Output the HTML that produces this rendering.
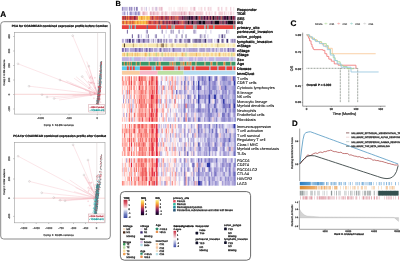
<!DOCTYPE html>
<html><head><meta charset="utf-8"><style>
html,body{margin:0;padding:0;background:#fff;width:400px;height:263px;overflow:hidden;}
svg{display:block;font-family:"Liberation Sans",sans-serif;filter:blur(0.5px);text-rendering:geometricPrecision;}
</style></head><body><svg width="400" height="263" viewBox="0 0 400 263" font-family="Liberation Sans, sans-serif"><text x="0.3" y="17.2" font-size="8.2" fill="#000" font-weight="bold" text-anchor="start" stroke="#000" stroke-width="0.16">A</text><text x="115.6" y="6.0" font-size="7.4" fill="#000" font-weight="bold" text-anchor="start" stroke="#000" stroke-width="0.16">B</text><text x="290.6" y="26.1" font-size="8.2" fill="#000" font-weight="bold" text-anchor="start" stroke="#000" stroke-width="0.16">C</text><text x="291.9" y="126.0" font-size="7.9" fill="#000" font-weight="bold" text-anchor="start" stroke="#000" stroke-width="0.16">D</text><rect x="0.7" y="21.7" width="109.6" height="217.3" rx="3" fill="none" stroke="#8a8a8a" stroke-width="1"/><text x="59.6" y="27.3" font-size="3.08" fill="#000" font-weight="bold" text-anchor="middle" stroke="#000" stroke-width="0.2">PCA for COADREAD combined expression profile before ComBat</text><rect x="14.3" y="32.6" width="91.10000000000001" height="81.5" fill="#fff" stroke="#9c9c9c" stroke-width="0.6"/><line x1="14.3" y1="94.3" x2="105.4" y2="94.3" stroke="#f0a4a4" stroke-width="0.45"/><line x1="97.6" y1="32.6" x2="97.6" y2="114.1" stroke="#d4c8c8" stroke-width="0.45"/><path d="M97.6 94.3L72.7 35.7M97.6 94.3L18 63.8M97.6 94.3L29 86.2M97.6 94.3L42 94.7M97.6 94.3L54.1 98.5M97.6 94.3L88.8 66.1M97.6 94.3L82.2 76.6M97.6 94.3L60 80M97.6 94.3L47 97M97.6 94.3l-21.4 -17.5M97.6 94.3l-25.0 1.4M97.6 94.3l-23.5 -16.0M97.6 94.3l-11.8 -23.5M97.6 94.3l-31.4 -13.5M97.6 94.3l-6.5 -19.4M97.6 94.3l-10.8 -32.9M97.6 94.3l-12.6 -4.0M97.6 94.3l-38.6 5.7M97.6 94.3l-27.3 -10.5" stroke="#f2b8be" stroke-width="0.35" fill="none"/><path d="M71.8 35.7a0.9 0.9 0 1 0 1.8 0a0.9 0.9 0 1 0 -1.8 0M17.1 63.8a0.9 0.9 0 1 0 1.8 0a0.9 0.9 0 1 0 -1.8 0M28.1 86.2a0.9 0.9 0 1 0 1.8 0a0.9 0.9 0 1 0 -1.8 0M41.1 94.7a0.9 0.9 0 1 0 1.8 0a0.9 0.9 0 1 0 -1.8 0M53.2 98.5a0.9 0.9 0 1 0 1.8 0a0.9 0.9 0 1 0 -1.8 0M87.9 66.1a0.9 0.9 0 1 0 1.8 0a0.9 0.9 0 1 0 -1.8 0M81.3 76.6a0.9 0.9 0 1 0 1.8 0a0.9 0.9 0 1 0 -1.8 0M59.1 80.0a0.9 0.9 0 1 0 1.8 0a0.9 0.9 0 1 0 -1.8 0M46.1 97.0a0.9 0.9 0 1 0 1.8 0a0.9 0.9 0 1 0 -1.8 0" fill="none" stroke="#a09a9a" stroke-width="0.3" stroke-opacity="0.9"/><path d="M90.0 76.7a0.5 0.5 0 1 0 1.0 0a0.5 0.5 0 1 0 -1.0 0M94.4 77.8a0.5 0.5 0 1 0 1.0 0a0.5 0.5 0 1 0 -1.0 0M90.4 82.6a0.5 0.5 0 1 0 1.0 0a0.5 0.5 0 1 0 -1.0 0M88.5 88.4a0.5 0.5 0 1 0 1.0 0a0.5 0.5 0 1 0 -1.0 0M93.4 98.2a0.5 0.5 0 1 0 1.0 0a0.5 0.5 0 1 0 -1.0 0M94.3 92.9a0.5 0.5 0 1 0 1.0 0a0.5 0.5 0 1 0 -1.0 0M94.1 93.5a0.5 0.5 0 1 0 1.0 0a0.5 0.5 0 1 0 -1.0 0M93.6 83.5a0.5 0.5 0 1 0 1.0 0a0.5 0.5 0 1 0 -1.0 0M100.1 102.2a0.5 0.5 0 1 0 1.0 0a0.5 0.5 0 1 0 -1.0 0M98.2 94.7a0.5 0.5 0 1 0 1.0 0a0.5 0.5 0 1 0 -1.0 0M91.9 82.3a0.5 0.5 0 1 0 1.0 0a0.5 0.5 0 1 0 -1.0 0M91.6 78.1a0.5 0.5 0 1 0 1.0 0a0.5 0.5 0 1 0 -1.0 0M97.3 86.7a0.5 0.5 0 1 0 1.0 0a0.5 0.5 0 1 0 -1.0 0M98.3 86.3a0.5 0.5 0 1 0 1.0 0a0.5 0.5 0 1 0 -1.0 0M99.6 98.3a0.5 0.5 0 1 0 1.0 0a0.5 0.5 0 1 0 -1.0 0M88.1 81.8a0.5 0.5 0 1 0 1.0 0a0.5 0.5 0 1 0 -1.0 0M99.0 88.5a0.5 0.5 0 1 0 1.0 0a0.5 0.5 0 1 0 -1.0 0M99.9 86.6a0.5 0.5 0 1 0 1.0 0a0.5 0.5 0 1 0 -1.0 0M89.0 92.7a0.5 0.5 0 1 0 1.0 0a0.5 0.5 0 1 0 -1.0 0M97.4 83.3a0.5 0.5 0 1 0 1.0 0a0.5 0.5 0 1 0 -1.0 0M89.1 84.9a0.5 0.5 0 1 0 1.0 0a0.5 0.5 0 1 0 -1.0 0M99.7 96.0a0.5 0.5 0 1 0 1.0 0a0.5 0.5 0 1 0 -1.0 0M89.5 82.7a0.5 0.5 0 1 0 1.0 0a0.5 0.5 0 1 0 -1.0 0M89.3 77.9a0.5 0.5 0 1 0 1.0 0a0.5 0.5 0 1 0 -1.0 0M97.7 80.9a0.5 0.5 0 1 0 1.0 0a0.5 0.5 0 1 0 -1.0 0M94.8 87.9a0.5 0.5 0 1 0 1.0 0a0.5 0.5 0 1 0 -1.0 0M90.4 95.3a0.5 0.5 0 1 0 1.0 0a0.5 0.5 0 1 0 -1.0 0M89.7 93.0a0.5 0.5 0 1 0 1.0 0a0.5 0.5 0 1 0 -1.0 0M89.5 87.2a0.5 0.5 0 1 0 1.0 0a0.5 0.5 0 1 0 -1.0 0M90.7 83.3a0.5 0.5 0 1 0 1.0 0a0.5 0.5 0 1 0 -1.0 0" fill="none" stroke="#e88090" stroke-width="0.3" stroke-opacity="0.8"/><path d="M100.75 61L101.55000000000001 61L101.05000000000001 82L99.35 82Z" fill="#667070" fill-opacity="0.65"/><path d="M100.5 81.4a0.45 0.45 0 1 0 0.9 0a0.45 0.45 0 1 0 -0.9 0M99.2 79.6a0.45 0.45 0 1 0 0.9 0a0.45 0.45 0 1 0 -0.9 0M100.2 78.9a0.45 0.45 0 1 0 0.9 0a0.45 0.45 0 1 0 -0.9 0M99.1 81.8a0.45 0.45 0 1 0 0.9 0a0.45 0.45 0 1 0 -0.9 0M99.6 77.2a0.45 0.45 0 1 0 0.9 0a0.45 0.45 0 1 0 -0.9 0M100.0 62.5a0.45 0.45 0 1 0 0.9 0a0.45 0.45 0 1 0 -0.9 0M100.6 66.1a0.45 0.45 0 1 0 0.9 0a0.45 0.45 0 1 0 -0.9 0M101.1 70.5a0.45 0.45 0 1 0 0.9 0a0.45 0.45 0 1 0 -0.9 0M100.9 73.1a0.45 0.45 0 1 0 0.9 0a0.45 0.45 0 1 0 -0.9 0M100.1 79.5a0.45 0.45 0 1 0 0.9 0a0.45 0.45 0 1 0 -0.9 0M100.8 66.0a0.45 0.45 0 1 0 0.9 0a0.45 0.45 0 1 0 -0.9 0M100.1 78.3a0.45 0.45 0 1 0 0.9 0a0.45 0.45 0 1 0 -0.9 0M100.9 64.7a0.45 0.45 0 1 0 0.9 0a0.45 0.45 0 1 0 -0.9 0M99.7 65.3a0.45 0.45 0 1 0 0.9 0a0.45 0.45 0 1 0 -0.9 0M99.4 70.4a0.45 0.45 0 1 0 0.9 0a0.45 0.45 0 1 0 -0.9 0M100.5 68.7a0.45 0.45 0 1 0 0.9 0a0.45 0.45 0 1 0 -0.9 0M100.5 74.8a0.45 0.45 0 1 0 0.9 0a0.45 0.45 0 1 0 -0.9 0M99.8 63.9a0.45 0.45 0 1 0 0.9 0a0.45 0.45 0 1 0 -0.9 0M100.9 61.4a0.45 0.45 0 1 0 0.9 0a0.45 0.45 0 1 0 -0.9 0M100.9 77.7a0.45 0.45 0 1 0 0.9 0a0.45 0.45 0 1 0 -0.9 0M100.4 73.0a0.45 0.45 0 1 0 0.9 0a0.45 0.45 0 1 0 -0.9 0M100.4 73.2a0.45 0.45 0 1 0 0.9 0a0.45 0.45 0 1 0 -0.9 0M101.0 62.8a0.45 0.45 0 1 0 0.9 0a0.45 0.45 0 1 0 -0.9 0M100.1 73.6a0.45 0.45 0 1 0 0.9 0a0.45 0.45 0 1 0 -0.9 0M100.0 75.7a0.45 0.45 0 1 0 0.9 0a0.45 0.45 0 1 0 -0.9 0M99.3 80.3a0.45 0.45 0 1 0 0.9 0a0.45 0.45 0 1 0 -0.9 0M100.7 67.3a0.45 0.45 0 1 0 0.9 0a0.45 0.45 0 1 0 -0.9 0M101.2 64.6a0.45 0.45 0 1 0 0.9 0a0.45 0.45 0 1 0 -0.9 0M101.0 70.3a0.45 0.45 0 1 0 0.9 0a0.45 0.45 0 1 0 -0.9 0M99.4 75.0a0.45 0.45 0 1 0 0.9 0a0.45 0.45 0 1 0 -0.9 0M100.5 69.1a0.45 0.45 0 1 0 0.9 0a0.45 0.45 0 1 0 -0.9 0M99.9 66.8a0.45 0.45 0 1 0 0.9 0a0.45 0.45 0 1 0 -0.9 0M99.9 66.8a0.45 0.45 0 1 0 0.9 0a0.45 0.45 0 1 0 -0.9 0M100.1 74.1a0.45 0.45 0 1 0 0.9 0a0.45 0.45 0 1 0 -0.9 0M101.0 78.6a0.45 0.45 0 1 0 0.9 0a0.45 0.45 0 1 0 -0.9 0M101.0 61.9a0.45 0.45 0 1 0 0.9 0a0.45 0.45 0 1 0 -0.9 0M100.9 67.5a0.45 0.45 0 1 0 0.9 0a0.45 0.45 0 1 0 -0.9 0M100.5 63.9a0.45 0.45 0 1 0 0.9 0a0.45 0.45 0 1 0 -0.9 0M99.3 78.4a0.45 0.45 0 1 0 0.9 0a0.45 0.45 0 1 0 -0.9 0M100.9 62.0a0.45 0.45 0 1 0 0.9 0a0.45 0.45 0 1 0 -0.9 0M100.2 81.1a0.45 0.45 0 1 0 0.9 0a0.45 0.45 0 1 0 -0.9 0M99.6 71.0a0.45 0.45 0 1 0 0.9 0a0.45 0.45 0 1 0 -0.9 0M100.7 70.9a0.45 0.45 0 1 0 0.9 0a0.45 0.45 0 1 0 -0.9 0M100.2 66.7a0.45 0.45 0 1 0 0.9 0a0.45 0.45 0 1 0 -0.9 0M100.5 63.7a0.45 0.45 0 1 0 0.9 0a0.45 0.45 0 1 0 -0.9 0M99.5 80.1a0.45 0.45 0 1 0 0.9 0a0.45 0.45 0 1 0 -0.9 0M100.5 70.7a0.45 0.45 0 1 0 0.9 0a0.45 0.45 0 1 0 -0.9 0M100.7 76.2a0.45 0.45 0 1 0 0.9 0a0.45 0.45 0 1 0 -0.9 0M100.9 81.6a0.45 0.45 0 1 0 0.9 0a0.45 0.45 0 1 0 -0.9 0M99.5 79.0a0.45 0.45 0 1 0 0.9 0a0.45 0.45 0 1 0 -0.9 0M101.1 62.3a0.45 0.45 0 1 0 0.9 0a0.45 0.45 0 1 0 -0.9 0M100.9 68.0a0.45 0.45 0 1 0 0.9 0a0.45 0.45 0 1 0 -0.9 0M101.1 71.3a0.45 0.45 0 1 0 0.9 0a0.45 0.45 0 1 0 -0.9 0M100.5 65.6a0.45 0.45 0 1 0 0.9 0a0.45 0.45 0 1 0 -0.9 0M100.3 76.3a0.45 0.45 0 1 0 0.9 0a0.45 0.45 0 1 0 -0.9 0M100.0 78.7a0.45 0.45 0 1 0 0.9 0a0.45 0.45 0 1 0 -0.9 0M100.3 72.0a0.45 0.45 0 1 0 0.9 0a0.45 0.45 0 1 0 -0.9 0M100.2 72.3a0.45 0.45 0 1 0 0.9 0a0.45 0.45 0 1 0 -0.9 0M101.4 61.6a0.45 0.45 0 1 0 0.9 0a0.45 0.45 0 1 0 -0.9 0M100.9 69.4a0.45 0.45 0 1 0 0.9 0a0.45 0.45 0 1 0 -0.9 0M100.6 71.3a0.45 0.45 0 1 0 0.9 0a0.45 0.45 0 1 0 -0.9 0M99.3 80.4a0.45 0.45 0 1 0 0.9 0a0.45 0.45 0 1 0 -0.9 0M99.8 79.9a0.45 0.45 0 1 0 0.9 0a0.45 0.45 0 1 0 -0.9 0M101.0 63.7a0.45 0.45 0 1 0 0.9 0a0.45 0.45 0 1 0 -0.9 0M100.1 65.1a0.45 0.45 0 1 0 0.9 0a0.45 0.45 0 1 0 -0.9 0M100.1 67.8a0.45 0.45 0 1 0 0.9 0a0.45 0.45 0 1 0 -0.9 0M101.0 63.2a0.45 0.45 0 1 0 0.9 0a0.45 0.45 0 1 0 -0.9 0M99.7 71.7a0.45 0.45 0 1 0 0.9 0a0.45 0.45 0 1 0 -0.9 0M100.1 72.1a0.45 0.45 0 1 0 0.9 0a0.45 0.45 0 1 0 -0.9 0M100.4 69.7a0.45 0.45 0 1 0 0.9 0a0.45 0.45 0 1 0 -0.9 0M100.7 65.3a0.45 0.45 0 1 0 0.9 0a0.45 0.45 0 1 0 -0.9 0M100.9 72.1a0.45 0.45 0 1 0 0.9 0a0.45 0.45 0 1 0 -0.9 0M100.8 78.0a0.45 0.45 0 1 0 0.9 0a0.45 0.45 0 1 0 -0.9 0M101.2 67.6a0.45 0.45 0 1 0 0.9 0a0.45 0.45 0 1 0 -0.9 0M100.7 82.0a0.45 0.45 0 1 0 0.9 0a0.45 0.45 0 1 0 -0.9 0M100.9 66.0a0.45 0.45 0 1 0 0.9 0a0.45 0.45 0 1 0 -0.9 0M101.1 63.0a0.45 0.45 0 1 0 0.9 0a0.45 0.45 0 1 0 -0.9 0M99.1 77.6a0.45 0.45 0 1 0 0.9 0a0.45 0.45 0 1 0 -0.9 0M99.0 75.4a0.45 0.45 0 1 0 0.9 0a0.45 0.45 0 1 0 -0.9 0M100.6 71.6a0.45 0.45 0 1 0 0.9 0a0.45 0.45 0 1 0 -0.9 0M100.0 62.5a0.45 0.45 0 1 0 0.9 0a0.45 0.45 0 1 0 -0.9 0M100.2 72.6a0.45 0.45 0 1 0 0.9 0a0.45 0.45 0 1 0 -0.9 0M100.0 64.1a0.45 0.45 0 1 0 0.9 0a0.45 0.45 0 1 0 -0.9 0M100.8 70.7a0.45 0.45 0 1 0 0.9 0a0.45 0.45 0 1 0 -0.9 0M100.3 70.8a0.45 0.45 0 1 0 0.9 0a0.45 0.45 0 1 0 -0.9 0M99.2 78.7a0.45 0.45 0 1 0 0.9 0a0.45 0.45 0 1 0 -0.9 0M99.8 76.5a0.45 0.45 0 1 0 0.9 0a0.45 0.45 0 1 0 -0.9 0M100.6 64.5a0.45 0.45 0 1 0 0.9 0a0.45 0.45 0 1 0 -0.9 0M100.2 79.1a0.45 0.45 0 1 0 0.9 0a0.45 0.45 0 1 0 -0.9 0M100.7 69.5a0.45 0.45 0 1 0 0.9 0a0.45 0.45 0 1 0 -0.9 0M100.3 68.2a0.45 0.45 0 1 0 0.9 0a0.45 0.45 0 1 0 -0.9 0M100.6 68.5a0.45 0.45 0 1 0 0.9 0a0.45 0.45 0 1 0 -0.9 0M101.2 65.9a0.45 0.45 0 1 0 0.9 0a0.45 0.45 0 1 0 -0.9 0M100.7 68.1a0.45 0.45 0 1 0 0.9 0a0.45 0.45 0 1 0 -0.9 0M98.6 81.6a0.45 0.45 0 1 0 0.9 0a0.45 0.45 0 1 0 -0.9 0M99.5 76.5a0.45 0.45 0 1 0 0.9 0a0.45 0.45 0 1 0 -0.9 0M100.2 62.1a0.45 0.45 0 1 0 0.9 0a0.45 0.45 0 1 0 -0.9 0M101.2 72.9a0.45 0.45 0 1 0 0.9 0a0.45 0.45 0 1 0 -0.9 0M99.0 78.0a0.45 0.45 0 1 0 0.9 0a0.45 0.45 0 1 0 -0.9 0M100.5 64.4a0.45 0.45 0 1 0 0.9 0a0.45 0.45 0 1 0 -0.9 0M100.4 71.4a0.45 0.45 0 1 0 0.9 0a0.45 0.45 0 1 0 -0.9 0M99.6 80.9a0.45 0.45 0 1 0 0.9 0a0.45 0.45 0 1 0 -0.9 0M99.9 73.6a0.45 0.45 0 1 0 0.9 0a0.45 0.45 0 1 0 -0.9 0M100.2 74.8a0.45 0.45 0 1 0 0.9 0a0.45 0.45 0 1 0 -0.9 0M99.6 76.0a0.45 0.45 0 1 0 0.9 0a0.45 0.45 0 1 0 -0.9 0M99.7 66.1a0.45 0.45 0 1 0 0.9 0a0.45 0.45 0 1 0 -0.9 0M100.2 78.2a0.45 0.45 0 1 0 0.9 0a0.45 0.45 0 1 0 -0.9 0M100.0 74.1a0.45 0.45 0 1 0 0.9 0a0.45 0.45 0 1 0 -0.9 0M100.7 62.1a0.45 0.45 0 1 0 0.9 0a0.45 0.45 0 1 0 -0.9 0M100.6 70.3a0.45 0.45 0 1 0 0.9 0a0.45 0.45 0 1 0 -0.9 0M100.6 66.5a0.45 0.45 0 1 0 0.9 0a0.45 0.45 0 1 0 -0.9 0M100.3 81.0a0.45 0.45 0 1 0 0.9 0a0.45 0.45 0 1 0 -0.9 0M99.8 74.1a0.45 0.45 0 1 0 0.9 0a0.45 0.45 0 1 0 -0.9 0M100.2 75.4a0.45 0.45 0 1 0 0.9 0a0.45 0.45 0 1 0 -0.9 0M100.6 74.3a0.45 0.45 0 1 0 0.9 0a0.45 0.45 0 1 0 -0.9 0M98.8 79.5a0.45 0.45 0 1 0 0.9 0a0.45 0.45 0 1 0 -0.9 0M100.3 66.7a0.45 0.45 0 1 0 0.9 0a0.45 0.45 0 1 0 -0.9 0M100.7 63.2a0.45 0.45 0 1 0 0.9 0a0.45 0.45 0 1 0 -0.9 0M100.9 62.8a0.45 0.45 0 1 0 0.9 0a0.45 0.45 0 1 0 -0.9 0M99.8 74.3a0.45 0.45 0 1 0 0.9 0a0.45 0.45 0 1 0 -0.9 0M98.9 78.6a0.45 0.45 0 1 0 0.9 0a0.45 0.45 0 1 0 -0.9 0M100.4 65.5a0.45 0.45 0 1 0 0.9 0a0.45 0.45 0 1 0 -0.9 0M99.6 78.0a0.45 0.45 0 1 0 0.9 0a0.45 0.45 0 1 0 -0.9 0M99.3 81.8a0.45 0.45 0 1 0 0.9 0a0.45 0.45 0 1 0 -0.9 0M100.9 76.7a0.45 0.45 0 1 0 0.9 0a0.45 0.45 0 1 0 -0.9 0M100.0 62.6a0.45 0.45 0 1 0 0.9 0a0.45 0.45 0 1 0 -0.9 0M100.6 71.2a0.45 0.45 0 1 0 0.9 0a0.45 0.45 0 1 0 -0.9 0M99.0 77.3a0.45 0.45 0 1 0 0.9 0a0.45 0.45 0 1 0 -0.9 0M99.2 74.9a0.45 0.45 0 1 0 0.9 0a0.45 0.45 0 1 0 -0.9 0M100.4 76.2a0.45 0.45 0 1 0 0.9 0a0.45 0.45 0 1 0 -0.9 0M100.1 67.4a0.45 0.45 0 1 0 0.9 0a0.45 0.45 0 1 0 -0.9 0" fill="#667070" fill-opacity="0.85"/><path d="M101.2 64.2a0.45 0.45 0 1 0 0.9 0a0.45 0.45 0 1 0 -0.9 0M99.9 66.2a0.45 0.45 0 1 0 0.9 0a0.45 0.45 0 1 0 -0.9 0M100.6 65.8a0.45 0.45 0 1 0 0.9 0a0.45 0.45 0 1 0 -0.9 0M100.7 62.6a0.45 0.45 0 1 0 0.9 0a0.45 0.45 0 1 0 -0.9 0M100.4 79.9a0.45 0.45 0 1 0 0.9 0a0.45 0.45 0 1 0 -0.9 0M100.9 75.4a0.45 0.45 0 1 0 0.9 0a0.45 0.45 0 1 0 -0.9 0M100.8 69.8a0.45 0.45 0 1 0 0.9 0a0.45 0.45 0 1 0 -0.9 0M101.1 74.4a0.45 0.45 0 1 0 0.9 0a0.45 0.45 0 1 0 -0.9 0M99.8 76.3a0.45 0.45 0 1 0 0.9 0a0.45 0.45 0 1 0 -0.9 0M100.0 73.2a0.45 0.45 0 1 0 0.9 0a0.45 0.45 0 1 0 -0.9 0M100.9 77.9a0.45 0.45 0 1 0 0.9 0a0.45 0.45 0 1 0 -0.9 0M100.6 63.9a0.45 0.45 0 1 0 0.9 0a0.45 0.45 0 1 0 -0.9 0M99.9 62.6a0.45 0.45 0 1 0 0.9 0a0.45 0.45 0 1 0 -0.9 0M100.4 74.2a0.45 0.45 0 1 0 0.9 0a0.45 0.45 0 1 0 -0.9 0M100.4 71.9a0.45 0.45 0 1 0 0.9 0a0.45 0.45 0 1 0 -0.9 0M101.3 62.8a0.45 0.45 0 1 0 0.9 0a0.45 0.45 0 1 0 -0.9 0M99.4 76.1a0.45 0.45 0 1 0 0.9 0a0.45 0.45 0 1 0 -0.9 0M100.4 70.3a0.45 0.45 0 1 0 0.9 0a0.45 0.45 0 1 0 -0.9 0M99.3 71.2a0.45 0.45 0 1 0 0.9 0a0.45 0.45 0 1 0 -0.9 0M100.6 64.1a0.45 0.45 0 1 0 0.9 0a0.45 0.45 0 1 0 -0.9 0M100.5 63.7a0.45 0.45 0 1 0 0.9 0a0.45 0.45 0 1 0 -0.9 0M99.3 79.0a0.45 0.45 0 1 0 0.9 0a0.45 0.45 0 1 0 -0.9 0M100.6 63.4a0.45 0.45 0 1 0 0.9 0a0.45 0.45 0 1 0 -0.9 0M99.1 73.6a0.45 0.45 0 1 0 0.9 0a0.45 0.45 0 1 0 -0.9 0M100.5 79.8a0.45 0.45 0 1 0 0.9 0a0.45 0.45 0 1 0 -0.9 0M100.6 76.6a0.45 0.45 0 1 0 0.9 0a0.45 0.45 0 1 0 -0.9 0M101.1 69.5a0.45 0.45 0 1 0 0.9 0a0.45 0.45 0 1 0 -0.9 0M100.6 75.6a0.45 0.45 0 1 0 0.9 0a0.45 0.45 0 1 0 -0.9 0M100.5 74.5a0.45 0.45 0 1 0 0.9 0a0.45 0.45 0 1 0 -0.9 0M99.7 76.8a0.45 0.45 0 1 0 0.9 0a0.45 0.45 0 1 0 -0.9 0M101.2 63.4a0.45 0.45 0 1 0 0.9 0a0.45 0.45 0 1 0 -0.9 0M100.2 65.4a0.45 0.45 0 1 0 0.9 0a0.45 0.45 0 1 0 -0.9 0M100.2 78.0a0.45 0.45 0 1 0 0.9 0a0.45 0.45 0 1 0 -0.9 0M99.6 68.8a0.45 0.45 0 1 0 0.9 0a0.45 0.45 0 1 0 -0.9 0M100.3 64.0a0.45 0.45 0 1 0 0.9 0a0.45 0.45 0 1 0 -0.9 0M99.7 68.7a0.45 0.45 0 1 0 0.9 0a0.45 0.45 0 1 0 -0.9 0M99.7 80.2a0.45 0.45 0 1 0 0.9 0a0.45 0.45 0 1 0 -0.9 0" fill="#d84a5a" fill-opacity="0.85"/><path d="M99.1 80.7a0.45 0.45 0 1 0 0.9 0a0.45 0.45 0 1 0 -0.9 0M99.9 63.2a0.45 0.45 0 1 0 0.9 0a0.45 0.45 0 1 0 -0.9 0M99.7 73.9a0.45 0.45 0 1 0 0.9 0a0.45 0.45 0 1 0 -0.9 0M101.1 68.6a0.45 0.45 0 1 0 0.9 0a0.45 0.45 0 1 0 -0.9 0M100.3 80.1a0.45 0.45 0 1 0 0.9 0a0.45 0.45 0 1 0 -0.9 0M99.6 76.3a0.45 0.45 0 1 0 0.9 0a0.45 0.45 0 1 0 -0.9 0M100.4 78.8a0.45 0.45 0 1 0 0.9 0a0.45 0.45 0 1 0 -0.9 0M100.9 69.3a0.45 0.45 0 1 0 0.9 0a0.45 0.45 0 1 0 -0.9 0M100.5 79.5a0.45 0.45 0 1 0 0.9 0a0.45 0.45 0 1 0 -0.9 0M99.6 77.6a0.45 0.45 0 1 0 0.9 0a0.45 0.45 0 1 0 -0.9 0M100.3 78.6a0.45 0.45 0 1 0 0.9 0a0.45 0.45 0 1 0 -0.9 0M101.0 69.0a0.45 0.45 0 1 0 0.9 0a0.45 0.45 0 1 0 -0.9 0M101.1 65.4a0.45 0.45 0 1 0 0.9 0a0.45 0.45 0 1 0 -0.9 0M100.0 72.3a0.45 0.45 0 1 0 0.9 0a0.45 0.45 0 1 0 -0.9 0M100.7 65.0a0.45 0.45 0 1 0 0.9 0a0.45 0.45 0 1 0 -0.9 0M100.9 75.3a0.45 0.45 0 1 0 0.9 0a0.45 0.45 0 1 0 -0.9 0M101.0 78.6a0.45 0.45 0 1 0 0.9 0a0.45 0.45 0 1 0 -0.9 0M99.9 63.0a0.45 0.45 0 1 0 0.9 0a0.45 0.45 0 1 0 -0.9 0M100.1 73.6a0.45 0.45 0 1 0 0.9 0a0.45 0.45 0 1 0 -0.9 0M99.4 77.9a0.45 0.45 0 1 0 0.9 0a0.45 0.45 0 1 0 -0.9 0M100.0 72.2a0.45 0.45 0 1 0 0.9 0a0.45 0.45 0 1 0 -0.9 0M100.2 63.1a0.45 0.45 0 1 0 0.9 0a0.45 0.45 0 1 0 -0.9 0M100.2 72.6a0.45 0.45 0 1 0 0.9 0a0.45 0.45 0 1 0 -0.9 0M99.0 76.9a0.45 0.45 0 1 0 0.9 0a0.45 0.45 0 1 0 -0.9 0M99.0 76.7a0.45 0.45 0 1 0 0.9 0a0.45 0.45 0 1 0 -0.9 0M98.8 80.8a0.45 0.45 0 1 0 0.9 0a0.45 0.45 0 1 0 -0.9 0M100.2 70.0a0.45 0.45 0 1 0 0.9 0a0.45 0.45 0 1 0 -0.9 0M100.5 66.1a0.45 0.45 0 1 0 0.9 0a0.45 0.45 0 1 0 -0.9 0M99.9 76.2a0.45 0.45 0 1 0 0.9 0a0.45 0.45 0 1 0 -0.9 0M100.0 77.3a0.45 0.45 0 1 0 0.9 0a0.45 0.45 0 1 0 -0.9 0M101.3 66.2a0.45 0.45 0 1 0 0.9 0a0.45 0.45 0 1 0 -0.9 0M101.0 73.0a0.45 0.45 0 1 0 0.9 0a0.45 0.45 0 1 0 -0.9 0" fill="#44b4bc" fill-opacity="0.85"/><path d="M99.35 82L101.05000000000001 82L98.45 106L96.35 106Z" fill="#667070" fill-opacity="0.65"/><path d="M98.2 104.4a0.45 0.45 0 1 0 0.9 0a0.45 0.45 0 1 0 -0.9 0M98.4 90.7a0.45 0.45 0 1 0 0.9 0a0.45 0.45 0 1 0 -0.9 0M98.4 91.5a0.45 0.45 0 1 0 0.9 0a0.45 0.45 0 1 0 -0.9 0M97.6 102.1a0.45 0.45 0 1 0 0.9 0a0.45 0.45 0 1 0 -0.9 0M98.7 100.2a0.45 0.45 0 1 0 0.9 0a0.45 0.45 0 1 0 -0.9 0M96.4 100.9a0.45 0.45 0 1 0 0.9 0a0.45 0.45 0 1 0 -0.9 0M98.8 99.7a0.45 0.45 0 1 0 0.9 0a0.45 0.45 0 1 0 -0.9 0M97.3 97.6a0.45 0.45 0 1 0 0.9 0a0.45 0.45 0 1 0 -0.9 0M98.4 92.1a0.45 0.45 0 1 0 0.9 0a0.45 0.45 0 1 0 -0.9 0M99.0 99.8a0.45 0.45 0 1 0 0.9 0a0.45 0.45 0 1 0 -0.9 0M98.6 86.0a0.45 0.45 0 1 0 0.9 0a0.45 0.45 0 1 0 -0.9 0M100.1 89.0a0.45 0.45 0 1 0 0.9 0a0.45 0.45 0 1 0 -0.9 0M96.7 100.6a0.45 0.45 0 1 0 0.9 0a0.45 0.45 0 1 0 -0.9 0M98.7 82.9a0.45 0.45 0 1 0 0.9 0a0.45 0.45 0 1 0 -0.9 0M97.4 96.3a0.45 0.45 0 1 0 0.9 0a0.45 0.45 0 1 0 -0.9 0M97.0 105.0a0.45 0.45 0 1 0 0.9 0a0.45 0.45 0 1 0 -0.9 0M97.9 87.7a0.45 0.45 0 1 0 0.9 0a0.45 0.45 0 1 0 -0.9 0M97.1 96.5a0.45 0.45 0 1 0 0.9 0a0.45 0.45 0 1 0 -0.9 0M99.1 88.4a0.45 0.45 0 1 0 0.9 0a0.45 0.45 0 1 0 -0.9 0M98.3 102.3a0.45 0.45 0 1 0 0.9 0a0.45 0.45 0 1 0 -0.9 0M99.5 88.5a0.45 0.45 0 1 0 0.9 0a0.45 0.45 0 1 0 -0.9 0M99.0 96.1a0.45 0.45 0 1 0 0.9 0a0.45 0.45 0 1 0 -0.9 0M100.3 84.2a0.45 0.45 0 1 0 0.9 0a0.45 0.45 0 1 0 -0.9 0M98.3 95.0a0.45 0.45 0 1 0 0.9 0a0.45 0.45 0 1 0 -0.9 0M96.9 102.0a0.45 0.45 0 1 0 0.9 0a0.45 0.45 0 1 0 -0.9 0M99.1 83.8a0.45 0.45 0 1 0 0.9 0a0.45 0.45 0 1 0 -0.9 0M99.2 84.5a0.45 0.45 0 1 0 0.9 0a0.45 0.45 0 1 0 -0.9 0M99.2 87.7a0.45 0.45 0 1 0 0.9 0a0.45 0.45 0 1 0 -0.9 0M99.5 87.0a0.45 0.45 0 1 0 0.9 0a0.45 0.45 0 1 0 -0.9 0M98.8 91.0a0.45 0.45 0 1 0 0.9 0a0.45 0.45 0 1 0 -0.9 0M98.6 84.2a0.45 0.45 0 1 0 0.9 0a0.45 0.45 0 1 0 -0.9 0M98.4 98.3a0.45 0.45 0 1 0 0.9 0a0.45 0.45 0 1 0 -0.9 0M98.8 84.2a0.45 0.45 0 1 0 0.9 0a0.45 0.45 0 1 0 -0.9 0M99.2 85.0a0.45 0.45 0 1 0 0.9 0a0.45 0.45 0 1 0 -0.9 0M98.2 91.3a0.45 0.45 0 1 0 0.9 0a0.45 0.45 0 1 0 -0.9 0M96.8 96.6a0.45 0.45 0 1 0 0.9 0a0.45 0.45 0 1 0 -0.9 0M99.2 90.2a0.45 0.45 0 1 0 0.9 0a0.45 0.45 0 1 0 -0.9 0M97.7 101.8a0.45 0.45 0 1 0 0.9 0a0.45 0.45 0 1 0 -0.9 0M98.8 90.5a0.45 0.45 0 1 0 0.9 0a0.45 0.45 0 1 0 -0.9 0M98.6 99.2a0.45 0.45 0 1 0 0.9 0a0.45 0.45 0 1 0 -0.9 0M97.5 104.7a0.45 0.45 0 1 0 0.9 0a0.45 0.45 0 1 0 -0.9 0M98.6 90.7a0.45 0.45 0 1 0 0.9 0a0.45 0.45 0 1 0 -0.9 0M97.7 101.6a0.45 0.45 0 1 0 0.9 0a0.45 0.45 0 1 0 -0.9 0M99.3 86.5a0.45 0.45 0 1 0 0.9 0a0.45 0.45 0 1 0 -0.9 0M97.6 104.5a0.45 0.45 0 1 0 0.9 0a0.45 0.45 0 1 0 -0.9 0M98.5 98.1a0.45 0.45 0 1 0 0.9 0a0.45 0.45 0 1 0 -0.9 0M98.9 96.2a0.45 0.45 0 1 0 0.9 0a0.45 0.45 0 1 0 -0.9 0M99.1 86.8a0.45 0.45 0 1 0 0.9 0a0.45 0.45 0 1 0 -0.9 0M98.8 91.3a0.45 0.45 0 1 0 0.9 0a0.45 0.45 0 1 0 -0.9 0M99.2 90.0a0.45 0.45 0 1 0 0.9 0a0.45 0.45 0 1 0 -0.9 0M98.0 96.4a0.45 0.45 0 1 0 0.9 0a0.45 0.45 0 1 0 -0.9 0M98.4 102.1a0.45 0.45 0 1 0 0.9 0a0.45 0.45 0 1 0 -0.9 0M98.3 94.6a0.45 0.45 0 1 0 0.9 0a0.45 0.45 0 1 0 -0.9 0M96.7 103.7a0.45 0.45 0 1 0 0.9 0a0.45 0.45 0 1 0 -0.9 0M98.7 96.3a0.45 0.45 0 1 0 0.9 0a0.45 0.45 0 1 0 -0.9 0M97.0 96.2a0.45 0.45 0 1 0 0.9 0a0.45 0.45 0 1 0 -0.9 0M98.5 92.7a0.45 0.45 0 1 0 0.9 0a0.45 0.45 0 1 0 -0.9 0M98.6 87.7a0.45 0.45 0 1 0 0.9 0a0.45 0.45 0 1 0 -0.9 0M99.4 92.1a0.45 0.45 0 1 0 0.9 0a0.45 0.45 0 1 0 -0.9 0M100.2 84.4a0.45 0.45 0 1 0 0.9 0a0.45 0.45 0 1 0 -0.9 0M99.4 94.9a0.45 0.45 0 1 0 0.9 0a0.45 0.45 0 1 0 -0.9 0M98.6 87.9a0.45 0.45 0 1 0 0.9 0a0.45 0.45 0 1 0 -0.9 0M96.9 105.5a0.45 0.45 0 1 0 0.9 0a0.45 0.45 0 1 0 -0.9 0M100.0 86.7a0.45 0.45 0 1 0 0.9 0a0.45 0.45 0 1 0 -0.9 0M100.2 86.6a0.45 0.45 0 1 0 0.9 0a0.45 0.45 0 1 0 -0.9 0M100.0 84.5a0.45 0.45 0 1 0 0.9 0a0.45 0.45 0 1 0 -0.9 0M97.4 92.7a0.45 0.45 0 1 0 0.9 0a0.45 0.45 0 1 0 -0.9 0M99.4 89.4a0.45 0.45 0 1 0 0.9 0a0.45 0.45 0 1 0 -0.9 0M97.5 103.2a0.45 0.45 0 1 0 0.9 0a0.45 0.45 0 1 0 -0.9 0M99.3 88.6a0.45 0.45 0 1 0 0.9 0a0.45 0.45 0 1 0 -0.9 0M99.8 91.2a0.45 0.45 0 1 0 0.9 0a0.45 0.45 0 1 0 -0.9 0M100.0 86.2a0.45 0.45 0 1 0 0.9 0a0.45 0.45 0 1 0 -0.9 0M97.3 96.6a0.45 0.45 0 1 0 0.9 0a0.45 0.45 0 1 0 -0.9 0M99.1 87.7a0.45 0.45 0 1 0 0.9 0a0.45 0.45 0 1 0 -0.9 0M98.1 95.9a0.45 0.45 0 1 0 0.9 0a0.45 0.45 0 1 0 -0.9 0M96.4 102.9a0.45 0.45 0 1 0 0.9 0a0.45 0.45 0 1 0 -0.9 0M99.7 82.4a0.45 0.45 0 1 0 0.9 0a0.45 0.45 0 1 0 -0.9 0M99.0 95.0a0.45 0.45 0 1 0 0.9 0a0.45 0.45 0 1 0 -0.9 0M98.9 85.5a0.45 0.45 0 1 0 0.9 0a0.45 0.45 0 1 0 -0.9 0M99.2 88.4a0.45 0.45 0 1 0 0.9 0a0.45 0.45 0 1 0 -0.9 0M96.6 101.7a0.45 0.45 0 1 0 0.9 0a0.45 0.45 0 1 0 -0.9 0M96.4 100.9a0.45 0.45 0 1 0 0.9 0a0.45 0.45 0 1 0 -0.9 0M96.0 105.7a0.45 0.45 0 1 0 0.9 0a0.45 0.45 0 1 0 -0.9 0M96.4 99.9a0.45 0.45 0 1 0 0.9 0a0.45 0.45 0 1 0 -0.9 0M96.3 103.4a0.45 0.45 0 1 0 0.9 0a0.45 0.45 0 1 0 -0.9 0M98.7 89.2a0.45 0.45 0 1 0 0.9 0a0.45 0.45 0 1 0 -0.9 0M97.0 99.6a0.45 0.45 0 1 0 0.9 0a0.45 0.45 0 1 0 -0.9 0M97.5 95.2a0.45 0.45 0 1 0 0.9 0a0.45 0.45 0 1 0 -0.9 0M96.8 104.4a0.45 0.45 0 1 0 0.9 0a0.45 0.45 0 1 0 -0.9 0M97.3 105.5a0.45 0.45 0 1 0 0.9 0a0.45 0.45 0 1 0 -0.9 0M99.0 91.7a0.45 0.45 0 1 0 0.9 0a0.45 0.45 0 1 0 -0.9 0M99.1 96.2a0.45 0.45 0 1 0 0.9 0a0.45 0.45 0 1 0 -0.9 0M99.5 91.4a0.45 0.45 0 1 0 0.9 0a0.45 0.45 0 1 0 -0.9 0M96.8 100.8a0.45 0.45 0 1 0 0.9 0a0.45 0.45 0 1 0 -0.9 0M99.4 86.4a0.45 0.45 0 1 0 0.9 0a0.45 0.45 0 1 0 -0.9 0M98.5 86.9a0.45 0.45 0 1 0 0.9 0a0.45 0.45 0 1 0 -0.9 0M98.8 98.3a0.45 0.45 0 1 0 0.9 0a0.45 0.45 0 1 0 -0.9 0M98.2 90.7a0.45 0.45 0 1 0 0.9 0a0.45 0.45 0 1 0 -0.9 0M98.7 86.4a0.45 0.45 0 1 0 0.9 0a0.45 0.45 0 1 0 -0.9 0M97.8 104.2a0.45 0.45 0 1 0 0.9 0a0.45 0.45 0 1 0 -0.9 0M95.9 103.8a0.45 0.45 0 1 0 0.9 0a0.45 0.45 0 1 0 -0.9 0M99.3 83.3a0.45 0.45 0 1 0 0.9 0a0.45 0.45 0 1 0 -0.9 0M99.2 82.8a0.45 0.45 0 1 0 0.9 0a0.45 0.45 0 1 0 -0.9 0M98.6 85.5a0.45 0.45 0 1 0 0.9 0a0.45 0.45 0 1 0 -0.9 0M97.5 99.1a0.45 0.45 0 1 0 0.9 0a0.45 0.45 0 1 0 -0.9 0M96.6 102.8a0.45 0.45 0 1 0 0.9 0a0.45 0.45 0 1 0 -0.9 0M98.1 90.3a0.45 0.45 0 1 0 0.9 0a0.45 0.45 0 1 0 -0.9 0M98.8 101.4a0.45 0.45 0 1 0 0.9 0a0.45 0.45 0 1 0 -0.9 0M99.0 98.1a0.45 0.45 0 1 0 0.9 0a0.45 0.45 0 1 0 -0.9 0M99.3 84.2a0.45 0.45 0 1 0 0.9 0a0.45 0.45 0 1 0 -0.9 0M99.3 83.4a0.45 0.45 0 1 0 0.9 0a0.45 0.45 0 1 0 -0.9 0M97.8 93.9a0.45 0.45 0 1 0 0.9 0a0.45 0.45 0 1 0 -0.9 0M98.6 91.7a0.45 0.45 0 1 0 0.9 0a0.45 0.45 0 1 0 -0.9 0M97.2 98.0a0.45 0.45 0 1 0 0.9 0a0.45 0.45 0 1 0 -0.9 0M98.6 90.2a0.45 0.45 0 1 0 0.9 0a0.45 0.45 0 1 0 -0.9 0M96.5 98.8a0.45 0.45 0 1 0 0.9 0a0.45 0.45 0 1 0 -0.9 0M97.6 90.7a0.45 0.45 0 1 0 0.9 0a0.45 0.45 0 1 0 -0.9 0M98.0 93.3a0.45 0.45 0 1 0 0.9 0a0.45 0.45 0 1 0 -0.9 0M97.8 96.9a0.45 0.45 0 1 0 0.9 0a0.45 0.45 0 1 0 -0.9 0M99.7 91.2a0.45 0.45 0 1 0 0.9 0a0.45 0.45 0 1 0 -0.9 0M99.4 85.3a0.45 0.45 0 1 0 0.9 0a0.45 0.45 0 1 0 -0.9 0M100.0 90.6a0.45 0.45 0 1 0 0.9 0a0.45 0.45 0 1 0 -0.9 0M98.0 91.5a0.45 0.45 0 1 0 0.9 0a0.45 0.45 0 1 0 -0.9 0M99.6 85.8a0.45 0.45 0 1 0 0.9 0a0.45 0.45 0 1 0 -0.9 0M97.8 95.5a0.45 0.45 0 1 0 0.9 0a0.45 0.45 0 1 0 -0.9 0M97.7 100.0a0.45 0.45 0 1 0 0.9 0a0.45 0.45 0 1 0 -0.9 0M98.6 88.0a0.45 0.45 0 1 0 0.9 0a0.45 0.45 0 1 0 -0.9 0M97.3 94.3a0.45 0.45 0 1 0 0.9 0a0.45 0.45 0 1 0 -0.9 0M96.1 102.9a0.45 0.45 0 1 0 0.9 0a0.45 0.45 0 1 0 -0.9 0M99.1 94.2a0.45 0.45 0 1 0 0.9 0a0.45 0.45 0 1 0 -0.9 0M98.2 101.9a0.45 0.45 0 1 0 0.9 0a0.45 0.45 0 1 0 -0.9 0M99.1 91.0a0.45 0.45 0 1 0 0.9 0a0.45 0.45 0 1 0 -0.9 0M98.4 104.6a0.45 0.45 0 1 0 0.9 0a0.45 0.45 0 1 0 -0.9 0M100.1 83.2a0.45 0.45 0 1 0 0.9 0a0.45 0.45 0 1 0 -0.9 0M95.9 105.8a0.45 0.45 0 1 0 0.9 0a0.45 0.45 0 1 0 -0.9 0M99.8 82.6a0.45 0.45 0 1 0 0.9 0a0.45 0.45 0 1 0 -0.9 0M96.8 102.1a0.45 0.45 0 1 0 0.9 0a0.45 0.45 0 1 0 -0.9 0M96.5 101.2a0.45 0.45 0 1 0 0.9 0a0.45 0.45 0 1 0 -0.9 0M100.5 84.6a0.45 0.45 0 1 0 0.9 0a0.45 0.45 0 1 0 -0.9 0M97.4 93.7a0.45 0.45 0 1 0 0.9 0a0.45 0.45 0 1 0 -0.9 0M99.9 82.5a0.45 0.45 0 1 0 0.9 0a0.45 0.45 0 1 0 -0.9 0M97.4 97.0a0.45 0.45 0 1 0 0.9 0a0.45 0.45 0 1 0 -0.9 0M98.1 93.6a0.45 0.45 0 1 0 0.9 0a0.45 0.45 0 1 0 -0.9 0M97.8 89.4a0.45 0.45 0 1 0 0.9 0a0.45 0.45 0 1 0 -0.9 0M99.7 93.6a0.45 0.45 0 1 0 0.9 0a0.45 0.45 0 1 0 -0.9 0M97.3 102.8a0.45 0.45 0 1 0 0.9 0a0.45 0.45 0 1 0 -0.9 0M97.2 101.4a0.45 0.45 0 1 0 0.9 0a0.45 0.45 0 1 0 -0.9 0M96.8 99.4a0.45 0.45 0 1 0 0.9 0a0.45 0.45 0 1 0 -0.9 0M98.3 86.1a0.45 0.45 0 1 0 0.9 0a0.45 0.45 0 1 0 -0.9 0M99.4 90.6a0.45 0.45 0 1 0 0.9 0a0.45 0.45 0 1 0 -0.9 0M97.0 94.3a0.45 0.45 0 1 0 0.9 0a0.45 0.45 0 1 0 -0.9 0M98.9 100.4a0.45 0.45 0 1 0 0.9 0a0.45 0.45 0 1 0 -0.9 0M100.1 88.0a0.45 0.45 0 1 0 0.9 0a0.45 0.45 0 1 0 -0.9 0M97.4 95.8a0.45 0.45 0 1 0 0.9 0a0.45 0.45 0 1 0 -0.9 0M99.1 90.8a0.45 0.45 0 1 0 0.9 0a0.45 0.45 0 1 0 -0.9 0M100.0 88.7a0.45 0.45 0 1 0 0.9 0a0.45 0.45 0 1 0 -0.9 0M97.0 98.3a0.45 0.45 0 1 0 0.9 0a0.45 0.45 0 1 0 -0.9 0M99.0 85.4a0.45 0.45 0 1 0 0.9 0a0.45 0.45 0 1 0 -0.9 0M99.7 82.2a0.45 0.45 0 1 0 0.9 0a0.45 0.45 0 1 0 -0.9 0M100.1 86.9a0.45 0.45 0 1 0 0.9 0a0.45 0.45 0 1 0 -0.9 0M99.7 92.3a0.45 0.45 0 1 0 0.9 0a0.45 0.45 0 1 0 -0.9 0M99.1 91.8a0.45 0.45 0 1 0 0.9 0a0.45 0.45 0 1 0 -0.9 0M98.0 89.7a0.45 0.45 0 1 0 0.9 0a0.45 0.45 0 1 0 -0.9 0M99.1 91.1a0.45 0.45 0 1 0 0.9 0a0.45 0.45 0 1 0 -0.9 0M98.9 92.9a0.45 0.45 0 1 0 0.9 0a0.45 0.45 0 1 0 -0.9 0" fill="#667070" fill-opacity="0.85"/><path d="M99.0 95.5a0.45 0.45 0 1 0 0.9 0a0.45 0.45 0 1 0 -0.9 0M99.7 82.5a0.45 0.45 0 1 0 0.9 0a0.45 0.45 0 1 0 -0.9 0M99.4 95.6a0.45 0.45 0 1 0 0.9 0a0.45 0.45 0 1 0 -0.9 0M96.3 101.3a0.45 0.45 0 1 0 0.9 0a0.45 0.45 0 1 0 -0.9 0M97.0 97.2a0.45 0.45 0 1 0 0.9 0a0.45 0.45 0 1 0 -0.9 0M97.9 98.1a0.45 0.45 0 1 0 0.9 0a0.45 0.45 0 1 0 -0.9 0M99.4 91.9a0.45 0.45 0 1 0 0.9 0a0.45 0.45 0 1 0 -0.9 0M98.5 103.3a0.45 0.45 0 1 0 0.9 0a0.45 0.45 0 1 0 -0.9 0M97.9 89.4a0.45 0.45 0 1 0 0.9 0a0.45 0.45 0 1 0 -0.9 0M98.5 87.2a0.45 0.45 0 1 0 0.9 0a0.45 0.45 0 1 0 -0.9 0M96.8 103.9a0.45 0.45 0 1 0 0.9 0a0.45 0.45 0 1 0 -0.9 0M98.7 91.2a0.45 0.45 0 1 0 0.9 0a0.45 0.45 0 1 0 -0.9 0M100.2 88.6a0.45 0.45 0 1 0 0.9 0a0.45 0.45 0 1 0 -0.9 0M99.5 90.9a0.45 0.45 0 1 0 0.9 0a0.45 0.45 0 1 0 -0.9 0M97.4 99.2a0.45 0.45 0 1 0 0.9 0a0.45 0.45 0 1 0 -0.9 0M98.0 105.2a0.45 0.45 0 1 0 0.9 0a0.45 0.45 0 1 0 -0.9 0M99.4 82.3a0.45 0.45 0 1 0 0.9 0a0.45 0.45 0 1 0 -0.9 0M98.5 90.1a0.45 0.45 0 1 0 0.9 0a0.45 0.45 0 1 0 -0.9 0M98.3 88.2a0.45 0.45 0 1 0 0.9 0a0.45 0.45 0 1 0 -0.9 0M100.0 89.9a0.45 0.45 0 1 0 0.9 0a0.45 0.45 0 1 0 -0.9 0M99.5 91.7a0.45 0.45 0 1 0 0.9 0a0.45 0.45 0 1 0 -0.9 0M97.0 104.1a0.45 0.45 0 1 0 0.9 0a0.45 0.45 0 1 0 -0.9 0M99.5 82.4a0.45 0.45 0 1 0 0.9 0a0.45 0.45 0 1 0 -0.9 0M97.8 105.6a0.45 0.45 0 1 0 0.9 0a0.45 0.45 0 1 0 -0.9 0M98.7 100.4a0.45 0.45 0 1 0 0.9 0a0.45 0.45 0 1 0 -0.9 0M99.1 99.1a0.45 0.45 0 1 0 0.9 0a0.45 0.45 0 1 0 -0.9 0M98.9 84.0a0.45 0.45 0 1 0 0.9 0a0.45 0.45 0 1 0 -0.9 0M98.4 95.0a0.45 0.45 0 1 0 0.9 0a0.45 0.45 0 1 0 -0.9 0M97.7 94.5a0.45 0.45 0 1 0 0.9 0a0.45 0.45 0 1 0 -0.9 0M98.8 99.4a0.45 0.45 0 1 0 0.9 0a0.45 0.45 0 1 0 -0.9 0M100.1 83.2a0.45 0.45 0 1 0 0.9 0a0.45 0.45 0 1 0 -0.9 0M98.3 91.5a0.45 0.45 0 1 0 0.9 0a0.45 0.45 0 1 0 -0.9 0M96.1 105.9a0.45 0.45 0 1 0 0.9 0a0.45 0.45 0 1 0 -0.9 0M98.2 103.6a0.45 0.45 0 1 0 0.9 0a0.45 0.45 0 1 0 -0.9 0M98.6 86.3a0.45 0.45 0 1 0 0.9 0a0.45 0.45 0 1 0 -0.9 0M97.2 101.0a0.45 0.45 0 1 0 0.9 0a0.45 0.45 0 1 0 -0.9 0M100.0 89.2a0.45 0.45 0 1 0 0.9 0a0.45 0.45 0 1 0 -0.9 0M96.8 105.6a0.45 0.45 0 1 0 0.9 0a0.45 0.45 0 1 0 -0.9 0M97.1 94.7a0.45 0.45 0 1 0 0.9 0a0.45 0.45 0 1 0 -0.9 0M98.5 87.9a0.45 0.45 0 1 0 0.9 0a0.45 0.45 0 1 0 -0.9 0M99.4 86.3a0.45 0.45 0 1 0 0.9 0a0.45 0.45 0 1 0 -0.9 0M98.6 96.3a0.45 0.45 0 1 0 0.9 0a0.45 0.45 0 1 0 -0.9 0M100.5 83.7a0.45 0.45 0 1 0 0.9 0a0.45 0.45 0 1 0 -0.9 0M99.2 89.5a0.45 0.45 0 1 0 0.9 0a0.45 0.45 0 1 0 -0.9 0M97.6 91.2a0.45 0.45 0 1 0 0.9 0a0.45 0.45 0 1 0 -0.9 0M99.4 90.6a0.45 0.45 0 1 0 0.9 0a0.45 0.45 0 1 0 -0.9 0M99.5 89.8a0.45 0.45 0 1 0 0.9 0a0.45 0.45 0 1 0 -0.9 0M98.8 83.0a0.45 0.45 0 1 0 0.9 0a0.45 0.45 0 1 0 -0.9 0M97.3 95.1a0.45 0.45 0 1 0 0.9 0a0.45 0.45 0 1 0 -0.9 0M99.6 88.2a0.45 0.45 0 1 0 0.9 0a0.45 0.45 0 1 0 -0.9 0M100.0 82.6a0.45 0.45 0 1 0 0.9 0a0.45 0.45 0 1 0 -0.9 0M96.6 102.8a0.45 0.45 0 1 0 0.9 0a0.45 0.45 0 1 0 -0.9 0M98.6 96.0a0.45 0.45 0 1 0 0.9 0a0.45 0.45 0 1 0 -0.9 0M99.6 83.3a0.45 0.45 0 1 0 0.9 0a0.45 0.45 0 1 0 -0.9 0M97.5 95.6a0.45 0.45 0 1 0 0.9 0a0.45 0.45 0 1 0 -0.9 0M99.2 86.5a0.45 0.45 0 1 0 0.9 0a0.45 0.45 0 1 0 -0.9 0M96.7 104.9a0.45 0.45 0 1 0 0.9 0a0.45 0.45 0 1 0 -0.9 0M97.9 104.6a0.45 0.45 0 1 0 0.9 0a0.45 0.45 0 1 0 -0.9 0M98.5 86.6a0.45 0.45 0 1 0 0.9 0a0.45 0.45 0 1 0 -0.9 0M97.8 87.6a0.45 0.45 0 1 0 0.9 0a0.45 0.45 0 1 0 -0.9 0M98.1 97.6a0.45 0.45 0 1 0 0.9 0a0.45 0.45 0 1 0 -0.9 0M99.4 89.5a0.45 0.45 0 1 0 0.9 0a0.45 0.45 0 1 0 -0.9 0M98.6 83.6a0.45 0.45 0 1 0 0.9 0a0.45 0.45 0 1 0 -0.9 0M97.1 99.2a0.45 0.45 0 1 0 0.9 0a0.45 0.45 0 1 0 -0.9 0M98.3 102.2a0.45 0.45 0 1 0 0.9 0a0.45 0.45 0 1 0 -0.9 0M99.1 92.1a0.45 0.45 0 1 0 0.9 0a0.45 0.45 0 1 0 -0.9 0M98.0 86.4a0.45 0.45 0 1 0 0.9 0a0.45 0.45 0 1 0 -0.9 0M97.6 98.5a0.45 0.45 0 1 0 0.9 0a0.45 0.45 0 1 0 -0.9 0M99.1 83.0a0.45 0.45 0 1 0 0.9 0a0.45 0.45 0 1 0 -0.9 0M99.2 91.3a0.45 0.45 0 1 0 0.9 0a0.45 0.45 0 1 0 -0.9 0M98.6 95.2a0.45 0.45 0 1 0 0.9 0a0.45 0.45 0 1 0 -0.9 0M95.7 105.0a0.45 0.45 0 1 0 0.9 0a0.45 0.45 0 1 0 -0.9 0M98.3 101.4a0.45 0.45 0 1 0 0.9 0a0.45 0.45 0 1 0 -0.9 0M96.8 104.8a0.45 0.45 0 1 0 0.9 0a0.45 0.45 0 1 0 -0.9 0M99.1 84.3a0.45 0.45 0 1 0 0.9 0a0.45 0.45 0 1 0 -0.9 0M99.8 87.1a0.45 0.45 0 1 0 0.9 0a0.45 0.45 0 1 0 -0.9 0M96.0 105.7a0.45 0.45 0 1 0 0.9 0a0.45 0.45 0 1 0 -0.9 0M98.0 97.1a0.45 0.45 0 1 0 0.9 0a0.45 0.45 0 1 0 -0.9 0M100.3 84.7a0.45 0.45 0 1 0 0.9 0a0.45 0.45 0 1 0 -0.9 0" fill="#d84a5a" fill-opacity="0.85"/><path d="M97.7 100.4a0.45 0.45 0 1 0 0.9 0a0.45 0.45 0 1 0 -0.9 0M98.2 102.5a0.45 0.45 0 1 0 0.9 0a0.45 0.45 0 1 0 -0.9 0M98.8 94.6a0.45 0.45 0 1 0 0.9 0a0.45 0.45 0 1 0 -0.9 0M98.1 88.7a0.45 0.45 0 1 0 0.9 0a0.45 0.45 0 1 0 -0.9 0M99.0 89.5a0.45 0.45 0 1 0 0.9 0a0.45 0.45 0 1 0 -0.9 0M97.8 93.5a0.45 0.45 0 1 0 0.9 0a0.45 0.45 0 1 0 -0.9 0M100.7 83.2a0.45 0.45 0 1 0 0.9 0a0.45 0.45 0 1 0 -0.9 0M98.2 89.7a0.45 0.45 0 1 0 0.9 0a0.45 0.45 0 1 0 -0.9 0M96.2 100.5a0.45 0.45 0 1 0 0.9 0a0.45 0.45 0 1 0 -0.9 0M100.9 82.3a0.45 0.45 0 1 0 0.9 0a0.45 0.45 0 1 0 -0.9 0M97.3 99.4a0.45 0.45 0 1 0 0.9 0a0.45 0.45 0 1 0 -0.9 0M98.6 97.5a0.45 0.45 0 1 0 0.9 0a0.45 0.45 0 1 0 -0.9 0M98.7 91.1a0.45 0.45 0 1 0 0.9 0a0.45 0.45 0 1 0 -0.9 0M96.9 101.8a0.45 0.45 0 1 0 0.9 0a0.45 0.45 0 1 0 -0.9 0M99.3 87.8a0.45 0.45 0 1 0 0.9 0a0.45 0.45 0 1 0 -0.9 0M98.5 97.0a0.45 0.45 0 1 0 0.9 0a0.45 0.45 0 1 0 -0.9 0M97.5 105.2a0.45 0.45 0 1 0 0.9 0a0.45 0.45 0 1 0 -0.9 0M100.5 83.5a0.45 0.45 0 1 0 0.9 0a0.45 0.45 0 1 0 -0.9 0M98.5 83.1a0.45 0.45 0 1 0 0.9 0a0.45 0.45 0 1 0 -0.9 0M100.0 89.1a0.45 0.45 0 1 0 0.9 0a0.45 0.45 0 1 0 -0.9 0M97.6 93.3a0.45 0.45 0 1 0 0.9 0a0.45 0.45 0 1 0 -0.9 0M98.3 88.8a0.45 0.45 0 1 0 0.9 0a0.45 0.45 0 1 0 -0.9 0M99.0 84.1a0.45 0.45 0 1 0 0.9 0a0.45 0.45 0 1 0 -0.9 0M99.6 82.8a0.45 0.45 0 1 0 0.9 0a0.45 0.45 0 1 0 -0.9 0M99.1 90.6a0.45 0.45 0 1 0 0.9 0a0.45 0.45 0 1 0 -0.9 0M98.3 94.4a0.45 0.45 0 1 0 0.9 0a0.45 0.45 0 1 0 -0.9 0M98.4 100.6a0.45 0.45 0 1 0 0.9 0a0.45 0.45 0 1 0 -0.9 0M97.9 92.6a0.45 0.45 0 1 0 0.9 0a0.45 0.45 0 1 0 -0.9 0M99.8 85.8a0.45 0.45 0 1 0 0.9 0a0.45 0.45 0 1 0 -0.9 0M99.6 83.0a0.45 0.45 0 1 0 0.9 0a0.45 0.45 0 1 0 -0.9 0M100.9 82.8a0.45 0.45 0 1 0 0.9 0a0.45 0.45 0 1 0 -0.9 0M99.3 90.2a0.45 0.45 0 1 0 0.9 0a0.45 0.45 0 1 0 -0.9 0M97.6 91.2a0.45 0.45 0 1 0 0.9 0a0.45 0.45 0 1 0 -0.9 0M99.3 82.6a0.45 0.45 0 1 0 0.9 0a0.45 0.45 0 1 0 -0.9 0M99.8 88.6a0.45 0.45 0 1 0 0.9 0a0.45 0.45 0 1 0 -0.9 0M98.4 90.0a0.45 0.45 0 1 0 0.9 0a0.45 0.45 0 1 0 -0.9 0M99.1 98.5a0.45 0.45 0 1 0 0.9 0a0.45 0.45 0 1 0 -0.9 0M99.3 84.7a0.45 0.45 0 1 0 0.9 0a0.45 0.45 0 1 0 -0.9 0M97.5 93.5a0.45 0.45 0 1 0 0.9 0a0.45 0.45 0 1 0 -0.9 0M98.4 89.8a0.45 0.45 0 1 0 0.9 0a0.45 0.45 0 1 0 -0.9 0M98.2 91.0a0.45 0.45 0 1 0 0.9 0a0.45 0.45 0 1 0 -0.9 0M98.6 83.2a0.45 0.45 0 1 0 0.9 0a0.45 0.45 0 1 0 -0.9 0M100.1 88.7a0.45 0.45 0 1 0 0.9 0a0.45 0.45 0 1 0 -0.9 0M96.8 105.9a0.45 0.45 0 1 0 0.9 0a0.45 0.45 0 1 0 -0.9 0M99.4 91.6a0.45 0.45 0 1 0 0.9 0a0.45 0.45 0 1 0 -0.9 0M99.1 90.9a0.45 0.45 0 1 0 0.9 0a0.45 0.45 0 1 0 -0.9 0M99.1 96.8a0.45 0.45 0 1 0 0.9 0a0.45 0.45 0 1 0 -0.9 0" fill="#44b4bc" fill-opacity="0.85"/><path d="M98.2 91.5a0.45 0.45 0 1 0 0.9 0a0.45 0.45 0 1 0 -0.9 0M98.3 99.3a0.45 0.45 0 1 0 0.9 0a0.45 0.45 0 1 0 -0.9 0M98.7 93.0a0.45 0.45 0 1 0 0.9 0a0.45 0.45 0 1 0 -0.9 0M98.7 94.4a0.45 0.45 0 1 0 0.9 0a0.45 0.45 0 1 0 -0.9 0M98.3 93.5a0.45 0.45 0 1 0 0.9 0a0.45 0.45 0 1 0 -0.9 0M97.3 100.9a0.45 0.45 0 1 0 0.9 0a0.45 0.45 0 1 0 -0.9 0M97.3 98.7a0.45 0.45 0 1 0 0.9 0a0.45 0.45 0 1 0 -0.9 0M96.0 105.4a0.45 0.45 0 1 0 0.9 0a0.45 0.45 0 1 0 -0.9 0M100.0 88.3a0.45 0.45 0 1 0 0.9 0a0.45 0.45 0 1 0 -0.9 0M98.9 82.8a0.45 0.45 0 1 0 0.9 0a0.45 0.45 0 1 0 -0.9 0M96.9 98.1a0.45 0.45 0 1 0 0.9 0a0.45 0.45 0 1 0 -0.9 0M97.6 100.0a0.45 0.45 0 1 0 0.9 0a0.45 0.45 0 1 0 -0.9 0M98.7 92.4a0.45 0.45 0 1 0 0.9 0a0.45 0.45 0 1 0 -0.9 0M98.0 87.7a0.45 0.45 0 1 0 0.9 0a0.45 0.45 0 1 0 -0.9 0M97.8 99.9a0.45 0.45 0 1 0 0.9 0a0.45 0.45 0 1 0 -0.9 0M98.9 89.4a0.45 0.45 0 1 0 0.9 0a0.45 0.45 0 1 0 -0.9 0M99.9 85.2a0.45 0.45 0 1 0 0.9 0a0.45 0.45 0 1 0 -0.9 0M100.2 86.5a0.45 0.45 0 1 0 0.9 0a0.45 0.45 0 1 0 -0.9 0M97.9 98.4a0.45 0.45 0 1 0 0.9 0a0.45 0.45 0 1 0 -0.9 0M98.0 90.7a0.45 0.45 0 1 0 0.9 0a0.45 0.45 0 1 0 -0.9 0M98.8 89.4a0.45 0.45 0 1 0 0.9 0a0.45 0.45 0 1 0 -0.9 0M97.9 90.7a0.45 0.45 0 1 0 0.9 0a0.45 0.45 0 1 0 -0.9 0M98.3 98.5a0.45 0.45 0 1 0 0.9 0a0.45 0.45 0 1 0 -0.9 0M99.0 95.5a0.45 0.45 0 1 0 0.9 0a0.45 0.45 0 1 0 -0.9 0M99.7 91.5a0.45 0.45 0 1 0 0.9 0a0.45 0.45 0 1 0 -0.9 0M98.7 96.8a0.45 0.45 0 1 0 0.9 0a0.45 0.45 0 1 0 -0.9 0M98.9 89.7a0.45 0.45 0 1 0 0.9 0a0.45 0.45 0 1 0 -0.9 0M96.6 100.1a0.45 0.45 0 1 0 0.9 0a0.45 0.45 0 1 0 -0.9 0M99.4 88.6a0.45 0.45 0 1 0 0.9 0a0.45 0.45 0 1 0 -0.9 0" fill="#367478" fill-opacity="0.85"/><path d="M98.2 91.4a0.45 0.45 0 1 0 0.9 0a0.45 0.45 0 1 0 -0.9 0M98.8 94.0a0.45 0.45 0 1 0 0.9 0a0.45 0.45 0 1 0 -0.9 0M98.6 94.8a0.45 0.45 0 1 0 0.9 0a0.45 0.45 0 1 0 -0.9 0M99.9 94.3a0.45 0.45 0 1 0 0.9 0a0.45 0.45 0 1 0 -0.9 0M100.3 92.6a0.45 0.45 0 1 0 0.9 0a0.45 0.45 0 1 0 -0.9 0M99.8 90.4a0.45 0.45 0 1 0 0.9 0a0.45 0.45 0 1 0 -0.9 0M100.0 91.6a0.45 0.45 0 1 0 0.9 0a0.45 0.45 0 1 0 -0.9 0M98.2 99.9a0.45 0.45 0 1 0 0.9 0a0.45 0.45 0 1 0 -0.9 0M98.8 97.8a0.45 0.45 0 1 0 0.9 0a0.45 0.45 0 1 0 -0.9 0M99.2 97.6a0.45 0.45 0 1 0 0.9 0a0.45 0.45 0 1 0 -0.9 0M97.1 99.9a0.45 0.45 0 1 0 0.9 0a0.45 0.45 0 1 0 -0.9 0M97.9 96.0a0.45 0.45 0 1 0 0.9 0a0.45 0.45 0 1 0 -0.9 0M99.0 92.4a0.45 0.45 0 1 0 0.9 0a0.45 0.45 0 1 0 -0.9 0M98.6 88.7a0.45 0.45 0 1 0 0.9 0a0.45 0.45 0 1 0 -0.9 0M99.5 87.0a0.45 0.45 0 1 0 0.9 0a0.45 0.45 0 1 0 -0.9 0M98.1 92.9a0.45 0.45 0 1 0 0.9 0a0.45 0.45 0 1 0 -0.9 0M99.1 98.0a0.45 0.45 0 1 0 0.9 0a0.45 0.45 0 1 0 -0.9 0M99.1 98.7a0.45 0.45 0 1 0 0.9 0a0.45 0.45 0 1 0 -0.9 0M97.9 91.1a0.45 0.45 0 1 0 0.9 0a0.45 0.45 0 1 0 -0.9 0M100.1 90.8a0.45 0.45 0 1 0 0.9 0a0.45 0.45 0 1 0 -0.9 0M98.4 87.6a0.45 0.45 0 1 0 0.9 0a0.45 0.45 0 1 0 -0.9 0M98.7 97.9a0.45 0.45 0 1 0 0.9 0a0.45 0.45 0 1 0 -0.9 0M100.8 87.0a0.45 0.45 0 1 0 0.9 0a0.45 0.45 0 1 0 -0.9 0M99.7 94.8a0.45 0.45 0 1 0 0.9 0a0.45 0.45 0 1 0 -0.9 0M99.7 88.8a0.45 0.45 0 1 0 0.9 0a0.45 0.45 0 1 0 -0.9 0M99.0 86.2a0.45 0.45 0 1 0 0.9 0a0.45 0.45 0 1 0 -0.9 0M98.1 94.8a0.45 0.45 0 1 0 0.9 0a0.45 0.45 0 1 0 -0.9 0M97.7 95.7a0.45 0.45 0 1 0 0.9 0a0.45 0.45 0 1 0 -0.9 0M98.5 95.7a0.45 0.45 0 1 0 0.9 0a0.45 0.45 0 1 0 -0.9 0M100.6 87.6a0.45 0.45 0 1 0 0.9 0a0.45 0.45 0 1 0 -0.9 0M98.2 91.0a0.45 0.45 0 1 0 0.9 0a0.45 0.45 0 1 0 -0.9 0M99.3 95.7a0.45 0.45 0 1 0 0.9 0a0.45 0.45 0 1 0 -0.9 0M98.8 90.3a0.45 0.45 0 1 0 0.9 0a0.45 0.45 0 1 0 -0.9 0M98.5 94.8a0.45 0.45 0 1 0 0.9 0a0.45 0.45 0 1 0 -0.9 0M98.8 91.7a0.45 0.45 0 1 0 0.9 0a0.45 0.45 0 1 0 -0.9 0M97.9 99.2a0.45 0.45 0 1 0 0.9 0a0.45 0.45 0 1 0 -0.9 0M99.4 89.3a0.45 0.45 0 1 0 0.9 0a0.45 0.45 0 1 0 -0.9 0M97.8 98.2a0.45 0.45 0 1 0 0.9 0a0.45 0.45 0 1 0 -0.9 0M98.5 95.5a0.45 0.45 0 1 0 0.9 0a0.45 0.45 0 1 0 -0.9 0M99.7 91.4a0.45 0.45 0 1 0 0.9 0a0.45 0.45 0 1 0 -0.9 0M97.7 92.3a0.45 0.45 0 1 0 0.9 0a0.45 0.45 0 1 0 -0.9 0M98.9 89.9a0.45 0.45 0 1 0 0.9 0a0.45 0.45 0 1 0 -0.9 0M99.7 90.1a0.45 0.45 0 1 0 0.9 0a0.45 0.45 0 1 0 -0.9 0M98.9 89.4a0.45 0.45 0 1 0 0.9 0a0.45 0.45 0 1 0 -0.9 0M97.7 98.5a0.45 0.45 0 1 0 0.9 0a0.45 0.45 0 1 0 -0.9 0M100.0 90.8a0.45 0.45 0 1 0 0.9 0a0.45 0.45 0 1 0 -0.9 0M98.9 94.3a0.45 0.45 0 1 0 0.9 0a0.45 0.45 0 1 0 -0.9 0M97.3 98.6a0.45 0.45 0 1 0 0.9 0a0.45 0.45 0 1 0 -0.9 0M99.6 91.2a0.45 0.45 0 1 0 0.9 0a0.45 0.45 0 1 0 -0.9 0M100.2 90.8a0.45 0.45 0 1 0 0.9 0a0.45 0.45 0 1 0 -0.9 0M99.8 86.3a0.45 0.45 0 1 0 0.9 0a0.45 0.45 0 1 0 -0.9 0M98.9 91.1a0.45 0.45 0 1 0 0.9 0a0.45 0.45 0 1 0 -0.9 0M98.9 95.4a0.45 0.45 0 1 0 0.9 0a0.45 0.45 0 1 0 -0.9 0M99.6 99.7a0.45 0.45 0 1 0 0.9 0a0.45 0.45 0 1 0 -0.9 0M98.9 97.6a0.45 0.45 0 1 0 0.9 0a0.45 0.45 0 1 0 -0.9 0M97.1 100.0a0.45 0.45 0 1 0 0.9 0a0.45 0.45 0 1 0 -0.9 0M99.4 91.6a0.45 0.45 0 1 0 0.9 0a0.45 0.45 0 1 0 -0.9 0M97.5 99.9a0.45 0.45 0 1 0 0.9 0a0.45 0.45 0 1 0 -0.9 0M99.0 88.0a0.45 0.45 0 1 0 0.9 0a0.45 0.45 0 1 0 -0.9 0M98.4 87.2a0.45 0.45 0 1 0 0.9 0a0.45 0.45 0 1 0 -0.9 0" fill="#d84a5a" fill-opacity="0.85"/><rect x="88.8" y="104.6" width="15.9" height="7.4" fill="#fff" stroke="#c88890" stroke-width="0.4"/><text x="89.8" y="107.69999999999999" font-size="2.2" fill="#c04050" font-weight="normal" text-anchor="start" stroke="#c04050" stroke-width="0.24">&#8226; GSE</text><text x="89.8" y="110.89999999999999" font-size="2.2" fill="#20a0a0" font-weight="normal" text-anchor="start" stroke="#20a0a0" stroke-width="0.24">&#8226; TCGA</text><text x="96.3" y="107.69999999999999" font-size="2.2" fill="#c04050" font-weight="normal" text-anchor="start" stroke="#c04050" stroke-width="0.24">Combat</text><text x="96.3" y="110.89999999999999" font-size="2.2" fill="#20a0a0" font-weight="normal" text-anchor="start" stroke="#20a0a0" stroke-width="0.24">GPL570</text><text x="40.5" y="119.4" font-size="2.7" fill="#555" font-weight="normal" text-anchor="middle" stroke="#555" stroke-width="0.2">-1000</text><text x="69" y="119.4" font-size="2.7" fill="#555" font-weight="normal" text-anchor="middle" stroke="#555" stroke-width="0.2">-500</text><text x="97.3" y="119.4" font-size="2.7" fill="#555" font-weight="normal" text-anchor="middle" stroke="#555" stroke-width="0.2">0</text><text x="10.0" y="36.5" font-size="2.7" fill="#555" font-weight="normal" text-anchor="middle" transform="rotate(-90 10.0 36.5)" stroke="#555" stroke-width="0.2">400</text><text x="10.0" y="51.0" font-size="2.7" fill="#555" font-weight="normal" text-anchor="middle" transform="rotate(-90 10.0 51.0)" stroke="#555" stroke-width="0.2">300</text><text x="10.0" y="65.5" font-size="2.7" fill="#555" font-weight="normal" text-anchor="middle" transform="rotate(-90 10.0 65.5)" stroke="#555" stroke-width="0.2">200</text><text x="10.0" y="80.0" font-size="2.7" fill="#555" font-weight="normal" text-anchor="middle" transform="rotate(-90 10.0 80.0)" stroke="#555" stroke-width="0.2">100</text><text x="10.0" y="94.5" font-size="2.7" fill="#555" font-weight="normal" text-anchor="middle" transform="rotate(-90 10.0 94.5)" stroke="#555" stroke-width="0.2">0</text><text x="10.0" y="109" font-size="2.7" fill="#555" font-weight="normal" text-anchor="middle" transform="rotate(-90 10.0 109)" stroke="#555" stroke-width="0.2">-100</text><path d="M40.5 114.1v1.2M69 114.1v1.2M97.3 114.1v1.2M13.100000000000001 36.5h1.2M13.100000000000001 51.0h1.2M13.100000000000001 65.5h1.2M13.100000000000001 80.0h1.2M13.100000000000001 94.5h1.2M13.100000000000001 109h1.2" stroke="#777" stroke-width="0.4"/><text x="58.85" y="126.0" font-size="2.75" fill="#444" font-weight="normal" text-anchor="middle" stroke="#444" stroke-width="0.2">Comp 1: 18.8% variance</text><text x="4.9" y="72.55" font-size="2.5" fill="#444" font-weight="normal" text-anchor="middle" transform="rotate(-90 4.9 72.55)" stroke="#444" stroke-width="0.2">Comp 2: 6.5% variance</text><text x="59.6" y="136.5" font-size="3.08" fill="#000" font-weight="bold" text-anchor="middle" stroke="#000" stroke-width="0.2">PCA for COADREAD combined expression profile after ComBat</text><rect x="14.3" y="142.3" width="90.7" height="80.5" fill="#fff" stroke="#9c9c9c" stroke-width="0.6"/><line x1="14.3" y1="198.2" x2="105.0" y2="198.2" stroke="#f0a4a4" stroke-width="0.45"/><line x1="96.8" y1="142.3" x2="96.8" y2="222.8" stroke="#d4c8c8" stroke-width="0.45"/><path d="M96.8 198.2L18.1 156.2M96.8 198.2L29.4 181.4M96.8 198.2L41.7 192.8M96.8 198.2L53.7 197.6M96.8 198.2L60.2 200.2M96.8 198.2L65 200.8M96.8 198.2L73.1 144.9M96.8 198.2L88 160M96.8 198.2L84 175M96.8 198.2l-38.5 2.2M96.8 198.2l-14.3 0.1M96.8 198.2l-21.3 -10.7M96.8 198.2l-13.2 -8.4M96.8 198.2l-11.2 -21.7M96.8 198.2l-12.3 -21.4M96.8 198.2l-3.1 -14.1M96.8 198.2l-22.9 -6.6M96.8 198.2l-27.0 -18.1M96.8 198.2l-9.2 -10.1" stroke="#f2b8be" stroke-width="0.35" fill="none"/><path d="M17.2 156.2a0.9 0.9 0 1 0 1.8 0a0.9 0.9 0 1 0 -1.8 0M28.5 181.4a0.9 0.9 0 1 0 1.8 0a0.9 0.9 0 1 0 -1.8 0M40.8 192.8a0.9 0.9 0 1 0 1.8 0a0.9 0.9 0 1 0 -1.8 0M52.8 197.6a0.9 0.9 0 1 0 1.8 0a0.9 0.9 0 1 0 -1.8 0M59.3 200.2a0.9 0.9 0 1 0 1.8 0a0.9 0.9 0 1 0 -1.8 0M64.1 200.8a0.9 0.9 0 1 0 1.8 0a0.9 0.9 0 1 0 -1.8 0M72.2 144.9a0.9 0.9 0 1 0 1.8 0a0.9 0.9 0 1 0 -1.8 0M87.1 160.0a0.9 0.9 0 1 0 1.8 0a0.9 0.9 0 1 0 -1.8 0M83.1 175.0a0.9 0.9 0 1 0 1.8 0a0.9 0.9 0 1 0 -1.8 0" fill="none" stroke="#a09a9a" stroke-width="0.3" stroke-opacity="0.9"/><path d="M96.7 195.5a0.5 0.5 0 1 0 1.0 0a0.5 0.5 0 1 0 -1.0 0M95.2 196.3a0.5 0.5 0 1 0 1.0 0a0.5 0.5 0 1 0 -1.0 0M98.9 189.6a0.5 0.5 0 1 0 1.0 0a0.5 0.5 0 1 0 -1.0 0M96.4 189.8a0.5 0.5 0 1 0 1.0 0a0.5 0.5 0 1 0 -1.0 0M94.2 197.4a0.5 0.5 0 1 0 1.0 0a0.5 0.5 0 1 0 -1.0 0M91.1 182.4a0.5 0.5 0 1 0 1.0 0a0.5 0.5 0 1 0 -1.0 0M93.0 198.9a0.5 0.5 0 1 0 1.0 0a0.5 0.5 0 1 0 -1.0 0M94.4 191.8a0.5 0.5 0 1 0 1.0 0a0.5 0.5 0 1 0 -1.0 0M95.0 184.9a0.5 0.5 0 1 0 1.0 0a0.5 0.5 0 1 0 -1.0 0M89.4 188.6a0.5 0.5 0 1 0 1.0 0a0.5 0.5 0 1 0 -1.0 0M97.1 185.3a0.5 0.5 0 1 0 1.0 0a0.5 0.5 0 1 0 -1.0 0M88.7 182.8a0.5 0.5 0 1 0 1.0 0a0.5 0.5 0 1 0 -1.0 0M87.8 187.4a0.5 0.5 0 1 0 1.0 0a0.5 0.5 0 1 0 -1.0 0M94.2 201.5a0.5 0.5 0 1 0 1.0 0a0.5 0.5 0 1 0 -1.0 0M91.3 189.8a0.5 0.5 0 1 0 1.0 0a0.5 0.5 0 1 0 -1.0 0M90.8 188.1a0.5 0.5 0 1 0 1.0 0a0.5 0.5 0 1 0 -1.0 0M96.6 194.5a0.5 0.5 0 1 0 1.0 0a0.5 0.5 0 1 0 -1.0 0M90.4 183.0a0.5 0.5 0 1 0 1.0 0a0.5 0.5 0 1 0 -1.0 0M96.7 198.6a0.5 0.5 0 1 0 1.0 0a0.5 0.5 0 1 0 -1.0 0M97.2 186.4a0.5 0.5 0 1 0 1.0 0a0.5 0.5 0 1 0 -1.0 0M93.8 204.1a0.5 0.5 0 1 0 1.0 0a0.5 0.5 0 1 0 -1.0 0M94.4 204.8a0.5 0.5 0 1 0 1.0 0a0.5 0.5 0 1 0 -1.0 0M89.3 205.6a0.5 0.5 0 1 0 1.0 0a0.5 0.5 0 1 0 -1.0 0M88.0 191.0a0.5 0.5 0 1 0 1.0 0a0.5 0.5 0 1 0 -1.0 0M87.6 201.2a0.5 0.5 0 1 0 1.0 0a0.5 0.5 0 1 0 -1.0 0M95.5 205.5a0.5 0.5 0 1 0 1.0 0a0.5 0.5 0 1 0 -1.0 0M97.0 204.9a0.5 0.5 0 1 0 1.0 0a0.5 0.5 0 1 0 -1.0 0M93.8 205.9a0.5 0.5 0 1 0 1.0 0a0.5 0.5 0 1 0 -1.0 0M96.3 189.2a0.5 0.5 0 1 0 1.0 0a0.5 0.5 0 1 0 -1.0 0M99.0 190.0a0.5 0.5 0 1 0 1.0 0a0.5 0.5 0 1 0 -1.0 0" fill="none" stroke="#e88090" stroke-width="0.3" stroke-opacity="0.8"/><path d="M99.9 158.1a0.45 0.45 0 1 0 0.9 0a0.45 0.45 0 1 0 -0.9 0M99.9 158.5a0.45 0.45 0 1 0 0.9 0a0.45 0.45 0 1 0 -0.9 0M100.7 157.6a0.45 0.45 0 1 0 0.9 0a0.45 0.45 0 1 0 -0.9 0M101.1 171.1a0.45 0.45 0 1 0 0.9 0a0.45 0.45 0 1 0 -0.9 0M100.8 162.7a0.45 0.45 0 1 0 0.9 0a0.45 0.45 0 1 0 -0.9 0M99.7 167.4a0.45 0.45 0 1 0 0.9 0a0.45 0.45 0 1 0 -0.9 0M101.0 162.6a0.45 0.45 0 1 0 0.9 0a0.45 0.45 0 1 0 -0.9 0M101.1 165.5a0.45 0.45 0 1 0 0.9 0a0.45 0.45 0 1 0 -0.9 0M99.9 167.3a0.45 0.45 0 1 0 0.9 0a0.45 0.45 0 1 0 -0.9 0M100.8 155.7a0.45 0.45 0 1 0 0.9 0a0.45 0.45 0 1 0 -0.9 0M100.7 158.9a0.45 0.45 0 1 0 0.9 0a0.45 0.45 0 1 0 -0.9 0M100.9 163.4a0.45 0.45 0 1 0 0.9 0a0.45 0.45 0 1 0 -0.9 0M101.1 161.9a0.45 0.45 0 1 0 0.9 0a0.45 0.45 0 1 0 -0.9 0M99.4 172.2a0.45 0.45 0 1 0 0.9 0a0.45 0.45 0 1 0 -0.9 0M100.5 157.6a0.45 0.45 0 1 0 0.9 0a0.45 0.45 0 1 0 -0.9 0M101.0 155.7a0.45 0.45 0 1 0 0.9 0a0.45 0.45 0 1 0 -0.9 0M100.4 168.5a0.45 0.45 0 1 0 0.9 0a0.45 0.45 0 1 0 -0.9 0M101.0 164.5a0.45 0.45 0 1 0 0.9 0a0.45 0.45 0 1 0 -0.9 0M99.9 166.7a0.45 0.45 0 1 0 0.9 0a0.45 0.45 0 1 0 -0.9 0M100.3 161.2a0.45 0.45 0 1 0 0.9 0a0.45 0.45 0 1 0 -0.9 0M100.1 171.1a0.45 0.45 0 1 0 0.9 0a0.45 0.45 0 1 0 -0.9 0M100.2 159.4a0.45 0.45 0 1 0 0.9 0a0.45 0.45 0 1 0 -0.9 0M99.6 164.6a0.45 0.45 0 1 0 0.9 0a0.45 0.45 0 1 0 -0.9 0M100.8 156.5a0.45 0.45 0 1 0 0.9 0a0.45 0.45 0 1 0 -0.9 0M101.5 159.2a0.45 0.45 0 1 0 0.9 0a0.45 0.45 0 1 0 -0.9 0M101.2 154.9a0.45 0.45 0 1 0 0.9 0a0.45 0.45 0 1 0 -0.9 0M99.8 161.6a0.45 0.45 0 1 0 0.9 0a0.45 0.45 0 1 0 -0.9 0M101.1 155.9a0.45 0.45 0 1 0 0.9 0a0.45 0.45 0 1 0 -0.9 0M99.8 168.3a0.45 0.45 0 1 0 0.9 0a0.45 0.45 0 1 0 -0.9 0M100.5 173.2a0.45 0.45 0 1 0 0.9 0a0.45 0.45 0 1 0 -0.9 0M101.1 174.5a0.45 0.45 0 1 0 0.9 0a0.45 0.45 0 1 0 -0.9 0M100.9 154.4a0.45 0.45 0 1 0 0.9 0a0.45 0.45 0 1 0 -0.9 0M100.2 169.4a0.45 0.45 0 1 0 0.9 0a0.45 0.45 0 1 0 -0.9 0M100.9 166.0a0.45 0.45 0 1 0 0.9 0a0.45 0.45 0 1 0 -0.9 0M100.5 166.7a0.45 0.45 0 1 0 0.9 0a0.45 0.45 0 1 0 -0.9 0M100.5 158.3a0.45 0.45 0 1 0 0.9 0a0.45 0.45 0 1 0 -0.9 0M100.2 163.2a0.45 0.45 0 1 0 0.9 0a0.45 0.45 0 1 0 -0.9 0M101.2 169.6a0.45 0.45 0 1 0 0.9 0a0.45 0.45 0 1 0 -0.9 0M100.5 156.7a0.45 0.45 0 1 0 0.9 0a0.45 0.45 0 1 0 -0.9 0M99.0 171.5a0.45 0.45 0 1 0 0.9 0a0.45 0.45 0 1 0 -0.9 0M100.8 169.2a0.45 0.45 0 1 0 0.9 0a0.45 0.45 0 1 0 -0.9 0M100.4 158.4a0.45 0.45 0 1 0 0.9 0a0.45 0.45 0 1 0 -0.9 0M100.4 160.6a0.45 0.45 0 1 0 0.9 0a0.45 0.45 0 1 0 -0.9 0M100.1 166.4a0.45 0.45 0 1 0 0.9 0a0.45 0.45 0 1 0 -0.9 0M100.9 160.6a0.45 0.45 0 1 0 0.9 0a0.45 0.45 0 1 0 -0.9 0M101.2 157.6a0.45 0.45 0 1 0 0.9 0a0.45 0.45 0 1 0 -0.9 0M100.2 174.3a0.45 0.45 0 1 0 0.9 0a0.45 0.45 0 1 0 -0.9 0" fill="#667070" fill-opacity="0.85"/><path d="M101.4 158.1a0.45 0.45 0 1 0 0.9 0a0.45 0.45 0 1 0 -0.9 0M100.4 159.3a0.45 0.45 0 1 0 0.9 0a0.45 0.45 0 1 0 -0.9 0M100.1 163.3a0.45 0.45 0 1 0 0.9 0a0.45 0.45 0 1 0 -0.9 0M99.6 171.5a0.45 0.45 0 1 0 0.9 0a0.45 0.45 0 1 0 -0.9 0M100.0 165.0a0.45 0.45 0 1 0 0.9 0a0.45 0.45 0 1 0 -0.9 0M101.3 155.8a0.45 0.45 0 1 0 0.9 0a0.45 0.45 0 1 0 -0.9 0M100.1 161.3a0.45 0.45 0 1 0 0.9 0a0.45 0.45 0 1 0 -0.9 0M100.2 158.6a0.45 0.45 0 1 0 0.9 0a0.45 0.45 0 1 0 -0.9 0M99.6 172.0a0.45 0.45 0 1 0 0.9 0a0.45 0.45 0 1 0 -0.9 0M99.9 156.8a0.45 0.45 0 1 0 0.9 0a0.45 0.45 0 1 0 -0.9 0M100.4 167.0a0.45 0.45 0 1 0 0.9 0a0.45 0.45 0 1 0 -0.9 0M101.3 172.6a0.45 0.45 0 1 0 0.9 0a0.45 0.45 0 1 0 -0.9 0M100.7 163.0a0.45 0.45 0 1 0 0.9 0a0.45 0.45 0 1 0 -0.9 0" fill="#d84a5a" fill-opacity="0.85"/><path d="M98.7 187.7a0.45 0.45 0 1 0 0.9 0a0.45 0.45 0 1 0 -0.9 0M100.2 174.9a0.45 0.45 0 1 0 0.9 0a0.45 0.45 0 1 0 -0.9 0M96.5 179.4a0.45 0.45 0 1 0 0.9 0a0.45 0.45 0 1 0 -0.9 0M99.0 183.9a0.45 0.45 0 1 0 0.9 0a0.45 0.45 0 1 0 -0.9 0M99.0 176.4a0.45 0.45 0 1 0 0.9 0a0.45 0.45 0 1 0 -0.9 0M98.4 182.2a0.45 0.45 0 1 0 0.9 0a0.45 0.45 0 1 0 -0.9 0M96.6 175.7a0.45 0.45 0 1 0 0.9 0a0.45 0.45 0 1 0 -0.9 0M99.2 176.0a0.45 0.45 0 1 0 0.9 0a0.45 0.45 0 1 0 -0.9 0M97.0 181.4a0.45 0.45 0 1 0 0.9 0a0.45 0.45 0 1 0 -0.9 0M97.1 187.7a0.45 0.45 0 1 0 0.9 0a0.45 0.45 0 1 0 -0.9 0M100.5 178.1a0.45 0.45 0 1 0 0.9 0a0.45 0.45 0 1 0 -0.9 0M97.3 181.2a0.45 0.45 0 1 0 0.9 0a0.45 0.45 0 1 0 -0.9 0M100.1 175.0a0.45 0.45 0 1 0 0.9 0a0.45 0.45 0 1 0 -0.9 0M100.7 176.0a0.45 0.45 0 1 0 0.9 0a0.45 0.45 0 1 0 -0.9 0M99.3 185.3a0.45 0.45 0 1 0 0.9 0a0.45 0.45 0 1 0 -0.9 0M99.9 176.0a0.45 0.45 0 1 0 0.9 0a0.45 0.45 0 1 0 -0.9 0M100.0 179.8a0.45 0.45 0 1 0 0.9 0a0.45 0.45 0 1 0 -0.9 0M96.6 185.1a0.45 0.45 0 1 0 0.9 0a0.45 0.45 0 1 0 -0.9 0M98.5 181.3a0.45 0.45 0 1 0 0.9 0a0.45 0.45 0 1 0 -0.9 0M98.6 175.8a0.45 0.45 0 1 0 0.9 0a0.45 0.45 0 1 0 -0.9 0M96.5 184.8a0.45 0.45 0 1 0 0.9 0a0.45 0.45 0 1 0 -0.9 0M100.1 179.2a0.45 0.45 0 1 0 0.9 0a0.45 0.45 0 1 0 -0.9 0M98.8 176.2a0.45 0.45 0 1 0 0.9 0a0.45 0.45 0 1 0 -0.9 0M99.2 184.9a0.45 0.45 0 1 0 0.9 0a0.45 0.45 0 1 0 -0.9 0M99.6 177.7a0.45 0.45 0 1 0 0.9 0a0.45 0.45 0 1 0 -0.9 0M97.5 184.9a0.45 0.45 0 1 0 0.9 0a0.45 0.45 0 1 0 -0.9 0M99.1 179.7a0.45 0.45 0 1 0 0.9 0a0.45 0.45 0 1 0 -0.9 0M99.0 184.9a0.45 0.45 0 1 0 0.9 0a0.45 0.45 0 1 0 -0.9 0M96.6 187.0a0.45 0.45 0 1 0 0.9 0a0.45 0.45 0 1 0 -0.9 0M97.9 182.4a0.45 0.45 0 1 0 0.9 0a0.45 0.45 0 1 0 -0.9 0M96.3 176.2a0.45 0.45 0 1 0 0.9 0a0.45 0.45 0 1 0 -0.9 0M96.6 178.2a0.45 0.45 0 1 0 0.9 0a0.45 0.45 0 1 0 -0.9 0M99.8 183.3a0.45 0.45 0 1 0 0.9 0a0.45 0.45 0 1 0 -0.9 0M99.1 175.6a0.45 0.45 0 1 0 0.9 0a0.45 0.45 0 1 0 -0.9 0M99.2 184.4a0.45 0.45 0 1 0 0.9 0a0.45 0.45 0 1 0 -0.9 0M98.0 174.7a0.45 0.45 0 1 0 0.9 0a0.45 0.45 0 1 0 -0.9 0M96.5 185.1a0.45 0.45 0 1 0 0.9 0a0.45 0.45 0 1 0 -0.9 0M96.8 175.6a0.45 0.45 0 1 0 0.9 0a0.45 0.45 0 1 0 -0.9 0M97.5 186.1a0.45 0.45 0 1 0 0.9 0a0.45 0.45 0 1 0 -0.9 0M97.5 183.4a0.45 0.45 0 1 0 0.9 0a0.45 0.45 0 1 0 -0.9 0M99.2 186.6a0.45 0.45 0 1 0 0.9 0a0.45 0.45 0 1 0 -0.9 0M98.9 181.6a0.45 0.45 0 1 0 0.9 0a0.45 0.45 0 1 0 -0.9 0M97.9 185.9a0.45 0.45 0 1 0 0.9 0a0.45 0.45 0 1 0 -0.9 0M98.8 186.4a0.45 0.45 0 1 0 0.9 0a0.45 0.45 0 1 0 -0.9 0M100.4 174.5a0.45 0.45 0 1 0 0.9 0a0.45 0.45 0 1 0 -0.9 0M100.8 175.5a0.45 0.45 0 1 0 0.9 0a0.45 0.45 0 1 0 -0.9 0M99.5 184.6a0.45 0.45 0 1 0 0.9 0a0.45 0.45 0 1 0 -0.9 0M99.7 180.1a0.45 0.45 0 1 0 0.9 0a0.45 0.45 0 1 0 -0.9 0M98.0 176.9a0.45 0.45 0 1 0 0.9 0a0.45 0.45 0 1 0 -0.9 0M100.0 176.5a0.45 0.45 0 1 0 0.9 0a0.45 0.45 0 1 0 -0.9 0M99.1 177.4a0.45 0.45 0 1 0 0.9 0a0.45 0.45 0 1 0 -0.9 0M96.7 176.8a0.45 0.45 0 1 0 0.9 0a0.45 0.45 0 1 0 -0.9 0M100.4 176.7a0.45 0.45 0 1 0 0.9 0a0.45 0.45 0 1 0 -0.9 0" fill="#d84a5a" fill-opacity="0.85"/><path d="M100.5 179.5a0.45 0.45 0 1 0 0.9 0a0.45 0.45 0 1 0 -0.9 0M99.4 182.7a0.45 0.45 0 1 0 0.9 0a0.45 0.45 0 1 0 -0.9 0M98.6 180.9a0.45 0.45 0 1 0 0.9 0a0.45 0.45 0 1 0 -0.9 0M96.7 175.1a0.45 0.45 0 1 0 0.9 0a0.45 0.45 0 1 0 -0.9 0M100.2 184.1a0.45 0.45 0 1 0 0.9 0a0.45 0.45 0 1 0 -0.9 0M99.6 176.8a0.45 0.45 0 1 0 0.9 0a0.45 0.45 0 1 0 -0.9 0M96.5 177.0a0.45 0.45 0 1 0 0.9 0a0.45 0.45 0 1 0 -0.9 0M99.6 182.0a0.45 0.45 0 1 0 0.9 0a0.45 0.45 0 1 0 -0.9 0M99.2 178.6a0.45 0.45 0 1 0 0.9 0a0.45 0.45 0 1 0 -0.9 0M100.4 182.2a0.45 0.45 0 1 0 0.9 0a0.45 0.45 0 1 0 -0.9 0M98.9 181.9a0.45 0.45 0 1 0 0.9 0a0.45 0.45 0 1 0 -0.9 0M98.3 180.0a0.45 0.45 0 1 0 0.9 0a0.45 0.45 0 1 0 -0.9 0M99.4 184.3a0.45 0.45 0 1 0 0.9 0a0.45 0.45 0 1 0 -0.9 0M100.0 187.5a0.45 0.45 0 1 0 0.9 0a0.45 0.45 0 1 0 -0.9 0M98.8 182.9a0.45 0.45 0 1 0 0.9 0a0.45 0.45 0 1 0 -0.9 0M97.7 187.2a0.45 0.45 0 1 0 0.9 0a0.45 0.45 0 1 0 -0.9 0M100.3 178.9a0.45 0.45 0 1 0 0.9 0a0.45 0.45 0 1 0 -0.9 0M96.7 177.4a0.45 0.45 0 1 0 0.9 0a0.45 0.45 0 1 0 -0.9 0M96.6 187.8a0.45 0.45 0 1 0 0.9 0a0.45 0.45 0 1 0 -0.9 0M98.0 184.5a0.45 0.45 0 1 0 0.9 0a0.45 0.45 0 1 0 -0.9 0M99.8 182.7a0.45 0.45 0 1 0 0.9 0a0.45 0.45 0 1 0 -0.9 0M99.5 181.1a0.45 0.45 0 1 0 0.9 0a0.45 0.45 0 1 0 -0.9 0M96.9 181.3a0.45 0.45 0 1 0 0.9 0a0.45 0.45 0 1 0 -0.9 0" fill="#667070" fill-opacity="0.85"/><path d="M98.5 185.1a0.45 0.45 0 1 0 0.9 0a0.45 0.45 0 1 0 -0.9 0M99.4 176.1a0.45 0.45 0 1 0 0.9 0a0.45 0.45 0 1 0 -0.9 0M96.6 183.3a0.45 0.45 0 1 0 0.9 0a0.45 0.45 0 1 0 -0.9 0M96.4 187.6a0.45 0.45 0 1 0 0.9 0a0.45 0.45 0 1 0 -0.9 0M98.7 187.9a0.45 0.45 0 1 0 0.9 0a0.45 0.45 0 1 0 -0.9 0M98.4 182.2a0.45 0.45 0 1 0 0.9 0a0.45 0.45 0 1 0 -0.9 0M96.9 185.7a0.45 0.45 0 1 0 0.9 0a0.45 0.45 0 1 0 -0.9 0M98.4 180.0a0.45 0.45 0 1 0 0.9 0a0.45 0.45 0 1 0 -0.9 0M99.4 187.0a0.45 0.45 0 1 0 0.9 0a0.45 0.45 0 1 0 -0.9 0M98.9 177.7a0.45 0.45 0 1 0 0.9 0a0.45 0.45 0 1 0 -0.9 0M100.2 184.1a0.45 0.45 0 1 0 0.9 0a0.45 0.45 0 1 0 -0.9 0M98.5 176.9a0.45 0.45 0 1 0 0.9 0a0.45 0.45 0 1 0 -0.9 0M99.1 174.5a0.45 0.45 0 1 0 0.9 0a0.45 0.45 0 1 0 -0.9 0M96.4 180.3a0.45 0.45 0 1 0 0.9 0a0.45 0.45 0 1 0 -0.9 0M96.8 184.3a0.45 0.45 0 1 0 0.9 0a0.45 0.45 0 1 0 -0.9 0M96.1 187.2a0.45 0.45 0 1 0 0.9 0a0.45 0.45 0 1 0 -0.9 0M98.4 181.4a0.45 0.45 0 1 0 0.9 0a0.45 0.45 0 1 0 -0.9 0M97.7 187.8a0.45 0.45 0 1 0 0.9 0a0.45 0.45 0 1 0 -0.9 0M97.2 183.7a0.45 0.45 0 1 0 0.9 0a0.45 0.45 0 1 0 -0.9 0M98.9 187.6a0.45 0.45 0 1 0 0.9 0a0.45 0.45 0 1 0 -0.9 0M98.7 181.6a0.45 0.45 0 1 0 0.9 0a0.45 0.45 0 1 0 -0.9 0M99.7 184.2a0.45 0.45 0 1 0 0.9 0a0.45 0.45 0 1 0 -0.9 0M99.4 180.7a0.45 0.45 0 1 0 0.9 0a0.45 0.45 0 1 0 -0.9 0M100.5 179.7a0.45 0.45 0 1 0 0.9 0a0.45 0.45 0 1 0 -0.9 0" fill="#44b4bc" fill-opacity="0.85"/><path d="M96.75 184L99.65 184L96.55000000000001 214L94.25 214Z" fill="#367478" fill-opacity="0.65"/><path d="M95.3 200.2a0.45 0.45 0 1 0 0.9 0a0.45 0.45 0 1 0 -0.9 0M97.3 184.1a0.45 0.45 0 1 0 0.9 0a0.45 0.45 0 1 0 -0.9 0M94.6 210.0a0.45 0.45 0 1 0 0.9 0a0.45 0.45 0 1 0 -0.9 0M98.8 186.6a0.45 0.45 0 1 0 0.9 0a0.45 0.45 0 1 0 -0.9 0M96.0 185.4a0.45 0.45 0 1 0 0.9 0a0.45 0.45 0 1 0 -0.9 0M97.8 184.2a0.45 0.45 0 1 0 0.9 0a0.45 0.45 0 1 0 -0.9 0M97.1 206.6a0.45 0.45 0 1 0 0.9 0a0.45 0.45 0 1 0 -0.9 0M96.6 207.8a0.45 0.45 0 1 0 0.9 0a0.45 0.45 0 1 0 -0.9 0M98.5 193.4a0.45 0.45 0 1 0 0.9 0a0.45 0.45 0 1 0 -0.9 0M95.0 210.1a0.45 0.45 0 1 0 0.9 0a0.45 0.45 0 1 0 -0.9 0M96.6 190.5a0.45 0.45 0 1 0 0.9 0a0.45 0.45 0 1 0 -0.9 0M95.4 211.5a0.45 0.45 0 1 0 0.9 0a0.45 0.45 0 1 0 -0.9 0M96.6 206.9a0.45 0.45 0 1 0 0.9 0a0.45 0.45 0 1 0 -0.9 0M94.8 200.3a0.45 0.45 0 1 0 0.9 0a0.45 0.45 0 1 0 -0.9 0M93.8 210.2a0.45 0.45 0 1 0 0.9 0a0.45 0.45 0 1 0 -0.9 0M97.7 197.7a0.45 0.45 0 1 0 0.9 0a0.45 0.45 0 1 0 -0.9 0M95.5 205.6a0.45 0.45 0 1 0 0.9 0a0.45 0.45 0 1 0 -0.9 0M95.7 202.5a0.45 0.45 0 1 0 0.9 0a0.45 0.45 0 1 0 -0.9 0M94.5 204.7a0.45 0.45 0 1 0 0.9 0a0.45 0.45 0 1 0 -0.9 0M96.8 186.6a0.45 0.45 0 1 0 0.9 0a0.45 0.45 0 1 0 -0.9 0M97.4 195.4a0.45 0.45 0 1 0 0.9 0a0.45 0.45 0 1 0 -0.9 0M98.4 184.6a0.45 0.45 0 1 0 0.9 0a0.45 0.45 0 1 0 -0.9 0M96.6 206.5a0.45 0.45 0 1 0 0.9 0a0.45 0.45 0 1 0 -0.9 0M98.2 184.6a0.45 0.45 0 1 0 0.9 0a0.45 0.45 0 1 0 -0.9 0M95.3 209.5a0.45 0.45 0 1 0 0.9 0a0.45 0.45 0 1 0 -0.9 0M96.2 208.8a0.45 0.45 0 1 0 0.9 0a0.45 0.45 0 1 0 -0.9 0M97.6 192.0a0.45 0.45 0 1 0 0.9 0a0.45 0.45 0 1 0 -0.9 0M94.8 205.6a0.45 0.45 0 1 0 0.9 0a0.45 0.45 0 1 0 -0.9 0M94.5 213.9a0.45 0.45 0 1 0 0.9 0a0.45 0.45 0 1 0 -0.9 0M95.0 209.1a0.45 0.45 0 1 0 0.9 0a0.45 0.45 0 1 0 -0.9 0M96.0 203.5a0.45 0.45 0 1 0 0.9 0a0.45 0.45 0 1 0 -0.9 0M97.7 197.4a0.45 0.45 0 1 0 0.9 0a0.45 0.45 0 1 0 -0.9 0M96.6 185.2a0.45 0.45 0 1 0 0.9 0a0.45 0.45 0 1 0 -0.9 0M95.5 208.9a0.45 0.45 0 1 0 0.9 0a0.45 0.45 0 1 0 -0.9 0M95.4 192.9a0.45 0.45 0 1 0 0.9 0a0.45 0.45 0 1 0 -0.9 0M95.1 194.4a0.45 0.45 0 1 0 0.9 0a0.45 0.45 0 1 0 -0.9 0M96.0 192.6a0.45 0.45 0 1 0 0.9 0a0.45 0.45 0 1 0 -0.9 0M94.2 213.1a0.45 0.45 0 1 0 0.9 0a0.45 0.45 0 1 0 -0.9 0M95.3 201.6a0.45 0.45 0 1 0 0.9 0a0.45 0.45 0 1 0 -0.9 0M96.2 192.0a0.45 0.45 0 1 0 0.9 0a0.45 0.45 0 1 0 -0.9 0M97.9 196.9a0.45 0.45 0 1 0 0.9 0a0.45 0.45 0 1 0 -0.9 0M95.5 199.1a0.45 0.45 0 1 0 0.9 0a0.45 0.45 0 1 0 -0.9 0M97.7 185.1a0.45 0.45 0 1 0 0.9 0a0.45 0.45 0 1 0 -0.9 0M95.9 202.8a0.45 0.45 0 1 0 0.9 0a0.45 0.45 0 1 0 -0.9 0M96.2 200.3a0.45 0.45 0 1 0 0.9 0a0.45 0.45 0 1 0 -0.9 0M96.2 201.9a0.45 0.45 0 1 0 0.9 0a0.45 0.45 0 1 0 -0.9 0M94.6 206.6a0.45 0.45 0 1 0 0.9 0a0.45 0.45 0 1 0 -0.9 0M96.6 197.2a0.45 0.45 0 1 0 0.9 0a0.45 0.45 0 1 0 -0.9 0M96.8 187.5a0.45 0.45 0 1 0 0.9 0a0.45 0.45 0 1 0 -0.9 0M96.7 192.6a0.45 0.45 0 1 0 0.9 0a0.45 0.45 0 1 0 -0.9 0M96.1 201.5a0.45 0.45 0 1 0 0.9 0a0.45 0.45 0 1 0 -0.9 0M96.3 203.5a0.45 0.45 0 1 0 0.9 0a0.45 0.45 0 1 0 -0.9 0M97.1 190.9a0.45 0.45 0 1 0 0.9 0a0.45 0.45 0 1 0 -0.9 0M96.0 190.4a0.45 0.45 0 1 0 0.9 0a0.45 0.45 0 1 0 -0.9 0M95.6 208.4a0.45 0.45 0 1 0 0.9 0a0.45 0.45 0 1 0 -0.9 0M95.1 196.6a0.45 0.45 0 1 0 0.9 0a0.45 0.45 0 1 0 -0.9 0M96.3 195.6a0.45 0.45 0 1 0 0.9 0a0.45 0.45 0 1 0 -0.9 0M95.9 207.6a0.45 0.45 0 1 0 0.9 0a0.45 0.45 0 1 0 -0.9 0M95.0 197.8a0.45 0.45 0 1 0 0.9 0a0.45 0.45 0 1 0 -0.9 0M97.4 192.5a0.45 0.45 0 1 0 0.9 0a0.45 0.45 0 1 0 -0.9 0M96.1 200.4a0.45 0.45 0 1 0 0.9 0a0.45 0.45 0 1 0 -0.9 0M98.1 187.5a0.45 0.45 0 1 0 0.9 0a0.45 0.45 0 1 0 -0.9 0M95.7 206.4a0.45 0.45 0 1 0 0.9 0a0.45 0.45 0 1 0 -0.9 0M96.4 201.1a0.45 0.45 0 1 0 0.9 0a0.45 0.45 0 1 0 -0.9 0M95.2 210.5a0.45 0.45 0 1 0 0.9 0a0.45 0.45 0 1 0 -0.9 0M96.2 191.2a0.45 0.45 0 1 0 0.9 0a0.45 0.45 0 1 0 -0.9 0M93.7 211.9a0.45 0.45 0 1 0 0.9 0a0.45 0.45 0 1 0 -0.9 0M96.6 197.9a0.45 0.45 0 1 0 0.9 0a0.45 0.45 0 1 0 -0.9 0M97.2 200.3a0.45 0.45 0 1 0 0.9 0a0.45 0.45 0 1 0 -0.9 0M98.1 197.4a0.45 0.45 0 1 0 0.9 0a0.45 0.45 0 1 0 -0.9 0M94.8 201.1a0.45 0.45 0 1 0 0.9 0a0.45 0.45 0 1 0 -0.9 0M95.8 187.3a0.45 0.45 0 1 0 0.9 0a0.45 0.45 0 1 0 -0.9 0M97.7 198.4a0.45 0.45 0 1 0 0.9 0a0.45 0.45 0 1 0 -0.9 0M97.4 198.6a0.45 0.45 0 1 0 0.9 0a0.45 0.45 0 1 0 -0.9 0M94.3 203.8a0.45 0.45 0 1 0 0.9 0a0.45 0.45 0 1 0 -0.9 0M97.0 199.1a0.45 0.45 0 1 0 0.9 0a0.45 0.45 0 1 0 -0.9 0M95.6 213.2a0.45 0.45 0 1 0 0.9 0a0.45 0.45 0 1 0 -0.9 0M96.5 194.1a0.45 0.45 0 1 0 0.9 0a0.45 0.45 0 1 0 -0.9 0M94.5 213.2a0.45 0.45 0 1 0 0.9 0a0.45 0.45 0 1 0 -0.9 0M97.9 196.4a0.45 0.45 0 1 0 0.9 0a0.45 0.45 0 1 0 -0.9 0M95.9 207.0a0.45 0.45 0 1 0 0.9 0a0.45 0.45 0 1 0 -0.9 0M96.7 202.6a0.45 0.45 0 1 0 0.9 0a0.45 0.45 0 1 0 -0.9 0M96.7 194.8a0.45 0.45 0 1 0 0.9 0a0.45 0.45 0 1 0 -0.9 0M94.7 201.2a0.45 0.45 0 1 0 0.9 0a0.45 0.45 0 1 0 -0.9 0M96.5 185.8a0.45 0.45 0 1 0 0.9 0a0.45 0.45 0 1 0 -0.9 0M97.2 206.8a0.45 0.45 0 1 0 0.9 0a0.45 0.45 0 1 0 -0.9 0M95.3 208.5a0.45 0.45 0 1 0 0.9 0a0.45 0.45 0 1 0 -0.9 0M98.4 184.4a0.45 0.45 0 1 0 0.9 0a0.45 0.45 0 1 0 -0.9 0M95.4 211.0a0.45 0.45 0 1 0 0.9 0a0.45 0.45 0 1 0 -0.9 0M95.2 202.8a0.45 0.45 0 1 0 0.9 0a0.45 0.45 0 1 0 -0.9 0M95.6 189.3a0.45 0.45 0 1 0 0.9 0a0.45 0.45 0 1 0 -0.9 0M94.6 211.3a0.45 0.45 0 1 0 0.9 0a0.45 0.45 0 1 0 -0.9 0M94.0 212.0a0.45 0.45 0 1 0 0.9 0a0.45 0.45 0 1 0 -0.9 0M94.9 210.4a0.45 0.45 0 1 0 0.9 0a0.45 0.45 0 1 0 -0.9 0M97.6 194.8a0.45 0.45 0 1 0 0.9 0a0.45 0.45 0 1 0 -0.9 0M96.5 213.5a0.45 0.45 0 1 0 0.9 0a0.45 0.45 0 1 0 -0.9 0M95.9 209.1a0.45 0.45 0 1 0 0.9 0a0.45 0.45 0 1 0 -0.9 0M95.5 208.8a0.45 0.45 0 1 0 0.9 0a0.45 0.45 0 1 0 -0.9 0M97.2 199.1a0.45 0.45 0 1 0 0.9 0a0.45 0.45 0 1 0 -0.9 0M97.6 194.3a0.45 0.45 0 1 0 0.9 0a0.45 0.45 0 1 0 -0.9 0M96.4 199.3a0.45 0.45 0 1 0 0.9 0a0.45 0.45 0 1 0 -0.9 0M95.5 197.6a0.45 0.45 0 1 0 0.9 0a0.45 0.45 0 1 0 -0.9 0M94.4 205.8a0.45 0.45 0 1 0 0.9 0a0.45 0.45 0 1 0 -0.9 0M95.6 202.1a0.45 0.45 0 1 0 0.9 0a0.45 0.45 0 1 0 -0.9 0M94.6 203.2a0.45 0.45 0 1 0 0.9 0a0.45 0.45 0 1 0 -0.9 0M94.0 208.4a0.45 0.45 0 1 0 0.9 0a0.45 0.45 0 1 0 -0.9 0M97.6 187.4a0.45 0.45 0 1 0 0.9 0a0.45 0.45 0 1 0 -0.9 0M95.4 197.5a0.45 0.45 0 1 0 0.9 0a0.45 0.45 0 1 0 -0.9 0M96.6 196.3a0.45 0.45 0 1 0 0.9 0a0.45 0.45 0 1 0 -0.9 0M96.0 203.8a0.45 0.45 0 1 0 0.9 0a0.45 0.45 0 1 0 -0.9 0M95.3 202.3a0.45 0.45 0 1 0 0.9 0a0.45 0.45 0 1 0 -0.9 0M96.7 200.0a0.45 0.45 0 1 0 0.9 0a0.45 0.45 0 1 0 -0.9 0M93.9 213.4a0.45 0.45 0 1 0 0.9 0a0.45 0.45 0 1 0 -0.9 0M97.2 191.4a0.45 0.45 0 1 0 0.9 0a0.45 0.45 0 1 0 -0.9 0M97.9 195.2a0.45 0.45 0 1 0 0.9 0a0.45 0.45 0 1 0 -0.9 0M96.9 197.5a0.45 0.45 0 1 0 0.9 0a0.45 0.45 0 1 0 -0.9 0M98.2 192.9a0.45 0.45 0 1 0 0.9 0a0.45 0.45 0 1 0 -0.9 0M94.5 202.5a0.45 0.45 0 1 0 0.9 0a0.45 0.45 0 1 0 -0.9 0M97.2 201.6a0.45 0.45 0 1 0 0.9 0a0.45 0.45 0 1 0 -0.9 0M95.3 213.1a0.45 0.45 0 1 0 0.9 0a0.45 0.45 0 1 0 -0.9 0M94.9 208.6a0.45 0.45 0 1 0 0.9 0a0.45 0.45 0 1 0 -0.9 0M94.5 208.1a0.45 0.45 0 1 0 0.9 0a0.45 0.45 0 1 0 -0.9 0M97.3 185.7a0.45 0.45 0 1 0 0.9 0a0.45 0.45 0 1 0 -0.9 0M94.6 202.3a0.45 0.45 0 1 0 0.9 0a0.45 0.45 0 1 0 -0.9 0M93.6 211.8a0.45 0.45 0 1 0 0.9 0a0.45 0.45 0 1 0 -0.9 0M95.2 200.0a0.45 0.45 0 1 0 0.9 0a0.45 0.45 0 1 0 -0.9 0M97.3 190.8a0.45 0.45 0 1 0 0.9 0a0.45 0.45 0 1 0 -0.9 0M96.7 209.2a0.45 0.45 0 1 0 0.9 0a0.45 0.45 0 1 0 -0.9 0M95.9 185.8a0.45 0.45 0 1 0 0.9 0a0.45 0.45 0 1 0 -0.9 0M96.7 200.3a0.45 0.45 0 1 0 0.9 0a0.45 0.45 0 1 0 -0.9 0M95.5 195.9a0.45 0.45 0 1 0 0.9 0a0.45 0.45 0 1 0 -0.9 0M96.6 204.9a0.45 0.45 0 1 0 0.9 0a0.45 0.45 0 1 0 -0.9 0M97.8 194.3a0.45 0.45 0 1 0 0.9 0a0.45 0.45 0 1 0 -0.9 0M95.0 210.0a0.45 0.45 0 1 0 0.9 0a0.45 0.45 0 1 0 -0.9 0M95.1 195.2a0.45 0.45 0 1 0 0.9 0a0.45 0.45 0 1 0 -0.9 0M97.1 192.7a0.45 0.45 0 1 0 0.9 0a0.45 0.45 0 1 0 -0.9 0M97.3 199.2a0.45 0.45 0 1 0 0.9 0a0.45 0.45 0 1 0 -0.9 0M96.6 203.4a0.45 0.45 0 1 0 0.9 0a0.45 0.45 0 1 0 -0.9 0M96.3 204.4a0.45 0.45 0 1 0 0.9 0a0.45 0.45 0 1 0 -0.9 0M96.4 191.3a0.45 0.45 0 1 0 0.9 0a0.45 0.45 0 1 0 -0.9 0" fill="#44b4bc" fill-opacity="0.85"/><path d="M97.4 184.8a0.45 0.45 0 1 0 0.9 0a0.45 0.45 0 1 0 -0.9 0M96.8 198.5a0.45 0.45 0 1 0 0.9 0a0.45 0.45 0 1 0 -0.9 0M95.9 188.0a0.45 0.45 0 1 0 0.9 0a0.45 0.45 0 1 0 -0.9 0M96.6 186.5a0.45 0.45 0 1 0 0.9 0a0.45 0.45 0 1 0 -0.9 0M93.8 209.5a0.45 0.45 0 1 0 0.9 0a0.45 0.45 0 1 0 -0.9 0M97.1 193.4a0.45 0.45 0 1 0 0.9 0a0.45 0.45 0 1 0 -0.9 0M95.4 208.6a0.45 0.45 0 1 0 0.9 0a0.45 0.45 0 1 0 -0.9 0M97.9 193.4a0.45 0.45 0 1 0 0.9 0a0.45 0.45 0 1 0 -0.9 0M98.5 191.2a0.45 0.45 0 1 0 0.9 0a0.45 0.45 0 1 0 -0.9 0M97.1 204.7a0.45 0.45 0 1 0 0.9 0a0.45 0.45 0 1 0 -0.9 0M97.5 186.8a0.45 0.45 0 1 0 0.9 0a0.45 0.45 0 1 0 -0.9 0M95.3 196.7a0.45 0.45 0 1 0 0.9 0a0.45 0.45 0 1 0 -0.9 0M94.7 201.0a0.45 0.45 0 1 0 0.9 0a0.45 0.45 0 1 0 -0.9 0M98.1 189.3a0.45 0.45 0 1 0 0.9 0a0.45 0.45 0 1 0 -0.9 0M97.0 206.4a0.45 0.45 0 1 0 0.9 0a0.45 0.45 0 1 0 -0.9 0M98.1 188.8a0.45 0.45 0 1 0 0.9 0a0.45 0.45 0 1 0 -0.9 0M97.3 189.8a0.45 0.45 0 1 0 0.9 0a0.45 0.45 0 1 0 -0.9 0M95.6 212.8a0.45 0.45 0 1 0 0.9 0a0.45 0.45 0 1 0 -0.9 0M96.0 190.0a0.45 0.45 0 1 0 0.9 0a0.45 0.45 0 1 0 -0.9 0M96.5 206.6a0.45 0.45 0 1 0 0.9 0a0.45 0.45 0 1 0 -0.9 0M97.3 190.7a0.45 0.45 0 1 0 0.9 0a0.45 0.45 0 1 0 -0.9 0M95.8 199.8a0.45 0.45 0 1 0 0.9 0a0.45 0.45 0 1 0 -0.9 0M95.0 204.7a0.45 0.45 0 1 0 0.9 0a0.45 0.45 0 1 0 -0.9 0M97.6 200.9a0.45 0.45 0 1 0 0.9 0a0.45 0.45 0 1 0 -0.9 0M96.1 193.2a0.45 0.45 0 1 0 0.9 0a0.45 0.45 0 1 0 -0.9 0M97.4 198.6a0.45 0.45 0 1 0 0.9 0a0.45 0.45 0 1 0 -0.9 0M96.7 199.1a0.45 0.45 0 1 0 0.9 0a0.45 0.45 0 1 0 -0.9 0M95.6 189.4a0.45 0.45 0 1 0 0.9 0a0.45 0.45 0 1 0 -0.9 0M97.2 201.1a0.45 0.45 0 1 0 0.9 0a0.45 0.45 0 1 0 -0.9 0M94.7 204.8a0.45 0.45 0 1 0 0.9 0a0.45 0.45 0 1 0 -0.9 0M95.9 193.5a0.45 0.45 0 1 0 0.9 0a0.45 0.45 0 1 0 -0.9 0M94.5 206.4a0.45 0.45 0 1 0 0.9 0a0.45 0.45 0 1 0 -0.9 0M96.9 184.7a0.45 0.45 0 1 0 0.9 0a0.45 0.45 0 1 0 -0.9 0M97.6 194.9a0.45 0.45 0 1 0 0.9 0a0.45 0.45 0 1 0 -0.9 0M95.6 192.4a0.45 0.45 0 1 0 0.9 0a0.45 0.45 0 1 0 -0.9 0M95.8 210.0a0.45 0.45 0 1 0 0.9 0a0.45 0.45 0 1 0 -0.9 0M93.8 213.0a0.45 0.45 0 1 0 0.9 0a0.45 0.45 0 1 0 -0.9 0M95.8 210.6a0.45 0.45 0 1 0 0.9 0a0.45 0.45 0 1 0 -0.9 0M97.6 189.9a0.45 0.45 0 1 0 0.9 0a0.45 0.45 0 1 0 -0.9 0M96.7 191.0a0.45 0.45 0 1 0 0.9 0a0.45 0.45 0 1 0 -0.9 0M95.8 205.3a0.45 0.45 0 1 0 0.9 0a0.45 0.45 0 1 0 -0.9 0M95.9 203.8a0.45 0.45 0 1 0 0.9 0a0.45 0.45 0 1 0 -0.9 0M97.2 196.8a0.45 0.45 0 1 0 0.9 0a0.45 0.45 0 1 0 -0.9 0M96.6 186.1a0.45 0.45 0 1 0 0.9 0a0.45 0.45 0 1 0 -0.9 0M97.1 185.5a0.45 0.45 0 1 0 0.9 0a0.45 0.45 0 1 0 -0.9 0M95.5 197.7a0.45 0.45 0 1 0 0.9 0a0.45 0.45 0 1 0 -0.9 0M95.8 197.4a0.45 0.45 0 1 0 0.9 0a0.45 0.45 0 1 0 -0.9 0M97.2 198.7a0.45 0.45 0 1 0 0.9 0a0.45 0.45 0 1 0 -0.9 0M98.0 195.7a0.45 0.45 0 1 0 0.9 0a0.45 0.45 0 1 0 -0.9 0M95.5 212.1a0.45 0.45 0 1 0 0.9 0a0.45 0.45 0 1 0 -0.9 0M98.2 189.5a0.45 0.45 0 1 0 0.9 0a0.45 0.45 0 1 0 -0.9 0M95.5 193.0a0.45 0.45 0 1 0 0.9 0a0.45 0.45 0 1 0 -0.9 0M98.0 193.9a0.45 0.45 0 1 0 0.9 0a0.45 0.45 0 1 0 -0.9 0M97.0 188.1a0.45 0.45 0 1 0 0.9 0a0.45 0.45 0 1 0 -0.9 0M96.7 207.5a0.45 0.45 0 1 0 0.9 0a0.45 0.45 0 1 0 -0.9 0M95.5 196.3a0.45 0.45 0 1 0 0.9 0a0.45 0.45 0 1 0 -0.9 0M95.9 187.9a0.45 0.45 0 1 0 0.9 0a0.45 0.45 0 1 0 -0.9 0M95.1 206.8a0.45 0.45 0 1 0 0.9 0a0.45 0.45 0 1 0 -0.9 0M95.7 196.4a0.45 0.45 0 1 0 0.9 0a0.45 0.45 0 1 0 -0.9 0M98.5 192.3a0.45 0.45 0 1 0 0.9 0a0.45 0.45 0 1 0 -0.9 0M96.4 210.5a0.45 0.45 0 1 0 0.9 0a0.45 0.45 0 1 0 -0.9 0M97.9 195.4a0.45 0.45 0 1 0 0.9 0a0.45 0.45 0 1 0 -0.9 0M94.8 200.8a0.45 0.45 0 1 0 0.9 0a0.45 0.45 0 1 0 -0.9 0M94.8 210.6a0.45 0.45 0 1 0 0.9 0a0.45 0.45 0 1 0 -0.9 0M95.7 213.6a0.45 0.45 0 1 0 0.9 0a0.45 0.45 0 1 0 -0.9 0M95.2 198.5a0.45 0.45 0 1 0 0.9 0a0.45 0.45 0 1 0 -0.9 0M96.8 199.0a0.45 0.45 0 1 0 0.9 0a0.45 0.45 0 1 0 -0.9 0M95.8 206.0a0.45 0.45 0 1 0 0.9 0a0.45 0.45 0 1 0 -0.9 0M95.0 213.3a0.45 0.45 0 1 0 0.9 0a0.45 0.45 0 1 0 -0.9 0M94.2 208.4a0.45 0.45 0 1 0 0.9 0a0.45 0.45 0 1 0 -0.9 0M95.5 197.6a0.45 0.45 0 1 0 0.9 0a0.45 0.45 0 1 0 -0.9 0M94.4 204.6a0.45 0.45 0 1 0 0.9 0a0.45 0.45 0 1 0 -0.9 0M95.2 213.6a0.45 0.45 0 1 0 0.9 0a0.45 0.45 0 1 0 -0.9 0M96.2 213.1a0.45 0.45 0 1 0 0.9 0a0.45 0.45 0 1 0 -0.9 0M97.9 187.9a0.45 0.45 0 1 0 0.9 0a0.45 0.45 0 1 0 -0.9 0M98.2 194.5a0.45 0.45 0 1 0 0.9 0a0.45 0.45 0 1 0 -0.9 0M95.6 194.8a0.45 0.45 0 1 0 0.9 0a0.45 0.45 0 1 0 -0.9 0M97.9 188.0a0.45 0.45 0 1 0 0.9 0a0.45 0.45 0 1 0 -0.9 0M96.3 193.6a0.45 0.45 0 1 0 0.9 0a0.45 0.45 0 1 0 -0.9 0M95.8 189.7a0.45 0.45 0 1 0 0.9 0a0.45 0.45 0 1 0 -0.9 0M94.5 207.0a0.45 0.45 0 1 0 0.9 0a0.45 0.45 0 1 0 -0.9 0M96.5 204.5a0.45 0.45 0 1 0 0.9 0a0.45 0.45 0 1 0 -0.9 0M94.4 208.6a0.45 0.45 0 1 0 0.9 0a0.45 0.45 0 1 0 -0.9 0M94.2 211.7a0.45 0.45 0 1 0 0.9 0a0.45 0.45 0 1 0 -0.9 0M96.0 198.9a0.45 0.45 0 1 0 0.9 0a0.45 0.45 0 1 0 -0.9 0M95.7 187.5a0.45 0.45 0 1 0 0.9 0a0.45 0.45 0 1 0 -0.9 0M97.6 189.0a0.45 0.45 0 1 0 0.9 0a0.45 0.45 0 1 0 -0.9 0M96.0 193.6a0.45 0.45 0 1 0 0.9 0a0.45 0.45 0 1 0 -0.9 0M95.1 203.8a0.45 0.45 0 1 0 0.9 0a0.45 0.45 0 1 0 -0.9 0M95.9 205.3a0.45 0.45 0 1 0 0.9 0a0.45 0.45 0 1 0 -0.9 0M94.2 209.4a0.45 0.45 0 1 0 0.9 0a0.45 0.45 0 1 0 -0.9 0M97.9 188.4a0.45 0.45 0 1 0 0.9 0a0.45 0.45 0 1 0 -0.9 0M95.8 187.2a0.45 0.45 0 1 0 0.9 0a0.45 0.45 0 1 0 -0.9 0M97.7 195.5a0.45 0.45 0 1 0 0.9 0a0.45 0.45 0 1 0 -0.9 0M95.4 191.6a0.45 0.45 0 1 0 0.9 0a0.45 0.45 0 1 0 -0.9 0M95.5 202.7a0.45 0.45 0 1 0 0.9 0a0.45 0.45 0 1 0 -0.9 0M95.6 199.5a0.45 0.45 0 1 0 0.9 0a0.45 0.45 0 1 0 -0.9 0M94.6 204.3a0.45 0.45 0 1 0 0.9 0a0.45 0.45 0 1 0 -0.9 0M96.1 186.3a0.45 0.45 0 1 0 0.9 0a0.45 0.45 0 1 0 -0.9 0M96.0 213.0a0.45 0.45 0 1 0 0.9 0a0.45 0.45 0 1 0 -0.9 0M97.0 193.5a0.45 0.45 0 1 0 0.9 0a0.45 0.45 0 1 0 -0.9 0M95.2 199.2a0.45 0.45 0 1 0 0.9 0a0.45 0.45 0 1 0 -0.9 0M94.8 210.6a0.45 0.45 0 1 0 0.9 0a0.45 0.45 0 1 0 -0.9 0M96.8 198.2a0.45 0.45 0 1 0 0.9 0a0.45 0.45 0 1 0 -0.9 0M94.4 212.0a0.45 0.45 0 1 0 0.9 0a0.45 0.45 0 1 0 -0.9 0M94.1 211.4a0.45 0.45 0 1 0 0.9 0a0.45 0.45 0 1 0 -0.9 0M95.9 190.6a0.45 0.45 0 1 0 0.9 0a0.45 0.45 0 1 0 -0.9 0M96.9 185.7a0.45 0.45 0 1 0 0.9 0a0.45 0.45 0 1 0 -0.9 0M95.8 212.8a0.45 0.45 0 1 0 0.9 0a0.45 0.45 0 1 0 -0.9 0M95.3 206.6a0.45 0.45 0 1 0 0.9 0a0.45 0.45 0 1 0 -0.9 0M96.1 195.4a0.45 0.45 0 1 0 0.9 0a0.45 0.45 0 1 0 -0.9 0M96.3 186.0a0.45 0.45 0 1 0 0.9 0a0.45 0.45 0 1 0 -0.9 0M98.3 195.2a0.45 0.45 0 1 0 0.9 0a0.45 0.45 0 1 0 -0.9 0M95.1 213.6a0.45 0.45 0 1 0 0.9 0a0.45 0.45 0 1 0 -0.9 0M96.7 201.7a0.45 0.45 0 1 0 0.9 0a0.45 0.45 0 1 0 -0.9 0M94.0 208.1a0.45 0.45 0 1 0 0.9 0a0.45 0.45 0 1 0 -0.9 0M95.2 209.9a0.45 0.45 0 1 0 0.9 0a0.45 0.45 0 1 0 -0.9 0M96.5 198.4a0.45 0.45 0 1 0 0.9 0a0.45 0.45 0 1 0 -0.9 0M96.6 195.1a0.45 0.45 0 1 0 0.9 0a0.45 0.45 0 1 0 -0.9 0M96.6 210.7a0.45 0.45 0 1 0 0.9 0a0.45 0.45 0 1 0 -0.9 0M95.7 196.4a0.45 0.45 0 1 0 0.9 0a0.45 0.45 0 1 0 -0.9 0M97.7 193.7a0.45 0.45 0 1 0 0.9 0a0.45 0.45 0 1 0 -0.9 0M95.7 198.9a0.45 0.45 0 1 0 0.9 0a0.45 0.45 0 1 0 -0.9 0M97.5 204.0a0.45 0.45 0 1 0 0.9 0a0.45 0.45 0 1 0 -0.9 0M99.2 184.8a0.45 0.45 0 1 0 0.9 0a0.45 0.45 0 1 0 -0.9 0M97.5 194.2a0.45 0.45 0 1 0 0.9 0a0.45 0.45 0 1 0 -0.9 0M96.6 190.4a0.45 0.45 0 1 0 0.9 0a0.45 0.45 0 1 0 -0.9 0M97.4 190.7a0.45 0.45 0 1 0 0.9 0a0.45 0.45 0 1 0 -0.9 0M95.6 194.0a0.45 0.45 0 1 0 0.9 0a0.45 0.45 0 1 0 -0.9 0M95.8 187.3a0.45 0.45 0 1 0 0.9 0a0.45 0.45 0 1 0 -0.9 0M95.7 199.4a0.45 0.45 0 1 0 0.9 0a0.45 0.45 0 1 0 -0.9 0M96.2 206.4a0.45 0.45 0 1 0 0.9 0a0.45 0.45 0 1 0 -0.9 0M95.3 198.9a0.45 0.45 0 1 0 0.9 0a0.45 0.45 0 1 0 -0.9 0M95.2 196.2a0.45 0.45 0 1 0 0.9 0a0.45 0.45 0 1 0 -0.9 0M94.0 212.1a0.45 0.45 0 1 0 0.9 0a0.45 0.45 0 1 0 -0.9 0M97.5 186.2a0.45 0.45 0 1 0 0.9 0a0.45 0.45 0 1 0 -0.9 0M94.1 207.1a0.45 0.45 0 1 0 0.9 0a0.45 0.45 0 1 0 -0.9 0M97.2 202.1a0.45 0.45 0 1 0 0.9 0a0.45 0.45 0 1 0 -0.9 0M94.6 209.7a0.45 0.45 0 1 0 0.9 0a0.45 0.45 0 1 0 -0.9 0M96.3 194.5a0.45 0.45 0 1 0 0.9 0a0.45 0.45 0 1 0 -0.9 0M97.5 187.6a0.45 0.45 0 1 0 0.9 0a0.45 0.45 0 1 0 -0.9 0M95.5 199.8a0.45 0.45 0 1 0 0.9 0a0.45 0.45 0 1 0 -0.9 0M96.3 188.1a0.45 0.45 0 1 0 0.9 0a0.45 0.45 0 1 0 -0.9 0M95.3 195.0a0.45 0.45 0 1 0 0.9 0a0.45 0.45 0 1 0 -0.9 0M97.3 204.5a0.45 0.45 0 1 0 0.9 0a0.45 0.45 0 1 0 -0.9 0M97.6 202.0a0.45 0.45 0 1 0 0.9 0a0.45 0.45 0 1 0 -0.9 0M97.3 188.6a0.45 0.45 0 1 0 0.9 0a0.45 0.45 0 1 0 -0.9 0M98.0 188.6a0.45 0.45 0 1 0 0.9 0a0.45 0.45 0 1 0 -0.9 0M99.0 184.0a0.45 0.45 0 1 0 0.9 0a0.45 0.45 0 1 0 -0.9 0M96.2 193.1a0.45 0.45 0 1 0 0.9 0a0.45 0.45 0 1 0 -0.9 0M95.0 201.8a0.45 0.45 0 1 0 0.9 0a0.45 0.45 0 1 0 -0.9 0M96.9 192.0a0.45 0.45 0 1 0 0.9 0a0.45 0.45 0 1 0 -0.9 0M96.2 194.9a0.45 0.45 0 1 0 0.9 0a0.45 0.45 0 1 0 -0.9 0M96.6 210.5a0.45 0.45 0 1 0 0.9 0a0.45 0.45 0 1 0 -0.9 0M96.2 197.4a0.45 0.45 0 1 0 0.9 0a0.45 0.45 0 1 0 -0.9 0M96.9 203.9a0.45 0.45 0 1 0 0.9 0a0.45 0.45 0 1 0 -0.9 0M95.3 213.4a0.45 0.45 0 1 0 0.9 0a0.45 0.45 0 1 0 -0.9 0M94.7 204.5a0.45 0.45 0 1 0 0.9 0a0.45 0.45 0 1 0 -0.9 0M95.1 201.4a0.45 0.45 0 1 0 0.9 0a0.45 0.45 0 1 0 -0.9 0M97.9 195.4a0.45 0.45 0 1 0 0.9 0a0.45 0.45 0 1 0 -0.9 0M96.8 198.2a0.45 0.45 0 1 0 0.9 0a0.45 0.45 0 1 0 -0.9 0M96.6 200.8a0.45 0.45 0 1 0 0.9 0a0.45 0.45 0 1 0 -0.9 0M96.6 191.1a0.45 0.45 0 1 0 0.9 0a0.45 0.45 0 1 0 -0.9 0M96.4 191.3a0.45 0.45 0 1 0 0.9 0a0.45 0.45 0 1 0 -0.9 0M95.2 211.4a0.45 0.45 0 1 0 0.9 0a0.45 0.45 0 1 0 -0.9 0M96.7 194.6a0.45 0.45 0 1 0 0.9 0a0.45 0.45 0 1 0 -0.9 0M96.4 203.9a0.45 0.45 0 1 0 0.9 0a0.45 0.45 0 1 0 -0.9 0M96.0 199.7a0.45 0.45 0 1 0 0.9 0a0.45 0.45 0 1 0 -0.9 0M98.3 189.6a0.45 0.45 0 1 0 0.9 0a0.45 0.45 0 1 0 -0.9 0M95.3 198.4a0.45 0.45 0 1 0 0.9 0a0.45 0.45 0 1 0 -0.9 0M98.0 193.2a0.45 0.45 0 1 0 0.9 0a0.45 0.45 0 1 0 -0.9 0M97.8 191.3a0.45 0.45 0 1 0 0.9 0a0.45 0.45 0 1 0 -0.9 0M96.8 205.1a0.45 0.45 0 1 0 0.9 0a0.45 0.45 0 1 0 -0.9 0M95.7 213.6a0.45 0.45 0 1 0 0.9 0a0.45 0.45 0 1 0 -0.9 0M95.0 198.4a0.45 0.45 0 1 0 0.9 0a0.45 0.45 0 1 0 -0.9 0M97.1 206.8a0.45 0.45 0 1 0 0.9 0a0.45 0.45 0 1 0 -0.9 0M96.7 206.8a0.45 0.45 0 1 0 0.9 0a0.45 0.45 0 1 0 -0.9 0M97.3 197.0a0.45 0.45 0 1 0 0.9 0a0.45 0.45 0 1 0 -0.9 0M97.0 208.3a0.45 0.45 0 1 0 0.9 0a0.45 0.45 0 1 0 -0.9 0M95.9 212.6a0.45 0.45 0 1 0 0.9 0a0.45 0.45 0 1 0 -0.9 0M97.3 185.8a0.45 0.45 0 1 0 0.9 0a0.45 0.45 0 1 0 -0.9 0M94.3 212.3a0.45 0.45 0 1 0 0.9 0a0.45 0.45 0 1 0 -0.9 0M96.4 201.5a0.45 0.45 0 1 0 0.9 0a0.45 0.45 0 1 0 -0.9 0M94.5 201.8a0.45 0.45 0 1 0 0.9 0a0.45 0.45 0 1 0 -0.9 0M95.7 203.8a0.45 0.45 0 1 0 0.9 0a0.45 0.45 0 1 0 -0.9 0M96.9 191.6a0.45 0.45 0 1 0 0.9 0a0.45 0.45 0 1 0 -0.9 0M96.2 204.1a0.45 0.45 0 1 0 0.9 0a0.45 0.45 0 1 0 -0.9 0M96.4 204.7a0.45 0.45 0 1 0 0.9 0a0.45 0.45 0 1 0 -0.9 0M97.1 193.1a0.45 0.45 0 1 0 0.9 0a0.45 0.45 0 1 0 -0.9 0M98.5 193.7a0.45 0.45 0 1 0 0.9 0a0.45 0.45 0 1 0 -0.9 0M95.8 200.8a0.45 0.45 0 1 0 0.9 0a0.45 0.45 0 1 0 -0.9 0M97.7 185.5a0.45 0.45 0 1 0 0.9 0a0.45 0.45 0 1 0 -0.9 0M97.8 191.0a0.45 0.45 0 1 0 0.9 0a0.45 0.45 0 1 0 -0.9 0M96.1 212.5a0.45 0.45 0 1 0 0.9 0a0.45 0.45 0 1 0 -0.9 0M95.7 204.7a0.45 0.45 0 1 0 0.9 0a0.45 0.45 0 1 0 -0.9 0M96.7 198.2a0.45 0.45 0 1 0 0.9 0a0.45 0.45 0 1 0 -0.9 0M98.2 188.7a0.45 0.45 0 1 0 0.9 0a0.45 0.45 0 1 0 -0.9 0M95.2 200.5a0.45 0.45 0 1 0 0.9 0a0.45 0.45 0 1 0 -0.9 0M96.7 208.8a0.45 0.45 0 1 0 0.9 0a0.45 0.45 0 1 0 -0.9 0M97.5 202.6a0.45 0.45 0 1 0 0.9 0a0.45 0.45 0 1 0 -0.9 0M97.1 201.2a0.45 0.45 0 1 0 0.9 0a0.45 0.45 0 1 0 -0.9 0M96.5 190.7a0.45 0.45 0 1 0 0.9 0a0.45 0.45 0 1 0 -0.9 0M95.4 207.1a0.45 0.45 0 1 0 0.9 0a0.45 0.45 0 1 0 -0.9 0M96.6 197.0a0.45 0.45 0 1 0 0.9 0a0.45 0.45 0 1 0 -0.9 0M95.6 204.6a0.45 0.45 0 1 0 0.9 0a0.45 0.45 0 1 0 -0.9 0M95.2 212.3a0.45 0.45 0 1 0 0.9 0a0.45 0.45 0 1 0 -0.9 0" fill="#367478" fill-opacity="0.85"/><path d="M96.4 198.9a0.45 0.45 0 1 0 0.9 0a0.45 0.45 0 1 0 -0.9 0M97.0 204.0a0.45 0.45 0 1 0 0.9 0a0.45 0.45 0 1 0 -0.9 0M95.3 195.6a0.45 0.45 0 1 0 0.9 0a0.45 0.45 0 1 0 -0.9 0M93.8 211.0a0.45 0.45 0 1 0 0.9 0a0.45 0.45 0 1 0 -0.9 0M96.7 189.0a0.45 0.45 0 1 0 0.9 0a0.45 0.45 0 1 0 -0.9 0M94.7 205.6a0.45 0.45 0 1 0 0.9 0a0.45 0.45 0 1 0 -0.9 0M97.4 203.3a0.45 0.45 0 1 0 0.9 0a0.45 0.45 0 1 0 -0.9 0M97.7 194.2a0.45 0.45 0 1 0 0.9 0a0.45 0.45 0 1 0 -0.9 0M97.5 184.4a0.45 0.45 0 1 0 0.9 0a0.45 0.45 0 1 0 -0.9 0M96.9 204.4a0.45 0.45 0 1 0 0.9 0a0.45 0.45 0 1 0 -0.9 0M95.1 210.8a0.45 0.45 0 1 0 0.9 0a0.45 0.45 0 1 0 -0.9 0M95.3 197.9a0.45 0.45 0 1 0 0.9 0a0.45 0.45 0 1 0 -0.9 0M99.2 184.6a0.45 0.45 0 1 0 0.9 0a0.45 0.45 0 1 0 -0.9 0M93.9 209.6a0.45 0.45 0 1 0 0.9 0a0.45 0.45 0 1 0 -0.9 0M98.2 188.7a0.45 0.45 0 1 0 0.9 0a0.45 0.45 0 1 0 -0.9 0M98.1 191.3a0.45 0.45 0 1 0 0.9 0a0.45 0.45 0 1 0 -0.9 0M97.6 194.2a0.45 0.45 0 1 0 0.9 0a0.45 0.45 0 1 0 -0.9 0M98.6 184.5a0.45 0.45 0 1 0 0.9 0a0.45 0.45 0 1 0 -0.9 0M95.8 207.2a0.45 0.45 0 1 0 0.9 0a0.45 0.45 0 1 0 -0.9 0M96.4 207.8a0.45 0.45 0 1 0 0.9 0a0.45 0.45 0 1 0 -0.9 0M94.4 208.0a0.45 0.45 0 1 0 0.9 0a0.45 0.45 0 1 0 -0.9 0M96.2 208.7a0.45 0.45 0 1 0 0.9 0a0.45 0.45 0 1 0 -0.9 0M98.0 198.1a0.45 0.45 0 1 0 0.9 0a0.45 0.45 0 1 0 -0.9 0M96.8 200.2a0.45 0.45 0 1 0 0.9 0a0.45 0.45 0 1 0 -0.9 0M97.4 203.5a0.45 0.45 0 1 0 0.9 0a0.45 0.45 0 1 0 -0.9 0M96.6 209.3a0.45 0.45 0 1 0 0.9 0a0.45 0.45 0 1 0 -0.9 0M97.8 200.4a0.45 0.45 0 1 0 0.9 0a0.45 0.45 0 1 0 -0.9 0M96.0 210.3a0.45 0.45 0 1 0 0.9 0a0.45 0.45 0 1 0 -0.9 0M96.5 189.3a0.45 0.45 0 1 0 0.9 0a0.45 0.45 0 1 0 -0.9 0M97.2 201.4a0.45 0.45 0 1 0 0.9 0a0.45 0.45 0 1 0 -0.9 0M98.2 196.3a0.45 0.45 0 1 0 0.9 0a0.45 0.45 0 1 0 -0.9 0M96.1 202.3a0.45 0.45 0 1 0 0.9 0a0.45 0.45 0 1 0 -0.9 0M96.0 204.9a0.45 0.45 0 1 0 0.9 0a0.45 0.45 0 1 0 -0.9 0M95.7 203.5a0.45 0.45 0 1 0 0.9 0a0.45 0.45 0 1 0 -0.9 0M98.7 187.7a0.45 0.45 0 1 0 0.9 0a0.45 0.45 0 1 0 -0.9 0M98.8 189.6a0.45 0.45 0 1 0 0.9 0a0.45 0.45 0 1 0 -0.9 0M96.5 194.5a0.45 0.45 0 1 0 0.9 0a0.45 0.45 0 1 0 -0.9 0M94.6 201.3a0.45 0.45 0 1 0 0.9 0a0.45 0.45 0 1 0 -0.9 0M97.3 194.6a0.45 0.45 0 1 0 0.9 0a0.45 0.45 0 1 0 -0.9 0M95.2 197.3a0.45 0.45 0 1 0 0.9 0a0.45 0.45 0 1 0 -0.9 0" fill="#d84a5a" fill-opacity="0.85"/><path d="M94.5 207.4a0.45 0.45 0 1 0 0.9 0a0.45 0.45 0 1 0 -0.9 0M97.1 206.2a0.45 0.45 0 1 0 0.9 0a0.45 0.45 0 1 0 -0.9 0M95.8 201.9a0.45 0.45 0 1 0 0.9 0a0.45 0.45 0 1 0 -0.9 0M97.5 184.6a0.45 0.45 0 1 0 0.9 0a0.45 0.45 0 1 0 -0.9 0M95.4 205.8a0.45 0.45 0 1 0 0.9 0a0.45 0.45 0 1 0 -0.9 0M99.1 186.3a0.45 0.45 0 1 0 0.9 0a0.45 0.45 0 1 0 -0.9 0M95.4 209.2a0.45 0.45 0 1 0 0.9 0a0.45 0.45 0 1 0 -0.9 0M95.5 203.0a0.45 0.45 0 1 0 0.9 0a0.45 0.45 0 1 0 -0.9 0M95.3 194.0a0.45 0.45 0 1 0 0.9 0a0.45 0.45 0 1 0 -0.9 0M96.7 185.4a0.45 0.45 0 1 0 0.9 0a0.45 0.45 0 1 0 -0.9 0M95.1 207.1a0.45 0.45 0 1 0 0.9 0a0.45 0.45 0 1 0 -0.9 0M96.2 192.2a0.45 0.45 0 1 0 0.9 0a0.45 0.45 0 1 0 -0.9 0M96.0 213.7a0.45 0.45 0 1 0 0.9 0a0.45 0.45 0 1 0 -0.9 0M96.8 191.9a0.45 0.45 0 1 0 0.9 0a0.45 0.45 0 1 0 -0.9 0M96.3 199.1a0.45 0.45 0 1 0 0.9 0a0.45 0.45 0 1 0 -0.9 0M94.6 201.2a0.45 0.45 0 1 0 0.9 0a0.45 0.45 0 1 0 -0.9 0M94.9 198.2a0.45 0.45 0 1 0 0.9 0a0.45 0.45 0 1 0 -0.9 0M95.3 206.9a0.45 0.45 0 1 0 0.9 0a0.45 0.45 0 1 0 -0.9 0M95.4 191.8a0.45 0.45 0 1 0 0.9 0a0.45 0.45 0 1 0 -0.9 0M95.8 211.4a0.45 0.45 0 1 0 0.9 0a0.45 0.45 0 1 0 -0.9 0M95.8 186.4a0.45 0.45 0 1 0 0.9 0a0.45 0.45 0 1 0 -0.9 0M97.3 194.2a0.45 0.45 0 1 0 0.9 0a0.45 0.45 0 1 0 -0.9 0M93.5 213.7a0.45 0.45 0 1 0 0.9 0a0.45 0.45 0 1 0 -0.9 0M96.3 190.8a0.45 0.45 0 1 0 0.9 0a0.45 0.45 0 1 0 -0.9 0M94.9 211.0a0.45 0.45 0 1 0 0.9 0a0.45 0.45 0 1 0 -0.9 0M94.9 207.2a0.45 0.45 0 1 0 0.9 0a0.45 0.45 0 1 0 -0.9 0M98.2 191.8a0.45 0.45 0 1 0 0.9 0a0.45 0.45 0 1 0 -0.9 0M96.0 195.2a0.45 0.45 0 1 0 0.9 0a0.45 0.45 0 1 0 -0.9 0M96.4 193.2a0.45 0.45 0 1 0 0.9 0a0.45 0.45 0 1 0 -0.9 0M98.8 184.5a0.45 0.45 0 1 0 0.9 0a0.45 0.45 0 1 0 -0.9 0M96.4 191.8a0.45 0.45 0 1 0 0.9 0a0.45 0.45 0 1 0 -0.9 0M97.0 201.5a0.45 0.45 0 1 0 0.9 0a0.45 0.45 0 1 0 -0.9 0M96.8 206.4a0.45 0.45 0 1 0 0.9 0a0.45 0.45 0 1 0 -0.9 0M95.8 190.6a0.45 0.45 0 1 0 0.9 0a0.45 0.45 0 1 0 -0.9 0" fill="#667070" fill-opacity="0.85"/><path d="M94.5 198.0a0.45 0.45 0 1 0 0.9 0a0.45 0.45 0 1 0 -0.9 0M93.4 208.0a0.45 0.45 0 1 0 0.9 0a0.45 0.45 0 1 0 -0.9 0M93.6 200.2a0.45 0.45 0 1 0 0.9 0a0.45 0.45 0 1 0 -0.9 0M95.0 200.6a0.45 0.45 0 1 0 0.9 0a0.45 0.45 0 1 0 -0.9 0M94.0 211.6a0.45 0.45 0 1 0 0.9 0a0.45 0.45 0 1 0 -0.9 0M93.7 212.5a0.45 0.45 0 1 0 0.9 0a0.45 0.45 0 1 0 -0.9 0M94.0 210.2a0.45 0.45 0 1 0 0.9 0a0.45 0.45 0 1 0 -0.9 0M92.8 208.2a0.45 0.45 0 1 0 0.9 0a0.45 0.45 0 1 0 -0.9 0M95.4 198.9a0.45 0.45 0 1 0 0.9 0a0.45 0.45 0 1 0 -0.9 0M93.8 212.1a0.45 0.45 0 1 0 0.9 0a0.45 0.45 0 1 0 -0.9 0M93.9 205.5a0.45 0.45 0 1 0 0.9 0a0.45 0.45 0 1 0 -0.9 0M92.8 210.5a0.45 0.45 0 1 0 0.9 0a0.45 0.45 0 1 0 -0.9 0M94.6 202.9a0.45 0.45 0 1 0 0.9 0a0.45 0.45 0 1 0 -0.9 0M94.4 202.6a0.45 0.45 0 1 0 0.9 0a0.45 0.45 0 1 0 -0.9 0M95.0 200.7a0.45 0.45 0 1 0 0.9 0a0.45 0.45 0 1 0 -0.9 0M92.7 208.3a0.45 0.45 0 1 0 0.9 0a0.45 0.45 0 1 0 -0.9 0M94.5 200.7a0.45 0.45 0 1 0 0.9 0a0.45 0.45 0 1 0 -0.9 0M94.8 202.9a0.45 0.45 0 1 0 0.9 0a0.45 0.45 0 1 0 -0.9 0M92.5 212.7a0.45 0.45 0 1 0 0.9 0a0.45 0.45 0 1 0 -0.9 0M93.1 211.6a0.45 0.45 0 1 0 0.9 0a0.45 0.45 0 1 0 -0.9 0M94.7 202.1a0.45 0.45 0 1 0 0.9 0a0.45 0.45 0 1 0 -0.9 0M94.2 205.9a0.45 0.45 0 1 0 0.9 0a0.45 0.45 0 1 0 -0.9 0M93.4 202.9a0.45 0.45 0 1 0 0.9 0a0.45 0.45 0 1 0 -0.9 0M93.3 209.1a0.45 0.45 0 1 0 0.9 0a0.45 0.45 0 1 0 -0.9 0M93.6 207.8a0.45 0.45 0 1 0 0.9 0a0.45 0.45 0 1 0 -0.9 0M94.1 204.1a0.45 0.45 0 1 0 0.9 0a0.45 0.45 0 1 0 -0.9 0M94.4 198.8a0.45 0.45 0 1 0 0.9 0a0.45 0.45 0 1 0 -0.9 0M93.7 207.9a0.45 0.45 0 1 0 0.9 0a0.45 0.45 0 1 0 -0.9 0M94.4 211.6a0.45 0.45 0 1 0 0.9 0a0.45 0.45 0 1 0 -0.9 0M93.1 204.6a0.45 0.45 0 1 0 0.9 0a0.45 0.45 0 1 0 -0.9 0M93.9 203.2a0.45 0.45 0 1 0 0.9 0a0.45 0.45 0 1 0 -0.9 0M94.4 200.1a0.45 0.45 0 1 0 0.9 0a0.45 0.45 0 1 0 -0.9 0M94.0 199.8a0.45 0.45 0 1 0 0.9 0a0.45 0.45 0 1 0 -0.9 0M94.8 206.7a0.45 0.45 0 1 0 0.9 0a0.45 0.45 0 1 0 -0.9 0M94.3 204.8a0.45 0.45 0 1 0 0.9 0a0.45 0.45 0 1 0 -0.9 0M94.4 211.8a0.45 0.45 0 1 0 0.9 0a0.45 0.45 0 1 0 -0.9 0M93.3 203.0a0.45 0.45 0 1 0 0.9 0a0.45 0.45 0 1 0 -0.9 0M94.0 204.0a0.45 0.45 0 1 0 0.9 0a0.45 0.45 0 1 0 -0.9 0M92.5 212.1a0.45 0.45 0 1 0 0.9 0a0.45 0.45 0 1 0 -0.9 0M92.9 208.6a0.45 0.45 0 1 0 0.9 0a0.45 0.45 0 1 0 -0.9 0M93.7 199.8a0.45 0.45 0 1 0 0.9 0a0.45 0.45 0 1 0 -0.9 0M94.8 200.1a0.45 0.45 0 1 0 0.9 0a0.45 0.45 0 1 0 -0.9 0M93.4 208.0a0.45 0.45 0 1 0 0.9 0a0.45 0.45 0 1 0 -0.9 0M95.2 199.4a0.45 0.45 0 1 0 0.9 0a0.45 0.45 0 1 0 -0.9 0M94.5 203.4a0.45 0.45 0 1 0 0.9 0a0.45 0.45 0 1 0 -0.9 0M93.3 207.4a0.45 0.45 0 1 0 0.9 0a0.45 0.45 0 1 0 -0.9 0M93.6 199.8a0.45 0.45 0 1 0 0.9 0a0.45 0.45 0 1 0 -0.9 0M94.0 208.3a0.45 0.45 0 1 0 0.9 0a0.45 0.45 0 1 0 -0.9 0M94.6 204.6a0.45 0.45 0 1 0 0.9 0a0.45 0.45 0 1 0 -0.9 0M93.8 209.9a0.45 0.45 0 1 0 0.9 0a0.45 0.45 0 1 0 -0.9 0" fill="#58c8c8" fill-opacity="0.85"/><rect x="88.2" y="214.0" width="16.6" height="8.4" fill="#fff" stroke="#c88890" stroke-width="0.4"/><text x="89.2" y="217.1" font-size="2.2" fill="#c04050" font-weight="normal" text-anchor="start" stroke="#c04050" stroke-width="0.24">&#8226; GSE</text><text x="89.2" y="220.3" font-size="2.2" fill="#20a0a0" font-weight="normal" text-anchor="start" stroke="#20a0a0" stroke-width="0.24">&#8226; TCGA</text><text x="95.7" y="217.1" font-size="2.2" fill="#c04050" font-weight="normal" text-anchor="start" stroke="#c04050" stroke-width="0.24">Combat</text><text x="95.7" y="220.3" font-size="2.2" fill="#20a0a0" font-weight="normal" text-anchor="start" stroke="#20a0a0" stroke-width="0.24">GPL570</text><text x="23.8" y="229.3" font-size="2.7" fill="#555" font-weight="normal" text-anchor="middle" stroke="#555" stroke-width="0.2">-1500</text><text x="36.2" y="229.3" font-size="2.7" fill="#555" font-weight="normal" text-anchor="middle" stroke="#555" stroke-width="0.2">-1250</text><text x="48.7" y="229.3" font-size="2.7" fill="#555" font-weight="normal" text-anchor="middle" stroke="#555" stroke-width="0.2">-1000</text><text x="61" y="229.3" font-size="2.7" fill="#555" font-weight="normal" text-anchor="middle" stroke="#555" stroke-width="0.2">-750</text><text x="73.5" y="229.3" font-size="2.7" fill="#555" font-weight="normal" text-anchor="middle" stroke="#555" stroke-width="0.2">-500</text><text x="85.5" y="229.3" font-size="2.7" fill="#555" font-weight="normal" text-anchor="middle" stroke="#555" stroke-width="0.2">-250</text><text x="96.6" y="229.3" font-size="2.7" fill="#555" font-weight="normal" text-anchor="middle" stroke="#555" stroke-width="0.2">0</text><text x="10.0" y="158.7" font-size="2.7" fill="#555" font-weight="normal" text-anchor="middle" transform="rotate(-90 10.0 158.7)" stroke="#555" stroke-width="0.2">200</text><text x="10.0" y="179" font-size="2.7" fill="#555" font-weight="normal" text-anchor="middle" transform="rotate(-90 10.0 179)" stroke="#555" stroke-width="0.2">100</text><text x="10.0" y="198.2" font-size="2.7" fill="#555" font-weight="normal" text-anchor="middle" transform="rotate(-90 10.0 198.2)" stroke="#555" stroke-width="0.2">0</text><text x="10.0" y="216.4" font-size="2.7" fill="#555" font-weight="normal" text-anchor="middle" transform="rotate(-90 10.0 216.4)" stroke="#555" stroke-width="0.2">-100</text><path d="M23.8 222.8v1.2M36.2 222.8v1.2M48.7 222.8v1.2M61 222.8v1.2M73.5 222.8v1.2M85.5 222.8v1.2M96.6 222.8v1.2M13.100000000000001 158.7h1.2M13.100000000000001 179h1.2M13.100000000000001 198.2h1.2M13.100000000000001 216.4h1.2" stroke="#777" stroke-width="0.4"/><text x="58.65" y="235.5" font-size="2.75" fill="#444" font-weight="normal" text-anchor="middle" stroke="#444" stroke-width="0.2">Comp 1: 18.8% variance</text><text x="4.9" y="181.75" font-size="2.5" fill="#444" font-weight="normal" text-anchor="middle" transform="rotate(-90 4.9 181.75)" stroke="#444" stroke-width="0.2">Comp 2: 6.5% variance</text><rect x="121.90" y="6.90" width="1.05" height="3.85" fill="#8a7cb8"/><rect x="122.90" y="6.90" width="5.03" height="3.85" fill="#c4bce0"/><rect x="127.87" y="6.90" width="1.05" height="3.85" fill="#ffffff"/><rect x="128.87" y="6.90" width="1.05" height="3.85" fill="#8a7cb8"/><rect x="129.86" y="6.90" width="1.05" height="3.85" fill="#c4bce0"/><rect x="130.86" y="6.90" width="1.05" height="3.85" fill="#8a7cb8"/><rect x="131.86" y="6.90" width="1.05" height="3.85" fill="#c4bce0"/><rect x="132.85" y="6.90" width="1.05" height="3.85" fill="#ffffff"/><rect x="133.85" y="6.90" width="1.05" height="3.85" fill="#8a7cb8"/><rect x="134.84" y="6.90" width="1.05" height="3.85" fill="#ffffff"/><rect x="135.84" y="6.90" width="2.04" height="3.85" fill="#8a7cb8"/><rect x="137.83" y="6.90" width="3.04" height="3.85" fill="#ffffff"/><rect x="140.82" y="6.90" width="2.04" height="3.85" fill="#e8d0e0"/><rect x="142.81" y="6.90" width="1.05" height="3.85" fill="#ffffff"/><rect x="143.80" y="6.90" width="1.05" height="3.85" fill="#e8d0e0"/><rect x="144.80" y="6.90" width="1.05" height="3.85" fill="#ffffff"/><rect x="145.79" y="6.90" width="1.05" height="3.85" fill="#b8acd8"/><rect x="146.79" y="6.90" width="2.04" height="3.85" fill="#ffffff"/><rect x="148.78" y="6.90" width="1.05" height="3.85" fill="#e8d0e0"/><rect x="149.78" y="6.90" width="2.04" height="3.85" fill="#ffffff"/><rect x="151.77" y="6.90" width="2.04" height="3.85" fill="#e8d0e0"/><rect x="153.76" y="6.90" width="1.05" height="3.85" fill="#ffffff"/><rect x="154.76" y="6.90" width="1.05" height="3.85" fill="#e8d0e0"/><rect x="155.75" y="6.90" width="1.05" height="3.85" fill="#b8acd8"/><rect x="156.75" y="6.90" width="1.05" height="3.85" fill="#e8d0e0"/><rect x="157.74" y="6.90" width="1.05" height="3.85" fill="#ffffff"/><rect x="158.74" y="6.90" width="1.05" height="3.85" fill="#e8b8c8"/><rect x="159.73" y="6.90" width="1.05" height="3.85" fill="#f6dce0"/><rect x="160.73" y="6.90" width="2.04" height="3.85" fill="#e8b8c8"/><rect x="162.72" y="6.90" width="6.02" height="3.85" fill="#ffffff"/><rect x="168.69" y="6.90" width="1.05" height="3.85" fill="#f6dce0"/><rect x="169.69" y="6.90" width="1.05" height="3.85" fill="#ffffff"/><rect x="170.69" y="6.90" width="1.05" height="3.85" fill="#f6dce0"/><rect x="171.68" y="6.90" width="2.04" height="3.85" fill="#ffffff"/><rect x="173.67" y="6.90" width="1.05" height="3.85" fill="#f6dce0"/><rect x="174.67" y="6.90" width="3.04" height="3.85" fill="#ffffff"/><rect x="177.65" y="6.90" width="1.05" height="3.85" fill="#f6dce0"/><rect x="178.65" y="6.90" width="1.05" height="3.85" fill="#ffffff"/><rect x="179.65" y="6.90" width="1.05" height="3.85" fill="#e8b8c8"/><rect x="180.64" y="6.90" width="1.05" height="3.85" fill="#ffffff"/><rect x="181.64" y="6.90" width="2.04" height="3.85" fill="#f6dce0"/><rect x="183.63" y="6.90" width="1.05" height="3.85" fill="#ffffff"/><rect x="184.62" y="6.90" width="1.05" height="3.85" fill="#f6dce0"/><rect x="185.62" y="6.90" width="1.05" height="3.85" fill="#ffffff"/><rect x="186.61" y="6.90" width="1.05" height="3.85" fill="#f6dce0"/><rect x="187.61" y="6.90" width="3.04" height="3.85" fill="#ffffff"/><rect x="190.60" y="6.90" width="1.05" height="3.85" fill="#e8b8c8"/><rect x="191.59" y="6.90" width="1.05" height="3.85" fill="#ffffff"/><rect x="192.59" y="6.90" width="1.05" height="3.85" fill="#f6dce0"/><rect x="193.58" y="6.90" width="2.04" height="3.85" fill="#e8b8c8"/><rect x="195.58" y="6.90" width="3.04" height="3.85" fill="#ffffff"/><rect x="198.56" y="6.90" width="1.05" height="3.85" fill="#f6dce0"/><rect x="199.56" y="6.90" width="1.05" height="3.85" fill="#ffffff"/><rect x="200.55" y="6.90" width="2.04" height="3.85" fill="#f6dce0"/><rect x="202.54" y="6.90" width="2.04" height="3.85" fill="#ffffff"/><rect x="204.54" y="6.90" width="1.05" height="3.85" fill="#e8b8c8"/><rect x="205.53" y="6.90" width="2.04" height="3.85" fill="#ffffff"/><rect x="207.52" y="6.90" width="1.05" height="3.85" fill="#f6dce0"/><rect x="208.52" y="6.90" width="1.05" height="3.85" fill="#e8b8c8"/><rect x="209.51" y="6.90" width="1.05" height="3.85" fill="#ffffff"/><rect x="210.51" y="6.90" width="1.05" height="3.85" fill="#e8b8c8"/><rect x="211.51" y="6.90" width="6.02" height="3.85" fill="#ffffff"/><rect x="217.48" y="6.90" width="1.05" height="3.85" fill="#f6dce0"/><rect x="218.47" y="6.90" width="1.05" height="3.85" fill="#e8b8c8"/><rect x="219.47" y="6.90" width="2.04" height="3.85" fill="#ffffff"/><rect x="221.46" y="6.90" width="1.05" height="3.85" fill="#e8b8c8"/><rect x="222.46" y="6.90" width="3.04" height="3.85" fill="#ffffff"/><rect x="225.44" y="6.90" width="2.04" height="3.85" fill="#f6dce0"/><rect x="227.44" y="6.90" width="3.04" height="3.85" fill="#ffffff"/><rect x="230.42" y="6.90" width="1.05" height="3.85" fill="#e8b8c8"/><rect x="231.42" y="6.90" width="2.04" height="3.85" fill="#ffffff"/><rect x="233.41" y="6.90" width="1.05" height="3.85" fill="#f6dce0"/><rect x="234.40" y="6.90" width="1.05" height="3.85" fill="#ffffff"/><rect x="121.90" y="11.47" width="2.04" height="3.85" fill="#d0c8e8"/><rect x="123.89" y="11.47" width="1.05" height="3.85" fill="#9890c8"/><rect x="124.89" y="11.47" width="1.05" height="3.85" fill="#d0c8e8"/><rect x="125.88" y="11.47" width="1.05" height="3.85" fill="#ffffff"/><rect x="126.88" y="11.47" width="1.05" height="3.85" fill="#9890c8"/><rect x="127.87" y="11.47" width="1.05" height="3.85" fill="#ffffff"/><rect x="128.87" y="11.47" width="1.05" height="3.85" fill="#d0c8e8"/><rect x="129.86" y="11.47" width="2.04" height="3.85" fill="#9890c8"/><rect x="131.86" y="11.47" width="3.04" height="3.85" fill="#d0c8e8"/><rect x="134.84" y="11.47" width="2.04" height="3.85" fill="#9890c8"/><rect x="136.83" y="11.47" width="1.05" height="3.85" fill="#d0c8e8"/><rect x="137.83" y="11.47" width="2.04" height="3.85" fill="#9890c8"/><rect x="139.82" y="11.47" width="1.05" height="3.85" fill="#f4d0d8"/><rect x="140.82" y="11.47" width="1.05" height="3.85" fill="#ffffff"/><rect x="141.81" y="11.47" width="1.05" height="3.85" fill="#f4d0d8"/><rect x="142.81" y="11.47" width="2.04" height="3.85" fill="#e4aabb"/><rect x="144.80" y="11.47" width="3.04" height="3.85" fill="#f4d0d8"/><rect x="147.79" y="11.47" width="2.04" height="3.85" fill="#ffffff"/><rect x="149.78" y="11.47" width="2.04" height="3.85" fill="#e4aabb"/><rect x="151.77" y="11.47" width="1.05" height="3.85" fill="#f4d0d8"/><rect x="152.76" y="11.47" width="2.04" height="3.85" fill="#e4aabb"/><rect x="154.76" y="11.47" width="2.04" height="3.85" fill="#f4d0d8"/><rect x="156.75" y="11.47" width="1.05" height="3.85" fill="#e4aabb"/><rect x="157.74" y="11.47" width="2.04" height="3.85" fill="#f4d0d8"/><rect x="159.73" y="11.47" width="1.05" height="3.85" fill="#ffffff"/><rect x="160.73" y="11.47" width="1.05" height="3.85" fill="#f4d0d8"/><rect x="161.72" y="11.47" width="1.05" height="3.85" fill="#e4aabb"/><rect x="162.72" y="11.47" width="1.05" height="3.85" fill="#f4d0d8"/><rect x="163.72" y="11.47" width="1.05" height="3.85" fill="#ffffff"/><rect x="164.71" y="11.47" width="1.05" height="3.85" fill="#e4aabb"/><rect x="165.71" y="11.47" width="2.04" height="3.85" fill="#f4d0d8"/><rect x="167.70" y="11.47" width="1.05" height="3.85" fill="#ffffff"/><rect x="168.69" y="11.47" width="1.05" height="3.85" fill="#f4d0d8"/><rect x="169.69" y="11.47" width="1.05" height="3.85" fill="#ffffff"/><rect x="170.69" y="11.47" width="2.04" height="3.85" fill="#f4d0d8"/><rect x="172.68" y="11.47" width="1.05" height="3.85" fill="#e4aabb"/><rect x="173.67" y="11.47" width="1.05" height="3.85" fill="#f4d0d8"/><rect x="174.67" y="11.47" width="1.05" height="3.85" fill="#e4aabb"/><rect x="175.66" y="11.47" width="3.04" height="3.85" fill="#f4d0d8"/><rect x="178.65" y="11.47" width="1.05" height="3.85" fill="#e4aabb"/><rect x="179.65" y="11.47" width="1.05" height="3.85" fill="#f4d0d8"/><rect x="180.64" y="11.47" width="2.04" height="3.85" fill="#e4aabb"/><rect x="182.63" y="11.47" width="1.05" height="3.85" fill="#f4d0d8"/><rect x="183.63" y="11.47" width="2.04" height="3.85" fill="#e4aabb"/><rect x="185.62" y="11.47" width="2.04" height="3.85" fill="#f4d0d8"/><rect x="187.61" y="11.47" width="1.05" height="3.85" fill="#ffffff"/><rect x="188.61" y="11.47" width="2.04" height="3.85" fill="#e4aabb"/><rect x="190.60" y="11.47" width="4.03" height="3.85" fill="#f4d0d8"/><rect x="194.58" y="11.47" width="1.05" height="3.85" fill="#ffffff"/><rect x="195.58" y="11.47" width="1.05" height="3.85" fill="#e4aabb"/><rect x="196.57" y="11.47" width="4.03" height="3.85" fill="#f4d0d8"/><rect x="200.55" y="11.47" width="1.05" height="3.85" fill="#e4aabb"/><rect x="201.55" y="11.47" width="2.04" height="3.85" fill="#f4d0d8"/><rect x="203.54" y="11.47" width="2.04" height="3.85" fill="#ffffff"/><rect x="205.53" y="11.47" width="2.04" height="3.85" fill="#f4d0d8"/><rect x="207.52" y="11.47" width="1.05" height="3.85" fill="#ffffff"/><rect x="208.52" y="11.47" width="2.04" height="3.85" fill="#f4d0d8"/><rect x="210.51" y="11.47" width="1.05" height="3.85" fill="#ffffff"/><rect x="211.51" y="11.47" width="1.05" height="3.85" fill="#f4d0d8"/><rect x="212.50" y="11.47" width="2.04" height="3.85" fill="#ffffff"/><rect x="214.49" y="11.47" width="2.04" height="3.85" fill="#f4d0d8"/><rect x="216.48" y="11.47" width="2.04" height="3.85" fill="#ffffff"/><rect x="218.47" y="11.47" width="5.03" height="3.85" fill="#f4d0d8"/><rect x="223.45" y="11.47" width="1.05" height="3.85" fill="#ffffff"/><rect x="224.45" y="11.47" width="1.05" height="3.85" fill="#e4aabb"/><rect x="225.44" y="11.47" width="1.05" height="3.85" fill="#ffffff"/><rect x="226.44" y="11.47" width="1.05" height="3.85" fill="#f4d0d8"/><rect x="227.44" y="11.47" width="1.05" height="3.85" fill="#ffffff"/><rect x="228.43" y="11.47" width="1.05" height="3.85" fill="#f4d0d8"/><rect x="229.43" y="11.47" width="1.05" height="3.85" fill="#ffffff"/><rect x="230.42" y="11.47" width="1.05" height="3.85" fill="#e4aabb"/><rect x="231.42" y="11.47" width="1.05" height="3.85" fill="#f4d0d8"/><rect x="232.41" y="11.47" width="1.05" height="3.85" fill="#ffffff"/><rect x="233.41" y="11.47" width="1.05" height="3.85" fill="#f4d0d8"/><rect x="234.40" y="11.47" width="1.05" height="3.85" fill="#ffffff"/><rect x="121.90" y="16.04" width="1.05" height="3.85" fill="#d04838"/><rect x="122.90" y="16.04" width="1.05" height="3.85" fill="#b02a3c"/><rect x="123.89" y="16.04" width="1.05" height="3.85" fill="#d04838"/><rect x="124.89" y="16.04" width="1.05" height="3.85" fill="#8a2040"/><rect x="125.88" y="16.04" width="1.05" height="3.85" fill="#e87832"/><rect x="126.88" y="16.04" width="1.05" height="3.85" fill="#b02a3c"/><rect x="127.87" y="16.04" width="1.05" height="3.85" fill="#e87832"/><rect x="128.87" y="16.04" width="1.05" height="3.85" fill="#d04838"/><rect x="129.86" y="16.04" width="2.04" height="3.85" fill="#b02a3c"/><rect x="131.86" y="16.04" width="2.04" height="3.85" fill="#d04838"/><rect x="133.85" y="16.04" width="2.04" height="3.85" fill="#8a2040"/><rect x="135.84" y="16.04" width="1.05" height="3.85" fill="#d04838"/><rect x="136.83" y="16.04" width="1.05" height="3.85" fill="#b02a3c"/><rect x="137.83" y="16.04" width="1.05" height="3.85" fill="#fbe070"/><rect x="138.83" y="16.04" width="2.04" height="3.85" fill="#f8c848"/><rect x="140.82" y="16.04" width="2.04" height="3.85" fill="#f09a30"/><rect x="142.81" y="16.04" width="1.05" height="3.85" fill="#f8c848"/><rect x="143.80" y="16.04" width="1.05" height="3.85" fill="#f09a30"/><rect x="144.80" y="16.04" width="1.05" height="3.85" fill="#fbe070"/><rect x="145.79" y="16.04" width="1.05" height="3.85" fill="#f8c848"/><rect x="146.79" y="16.04" width="1.05" height="3.85" fill="#f09a30"/><rect x="147.79" y="16.04" width="2.04" height="3.85" fill="#f8c848"/><rect x="149.78" y="16.04" width="1.05" height="3.85" fill="#d85030"/><rect x="150.77" y="16.04" width="1.05" height="3.85" fill="#d84a34"/><rect x="151.77" y="16.04" width="2.04" height="3.85" fill="#b03040"/><rect x="153.76" y="16.04" width="1.05" height="3.85" fill="#e87030"/><rect x="154.76" y="16.04" width="1.05" height="3.85" fill="#d84a34"/><rect x="155.75" y="16.04" width="1.05" height="3.85" fill="#b03040"/><rect x="156.75" y="16.04" width="2.04" height="3.85" fill="#d84a34"/><rect x="158.74" y="16.04" width="1.05" height="3.85" fill="#a02c44"/><rect x="159.73" y="16.04" width="1.05" height="3.85" fill="#c83838"/><rect x="160.73" y="16.04" width="3.04" height="3.85" fill="#a02c44"/><rect x="163.72" y="16.04" width="1.05" height="3.85" fill="#e06030"/><rect x="164.71" y="16.04" width="1.05" height="3.85" fill="#6a1848"/><rect x="165.71" y="16.04" width="2.04" height="3.85" fill="#a02c44"/><rect x="167.70" y="16.04" width="1.05" height="3.85" fill="#6a1848"/><rect x="168.69" y="16.04" width="1.05" height="3.85" fill="#c83838"/><rect x="169.69" y="16.04" width="1.05" height="3.85" fill="#e06030"/><rect x="170.69" y="16.04" width="2.04" height="3.85" fill="#a02c44"/><rect x="172.68" y="16.04" width="1.05" height="3.85" fill="#c83838"/><rect x="173.67" y="16.04" width="1.05" height="3.85" fill="#6a1848"/><rect x="174.67" y="16.04" width="1.05" height="3.85" fill="#e06030"/><rect x="175.66" y="16.04" width="1.05" height="3.85" fill="#a02c44"/><rect x="176.66" y="16.04" width="1.05" height="3.85" fill="#e06030"/><rect x="177.65" y="16.04" width="1.05" height="3.85" fill="#c83838"/><rect x="178.65" y="16.04" width="1.05" height="3.85" fill="#a02c44"/><rect x="179.65" y="16.04" width="1.05" height="3.85" fill="#6a1848"/><rect x="180.64" y="16.04" width="1.05" height="3.85" fill="#a02c44"/><rect x="181.64" y="16.04" width="2.04" height="3.85" fill="#6a1848"/><rect x="183.63" y="16.04" width="1.05" height="3.85" fill="#4a1040"/><rect x="184.62" y="16.04" width="1.05" height="3.85" fill="#1a0a20"/><rect x="185.62" y="16.04" width="1.05" height="3.85" fill="#8a2040"/><rect x="186.61" y="16.04" width="1.05" height="3.85" fill="#1a0a20"/><rect x="187.61" y="16.04" width="1.05" height="3.85" fill="#4a1040"/><rect x="188.61" y="16.04" width="2.04" height="3.85" fill="#1a0a20"/><rect x="190.60" y="16.04" width="3.04" height="3.85" fill="#4a1040"/><rect x="193.58" y="16.04" width="1.05" height="3.85" fill="#8a2040"/><rect x="194.58" y="16.04" width="1.05" height="3.85" fill="#4a1040"/><rect x="195.58" y="16.04" width="2.04" height="3.85" fill="#1a0a20"/><rect x="197.57" y="16.04" width="1.05" height="3.85" fill="#4a1040"/><rect x="198.56" y="16.04" width="2.04" height="3.85" fill="#c03838"/><rect x="200.55" y="16.04" width="1.05" height="3.85" fill="#4a1040"/><rect x="201.55" y="16.04" width="1.05" height="3.85" fill="#1a0a20"/><rect x="202.54" y="16.04" width="1.05" height="3.85" fill="#8a2040"/><rect x="203.54" y="16.04" width="2.04" height="3.85" fill="#4a1040"/><rect x="205.53" y="16.04" width="1.05" height="3.85" fill="#8a2040"/><rect x="206.53" y="16.04" width="2.04" height="3.85" fill="#4a1040"/><rect x="208.52" y="16.04" width="1.05" height="3.85" fill="#c03838"/><rect x="209.51" y="16.04" width="2.04" height="3.85" fill="#4a1040"/><rect x="211.51" y="16.04" width="1.05" height="3.85" fill="#c03838"/><rect x="212.50" y="16.04" width="2.04" height="3.85" fill="#1a0a20"/><rect x="214.49" y="16.04" width="1.05" height="3.85" fill="#8a2040"/><rect x="215.49" y="16.04" width="1.05" height="3.85" fill="#1a0a20"/><rect x="216.48" y="16.04" width="2.04" height="3.85" fill="#8a2040"/><rect x="218.47" y="16.04" width="1.05" height="3.85" fill="#4a1040"/><rect x="219.47" y="16.04" width="1.05" height="3.85" fill="#1a0a20"/><rect x="220.47" y="16.04" width="1.05" height="3.85" fill="#8a2040"/><rect x="221.46" y="16.04" width="1.05" height="3.85" fill="#c03838"/><rect x="222.46" y="16.04" width="1.05" height="3.85" fill="#1a0a20"/><rect x="223.45" y="16.04" width="3.04" height="3.85" fill="#4a1040"/><rect x="226.44" y="16.04" width="2.04" height="3.85" fill="#1a0a20"/><rect x="228.43" y="16.04" width="1.05" height="3.85" fill="#4a1040"/><rect x="229.43" y="16.04" width="1.05" height="3.85" fill="#8a2040"/><rect x="230.42" y="16.04" width="2.04" height="3.85" fill="#1a0a20"/><rect x="232.41" y="16.04" width="2.04" height="3.85" fill="#8a2040"/><rect x="234.40" y="16.04" width="1.05" height="3.85" fill="#4a1040"/><rect x="121.90" y="20.61" width="1.05" height="3.85" fill="#e87830"/><rect x="122.90" y="20.61" width="1.05" height="3.85" fill="#d04838"/><rect x="123.89" y="20.61" width="2.04" height="3.85" fill="#f0a040"/><rect x="125.88" y="20.61" width="1.05" height="3.85" fill="#d04838"/><rect x="126.88" y="20.61" width="1.05" height="3.85" fill="#e87830"/><rect x="127.87" y="20.61" width="1.05" height="3.85" fill="#f0a040"/><rect x="128.87" y="20.61" width="1.05" height="3.85" fill="#e87830"/><rect x="129.86" y="20.61" width="1.05" height="3.85" fill="#d04838"/><rect x="130.86" y="20.61" width="1.05" height="3.85" fill="#f0a040"/><rect x="131.86" y="20.61" width="1.05" height="3.85" fill="#d04838"/><rect x="132.85" y="20.61" width="2.04" height="3.85" fill="#e87830"/><rect x="134.84" y="20.61" width="1.05" height="3.85" fill="#f0a040"/><rect x="135.84" y="20.61" width="1.05" height="3.85" fill="#f8c040"/><rect x="136.83" y="20.61" width="2.04" height="3.85" fill="#f09030"/><rect x="138.83" y="20.61" width="1.05" height="3.85" fill="#f8c040"/><rect x="139.82" y="20.61" width="1.05" height="3.85" fill="#f09030"/><rect x="140.82" y="20.61" width="2.04" height="3.85" fill="#f8c040"/><rect x="142.81" y="20.61" width="1.05" height="3.85" fill="#f09030"/><rect x="143.80" y="20.61" width="2.04" height="3.85" fill="#f8c040"/><rect x="145.79" y="20.61" width="2.04" height="3.85" fill="#f09030"/><rect x="147.79" y="20.61" width="1.05" height="3.85" fill="#e06030"/><rect x="148.78" y="20.61" width="3.04" height="3.85" fill="#c83838"/><rect x="151.77" y="20.61" width="1.05" height="3.85" fill="#e05a30"/><rect x="152.76" y="20.61" width="1.05" height="3.85" fill="#c83838"/><rect x="153.76" y="20.61" width="1.05" height="3.85" fill="#a02840"/><rect x="154.76" y="20.61" width="2.04" height="3.85" fill="#c83838"/><rect x="156.75" y="20.61" width="1.05" height="3.85" fill="#e05a30"/><rect x="157.74" y="20.61" width="1.05" height="3.85" fill="#c83838"/><rect x="158.74" y="20.61" width="1.05" height="3.85" fill="#3a0c30"/><rect x="159.73" y="20.61" width="1.05" height="3.85" fill="#c03838"/><rect x="160.73" y="20.61" width="1.05" height="3.85" fill="#e06830"/><rect x="161.72" y="20.61" width="1.05" height="3.85" fill="#c03838"/><rect x="162.72" y="20.61" width="1.05" height="3.85" fill="#3a0c30"/><rect x="163.72" y="20.61" width="1.05" height="3.85" fill="#901c40"/><rect x="164.71" y="20.61" width="1.05" height="3.85" fill="#c03838"/><rect x="165.71" y="20.61" width="1.05" height="3.85" fill="#901c40"/><rect x="166.70" y="20.61" width="1.05" height="3.85" fill="#3a0c30"/><rect x="167.70" y="20.61" width="1.05" height="3.85" fill="#c03838"/><rect x="168.69" y="20.61" width="2.04" height="3.85" fill="#901c40"/><rect x="170.69" y="20.61" width="1.05" height="3.85" fill="#c03838"/><rect x="171.68" y="20.61" width="1.05" height="3.85" fill="#3a0c30"/><rect x="172.68" y="20.61" width="1.05" height="3.85" fill="#901c40"/><rect x="173.67" y="20.61" width="2.04" height="3.85" fill="#3a0c30"/><rect x="175.66" y="20.61" width="1.05" height="3.85" fill="#901c40"/><rect x="176.66" y="20.61" width="1.05" height="3.85" fill="#3a0c30"/><rect x="177.65" y="20.61" width="2.04" height="3.85" fill="#901c40"/><rect x="179.65" y="20.61" width="1.05" height="3.85" fill="#c03838"/><rect x="180.64" y="20.61" width="1.05" height="3.85" fill="#901c40"/><rect x="181.64" y="20.61" width="1.05" height="3.85" fill="#e06830"/><rect x="182.63" y="20.61" width="1.05" height="3.85" fill="#c03838"/><rect x="183.63" y="20.61" width="1.05" height="3.85" fill="#901c40"/><rect x="184.62" y="20.61" width="1.05" height="3.85" fill="#9a2440"/><rect x="185.62" y="20.61" width="1.05" height="3.85" fill="#100818"/><rect x="186.61" y="20.61" width="1.05" height="3.85" fill="#9a2440"/><rect x="187.61" y="20.61" width="2.04" height="3.85" fill="#100818"/><rect x="189.60" y="20.61" width="1.05" height="3.85" fill="#9a2440"/><rect x="190.60" y="20.61" width="1.05" height="3.85" fill="#4a1040"/><rect x="191.59" y="20.61" width="2.04" height="3.85" fill="#100818"/><rect x="193.58" y="20.61" width="1.05" height="3.85" fill="#9a2440"/><rect x="194.58" y="20.61" width="1.05" height="3.85" fill="#4a1040"/><rect x="195.58" y="20.61" width="1.05" height="3.85" fill="#9a2440"/><rect x="196.57" y="20.61" width="1.05" height="3.85" fill="#100818"/><rect x="197.57" y="20.61" width="1.05" height="3.85" fill="#4a1040"/><rect x="198.56" y="20.61" width="3.04" height="3.85" fill="#100818"/><rect x="201.55" y="20.61" width="1.05" height="3.85" fill="#4a1040"/><rect x="202.54" y="20.61" width="3.04" height="3.85" fill="#100818"/><rect x="205.53" y="20.61" width="1.05" height="3.85" fill="#9a2440"/><rect x="206.53" y="20.61" width="1.05" height="3.85" fill="#4a1040"/><rect x="207.52" y="20.61" width="1.05" height="3.85" fill="#9a2440"/><rect x="208.52" y="20.61" width="1.05" height="3.85" fill="#4a1040"/><rect x="209.51" y="20.61" width="1.05" height="3.85" fill="#9a2440"/><rect x="210.51" y="20.61" width="2.04" height="3.85" fill="#4a1040"/><rect x="212.50" y="20.61" width="1.05" height="3.85" fill="#100818"/><rect x="213.50" y="20.61" width="1.05" height="3.85" fill="#9a2440"/><rect x="214.49" y="20.61" width="5.03" height="3.85" fill="#100818"/><rect x="219.47" y="20.61" width="1.05" height="3.85" fill="#9a2440"/><rect x="220.47" y="20.61" width="1.05" height="3.85" fill="#4a1040"/><rect x="221.46" y="20.61" width="1.05" height="3.85" fill="#9a2440"/><rect x="222.46" y="20.61" width="1.05" height="3.85" fill="#100818"/><rect x="223.45" y="20.61" width="1.05" height="3.85" fill="#4a1040"/><rect x="224.45" y="20.61" width="1.05" height="3.85" fill="#9a2440"/><rect x="225.44" y="20.61" width="2.04" height="3.85" fill="#4a1040"/><rect x="227.44" y="20.61" width="6.02" height="3.85" fill="#100818"/><rect x="233.41" y="20.61" width="1.05" height="3.85" fill="#9a2440"/><rect x="234.40" y="20.61" width="1.05" height="3.85" fill="#100818"/><rect x="121.90" y="25.18" width="7.02" height="3.85" fill="#e8403c"/><rect x="128.87" y="25.18" width="1.05" height="3.85" fill="#60d0d8"/><rect x="129.86" y="25.18" width="1.05" height="3.85" fill="#e8403c"/><rect x="130.86" y="25.18" width="1.05" height="3.85" fill="#60d0d8"/><rect x="131.86" y="25.18" width="3.04" height="3.85" fill="#e8403c"/><rect x="134.84" y="25.18" width="1.05" height="3.85" fill="#60d0d8"/><rect x="135.84" y="25.18" width="11.00" height="3.85" fill="#e8403c"/><rect x="146.79" y="25.18" width="1.05" height="3.85" fill="#2a5a80"/><rect x="147.79" y="25.18" width="9.01" height="3.85" fill="#e8403c"/><rect x="156.75" y="25.18" width="1.05" height="3.85" fill="#60d0d8"/><rect x="157.74" y="25.18" width="2.04" height="3.85" fill="#e8403c"/><rect x="159.73" y="25.18" width="1.05" height="3.85" fill="#2a5a80"/><rect x="160.73" y="25.18" width="6.02" height="3.85" fill="#e8403c"/><rect x="166.70" y="25.18" width="1.05" height="3.85" fill="#2a5a80"/><rect x="167.70" y="25.18" width="4.03" height="3.85" fill="#e8403c"/><rect x="171.68" y="25.18" width="1.05" height="3.85" fill="#30b0a0"/><rect x="172.68" y="25.18" width="1.05" height="3.85" fill="#e8403c"/><rect x="173.67" y="25.18" width="1.05" height="3.85" fill="#60d0d8"/><rect x="174.67" y="25.18" width="10.01" height="3.85" fill="#e8403c"/><rect x="184.62" y="25.18" width="1.05" height="3.85" fill="#2a5a80"/><rect x="185.62" y="25.18" width="8.01" height="3.85" fill="#e8403c"/><rect x="193.58" y="25.18" width="1.05" height="3.85" fill="#60d0d8"/><rect x="194.58" y="25.18" width="1.05" height="3.85" fill="#e8403c"/><rect x="195.58" y="25.18" width="1.05" height="3.85" fill="#30b0a0"/><rect x="196.57" y="25.18" width="8.01" height="3.85" fill="#e8403c"/><rect x="204.54" y="25.18" width="1.05" height="3.85" fill="#60d0d8"/><rect x="205.53" y="25.18" width="2.04" height="3.85" fill="#e8403c"/><rect x="207.52" y="25.18" width="1.05" height="3.85" fill="#30b0a0"/><rect x="208.52" y="25.18" width="5.03" height="3.85" fill="#e8403c"/><rect x="213.50" y="25.18" width="1.05" height="3.85" fill="#30b0a0"/><rect x="214.49" y="25.18" width="18.97" height="3.85" fill="#e8403c"/><rect x="233.41" y="25.18" width="1.05" height="3.85" fill="#30b0a0"/><rect x="234.40" y="25.18" width="1.05" height="3.85" fill="#e8403c"/><rect x="121.90" y="29.75" width="5.03" height="3.85" fill="#ffffff"/><rect x="126.88" y="29.75" width="1.05" height="3.85" fill="#6a5a98"/><rect x="127.87" y="29.75" width="17.97" height="3.85" fill="#ffffff"/><rect x="145.79" y="29.75" width="1.05" height="3.85" fill="#c8c0e0"/><rect x="146.79" y="29.75" width="1.05" height="3.85" fill="#6a5a98"/><rect x="147.79" y="29.75" width="13.99" height="3.85" fill="#ffffff"/><rect x="161.72" y="29.75" width="1.05" height="3.85" fill="#6a5a98"/><rect x="162.72" y="29.75" width="3.04" height="3.85" fill="#ffffff"/><rect x="165.71" y="29.75" width="1.05" height="3.85" fill="#c8c0e0"/><rect x="166.70" y="29.75" width="4.03" height="3.85" fill="#ffffff"/><rect x="170.69" y="29.75" width="1.05" height="3.85" fill="#6a5a98"/><rect x="171.68" y="29.75" width="1.05" height="3.85" fill="#ffffff"/><rect x="172.68" y="29.75" width="1.05" height="3.85" fill="#6a5a98"/><rect x="173.67" y="29.75" width="5.03" height="3.85" fill="#ffffff"/><rect x="178.65" y="29.75" width="1.05" height="3.85" fill="#6a5a98"/><rect x="179.65" y="29.75" width="3.04" height="3.85" fill="#ffffff"/><rect x="182.63" y="29.75" width="1.05" height="3.85" fill="#c8c0e0"/><rect x="183.63" y="29.75" width="10.01" height="3.85" fill="#ffffff"/><rect x="193.58" y="29.75" width="1.05" height="3.85" fill="#6a5a98"/><rect x="194.58" y="29.75" width="2.04" height="3.85" fill="#c8c0e0"/><rect x="196.57" y="29.75" width="9.01" height="3.85" fill="#ffffff"/><rect x="205.53" y="29.75" width="1.05" height="3.85" fill="#c8c0e0"/><rect x="206.53" y="29.75" width="4.03" height="3.85" fill="#ffffff"/><rect x="210.51" y="29.75" width="1.05" height="3.85" fill="#c8c0e0"/><rect x="211.51" y="29.75" width="14.98" height="3.85" fill="#ffffff"/><rect x="226.44" y="29.75" width="1.05" height="3.85" fill="#6a5a98"/><rect x="227.44" y="29.75" width="1.05" height="3.85" fill="#ffffff"/><rect x="228.43" y="29.75" width="1.05" height="3.85" fill="#c8c0e0"/><rect x="229.43" y="29.75" width="6.02" height="3.85" fill="#ffffff"/><rect x="121.90" y="34.32" width="10.01" height="3.85" fill="#ffffff"/><rect x="131.86" y="34.32" width="1.05" height="3.85" fill="#5a4a8a"/><rect x="132.85" y="34.32" width="5.03" height="3.85" fill="#ffffff"/><rect x="137.83" y="34.32" width="1.05" height="3.85" fill="#5a4a8a"/><rect x="138.83" y="34.32" width="1.05" height="3.85" fill="#c0b8dc"/><rect x="139.82" y="34.32" width="1.05" height="3.85" fill="#ffffff"/><rect x="140.82" y="34.32" width="1.05" height="3.85" fill="#c0b8dc"/><rect x="141.81" y="34.32" width="4.03" height="3.85" fill="#ffffff"/><rect x="145.79" y="34.32" width="1.05" height="3.85" fill="#c0b8dc"/><rect x="146.79" y="34.32" width="1.05" height="3.85" fill="#ffffff"/><rect x="147.79" y="34.32" width="1.05" height="3.85" fill="#5a4a8a"/><rect x="148.78" y="34.32" width="6.02" height="3.85" fill="#ffffff"/><rect x="154.76" y="34.32" width="1.05" height="3.85" fill="#c0b8dc"/><rect x="155.75" y="34.32" width="1.05" height="3.85" fill="#5a4a8a"/><rect x="156.75" y="34.32" width="7.02" height="3.85" fill="#ffffff"/><rect x="163.72" y="34.32" width="1.05" height="3.85" fill="#c0b8dc"/><rect x="164.71" y="34.32" width="4.03" height="3.85" fill="#ffffff"/><rect x="168.69" y="34.32" width="1.05" height="3.85" fill="#c0b8dc"/><rect x="169.69" y="34.32" width="6.02" height="3.85" fill="#ffffff"/><rect x="175.66" y="34.32" width="2.04" height="3.85" fill="#c0b8dc"/><rect x="177.65" y="34.32" width="4.03" height="3.85" fill="#ffffff"/><rect x="181.64" y="34.32" width="1.05" height="3.85" fill="#5a4a8a"/><rect x="182.63" y="34.32" width="3.04" height="3.85" fill="#ffffff"/><rect x="185.62" y="34.32" width="1.05" height="3.85" fill="#5a4a8a"/><rect x="186.61" y="34.32" width="12.99" height="3.85" fill="#ffffff"/><rect x="199.56" y="34.32" width="1.05" height="3.85" fill="#c0b8dc"/><rect x="200.55" y="34.32" width="1.05" height="3.85" fill="#5a4a8a"/><rect x="201.55" y="34.32" width="1.05" height="3.85" fill="#ffffff"/><rect x="202.54" y="34.32" width="1.05" height="3.85" fill="#c0b8dc"/><rect x="203.54" y="34.32" width="1.05" height="3.85" fill="#ffffff"/><rect x="204.54" y="34.32" width="1.05" height="3.85" fill="#5a4a8a"/><rect x="205.53" y="34.32" width="2.04" height="3.85" fill="#ffffff"/><rect x="207.52" y="34.32" width="1.05" height="3.85" fill="#c0b8dc"/><rect x="208.52" y="34.32" width="10.01" height="3.85" fill="#ffffff"/><rect x="218.47" y="34.32" width="2.04" height="3.85" fill="#c0b8dc"/><rect x="220.47" y="34.32" width="1.05" height="3.85" fill="#ffffff"/><rect x="221.46" y="34.32" width="2.04" height="3.85" fill="#5a4a8a"/><rect x="223.45" y="34.32" width="1.05" height="3.85" fill="#ffffff"/><rect x="224.45" y="34.32" width="1.05" height="3.85" fill="#5a4a8a"/><rect x="225.44" y="34.32" width="10.01" height="3.85" fill="#ffffff"/><rect x="121.90" y="38.89" width="2.04" height="3.85" fill="#b8acd8"/><rect x="123.89" y="38.89" width="1.05" height="3.85" fill="#ffffff"/><rect x="124.89" y="38.89" width="2.04" height="3.85" fill="#b8acd8"/><rect x="126.88" y="38.89" width="1.05" height="3.85" fill="#6a5a98"/><rect x="127.87" y="38.89" width="1.05" height="3.85" fill="#b8acd8"/><rect x="128.87" y="38.89" width="2.04" height="3.85" fill="#3c2c6c"/><rect x="130.86" y="38.89" width="1.05" height="3.85" fill="#ffffff"/><rect x="131.86" y="38.89" width="2.04" height="3.85" fill="#6a5a98"/><rect x="133.85" y="38.89" width="1.05" height="3.85" fill="#b8acd8"/><rect x="134.84" y="38.89" width="1.05" height="3.85" fill="#ffffff"/><rect x="135.84" y="38.89" width="2.04" height="3.85" fill="#b8acd8"/><rect x="137.83" y="38.89" width="1.05" height="3.85" fill="#6a5a98"/><rect x="138.83" y="38.89" width="1.05" height="3.85" fill="#3c2c6c"/><rect x="139.82" y="38.89" width="3.04" height="3.85" fill="#b8acd8"/><rect x="142.81" y="38.89" width="2.04" height="3.85" fill="#6a5a98"/><rect x="144.80" y="38.89" width="3.04" height="3.85" fill="#b8acd8"/><rect x="147.79" y="38.89" width="1.05" height="3.85" fill="#6a5a98"/><rect x="148.78" y="38.89" width="1.05" height="3.85" fill="#b8acd8"/><rect x="149.78" y="38.89" width="1.05" height="3.85" fill="#ffffff"/><rect x="150.77" y="38.89" width="1.05" height="3.85" fill="#b8acd8"/><rect x="151.77" y="38.89" width="1.05" height="3.85" fill="#ffffff"/><rect x="152.76" y="38.89" width="1.05" height="3.85" fill="#6a5a98"/><rect x="153.76" y="38.89" width="1.05" height="3.85" fill="#ffffff"/><rect x="154.76" y="38.89" width="1.05" height="3.85" fill="#b8acd8"/><rect x="155.75" y="38.89" width="1.05" height="3.85" fill="#ffffff"/><rect x="156.75" y="38.89" width="1.05" height="3.85" fill="#b8acd8"/><rect x="157.74" y="38.89" width="1.05" height="3.85" fill="#3c2c6c"/><rect x="158.74" y="38.89" width="2.04" height="3.85" fill="#b8acd8"/><rect x="160.73" y="38.89" width="1.05" height="3.85" fill="#3c2c6c"/><rect x="161.72" y="38.89" width="1.05" height="3.85" fill="#ffffff"/><rect x="162.72" y="38.89" width="1.05" height="3.85" fill="#b8acd8"/><rect x="163.72" y="38.89" width="1.05" height="3.85" fill="#6a5a98"/><rect x="164.71" y="38.89" width="1.05" height="3.85" fill="#ffffff"/><rect x="165.71" y="38.89" width="1.05" height="3.85" fill="#6a5a98"/><rect x="166.70" y="38.89" width="1.05" height="3.85" fill="#b8acd8"/><rect x="167.70" y="38.89" width="1.05" height="3.85" fill="#ffffff"/><rect x="168.69" y="38.89" width="4.03" height="3.85" fill="#b8acd8"/><rect x="172.68" y="38.89" width="2.04" height="3.85" fill="#ffffff"/><rect x="174.67" y="38.89" width="1.05" height="3.85" fill="#3c2c6c"/><rect x="175.66" y="38.89" width="2.04" height="3.85" fill="#b8acd8"/><rect x="177.65" y="38.89" width="1.05" height="3.85" fill="#ffffff"/><rect x="178.65" y="38.89" width="1.05" height="3.85" fill="#b8acd8"/><rect x="179.65" y="38.89" width="1.05" height="3.85" fill="#3c2c6c"/><rect x="180.64" y="38.89" width="1.05" height="3.85" fill="#6a5a98"/><rect x="181.64" y="38.89" width="1.05" height="3.85" fill="#b8acd8"/><rect x="182.63" y="38.89" width="1.05" height="3.85" fill="#ffffff"/><rect x="183.63" y="38.89" width="1.05" height="3.85" fill="#b8acd8"/><rect x="184.62" y="38.89" width="1.05" height="3.85" fill="#6a5a98"/><rect x="185.62" y="38.89" width="2.04" height="3.85" fill="#b8acd8"/><rect x="187.61" y="38.89" width="1.05" height="3.85" fill="#3c2c6c"/><rect x="188.61" y="38.89" width="2.04" height="3.85" fill="#6a5a98"/><rect x="190.60" y="38.89" width="2.04" height="3.85" fill="#ffffff"/><rect x="192.59" y="38.89" width="1.05" height="3.85" fill="#6a5a98"/><rect x="193.58" y="38.89" width="1.05" height="3.85" fill="#b8acd8"/><rect x="194.58" y="38.89" width="1.05" height="3.85" fill="#3c2c6c"/><rect x="195.58" y="38.89" width="1.05" height="3.85" fill="#6a5a98"/><rect x="196.57" y="38.89" width="1.05" height="3.85" fill="#3c2c6c"/><rect x="197.57" y="38.89" width="1.05" height="3.85" fill="#b8acd8"/><rect x="198.56" y="38.89" width="1.05" height="3.85" fill="#3c2c6c"/><rect x="199.56" y="38.89" width="1.05" height="3.85" fill="#6a5a98"/><rect x="200.55" y="38.89" width="1.05" height="3.85" fill="#3c2c6c"/><rect x="201.55" y="38.89" width="1.05" height="3.85" fill="#ffffff"/><rect x="202.54" y="38.89" width="1.05" height="3.85" fill="#6a5a98"/><rect x="203.54" y="38.89" width="1.05" height="3.85" fill="#b8acd8"/><rect x="204.54" y="38.89" width="2.04" height="3.85" fill="#3c2c6c"/><rect x="206.53" y="38.89" width="1.05" height="3.85" fill="#ffffff"/><rect x="207.52" y="38.89" width="4.03" height="3.85" fill="#b8acd8"/><rect x="211.51" y="38.89" width="1.05" height="3.85" fill="#6a5a98"/><rect x="212.50" y="38.89" width="2.04" height="3.85" fill="#ffffff"/><rect x="214.49" y="38.89" width="1.05" height="3.85" fill="#b8acd8"/><rect x="215.49" y="38.89" width="1.05" height="3.85" fill="#ffffff"/><rect x="216.48" y="38.89" width="1.05" height="3.85" fill="#b8acd8"/><rect x="217.48" y="38.89" width="2.04" height="3.85" fill="#3c2c6c"/><rect x="219.47" y="38.89" width="2.04" height="3.85" fill="#ffffff"/><rect x="221.46" y="38.89" width="1.05" height="3.85" fill="#6a5a98"/><rect x="222.46" y="38.89" width="1.05" height="3.85" fill="#3c2c6c"/><rect x="223.45" y="38.89" width="1.05" height="3.85" fill="#b8acd8"/><rect x="224.45" y="38.89" width="2.04" height="3.85" fill="#ffffff"/><rect x="226.44" y="38.89" width="2.04" height="3.85" fill="#3c2c6c"/><rect x="228.43" y="38.89" width="2.04" height="3.85" fill="#ffffff"/><rect x="230.42" y="38.89" width="2.04" height="3.85" fill="#b8acd8"/><rect x="232.41" y="38.89" width="1.05" height="3.85" fill="#6a5a98"/><rect x="233.41" y="38.89" width="1.05" height="3.85" fill="#b8acd8"/><rect x="234.40" y="38.89" width="1.05" height="3.85" fill="#6a5a98"/><rect x="121.90" y="43.46" width="2.04" height="3.85" fill="#f8e8b0"/><rect x="123.89" y="43.46" width="1.05" height="3.85" fill="#3a2010"/><rect x="124.89" y="43.46" width="8.01" height="3.85" fill="#f8e8b0"/><rect x="132.85" y="43.46" width="1.05" height="3.85" fill="#b09060"/><rect x="133.85" y="43.46" width="4.03" height="3.85" fill="#f8e8b0"/><rect x="137.83" y="43.46" width="1.05" height="3.85" fill="#fcf2d0"/><rect x="138.83" y="43.46" width="4.03" height="3.85" fill="#f8e8b0"/><rect x="142.81" y="43.46" width="1.05" height="3.85" fill="#fcf2d0"/><rect x="143.80" y="43.46" width="3.04" height="3.85" fill="#f8e8b0"/><rect x="146.79" y="43.46" width="1.05" height="3.85" fill="#fcf2d0"/><rect x="147.79" y="43.46" width="9.01" height="3.85" fill="#f8e8b0"/><rect x="156.75" y="43.46" width="1.05" height="3.85" fill="#b09060"/><rect x="157.74" y="43.46" width="3.04" height="3.85" fill="#f8e8b0"/><rect x="160.73" y="43.46" width="2.04" height="3.85" fill="#b09060"/><rect x="162.72" y="43.46" width="1.05" height="3.85" fill="#3a2010"/><rect x="163.72" y="43.46" width="2.04" height="3.85" fill="#f8e8b0"/><rect x="165.71" y="43.46" width="1.05" height="3.85" fill="#b09060"/><rect x="166.70" y="43.46" width="2.04" height="3.85" fill="#f8e8b0"/><rect x="168.69" y="43.46" width="1.05" height="3.85" fill="#fcf2d0"/><rect x="169.69" y="43.46" width="2.04" height="3.85" fill="#f8e8b0"/><rect x="171.68" y="43.46" width="1.05" height="3.85" fill="#b09060"/><rect x="172.68" y="43.46" width="2.04" height="3.85" fill="#f8e8b0"/><rect x="174.67" y="43.46" width="1.05" height="3.85" fill="#fcf2d0"/><rect x="175.66" y="43.46" width="10.01" height="3.85" fill="#f8e8b0"/><rect x="185.62" y="43.46" width="1.05" height="3.85" fill="#b09060"/><rect x="186.61" y="43.46" width="2.04" height="3.85" fill="#f8e8b0"/><rect x="188.61" y="43.46" width="2.04" height="3.85" fill="#fcf2d0"/><rect x="190.60" y="43.46" width="1.05" height="3.85" fill="#f8e8b0"/><rect x="191.59" y="43.46" width="1.05" height="3.85" fill="#fcf2d0"/><rect x="192.59" y="43.46" width="5.03" height="3.85" fill="#f8e8b0"/><rect x="197.57" y="43.46" width="1.05" height="3.85" fill="#fcf2d0"/><rect x="198.56" y="43.46" width="1.05" height="3.85" fill="#f8e8b0"/><rect x="199.56" y="43.46" width="1.05" height="3.85" fill="#fcf2d0"/><rect x="200.55" y="43.46" width="3.04" height="3.85" fill="#f8e8b0"/><rect x="203.54" y="43.46" width="1.05" height="3.85" fill="#fcf2d0"/><rect x="204.54" y="43.46" width="3.04" height="3.85" fill="#f8e8b0"/><rect x="207.52" y="43.46" width="1.05" height="3.85" fill="#fcf2d0"/><rect x="208.52" y="43.46" width="1.05" height="3.85" fill="#f8e8b0"/><rect x="209.51" y="43.46" width="1.05" height="3.85" fill="#fcf2d0"/><rect x="210.51" y="43.46" width="3.04" height="3.85" fill="#f8e8b0"/><rect x="213.50" y="43.46" width="1.05" height="3.85" fill="#fcf2d0"/><rect x="214.49" y="43.46" width="3.04" height="3.85" fill="#f8e8b0"/><rect x="217.48" y="43.46" width="1.05" height="3.85" fill="#b09060"/><rect x="218.47" y="43.46" width="7.02" height="3.85" fill="#f8e8b0"/><rect x="225.44" y="43.46" width="2.04" height="3.85" fill="#fcf2d0"/><rect x="227.44" y="43.46" width="2.04" height="3.85" fill="#f8e8b0"/><rect x="229.43" y="43.46" width="1.05" height="3.85" fill="#fcf2d0"/><rect x="230.42" y="43.46" width="1.05" height="3.85" fill="#f8e8b0"/><rect x="231.42" y="43.46" width="1.05" height="3.85" fill="#fcf2d0"/><rect x="232.41" y="43.46" width="3.04" height="3.85" fill="#f8e8b0"/><rect x="121.90" y="48.03" width="2.04" height="3.85" fill="#7a68b0"/><rect x="123.89" y="48.03" width="1.05" height="3.85" fill="#e8e4f4"/><rect x="124.89" y="48.03" width="1.05" height="3.85" fill="#7a68b0"/><rect x="125.88" y="48.03" width="3.04" height="3.85" fill="#b0a4d8"/><rect x="128.87" y="48.03" width="1.05" height="3.85" fill="#e8e4f4"/><rect x="129.86" y="48.03" width="5.03" height="3.85" fill="#b0a4d8"/><rect x="134.84" y="48.03" width="2.04" height="3.85" fill="#7a68b0"/><rect x="136.83" y="48.03" width="2.04" height="3.85" fill="#b0a4d8"/><rect x="138.83" y="48.03" width="2.04" height="3.85" fill="#7a68b0"/><rect x="140.82" y="48.03" width="1.05" height="3.85" fill="#b0a4d8"/><rect x="141.81" y="48.03" width="1.05" height="3.85" fill="#7a68b0"/><rect x="142.81" y="48.03" width="1.05" height="3.85" fill="#e8e4f4"/><rect x="143.80" y="48.03" width="2.04" height="3.85" fill="#b0a4d8"/><rect x="145.79" y="48.03" width="2.04" height="3.85" fill="#7a68b0"/><rect x="147.79" y="48.03" width="1.05" height="3.85" fill="#e8e4f4"/><rect x="148.78" y="48.03" width="2.04" height="3.85" fill="#7a68b0"/><rect x="150.77" y="48.03" width="1.05" height="3.85" fill="#b0a4d8"/><rect x="151.77" y="48.03" width="1.05" height="3.85" fill="#7a68b0"/><rect x="152.76" y="48.03" width="1.05" height="3.85" fill="#e8e4f4"/><rect x="153.76" y="48.03" width="4.03" height="3.85" fill="#b0a4d8"/><rect x="157.74" y="48.03" width="1.05" height="3.85" fill="#e8e4f4"/><rect x="158.74" y="48.03" width="1.05" height="3.85" fill="#b0a4d8"/><rect x="159.73" y="48.03" width="2.04" height="3.85" fill="#7a68b0"/><rect x="161.72" y="48.03" width="1.05" height="3.85" fill="#e8e4f4"/><rect x="162.72" y="48.03" width="1.05" height="3.85" fill="#b0a4d8"/><rect x="163.72" y="48.03" width="1.05" height="3.85" fill="#7a68b0"/><rect x="164.71" y="48.03" width="2.04" height="3.85" fill="#b0a4d8"/><rect x="166.70" y="48.03" width="1.05" height="3.85" fill="#7a68b0"/><rect x="167.70" y="48.03" width="1.05" height="3.85" fill="#e8e4f4"/><rect x="168.69" y="48.03" width="1.05" height="3.85" fill="#7a68b0"/><rect x="169.69" y="48.03" width="1.05" height="3.85" fill="#b0a4d8"/><rect x="170.69" y="48.03" width="1.05" height="3.85" fill="#e8e4f4"/><rect x="171.68" y="48.03" width="1.05" height="3.85" fill="#b0a4d8"/><rect x="172.68" y="48.03" width="2.04" height="3.85" fill="#7a68b0"/><rect x="174.67" y="48.03" width="5.03" height="3.85" fill="#b0a4d8"/><rect x="179.65" y="48.03" width="1.05" height="3.85" fill="#7a68b0"/><rect x="180.64" y="48.03" width="1.05" height="3.85" fill="#b0a4d8"/><rect x="181.64" y="48.03" width="1.05" height="3.85" fill="#e8e4f4"/><rect x="182.63" y="48.03" width="3.04" height="3.85" fill="#b0a4d8"/><rect x="185.62" y="48.03" width="1.05" height="3.85" fill="#e8e4f4"/><rect x="186.61" y="48.03" width="1.05" height="3.85" fill="#7a68b0"/><rect x="187.61" y="48.03" width="1.05" height="3.85" fill="#e8e4f4"/><rect x="188.61" y="48.03" width="1.05" height="3.85" fill="#7a68b0"/><rect x="189.60" y="48.03" width="4.03" height="3.85" fill="#b0a4d8"/><rect x="193.58" y="48.03" width="1.05" height="3.85" fill="#7a68b0"/><rect x="194.58" y="48.03" width="2.04" height="3.85" fill="#b0a4d8"/><rect x="196.57" y="48.03" width="1.05" height="3.85" fill="#7a68b0"/><rect x="197.57" y="48.03" width="2.04" height="3.85" fill="#e8e4f4"/><rect x="199.56" y="48.03" width="1.05" height="3.85" fill="#7a68b0"/><rect x="200.55" y="48.03" width="1.05" height="3.85" fill="#b0a4d8"/><rect x="201.55" y="48.03" width="1.05" height="3.85" fill="#7a68b0"/><rect x="202.54" y="48.03" width="1.05" height="3.85" fill="#b0a4d8"/><rect x="203.54" y="48.03" width="1.05" height="3.85" fill="#7a68b0"/><rect x="204.54" y="48.03" width="1.05" height="3.85" fill="#b0a4d8"/><rect x="205.53" y="48.03" width="1.05" height="3.85" fill="#e8e4f4"/><rect x="206.53" y="48.03" width="1.05" height="3.85" fill="#7a68b0"/><rect x="207.52" y="48.03" width="2.04" height="3.85" fill="#b0a4d8"/><rect x="209.51" y="48.03" width="1.05" height="3.85" fill="#7a68b0"/><rect x="210.51" y="48.03" width="1.05" height="3.85" fill="#e8e4f4"/><rect x="211.51" y="48.03" width="2.04" height="3.85" fill="#b0a4d8"/><rect x="213.50" y="48.03" width="1.05" height="3.85" fill="#7a68b0"/><rect x="214.49" y="48.03" width="1.05" height="3.85" fill="#e8e4f4"/><rect x="215.49" y="48.03" width="1.05" height="3.85" fill="#b0a4d8"/><rect x="216.48" y="48.03" width="1.05" height="3.85" fill="#7a68b0"/><rect x="217.48" y="48.03" width="1.05" height="3.85" fill="#e8e4f4"/><rect x="218.47" y="48.03" width="1.05" height="3.85" fill="#b0a4d8"/><rect x="219.47" y="48.03" width="1.05" height="3.85" fill="#e8e4f4"/><rect x="220.47" y="48.03" width="1.05" height="3.85" fill="#7a68b0"/><rect x="221.46" y="48.03" width="2.04" height="3.85" fill="#b0a4d8"/><rect x="223.45" y="48.03" width="1.05" height="3.85" fill="#e8e4f4"/><rect x="224.45" y="48.03" width="1.05" height="3.85" fill="#7a68b0"/><rect x="225.44" y="48.03" width="1.05" height="3.85" fill="#b0a4d8"/><rect x="226.44" y="48.03" width="1.05" height="3.85" fill="#e8e4f4"/><rect x="227.44" y="48.03" width="2.04" height="3.85" fill="#7a68b0"/><rect x="229.43" y="48.03" width="1.05" height="3.85" fill="#b0a4d8"/><rect x="230.42" y="48.03" width="1.05" height="3.85" fill="#7a68b0"/><rect x="231.42" y="48.03" width="1.05" height="3.85" fill="#b0a4d8"/><rect x="232.41" y="48.03" width="2.04" height="3.85" fill="#7a68b0"/><rect x="234.40" y="48.03" width="1.05" height="3.85" fill="#b0a4d8"/><rect x="121.90" y="52.60" width="2.04" height="3.85" fill="#f8d890"/><rect x="123.89" y="52.60" width="1.05" height="3.85" fill="#f0b860"/><rect x="124.89" y="52.60" width="1.05" height="3.85" fill="#fbe8b0"/><rect x="125.88" y="52.60" width="1.05" height="3.85" fill="#f8d890"/><rect x="126.88" y="52.60" width="1.05" height="3.85" fill="#a8c870"/><rect x="127.87" y="52.60" width="4.03" height="3.85" fill="#f8d890"/><rect x="131.86" y="52.60" width="1.05" height="3.85" fill="#f0b860"/><rect x="132.85" y="52.60" width="1.05" height="3.85" fill="#fbe8b0"/><rect x="133.85" y="52.60" width="1.05" height="3.85" fill="#f8d890"/><rect x="134.84" y="52.60" width="1.05" height="3.85" fill="#f0b860"/><rect x="135.84" y="52.60" width="1.05" height="3.85" fill="#f8d890"/><rect x="136.83" y="52.60" width="1.05" height="3.85" fill="#f0b860"/><rect x="137.83" y="52.60" width="3.04" height="3.85" fill="#f8d890"/><rect x="140.82" y="52.60" width="1.05" height="3.85" fill="#fbe8b0"/><rect x="141.81" y="52.60" width="1.05" height="3.85" fill="#f8d890"/><rect x="142.81" y="52.60" width="1.05" height="3.85" fill="#fbe8b0"/><rect x="143.80" y="52.60" width="1.05" height="3.85" fill="#f8d890"/><rect x="144.80" y="52.60" width="2.04" height="3.85" fill="#f0b860"/><rect x="146.79" y="52.60" width="1.05" height="3.85" fill="#f8d890"/><rect x="147.79" y="52.60" width="1.05" height="3.85" fill="#fbe8b0"/><rect x="148.78" y="52.60" width="1.05" height="3.85" fill="#a8c870"/><rect x="149.78" y="52.60" width="2.04" height="3.85" fill="#f8d890"/><rect x="151.77" y="52.60" width="1.05" height="3.85" fill="#fbe8b0"/><rect x="152.76" y="52.60" width="3.04" height="3.85" fill="#f8d890"/><rect x="155.75" y="52.60" width="1.05" height="3.85" fill="#a8c870"/><rect x="156.75" y="52.60" width="1.05" height="3.85" fill="#f8d890"/><rect x="157.74" y="52.60" width="1.05" height="3.85" fill="#f0b860"/><rect x="158.74" y="52.60" width="2.04" height="3.85" fill="#fbe8b0"/><rect x="160.73" y="52.60" width="1.05" height="3.85" fill="#f8d890"/><rect x="161.72" y="52.60" width="1.05" height="3.85" fill="#a8c870"/><rect x="162.72" y="52.60" width="1.05" height="3.85" fill="#f8d890"/><rect x="163.72" y="52.60" width="1.05" height="3.85" fill="#fbe8b0"/><rect x="164.71" y="52.60" width="1.05" height="3.85" fill="#f0b860"/><rect x="165.71" y="52.60" width="1.05" height="3.85" fill="#f8d890"/><rect x="166.70" y="52.60" width="1.05" height="3.85" fill="#fbe8b0"/><rect x="167.70" y="52.60" width="1.05" height="3.85" fill="#f0b860"/><rect x="168.69" y="52.60" width="1.05" height="3.85" fill="#f8d890"/><rect x="169.69" y="52.60" width="1.05" height="3.85" fill="#fbe8b0"/><rect x="170.69" y="52.60" width="1.05" height="3.85" fill="#f0b860"/><rect x="171.68" y="52.60" width="1.05" height="3.85" fill="#fbe8b0"/><rect x="172.68" y="52.60" width="1.05" height="3.85" fill="#f0b860"/><rect x="173.67" y="52.60" width="1.05" height="3.85" fill="#fbe8b0"/><rect x="174.67" y="52.60" width="1.05" height="3.85" fill="#f8d890"/><rect x="175.66" y="52.60" width="1.05" height="3.85" fill="#f0b860"/><rect x="176.66" y="52.60" width="1.05" height="3.85" fill="#f8d890"/><rect x="177.65" y="52.60" width="3.04" height="3.85" fill="#fbe8b0"/><rect x="180.64" y="52.60" width="1.05" height="3.85" fill="#f8d890"/><rect x="181.64" y="52.60" width="2.04" height="3.85" fill="#f0b860"/><rect x="183.63" y="52.60" width="2.04" height="3.85" fill="#f8d890"/><rect x="185.62" y="52.60" width="1.05" height="3.85" fill="#a8c870"/><rect x="186.61" y="52.60" width="1.05" height="3.85" fill="#fbe8b0"/><rect x="187.61" y="52.60" width="1.05" height="3.85" fill="#f8d890"/><rect x="188.61" y="52.60" width="1.05" height="3.85" fill="#fbe8b0"/><rect x="189.60" y="52.60" width="1.05" height="3.85" fill="#f0b860"/><rect x="190.60" y="52.60" width="1.05" height="3.85" fill="#f8d890"/><rect x="191.59" y="52.60" width="1.05" height="3.85" fill="#f0b860"/><rect x="192.59" y="52.60" width="3.04" height="3.85" fill="#f8d890"/><rect x="195.58" y="52.60" width="2.04" height="3.85" fill="#f0b860"/><rect x="197.57" y="52.60" width="1.05" height="3.85" fill="#fbe8b0"/><rect x="198.56" y="52.60" width="1.05" height="3.85" fill="#f0b860"/><rect x="199.56" y="52.60" width="2.04" height="3.85" fill="#f8d890"/><rect x="201.55" y="52.60" width="1.05" height="3.85" fill="#fbe8b0"/><rect x="202.54" y="52.60" width="1.05" height="3.85" fill="#f8d890"/><rect x="203.54" y="52.60" width="1.05" height="3.85" fill="#f0b860"/><rect x="204.54" y="52.60" width="1.05" height="3.85" fill="#fbe8b0"/><rect x="205.53" y="52.60" width="1.05" height="3.85" fill="#f8d890"/><rect x="206.53" y="52.60" width="1.05" height="3.85" fill="#f0b860"/><rect x="207.52" y="52.60" width="2.04" height="3.85" fill="#f8d890"/><rect x="209.51" y="52.60" width="1.05" height="3.85" fill="#fbe8b0"/><rect x="210.51" y="52.60" width="3.04" height="3.85" fill="#f8d890"/><rect x="213.50" y="52.60" width="1.05" height="3.85" fill="#fbe8b0"/><rect x="214.49" y="52.60" width="1.05" height="3.85" fill="#f8d890"/><rect x="215.49" y="52.60" width="1.05" height="3.85" fill="#f0b860"/><rect x="216.48" y="52.60" width="1.05" height="3.85" fill="#f8d890"/><rect x="217.48" y="52.60" width="1.05" height="3.85" fill="#fbe8b0"/><rect x="218.47" y="52.60" width="2.04" height="3.85" fill="#f0b860"/><rect x="220.47" y="52.60" width="1.05" height="3.85" fill="#f8d890"/><rect x="221.46" y="52.60" width="2.04" height="3.85" fill="#fbe8b0"/><rect x="223.45" y="52.60" width="1.05" height="3.85" fill="#f0b860"/><rect x="224.45" y="52.60" width="1.05" height="3.85" fill="#fbe8b0"/><rect x="225.44" y="52.60" width="1.05" height="3.85" fill="#f0b860"/><rect x="226.44" y="52.60" width="2.04" height="3.85" fill="#fbe8b0"/><rect x="228.43" y="52.60" width="1.05" height="3.85" fill="#f0b860"/><rect x="229.43" y="52.60" width="1.05" height="3.85" fill="#f8d890"/><rect x="230.42" y="52.60" width="1.05" height="3.85" fill="#fbe8b0"/><rect x="231.42" y="52.60" width="1.05" height="3.85" fill="#a8c870"/><rect x="232.41" y="52.60" width="3.04" height="3.85" fill="#f8d890"/><rect x="121.90" y="57.17" width="7.02" height="3.85" fill="#c0b2e4"/><rect x="128.87" y="57.17" width="1.05" height="3.85" fill="#e0c4e4"/><rect x="129.86" y="57.17" width="2.04" height="3.85" fill="#c0b2e4"/><rect x="131.86" y="57.17" width="2.04" height="3.85" fill="#b0dcea"/><rect x="133.85" y="57.17" width="7.02" height="3.85" fill="#c0b2e4"/><rect x="140.82" y="57.17" width="1.05" height="3.85" fill="#e0c4e4"/><rect x="141.81" y="57.17" width="1.05" height="3.85" fill="#c0b2e4"/><rect x="142.81" y="57.17" width="1.05" height="3.85" fill="#e0c4e4"/><rect x="143.80" y="57.17" width="1.05" height="3.85" fill="#c0b2e4"/><rect x="144.80" y="57.17" width="2.04" height="3.85" fill="#e0c4e4"/><rect x="146.79" y="57.17" width="1.05" height="3.85" fill="#b0dcea"/><rect x="147.79" y="57.17" width="1.05" height="3.85" fill="#e0c4e4"/><rect x="148.78" y="57.17" width="3.04" height="3.85" fill="#c0b2e4"/><rect x="151.77" y="57.17" width="1.05" height="3.85" fill="#b0dcea"/><rect x="152.76" y="57.17" width="6.02" height="3.85" fill="#c0b2e4"/><rect x="158.74" y="57.17" width="1.05" height="3.85" fill="#e0c4e4"/><rect x="159.73" y="57.17" width="2.04" height="3.85" fill="#c0b2e4"/><rect x="161.72" y="57.17" width="1.05" height="3.85" fill="#e0c4e4"/><rect x="162.72" y="57.17" width="12.00" height="3.85" fill="#c0b2e4"/><rect x="174.67" y="57.17" width="1.05" height="3.85" fill="#b0dcea"/><rect x="175.66" y="57.17" width="1.05" height="3.85" fill="#e0c4e4"/><rect x="176.66" y="57.17" width="1.05" height="3.85" fill="#c0b2e4"/><rect x="177.65" y="57.17" width="1.05" height="3.85" fill="#b0dcea"/><rect x="178.65" y="57.17" width="5.03" height="3.85" fill="#c0b2e4"/><rect x="183.63" y="57.17" width="1.05" height="3.85" fill="#e0c4e4"/><rect x="184.62" y="57.17" width="1.05" height="3.85" fill="#c0b2e4"/><rect x="185.62" y="57.17" width="1.05" height="3.85" fill="#e0c4e4"/><rect x="186.61" y="57.17" width="1.05" height="3.85" fill="#c0b2e4"/><rect x="187.61" y="57.17" width="1.05" height="3.85" fill="#b0dcea"/><rect x="188.61" y="57.17" width="5.03" height="3.85" fill="#c0b2e4"/><rect x="193.58" y="57.17" width="1.05" height="3.85" fill="#e0c4e4"/><rect x="194.58" y="57.17" width="2.04" height="3.85" fill="#c0b2e4"/><rect x="196.57" y="57.17" width="1.05" height="3.85" fill="#e0c4e4"/><rect x="197.57" y="57.17" width="6.02" height="3.85" fill="#c0b2e4"/><rect x="203.54" y="57.17" width="1.05" height="3.85" fill="#e0c4e4"/><rect x="204.54" y="57.17" width="2.04" height="3.85" fill="#c0b2e4"/><rect x="206.53" y="57.17" width="2.04" height="3.85" fill="#e0c4e4"/><rect x="208.52" y="57.17" width="6.02" height="3.85" fill="#c0b2e4"/><rect x="214.49" y="57.17" width="1.05" height="3.85" fill="#b0dcea"/><rect x="215.49" y="57.17" width="13.99" height="3.85" fill="#c0b2e4"/><rect x="229.43" y="57.17" width="1.05" height="3.85" fill="#b0dcea"/><rect x="230.42" y="57.17" width="3.04" height="3.85" fill="#c0b2e4"/><rect x="233.41" y="57.17" width="1.05" height="3.85" fill="#b0dcea"/><rect x="234.40" y="57.17" width="1.05" height="3.85" fill="#c0b2e4"/><rect x="121.90" y="61.74" width="2.04" height="3.85" fill="#3a9668"/><rect x="123.89" y="61.74" width="1.05" height="3.85" fill="#e08a44"/><rect x="124.89" y="61.74" width="2.04" height="3.85" fill="#3a9668"/><rect x="126.88" y="61.74" width="1.05" height="3.85" fill="#e08a44"/><rect x="127.87" y="61.74" width="1.05" height="3.85" fill="#3a9668"/><rect x="128.87" y="61.74" width="1.05" height="3.85" fill="#e08a44"/><rect x="129.86" y="61.74" width="1.05" height="3.85" fill="#3a9668"/><rect x="130.86" y="61.74" width="1.05" height="3.85" fill="#e08a44"/><rect x="131.86" y="61.74" width="4.03" height="3.85" fill="#3a9668"/><rect x="135.84" y="61.74" width="1.05" height="3.85" fill="#e08a44"/><rect x="136.83" y="61.74" width="3.04" height="3.85" fill="#3a9668"/><rect x="139.82" y="61.74" width="1.05" height="3.85" fill="#e08a44"/><rect x="140.82" y="61.74" width="8.01" height="3.85" fill="#3a9668"/><rect x="148.78" y="61.74" width="1.05" height="3.85" fill="#e08a44"/><rect x="149.78" y="61.74" width="6.02" height="3.85" fill="#3a9668"/><rect x="155.75" y="61.74" width="1.05" height="3.85" fill="#e08a44"/><rect x="156.75" y="61.74" width="2.04" height="3.85" fill="#3a9668"/><rect x="158.74" y="61.74" width="2.04" height="3.85" fill="#e08a44"/><rect x="160.73" y="61.74" width="9.01" height="3.85" fill="#3a9668"/><rect x="169.69" y="61.74" width="1.05" height="3.85" fill="#e08a44"/><rect x="170.69" y="61.74" width="1.05" height="3.85" fill="#3a9668"/><rect x="171.68" y="61.74" width="2.04" height="3.85" fill="#e08a44"/><rect x="173.67" y="61.74" width="1.05" height="3.85" fill="#3a9668"/><rect x="174.67" y="61.74" width="1.05" height="3.85" fill="#e08a44"/><rect x="175.66" y="61.74" width="5.03" height="3.85" fill="#3a9668"/><rect x="180.64" y="61.74" width="1.05" height="3.85" fill="#e08a44"/><rect x="181.64" y="61.74" width="1.05" height="3.85" fill="#3a9668"/><rect x="182.63" y="61.74" width="2.04" height="3.85" fill="#e08a44"/><rect x="184.62" y="61.74" width="2.04" height="3.85" fill="#3a9668"/><rect x="186.61" y="61.74" width="2.04" height="3.85" fill="#e08a44"/><rect x="188.61" y="61.74" width="1.05" height="3.85" fill="#3a9668"/><rect x="189.60" y="61.74" width="2.04" height="3.85" fill="#e08a44"/><rect x="191.59" y="61.74" width="4.03" height="3.85" fill="#3a9668"/><rect x="195.58" y="61.74" width="1.05" height="3.85" fill="#e08a44"/><rect x="196.57" y="61.74" width="8.01" height="3.85" fill="#3a9668"/><rect x="204.54" y="61.74" width="1.05" height="3.85" fill="#e08a44"/><rect x="205.53" y="61.74" width="5.03" height="3.85" fill="#3a9668"/><rect x="210.51" y="61.74" width="2.04" height="3.85" fill="#e08a44"/><rect x="212.50" y="61.74" width="4.03" height="3.85" fill="#3a9668"/><rect x="216.48" y="61.74" width="1.05" height="3.85" fill="#e08a44"/><rect x="217.48" y="61.74" width="6.02" height="3.85" fill="#3a9668"/><rect x="223.45" y="61.74" width="2.04" height="3.85" fill="#e08a44"/><rect x="225.44" y="61.74" width="5.03" height="3.85" fill="#3a9668"/><rect x="230.42" y="61.74" width="1.05" height="3.85" fill="#e08a44"/><rect x="231.42" y="61.74" width="4.03" height="3.85" fill="#3a9668"/><rect x="121.90" y="66.31" width="5.03" height="3.85" fill="#58c8e8"/><rect x="126.88" y="66.31" width="2.04" height="3.85" fill="#e8403c"/><rect x="128.87" y="66.31" width="1.05" height="3.85" fill="#58c8e8"/><rect x="129.86" y="66.31" width="2.04" height="3.85" fill="#e8403c"/><rect x="131.86" y="66.31" width="1.05" height="3.85" fill="#58c8e8"/><rect x="132.85" y="66.31" width="2.04" height="3.85" fill="#e8403c"/><rect x="134.84" y="66.31" width="5.03" height="3.85" fill="#58c8e8"/><rect x="139.82" y="66.31" width="12.00" height="3.85" fill="#e8403c"/><rect x="151.77" y="66.31" width="1.05" height="3.85" fill="#58c8e8"/><rect x="152.76" y="66.31" width="1.05" height="3.85" fill="#e8403c"/><rect x="153.76" y="66.31" width="2.04" height="3.85" fill="#58c8e8"/><rect x="155.75" y="66.31" width="5.03" height="3.85" fill="#e8403c"/><rect x="160.73" y="66.31" width="2.04" height="3.85" fill="#58c8e8"/><rect x="162.72" y="66.31" width="12.00" height="3.85" fill="#e8403c"/><rect x="174.67" y="66.31" width="1.05" height="3.85" fill="#58c8e8"/><rect x="175.66" y="66.31" width="1.05" height="3.85" fill="#e8403c"/><rect x="176.66" y="66.31" width="1.05" height="3.85" fill="#58c8e8"/><rect x="177.65" y="66.31" width="3.04" height="3.85" fill="#e8403c"/><rect x="180.64" y="66.31" width="1.05" height="3.85" fill="#58c8e8"/><rect x="181.64" y="66.31" width="1.05" height="3.85" fill="#e8403c"/><rect x="182.63" y="66.31" width="1.05" height="3.85" fill="#58c8e8"/><rect x="183.63" y="66.31" width="7.02" height="3.85" fill="#e8403c"/><rect x="190.60" y="66.31" width="1.05" height="3.85" fill="#58c8e8"/><rect x="191.59" y="66.31" width="3.04" height="3.85" fill="#e8403c"/><rect x="194.58" y="66.31" width="1.05" height="3.85" fill="#58c8e8"/><rect x="195.58" y="66.31" width="13.99" height="3.85" fill="#e8403c"/><rect x="209.51" y="66.31" width="1.05" height="3.85" fill="#58c8e8"/><rect x="210.51" y="66.31" width="7.02" height="3.85" fill="#e8403c"/><rect x="217.48" y="66.31" width="1.05" height="3.85" fill="#58c8e8"/><rect x="218.47" y="66.31" width="7.02" height="3.85" fill="#e8403c"/><rect x="225.44" y="66.31" width="1.05" height="3.85" fill="#58c8e8"/><rect x="226.44" y="66.31" width="6.02" height="3.85" fill="#e8403c"/><rect x="232.41" y="66.31" width="1.05" height="3.85" fill="#58c8e8"/><rect x="233.41" y="66.31" width="2.04" height="3.85" fill="#e8403c"/><rect x="121.90" y="70.88" width="17.97" height="3.85" fill="#f8cca0"/><rect x="139.82" y="70.88" width="17.97" height="3.85" fill="#f6b8c6"/><rect x="157.74" y="70.88" width="25.94" height="3.85" fill="#bce0a4"/><rect x="183.63" y="70.88" width="51.82" height="3.85" fill="#b4dcf0"/><text x="237.0" y="10.525" font-size="3.8" fill="#000" font-weight="bold" text-anchor="start" stroke="#000" stroke-width="0.2">Responder</text><text x="237.0" y="15.095" font-size="3.8" fill="#000" font-weight="bold" text-anchor="start" stroke="#000" stroke-width="0.2">TIDE</text><text x="237.0" y="19.665" font-size="3.8" fill="#000" font-weight="bold" text-anchor="start" stroke="#000" stroke-width="0.2">SES</text><text x="237.0" y="24.235" font-size="3.8" fill="#000" font-weight="bold" text-anchor="start" stroke="#000" stroke-width="0.2">IES</text><text x="237.0" y="28.805" font-size="3.8" fill="#000" font-weight="bold" text-anchor="start" stroke="#000" stroke-width="0.2">primary_site</text><text x="237.0" y="33.375" font-size="3.8" fill="#000" font-weight="bold" text-anchor="start" stroke="#000" stroke-width="0.2">perineural_invasion</text><text x="237.0" y="37.945" font-size="3.8" fill="#000" font-weight="bold" text-anchor="start" stroke="#000" stroke-width="0.2">colon_polyps</text><text x="237.0" y="42.515" font-size="3.8" fill="#000" font-weight="bold" text-anchor="start" stroke="#000" stroke-width="0.2">lymphatic_invasion</text><text x="237.0" y="47.085" font-size="3.8" fill="#000" font-weight="bold" text-anchor="start" stroke="#000" stroke-width="0.2">mStage</text><text x="237.0" y="51.655" font-size="3.8" fill="#000" font-weight="bold" text-anchor="start" stroke="#000" stroke-width="0.2">nStage</text><text x="237.0" y="56.225" font-size="3.8" fill="#000" font-weight="bold" text-anchor="start" stroke="#000" stroke-width="0.2">tStage</text><text x="237.0" y="60.795" font-size="3.8" fill="#000" font-weight="bold" text-anchor="start" stroke="#000" stroke-width="0.2">Sex</text><text x="237.0" y="65.365" font-size="3.8" fill="#000" font-weight="bold" text-anchor="start" stroke="#000" stroke-width="0.2">Age</text><text x="237.0" y="69.935" font-size="3.8" fill="#000" font-weight="bold" text-anchor="start" stroke="#000" stroke-width="0.2">Disease</text><text x="237.0" y="74.50500000000001" font-size="3.8" fill="#000" font-weight="bold" text-anchor="start" stroke="#000" stroke-width="0.2">ImmClust</text><text x="237.0" y="79.875" font-size="3.8" fill="#000" font-weight="normal" text-anchor="start" stroke="#000" stroke-width="0.08">T cells</text><text x="237.0" y="84.425" font-size="3.8" fill="#000" font-weight="normal" text-anchor="start" stroke="#000" stroke-width="0.08">CD8 T cells</text><text x="237.0" y="88.975" font-size="3.8" fill="#000" font-weight="normal" text-anchor="start" stroke="#000" stroke-width="0.08">Cytotoxic lymphocytes</text><text x="237.0" y="93.52499999999999" font-size="3.8" fill="#000" font-weight="normal" text-anchor="start" stroke="#000" stroke-width="0.08">B lineage</text><text x="237.0" y="98.075" font-size="3.8" fill="#000" font-weight="normal" text-anchor="start" stroke="#000" stroke-width="0.08">NK cells</text><text x="237.0" y="102.625" font-size="3.8" fill="#000" font-weight="normal" text-anchor="start" stroke="#000" stroke-width="0.08">Monocytic lineage</text><text x="237.0" y="107.175" font-size="3.8" fill="#000" font-weight="normal" text-anchor="start" stroke="#000" stroke-width="0.08">Myeloid dendritic cells</text><text x="237.0" y="111.725" font-size="3.8" fill="#000" font-weight="normal" text-anchor="start" stroke="#000" stroke-width="0.08">Neutrophils</text><text x="237.0" y="116.27499999999999" font-size="3.8" fill="#000" font-weight="normal" text-anchor="start" stroke="#000" stroke-width="0.08">Endothelial cells</text><text x="237.0" y="120.825" font-size="3.8" fill="#000" font-weight="normal" text-anchor="start" stroke="#000" stroke-width="0.08">Fibroblasts</text><text x="237.0" y="127.575" font-size="3.8" fill="#000" font-weight="normal" text-anchor="start" stroke="#000" stroke-width="0.08">Immunosuppression</text><text x="237.0" y="132.12500000000003" font-size="3.8" fill="#000" font-weight="normal" text-anchor="start" stroke="#000" stroke-width="0.08">T cell activation</text><text x="237.0" y="136.675" font-size="3.8" fill="#000" font-weight="normal" text-anchor="start" stroke="#000" stroke-width="0.08">T cell survival</text><text x="237.0" y="141.22500000000002" font-size="3.8" fill="#000" font-weight="normal" text-anchor="start" stroke="#000" stroke-width="0.08">Regulatory T cell</text><text x="237.0" y="145.775" font-size="3.8" fill="#000" font-weight="normal" text-anchor="start" stroke="#000" stroke-width="0.08">Class I MHC</text><text x="237.0" y="150.32500000000002" font-size="3.8" fill="#000" font-weight="normal" text-anchor="start" stroke="#000" stroke-width="0.08">Myeloid cells chemotaxis</text><text x="237.0" y="154.87500000000003" font-size="3.8" fill="#000" font-weight="normal" text-anchor="start" stroke="#000" stroke-width="0.08">TLSs</text><text x="237.0" y="161.775" font-size="3.8" fill="#000" font-weight="normal" text-anchor="start" stroke="#000" stroke-width="0.08">PDCD1</text><text x="237.0" y="166.32500000000002" font-size="3.8" fill="#000" font-weight="normal" text-anchor="start" stroke="#000" stroke-width="0.08">CD274</text><text x="237.0" y="170.875" font-size="3.8" fill="#000" font-weight="normal" text-anchor="start" stroke="#000" stroke-width="0.08">PDCD1LG2</text><text x="237.0" y="175.425" font-size="3.8" fill="#000" font-weight="normal" text-anchor="start" stroke="#000" stroke-width="0.08">CTLA4</text><text x="237.0" y="179.975" font-size="3.8" fill="#000" font-weight="normal" text-anchor="start" stroke="#000" stroke-width="0.08">HAVCR2</text><text x="237.0" y="184.525" font-size="3.8" fill="#000" font-weight="normal" text-anchor="start" stroke="#000" stroke-width="0.08">LAG3</text><path d="M184.6 76.30h1.1v4.6h-1.1zM208.5 76.30h1.1v4.6h-1.1zM209.5 76.30h1.1v4.6h-1.1zM216.5 76.30h1.1v4.6h-1.1zM222.5 76.30h1.1v4.6h-1.1zM224.4 76.30h1.1v4.6h-1.1zM192.6 80.85h1.1v4.6h-1.1zM197.6 80.85h1.1v4.6h-1.1zM198.6 80.85h1.1v4.6h-1.1zM201.5 80.85h1.1v4.6h-1.1zM208.5 80.85h1.1v4.6h-1.1zM222.5 80.85h1.1v4.6h-1.1zM224.4 80.85h1.1v4.6h-1.1zM228.4 80.85h1.1v4.6h-1.1zM233.4 80.85h1.1v4.6h-1.1zM234.4 80.85h1.1v4.6h-1.1zM197.6 85.40h1.1v4.6h-1.1zM198.6 85.40h1.1v4.6h-1.1zM208.5 85.40h1.1v4.6h-1.1zM213.5 85.40h1.1v4.6h-1.1zM215.5 85.40h1.1v4.6h-1.1zM224.4 85.40h1.1v4.6h-1.1zM234.4 85.40h1.1v4.6h-1.1zM197.6 89.95h1.1v4.6h-1.1zM208.5 89.95h1.1v4.6h-1.1zM213.5 89.95h1.1v4.6h-1.1zM215.5 89.95h1.1v4.6h-1.1zM222.5 89.95h1.1v4.6h-1.1zM228.4 89.95h1.1v4.6h-1.1zM234.4 89.95h1.1v4.6h-1.1zM187.6 94.50h1.1v4.6h-1.1zM197.6 94.50h1.1v4.6h-1.1zM198.6 94.50h1.1v4.6h-1.1zM208.5 94.50h1.1v4.6h-1.1zM209.5 94.50h1.1v4.6h-1.1zM213.5 94.50h1.1v4.6h-1.1zM214.5 94.50h1.1v4.6h-1.1zM215.5 94.50h1.1v4.6h-1.1zM224.4 94.50h1.1v4.6h-1.1zM228.4 94.50h1.1v4.6h-1.1zM234.4 94.50h1.1v4.6h-1.1zM197.6 99.05h1.1v4.6h-1.1zM198.6 99.05h1.1v4.6h-1.1zM204.5 99.05h1.1v4.6h-1.1zM208.5 99.05h1.1v4.6h-1.1zM209.5 99.05h1.1v4.6h-1.1zM214.5 99.05h1.1v4.6h-1.1zM222.5 99.05h1.1v4.6h-1.1zM223.5 99.05h1.1v4.6h-1.1zM228.4 99.05h1.1v4.6h-1.1zM230.4 99.05h1.1v4.6h-1.1zM232.4 99.05h1.1v4.6h-1.1zM234.4 99.05h1.1v4.6h-1.1zM197.6 103.60h1.1v4.6h-1.1zM208.5 103.60h1.1v4.6h-1.1zM214.5 103.60h1.1v4.6h-1.1zM222.5 103.60h1.1v4.6h-1.1zM224.4 103.60h1.1v4.6h-1.1zM233.4 103.60h1.1v4.6h-1.1zM234.4 103.60h1.1v4.6h-1.1zM184.6 108.15h1.1v4.6h-1.1zM197.6 108.15h1.1v4.6h-1.1zM208.5 108.15h1.1v4.6h-1.1zM211.5 108.15h1.1v4.6h-1.1zM215.5 108.15h1.1v4.6h-1.1zM222.5 108.15h1.1v4.6h-1.1zM224.4 108.15h1.1v4.6h-1.1zM228.4 108.15h1.1v4.6h-1.1zM208.5 112.70h1.1v4.6h-1.1zM210.5 112.70h1.1v4.6h-1.1zM222.5 112.70h1.1v4.6h-1.1zM183.6 117.25h1.1v4.6h-1.1zM197.6 117.25h1.1v4.6h-1.1zM208.5 117.25h1.1v4.6h-1.1zM224.4 117.25h1.1v4.6h-1.1zM228.4 117.25h1.1v4.6h-1.1zM234.4 117.25h1.1v4.6h-1.1zM197.6 124.00h1.1v4.6h-1.1zM208.5 124.00h1.1v4.6h-1.1zM213.5 124.00h1.1v4.6h-1.1zM222.5 124.00h1.1v4.6h-1.1zM233.4 124.00h1.1v4.6h-1.1zM234.4 124.00h1.1v4.6h-1.1zM197.6 128.55h1.1v4.6h-1.1zM208.5 128.55h1.1v4.6h-1.1zM211.5 128.55h1.1v4.6h-1.1zM222.5 128.55h1.1v4.6h-1.1zM208.5 133.10h1.1v4.6h-1.1zM215.5 133.10h1.1v4.6h-1.1zM230.4 133.10h1.1v4.6h-1.1zM234.4 133.10h1.1v4.6h-1.1zM187.6 137.65h1.1v4.6h-1.1zM204.5 137.65h1.1v4.6h-1.1zM208.5 137.65h1.1v4.6h-1.1zM215.5 137.65h1.1v4.6h-1.1zM224.4 137.65h1.1v4.6h-1.1zM229.4 137.65h1.1v4.6h-1.1zM234.4 137.65h1.1v4.6h-1.1zM197.6 142.20h1.1v4.6h-1.1zM208.5 142.20h1.1v4.6h-1.1zM224.4 142.20h1.1v4.6h-1.1zM234.4 142.20h1.1v4.6h-1.1zM184.6 146.75h1.1v4.6h-1.1zM199.6 146.75h1.1v4.6h-1.1zM209.5 146.75h1.1v4.6h-1.1zM215.5 146.75h1.1v4.6h-1.1zM228.4 146.75h1.1v4.6h-1.1zM234.4 146.75h1.1v4.6h-1.1zM208.5 151.30h1.1v4.6h-1.1zM234.4 151.30h1.1v4.6h-1.1zM208.5 158.20h1.1v4.6h-1.1zM211.5 158.20h1.1v4.6h-1.1zM222.5 158.20h1.1v4.6h-1.1zM234.4 158.20h1.1v4.6h-1.1zM193.6 162.75h1.1v4.6h-1.1zM206.5 162.75h1.1v4.6h-1.1zM207.5 162.75h1.1v4.6h-1.1zM208.5 162.75h1.1v4.6h-1.1zM209.5 162.75h1.1v4.6h-1.1zM234.4 162.75h1.1v4.6h-1.1zM197.6 167.30h1.1v4.6h-1.1zM201.5 167.30h1.1v4.6h-1.1zM208.5 167.30h1.1v4.6h-1.1zM208.5 171.85h1.1v4.6h-1.1zM224.4 171.85h1.1v4.6h-1.1zM234.4 171.85h1.1v4.6h-1.1zM184.6 176.40h1.1v4.6h-1.1zM197.6 176.40h1.1v4.6h-1.1zM208.5 176.40h1.1v4.6h-1.1zM225.4 176.40h1.1v4.6h-1.1zM197.6 180.95h1.1v4.6h-1.1zM198.6 180.95h1.1v4.6h-1.1zM199.6 180.95h1.1v4.6h-1.1zM208.5 180.95h1.1v4.6h-1.1z" fill="#303aa8"/><path d="M201.5 76.30h1.1v4.6h-1.1zM226.4 76.30h1.1v4.6h-1.1zM234.4 76.30h1.1v4.6h-1.1zM184.6 80.85h1.1v4.6h-1.1zM187.6 80.85h1.1v4.6h-1.1zM225.4 85.40h1.1v4.6h-1.1zM175.7 89.95h1.1v4.6h-1.1zM211.5 89.95h1.1v4.6h-1.1zM222.5 94.50h1.1v4.6h-1.1zM202.5 108.15h1.1v4.6h-1.1zM216.5 108.15h1.1v4.6h-1.1zM234.4 108.15h1.1v4.6h-1.1zM215.5 124.00h1.1v4.6h-1.1zM204.5 128.55h1.1v4.6h-1.1zM225.4 128.55h1.1v4.6h-1.1zM228.4 137.65h1.1v4.6h-1.1zM198.6 142.20h1.1v4.6h-1.1zM228.4 151.30h1.1v4.6h-1.1zM216.5 158.20h1.1v4.6h-1.1zM183.6 162.75h1.1v4.6h-1.1zM222.5 167.30h1.1v4.6h-1.1zM202.5 171.85h1.1v4.6h-1.1zM215.5 180.95h1.1v4.6h-1.1z" fill="#3f43ad"/><path d="M198.6 76.30h1.1v4.6h-1.1zM193.6 80.85h1.1v4.6h-1.1zM214.5 80.85h1.1v4.6h-1.1zM193.6 85.40h1.1v4.6h-1.1zM199.6 94.50h1.1v4.6h-1.1zM204.5 94.50h1.1v4.6h-1.1zM221.5 94.50h1.1v4.6h-1.1zM183.6 99.05h1.1v4.6h-1.1zM213.5 103.60h1.1v4.6h-1.1zM199.6 108.15h1.1v4.6h-1.1zM232.4 108.15h1.1v4.6h-1.1zM228.4 112.70h1.1v4.6h-1.1zM199.6 117.25h1.1v4.6h-1.1zM222.5 117.25h1.1v4.6h-1.1zM204.5 124.00h1.1v4.6h-1.1zM215.5 128.55h1.1v4.6h-1.1zM226.4 128.55h1.1v4.6h-1.1zM197.6 133.10h1.1v4.6h-1.1zM214.5 142.20h1.1v4.6h-1.1zM208.5 146.75h1.1v4.6h-1.1zM178.7 151.30h1.1v4.6h-1.1zM186.6 151.30h1.1v4.6h-1.1zM209.5 167.30h1.1v4.6h-1.1zM215.5 167.30h1.1v4.6h-1.1zM183.6 171.85h1.1v4.6h-1.1zM198.6 171.85h1.1v4.6h-1.1zM215.5 171.85h1.1v4.6h-1.1zM228.4 171.85h1.1v4.6h-1.1zM234.4 176.40h1.1v4.6h-1.1zM184.6 180.95h1.1v4.6h-1.1zM187.6 180.95h1.1v4.6h-1.1zM211.5 180.95h1.1v4.6h-1.1zM234.4 180.95h1.1v4.6h-1.1z" fill="#4d4bb1"/><path d="M202.5 76.30h1.1v4.6h-1.1zM215.5 76.30h1.1v4.6h-1.1zM232.4 76.30h1.1v4.6h-1.1zM233.4 76.30h1.1v4.6h-1.1zM203.5 80.85h1.1v4.6h-1.1zM209.5 80.85h1.1v4.6h-1.1zM184.6 85.40h1.1v4.6h-1.1zM209.5 85.40h1.1v4.6h-1.1zM222.5 85.40h1.1v4.6h-1.1zM184.6 94.50h1.1v4.6h-1.1zM187.6 99.05h1.1v4.6h-1.1zM215.5 99.05h1.1v4.6h-1.1zM184.6 103.60h1.1v4.6h-1.1zM193.6 103.60h1.1v4.6h-1.1zM207.5 103.60h1.1v4.6h-1.1zM225.4 108.15h1.1v4.6h-1.1zM187.6 117.25h1.1v4.6h-1.1zM198.6 117.25h1.1v4.6h-1.1zM215.5 117.25h1.1v4.6h-1.1zM216.5 124.00h1.1v4.6h-1.1zM217.5 133.10h1.1v4.6h-1.1zM224.4 133.10h1.1v4.6h-1.1zM226.4 133.10h1.1v4.6h-1.1zM192.6 142.20h1.1v4.6h-1.1zM228.4 142.20h1.1v4.6h-1.1zM206.5 151.30h1.1v4.6h-1.1zM224.4 151.30h1.1v4.6h-1.1zM190.6 158.20h1.1v4.6h-1.1zM200.6 158.20h1.1v4.6h-1.1zM215.5 158.20h1.1v4.6h-1.1zM192.6 162.75h1.1v4.6h-1.1zM226.4 162.75h1.1v4.6h-1.1zM187.6 167.30h1.1v4.6h-1.1zM192.6 167.30h1.1v4.6h-1.1zM198.6 167.30h1.1v4.6h-1.1zM228.4 167.30h1.1v4.6h-1.1zM197.6 171.85h1.1v4.6h-1.1zM233.4 171.85h1.1v4.6h-1.1zM192.6 176.40h1.1v4.6h-1.1zM211.5 176.40h1.1v4.6h-1.1zM200.6 180.95h1.1v4.6h-1.1zM217.5 180.95h1.1v4.6h-1.1z" fill="#5954b5"/><path d="M211.5 76.30h1.1v4.6h-1.1zM160.7 80.85h1.1v4.6h-1.1zM183.6 80.85h1.1v4.6h-1.1zM192.6 85.40h1.1v4.6h-1.1zM183.6 89.95h1.1v4.6h-1.1zM209.5 89.95h1.1v4.6h-1.1zM225.4 89.95h1.1v4.6h-1.1zM193.6 94.50h1.1v4.6h-1.1zM202.5 94.50h1.1v4.6h-1.1zM207.5 94.50h1.1v4.6h-1.1zM226.4 94.50h1.1v4.6h-1.1zM224.4 99.05h1.1v4.6h-1.1zM199.6 103.60h1.1v4.6h-1.1zM223.5 103.60h1.1v4.6h-1.1zM226.4 103.60h1.1v4.6h-1.1zM228.4 103.60h1.1v4.6h-1.1zM229.4 103.60h1.1v4.6h-1.1zM198.6 108.15h1.1v4.6h-1.1zM207.5 108.15h1.1v4.6h-1.1zM221.5 112.70h1.1v4.6h-1.1zM224.4 112.70h1.1v4.6h-1.1zM227.4 112.70h1.1v4.6h-1.1zM209.5 117.25h1.1v4.6h-1.1zM213.5 117.25h1.1v4.6h-1.1zM169.7 124.00h1.1v4.6h-1.1zM180.6 124.00h1.1v4.6h-1.1zM190.6 124.00h1.1v4.6h-1.1zM200.6 124.00h1.1v4.6h-1.1zM198.6 128.55h1.1v4.6h-1.1zM212.5 128.55h1.1v4.6h-1.1zM216.5 128.55h1.1v4.6h-1.1zM228.4 128.55h1.1v4.6h-1.1zM234.4 128.55h1.1v4.6h-1.1zM204.5 133.10h1.1v4.6h-1.1zM213.5 137.65h1.1v4.6h-1.1zM215.5 142.20h1.1v4.6h-1.1zM222.5 146.75h1.1v4.6h-1.1zM184.6 151.30h1.1v4.6h-1.1zM187.6 151.30h1.1v4.6h-1.1zM203.5 151.30h1.1v4.6h-1.1zM233.4 151.30h1.1v4.6h-1.1zM197.6 162.75h1.1v4.6h-1.1zM215.5 162.75h1.1v4.6h-1.1zM222.5 162.75h1.1v4.6h-1.1zM230.4 162.75h1.1v4.6h-1.1zM180.6 167.30h1.1v4.6h-1.1zM213.5 167.30h1.1v4.6h-1.1zM229.4 167.30h1.1v4.6h-1.1zM214.5 171.85h1.1v4.6h-1.1zM222.5 171.85h1.1v4.6h-1.1zM213.5 176.40h1.1v4.6h-1.1zM193.6 180.95h1.1v4.6h-1.1zM201.5 180.95h1.1v4.6h-1.1zM209.5 180.95h1.1v4.6h-1.1zM228.4 180.95h1.1v4.6h-1.1z" fill="#645dba"/><path d="M192.6 76.30h1.1v4.6h-1.1zM214.5 76.30h1.1v4.6h-1.1zM204.5 80.85h1.1v4.6h-1.1zM213.5 80.85h1.1v4.6h-1.1zM230.4 80.85h1.1v4.6h-1.1zM183.6 85.40h1.1v4.6h-1.1zM232.4 85.40h1.1v4.6h-1.1zM204.5 89.95h1.1v4.6h-1.1zM206.5 89.95h1.1v4.6h-1.1zM233.4 89.95h1.1v4.6h-1.1zM205.5 94.50h1.1v4.6h-1.1zM232.4 94.50h1.1v4.6h-1.1zM183.6 103.60h1.1v4.6h-1.1zM215.5 103.60h1.1v4.6h-1.1zM232.4 103.60h1.1v4.6h-1.1zM183.6 108.15h1.1v4.6h-1.1zM187.6 108.15h1.1v4.6h-1.1zM209.5 108.15h1.1v4.6h-1.1zM183.6 112.70h1.1v4.6h-1.1zM223.5 112.70h1.1v4.6h-1.1zM192.6 117.25h1.1v4.6h-1.1zM201.5 117.25h1.1v4.6h-1.1zM184.6 124.00h1.1v4.6h-1.1zM198.6 124.00h1.1v4.6h-1.1zM209.5 124.00h1.1v4.6h-1.1zM169.7 133.10h1.1v4.6h-1.1zM216.5 133.10h1.1v4.6h-1.1zM222.5 137.65h1.1v4.6h-1.1zM207.5 142.20h1.1v4.6h-1.1zM213.5 146.75h1.1v4.6h-1.1zM216.5 146.75h1.1v4.6h-1.1zM223.5 146.75h1.1v4.6h-1.1zM183.6 158.20h1.1v4.6h-1.1zM197.6 158.20h1.1v4.6h-1.1zM198.6 158.20h1.1v4.6h-1.1zM209.5 158.20h1.1v4.6h-1.1zM217.5 167.30h1.1v4.6h-1.1zM225.4 167.30h1.1v4.6h-1.1zM193.6 171.85h1.1v4.6h-1.1zM198.6 176.40h1.1v4.6h-1.1zM220.5 176.40h1.1v4.6h-1.1zM227.4 176.40h1.1v4.6h-1.1zM230.4 176.40h1.1v4.6h-1.1z" fill="#6f67be"/><path d="M204.5 76.30h1.1v4.6h-1.1zM223.5 76.30h1.1v4.6h-1.1zM195.6 80.85h1.1v4.6h-1.1zM226.4 80.85h1.1v4.6h-1.1zM199.6 85.40h1.1v4.6h-1.1zM200.6 85.40h1.1v4.6h-1.1zM204.5 85.40h1.1v4.6h-1.1zM211.5 85.40h1.1v4.6h-1.1zM210.5 89.95h1.1v4.6h-1.1zM232.4 89.95h1.1v4.6h-1.1zM211.5 94.50h1.1v4.6h-1.1zM192.6 99.05h1.1v4.6h-1.1zM233.4 99.05h1.1v4.6h-1.1zM225.4 103.60h1.1v4.6h-1.1zM213.5 108.15h1.1v4.6h-1.1zM233.4 108.15h1.1v4.6h-1.1zM207.5 112.70h1.1v4.6h-1.1zM234.4 112.70h1.1v4.6h-1.1zM230.4 117.25h1.1v4.6h-1.1zM232.4 117.25h1.1v4.6h-1.1zM232.4 124.00h1.1v4.6h-1.1zM193.6 128.55h1.1v4.6h-1.1zM184.6 133.10h1.1v4.6h-1.1zM211.5 137.65h1.1v4.6h-1.1zM184.6 142.20h1.1v4.6h-1.1zM187.6 142.20h1.1v4.6h-1.1zM183.6 146.75h1.1v4.6h-1.1zM198.6 146.75h1.1v4.6h-1.1zM205.5 146.75h1.1v4.6h-1.1zM229.4 146.75h1.1v4.6h-1.1zM197.6 151.30h1.1v4.6h-1.1zM199.6 151.30h1.1v4.6h-1.1zM209.5 151.30h1.1v4.6h-1.1zM184.6 158.20h1.1v4.6h-1.1zM225.4 158.20h1.1v4.6h-1.1zM228.4 158.20h1.1v4.6h-1.1zM230.4 158.20h1.1v4.6h-1.1zM191.6 162.75h1.1v4.6h-1.1zM221.5 162.75h1.1v4.6h-1.1zM183.6 167.30h1.1v4.6h-1.1zM184.6 171.85h1.1v4.6h-1.1zM206.5 171.85h1.1v4.6h-1.1zM210.5 171.85h1.1v4.6h-1.1zM213.5 171.85h1.1v4.6h-1.1zM226.4 171.85h1.1v4.6h-1.1zM229.4 171.85h1.1v4.6h-1.1zM232.4 171.85h1.1v4.6h-1.1zM187.6 176.40h1.1v4.6h-1.1zM201.5 176.40h1.1v4.6h-1.1zM228.4 176.40h1.1v4.6h-1.1zM205.5 180.95h1.1v4.6h-1.1z" fill="#7970c3"/><path d="M190.6 76.30h1.1v4.6h-1.1zM197.6 76.30h1.1v4.6h-1.1zM205.5 76.30h1.1v4.6h-1.1zM221.5 76.30h1.1v4.6h-1.1zM228.4 76.30h1.1v4.6h-1.1zM212.5 80.85h1.1v4.6h-1.1zM220.5 80.85h1.1v4.6h-1.1zM187.6 85.40h1.1v4.6h-1.1zM206.5 85.40h1.1v4.6h-1.1zM212.5 85.40h1.1v4.6h-1.1zM179.6 89.95h1.1v4.6h-1.1zM188.6 94.50h1.1v4.6h-1.1zM201.5 94.50h1.1v4.6h-1.1zM220.5 94.50h1.1v4.6h-1.1zM160.7 99.05h1.1v4.6h-1.1zM186.6 103.60h1.1v4.6h-1.1zM192.6 103.60h1.1v4.6h-1.1zM227.4 103.60h1.1v4.6h-1.1zM169.7 108.15h1.1v4.6h-1.1zM180.6 108.15h1.1v4.6h-1.1zM190.6 108.15h1.1v4.6h-1.1zM192.6 108.15h1.1v4.6h-1.1zM204.5 108.15h1.1v4.6h-1.1zM219.5 108.15h1.1v4.6h-1.1zM180.6 112.70h1.1v4.6h-1.1zM199.6 112.70h1.1v4.6h-1.1zM201.5 112.70h1.1v4.6h-1.1zM209.5 112.70h1.1v4.6h-1.1zM233.4 112.70h1.1v4.6h-1.1zM189.6 117.25h1.1v4.6h-1.1zM203.5 117.25h1.1v4.6h-1.1zM216.5 117.25h1.1v4.6h-1.1zM184.6 128.55h1.1v4.6h-1.1zM200.6 128.55h1.1v4.6h-1.1zM191.6 133.10h1.1v4.6h-1.1zM222.5 133.10h1.1v4.6h-1.1zM192.6 137.65h1.1v4.6h-1.1zM211.5 142.20h1.1v4.6h-1.1zM222.5 142.20h1.1v4.6h-1.1zM223.5 142.20h1.1v4.6h-1.1zM214.5 146.75h1.1v4.6h-1.1zM211.5 151.30h1.1v4.6h-1.1zM222.5 151.30h1.1v4.6h-1.1zM201.5 158.20h1.1v4.6h-1.1zM187.6 162.75h1.1v4.6h-1.1zM228.4 162.75h1.1v4.6h-1.1zM229.4 162.75h1.1v4.6h-1.1zM233.4 162.75h1.1v4.6h-1.1zM219.5 167.30h1.1v4.6h-1.1zM232.4 167.30h1.1v4.6h-1.1zM200.6 171.85h1.1v4.6h-1.1zM204.5 176.40h1.1v4.6h-1.1zM209.5 176.40h1.1v4.6h-1.1zM233.4 176.40h1.1v4.6h-1.1zM195.6 180.95h1.1v4.6h-1.1zM222.5 180.95h1.1v4.6h-1.1zM224.4 180.95h1.1v4.6h-1.1zM232.4 180.95h1.1v4.6h-1.1z" fill="#837ac7"/><path d="M225.4 76.30h1.1v4.6h-1.1zM230.4 76.30h1.1v4.6h-1.1zM169.7 80.85h1.1v4.6h-1.1zM205.5 80.85h1.1v4.6h-1.1zM211.5 80.85h1.1v4.6h-1.1zM215.5 80.85h1.1v4.6h-1.1zM229.4 80.85h1.1v4.6h-1.1zM163.7 85.40h1.1v4.6h-1.1zM214.5 85.40h1.1v4.6h-1.1zM226.4 85.40h1.1v4.6h-1.1zM233.4 85.40h1.1v4.6h-1.1zM198.6 89.95h1.1v4.6h-1.1zM201.5 89.95h1.1v4.6h-1.1zM203.5 89.95h1.1v4.6h-1.1zM224.4 89.95h1.1v4.6h-1.1zM226.4 89.95h1.1v4.6h-1.1zM180.6 94.50h1.1v4.6h-1.1zM194.6 94.50h1.1v4.6h-1.1zM219.5 94.50h1.1v4.6h-1.1zM201.5 99.05h1.1v4.6h-1.1zM205.5 99.05h1.1v4.6h-1.1zM207.5 99.05h1.1v4.6h-1.1zM220.5 99.05h1.1v4.6h-1.1zM180.6 103.60h1.1v4.6h-1.1zM187.6 103.60h1.1v4.6h-1.1zM190.6 103.60h1.1v4.6h-1.1zM198.6 103.60h1.1v4.6h-1.1zM205.5 103.60h1.1v4.6h-1.1zM230.4 103.60h1.1v4.6h-1.1zM205.5 108.15h1.1v4.6h-1.1zM160.7 112.70h1.1v4.6h-1.1zM204.5 112.70h1.1v4.6h-1.1zM229.4 112.70h1.1v4.6h-1.1zM188.6 117.25h1.1v4.6h-1.1zM204.5 117.25h1.1v4.6h-1.1zM221.5 117.25h1.1v4.6h-1.1zM223.5 117.25h1.1v4.6h-1.1zM229.4 117.25h1.1v4.6h-1.1zM180.6 128.55h1.1v4.6h-1.1zM183.6 128.55h1.1v4.6h-1.1zM187.6 128.55h1.1v4.6h-1.1zM201.5 128.55h1.1v4.6h-1.1zM209.5 128.55h1.1v4.6h-1.1zM183.6 133.10h1.1v4.6h-1.1zM192.6 133.10h1.1v4.6h-1.1zM199.6 133.10h1.1v4.6h-1.1zM205.5 133.10h1.1v4.6h-1.1zM211.5 133.10h1.1v4.6h-1.1zM228.4 133.10h1.1v4.6h-1.1zM232.4 133.10h1.1v4.6h-1.1zM180.6 137.65h1.1v4.6h-1.1zM184.6 137.65h1.1v4.6h-1.1zM190.6 137.65h1.1v4.6h-1.1zM206.5 137.65h1.1v4.6h-1.1zM223.5 137.65h1.1v4.6h-1.1zM225.4 137.65h1.1v4.6h-1.1zM160.7 142.20h1.1v4.6h-1.1zM199.6 142.20h1.1v4.6h-1.1zM189.6 146.75h1.1v4.6h-1.1zM212.5 146.75h1.1v4.6h-1.1zM226.4 146.75h1.1v4.6h-1.1zM193.6 151.30h1.1v4.6h-1.1zM179.6 158.20h1.1v4.6h-1.1zM187.6 158.20h1.1v4.6h-1.1zM204.5 158.20h1.1v4.6h-1.1zM205.5 158.20h1.1v4.6h-1.1zM213.5 158.20h1.1v4.6h-1.1zM224.4 158.20h1.1v4.6h-1.1zM231.4 158.20h1.1v4.6h-1.1zM181.6 162.75h1.1v4.6h-1.1zM213.5 162.75h1.1v4.6h-1.1zM223.5 162.75h1.1v4.6h-1.1zM184.6 167.30h1.1v4.6h-1.1zM214.5 167.30h1.1v4.6h-1.1zM220.5 167.30h1.1v4.6h-1.1zM233.4 167.30h1.1v4.6h-1.1zM211.5 171.85h1.1v4.6h-1.1zM230.4 171.85h1.1v4.6h-1.1zM183.6 176.40h1.1v4.6h-1.1zM188.6 176.40h1.1v4.6h-1.1zM193.6 176.40h1.1v4.6h-1.1zM203.5 176.40h1.1v4.6h-1.1zM219.5 176.40h1.1v4.6h-1.1zM164.7 180.95h1.1v4.6h-1.1zM183.6 180.95h1.1v4.6h-1.1z" fill="#8d83cc"/><path d="M199.6 76.30h1.1v4.6h-1.1zM203.5 76.30h1.1v4.6h-1.1zM180.6 85.40h1.1v4.6h-1.1zM220.5 85.40h1.1v4.6h-1.1zM221.5 85.40h1.1v4.6h-1.1zM160.7 89.95h1.1v4.6h-1.1zM176.7 89.95h1.1v4.6h-1.1zM221.5 89.95h1.1v4.6h-1.1zM186.6 94.50h1.1v4.6h-1.1zM200.6 94.50h1.1v4.6h-1.1zM203.5 94.50h1.1v4.6h-1.1zM122.9 99.05h1.1v4.6h-1.1zM173.7 99.05h1.1v4.6h-1.1zM180.6 99.05h1.1v4.6h-1.1zM226.4 99.05h1.1v4.6h-1.1zM211.5 103.60h1.1v4.6h-1.1zM196.6 108.15h1.1v4.6h-1.1zM200.6 108.15h1.1v4.6h-1.1zM212.5 108.15h1.1v4.6h-1.1zM226.4 108.15h1.1v4.6h-1.1zM229.4 108.15h1.1v4.6h-1.1zM230.4 108.15h1.1v4.6h-1.1zM192.6 112.70h1.1v4.6h-1.1zM206.5 112.70h1.1v4.6h-1.1zM211.5 112.70h1.1v4.6h-1.1zM213.5 112.70h1.1v4.6h-1.1zM184.6 117.25h1.1v4.6h-1.1zM207.5 117.25h1.1v4.6h-1.1zM220.5 117.25h1.1v4.6h-1.1zM158.7 124.00h1.1v4.6h-1.1zM199.6 124.00h1.1v4.6h-1.1zM187.6 133.10h1.1v4.6h-1.1zM198.6 133.10h1.1v4.6h-1.1zM214.5 133.10h1.1v4.6h-1.1zM229.4 133.10h1.1v4.6h-1.1zM178.7 137.65h1.1v4.6h-1.1zM201.5 137.65h1.1v4.6h-1.1zM207.5 137.65h1.1v4.6h-1.1zM216.5 137.65h1.1v4.6h-1.1zM220.5 137.65h1.1v4.6h-1.1zM227.4 137.65h1.1v4.6h-1.1zM157.7 142.20h1.1v4.6h-1.1zM209.5 142.20h1.1v4.6h-1.1zM216.5 142.20h1.1v4.6h-1.1zM221.5 142.20h1.1v4.6h-1.1zM190.6 146.75h1.1v4.6h-1.1zM192.6 146.75h1.1v4.6h-1.1zM197.6 146.75h1.1v4.6h-1.1zM201.5 146.75h1.1v4.6h-1.1zM211.5 146.75h1.1v4.6h-1.1zM230.4 146.75h1.1v4.6h-1.1zM190.6 151.30h1.1v4.6h-1.1zM192.6 151.30h1.1v4.6h-1.1zM205.5 151.30h1.1v4.6h-1.1zM215.5 151.30h1.1v4.6h-1.1zM207.5 158.20h1.1v4.6h-1.1zM210.5 158.20h1.1v4.6h-1.1zM160.7 162.75h1.1v4.6h-1.1zM198.6 162.75h1.1v4.6h-1.1zM199.6 162.75h1.1v4.6h-1.1zM175.7 167.30h1.1v4.6h-1.1zM202.5 167.30h1.1v4.6h-1.1zM210.5 167.30h1.1v4.6h-1.1zM226.4 167.30h1.1v4.6h-1.1zM234.4 167.30h1.1v4.6h-1.1zM205.5 171.85h1.1v4.6h-1.1zM214.5 180.95h1.1v4.6h-1.1zM221.5 180.95h1.1v4.6h-1.1zM225.4 180.95h1.1v4.6h-1.1z" fill="#978dd0"/><path d="M200.6 76.30h1.1v4.6h-1.1zM207.5 76.30h1.1v4.6h-1.1zM210.5 76.30h1.1v4.6h-1.1zM180.6 80.85h1.1v4.6h-1.1zM181.6 80.85h1.1v4.6h-1.1zM190.6 80.85h1.1v4.6h-1.1zM206.5 80.85h1.1v4.6h-1.1zM219.5 80.85h1.1v4.6h-1.1zM203.5 85.40h1.1v4.6h-1.1zM217.5 85.40h1.1v4.6h-1.1zM223.5 85.40h1.1v4.6h-1.1zM228.4 85.40h1.1v4.6h-1.1zM230.4 85.40h1.1v4.6h-1.1zM178.7 89.95h1.1v4.6h-1.1zM181.6 89.95h1.1v4.6h-1.1zM190.6 89.95h1.1v4.6h-1.1zM192.6 89.95h1.1v4.6h-1.1zM193.6 89.95h1.1v4.6h-1.1zM195.6 89.95h1.1v4.6h-1.1zM199.6 89.95h1.1v4.6h-1.1zM216.5 89.95h1.1v4.6h-1.1zM223.5 89.95h1.1v4.6h-1.1zM229.4 89.95h1.1v4.6h-1.1zM193.6 99.05h1.1v4.6h-1.1zM203.5 99.05h1.1v4.6h-1.1zM216.5 99.05h1.1v4.6h-1.1zM217.5 99.05h1.1v4.6h-1.1zM191.6 103.60h1.1v4.6h-1.1zM200.6 103.60h1.1v4.6h-1.1zM209.5 103.60h1.1v4.6h-1.1zM193.6 108.15h1.1v4.6h-1.1zM195.6 108.15h1.1v4.6h-1.1zM201.5 108.15h1.1v4.6h-1.1zM217.5 108.15h1.1v4.6h-1.1zM175.7 112.70h1.1v4.6h-1.1zM186.6 112.70h1.1v4.6h-1.1zM205.5 112.70h1.1v4.6h-1.1zM212.5 112.70h1.1v4.6h-1.1zM216.5 112.70h1.1v4.6h-1.1zM217.5 112.70h1.1v4.6h-1.1zM219.5 112.70h1.1v4.6h-1.1zM193.6 117.25h1.1v4.6h-1.1zM206.5 117.25h1.1v4.6h-1.1zM227.4 117.25h1.1v4.6h-1.1zM193.6 124.00h1.1v4.6h-1.1zM218.5 124.00h1.1v4.6h-1.1zM219.5 124.00h1.1v4.6h-1.1zM221.5 124.00h1.1v4.6h-1.1zM224.4 124.00h1.1v4.6h-1.1zM188.6 128.55h1.1v4.6h-1.1zM190.6 128.55h1.1v4.6h-1.1zM219.5 128.55h1.1v4.6h-1.1zM175.7 133.10h1.1v4.6h-1.1zM178.7 133.10h1.1v4.6h-1.1zM186.6 133.10h1.1v4.6h-1.1zM210.5 133.10h1.1v4.6h-1.1zM197.6 137.65h1.1v4.6h-1.1zM199.6 137.65h1.1v4.6h-1.1zM226.4 137.65h1.1v4.6h-1.1zM230.4 137.65h1.1v4.6h-1.1zM183.6 142.20h1.1v4.6h-1.1zM193.6 142.20h1.1v4.6h-1.1zM180.6 146.75h1.1v4.6h-1.1zM187.6 146.75h1.1v4.6h-1.1zM204.5 146.75h1.1v4.6h-1.1zM206.5 146.75h1.1v4.6h-1.1zM219.5 146.75h1.1v4.6h-1.1zM224.4 146.75h1.1v4.6h-1.1zM232.4 146.75h1.1v4.6h-1.1zM160.7 151.30h1.1v4.6h-1.1zM183.6 151.30h1.1v4.6h-1.1zM201.5 151.30h1.1v4.6h-1.1zM214.5 151.30h1.1v4.6h-1.1zM223.5 151.30h1.1v4.6h-1.1zM226.4 151.30h1.1v4.6h-1.1zM160.7 158.20h1.1v4.6h-1.1zM175.7 158.20h1.1v4.6h-1.1zM180.6 158.20h1.1v4.6h-1.1zM203.5 158.20h1.1v4.6h-1.1zM219.5 158.20h1.1v4.6h-1.1zM226.4 158.20h1.1v4.6h-1.1zM200.6 162.75h1.1v4.6h-1.1zM202.5 162.75h1.1v4.6h-1.1zM216.5 162.75h1.1v4.6h-1.1zM225.4 162.75h1.1v4.6h-1.1zM227.4 162.75h1.1v4.6h-1.1zM186.6 167.30h1.1v4.6h-1.1zM199.6 167.30h1.1v4.6h-1.1zM203.5 167.30h1.1v4.6h-1.1zM204.5 167.30h1.1v4.6h-1.1zM221.5 167.30h1.1v4.6h-1.1zM230.4 167.30h1.1v4.6h-1.1zM160.7 171.85h1.1v4.6h-1.1zM169.7 171.85h1.1v4.6h-1.1zM175.7 171.85h1.1v4.6h-1.1zM178.7 171.85h1.1v4.6h-1.1zM190.6 171.85h1.1v4.6h-1.1zM192.6 171.85h1.1v4.6h-1.1zM195.6 171.85h1.1v4.6h-1.1zM199.6 171.85h1.1v4.6h-1.1zM204.5 171.85h1.1v4.6h-1.1zM212.5 176.40h1.1v4.6h-1.1zM216.5 176.40h1.1v4.6h-1.1zM224.4 176.40h1.1v4.6h-1.1zM232.4 176.40h1.1v4.6h-1.1zM233.4 180.95h1.1v4.6h-1.1z" fill="#a197d4"/><path d="M193.6 76.30h1.1v4.6h-1.1zM213.5 76.30h1.1v4.6h-1.1zM202.5 80.85h1.1v4.6h-1.1zM227.4 80.85h1.1v4.6h-1.1zM160.7 85.40h1.1v4.6h-1.1zM227.4 85.40h1.1v4.6h-1.1zM231.4 85.40h1.1v4.6h-1.1zM172.7 89.95h1.1v4.6h-1.1zM180.6 89.95h1.1v4.6h-1.1zM184.6 89.95h1.1v4.6h-1.1zM185.6 89.95h1.1v4.6h-1.1zM189.6 94.50h1.1v4.6h-1.1zM190.6 94.50h1.1v4.6h-1.1zM206.5 94.50h1.1v4.6h-1.1zM225.4 94.50h1.1v4.6h-1.1zM233.4 94.50h1.1v4.6h-1.1zM127.9 99.05h1.1v4.6h-1.1zM169.7 99.05h1.1v4.6h-1.1zM184.6 99.05h1.1v4.6h-1.1zM199.6 99.05h1.1v4.6h-1.1zM221.5 99.05h1.1v4.6h-1.1zM225.4 99.05h1.1v4.6h-1.1zM158.7 103.60h1.1v4.6h-1.1zM178.7 103.60h1.1v4.6h-1.1zM204.5 103.60h1.1v4.6h-1.1zM216.5 103.60h1.1v4.6h-1.1zM221.5 103.60h1.1v4.6h-1.1zM191.6 108.15h1.1v4.6h-1.1zM203.5 108.15h1.1v4.6h-1.1zM206.5 108.15h1.1v4.6h-1.1zM125.9 112.70h1.1v4.6h-1.1zM184.6 112.70h1.1v4.6h-1.1zM200.6 112.70h1.1v4.6h-1.1zM215.5 112.70h1.1v4.6h-1.1zM177.7 117.25h1.1v4.6h-1.1zM178.7 117.25h1.1v4.6h-1.1zM182.6 117.25h1.1v4.6h-1.1zM210.5 117.25h1.1v4.6h-1.1zM225.4 117.25h1.1v4.6h-1.1zM226.4 117.25h1.1v4.6h-1.1zM160.7 124.00h1.1v4.6h-1.1zM164.7 124.00h1.1v4.6h-1.1zM177.7 124.00h1.1v4.6h-1.1zM205.5 124.00h1.1v4.6h-1.1zM226.4 124.00h1.1v4.6h-1.1zM228.4 124.00h1.1v4.6h-1.1zM214.5 128.55h1.1v4.6h-1.1zM230.4 128.55h1.1v4.6h-1.1zM200.6 133.10h1.1v4.6h-1.1zM220.5 133.10h1.1v4.6h-1.1zM223.5 133.10h1.1v4.6h-1.1zM209.5 137.65h1.1v4.6h-1.1zM219.5 137.65h1.1v4.6h-1.1zM233.4 137.65h1.1v4.6h-1.1zM202.5 142.20h1.1v4.6h-1.1zM204.5 142.20h1.1v4.6h-1.1zM205.5 142.20h1.1v4.6h-1.1zM206.5 142.20h1.1v4.6h-1.1zM219.5 142.20h1.1v4.6h-1.1zM226.4 142.20h1.1v4.6h-1.1zM173.7 146.75h1.1v4.6h-1.1zM203.5 146.75h1.1v4.6h-1.1zM233.4 146.75h1.1v4.6h-1.1zM204.5 151.30h1.1v4.6h-1.1zM225.4 151.30h1.1v4.6h-1.1zM232.4 151.30h1.1v4.6h-1.1zM193.6 158.20h1.1v4.6h-1.1zM206.5 158.20h1.1v4.6h-1.1zM223.5 158.20h1.1v4.6h-1.1zM164.7 162.75h1.1v4.6h-1.1zM204.5 162.75h1.1v4.6h-1.1zM224.4 162.75h1.1v4.6h-1.1zM232.4 162.75h1.1v4.6h-1.1zM193.6 167.30h1.1v4.6h-1.1zM195.6 167.30h1.1v4.6h-1.1zM211.5 167.30h1.1v4.6h-1.1zM216.5 167.30h1.1v4.6h-1.1zM224.4 167.30h1.1v4.6h-1.1zM180.6 171.85h1.1v4.6h-1.1zM196.6 171.85h1.1v4.6h-1.1zM207.5 171.85h1.1v4.6h-1.1zM216.5 171.85h1.1v4.6h-1.1zM223.5 171.85h1.1v4.6h-1.1zM169.7 176.40h1.1v4.6h-1.1zM190.6 176.40h1.1v4.6h-1.1zM207.5 176.40h1.1v4.6h-1.1zM214.5 176.40h1.1v4.6h-1.1zM169.7 180.95h1.1v4.6h-1.1zM229.4 180.95h1.1v4.6h-1.1zM231.4 180.95h1.1v4.6h-1.1z" fill="#aba1d9"/><path d="M220.5 76.30h1.1v4.6h-1.1zM229.4 76.30h1.1v4.6h-1.1zM210.5 80.85h1.1v4.6h-1.1zM223.5 80.85h1.1v4.6h-1.1zM225.4 80.85h1.1v4.6h-1.1zM167.7 85.40h1.1v4.6h-1.1zM191.6 85.40h1.1v4.6h-1.1zM195.6 85.40h1.1v4.6h-1.1zM196.6 85.40h1.1v4.6h-1.1zM210.5 85.40h1.1v4.6h-1.1zM229.4 85.40h1.1v4.6h-1.1zM217.5 89.95h1.1v4.6h-1.1zM230.4 89.95h1.1v4.6h-1.1zM195.6 94.50h1.1v4.6h-1.1zM212.5 94.50h1.1v4.6h-1.1zM164.7 99.05h1.1v4.6h-1.1zM168.7 99.05h1.1v4.6h-1.1zM189.6 99.05h1.1v4.6h-1.1zM190.6 99.05h1.1v4.6h-1.1zM195.6 99.05h1.1v4.6h-1.1zM196.6 99.05h1.1v4.6h-1.1zM188.6 103.60h1.1v4.6h-1.1zM206.5 103.60h1.1v4.6h-1.1zM210.5 103.60h1.1v4.6h-1.1zM182.6 108.15h1.1v4.6h-1.1zM214.5 108.15h1.1v4.6h-1.1zM169.7 112.70h1.1v4.6h-1.1zM187.6 112.70h1.1v4.6h-1.1zM197.6 112.70h1.1v4.6h-1.1zM198.6 112.70h1.1v4.6h-1.1zM225.4 112.70h1.1v4.6h-1.1zM226.4 112.70h1.1v4.6h-1.1zM232.4 112.70h1.1v4.6h-1.1zM167.7 117.25h1.1v4.6h-1.1zM211.5 117.25h1.1v4.6h-1.1zM178.7 124.00h1.1v4.6h-1.1zM183.6 124.00h1.1v4.6h-1.1zM201.5 124.00h1.1v4.6h-1.1zM203.5 124.00h1.1v4.6h-1.1zM220.5 124.00h1.1v4.6h-1.1zM160.7 128.55h1.1v4.6h-1.1zM172.7 128.55h1.1v4.6h-1.1zM199.6 128.55h1.1v4.6h-1.1zM202.5 128.55h1.1v4.6h-1.1zM206.5 128.55h1.1v4.6h-1.1zM224.4 128.55h1.1v4.6h-1.1zM172.7 133.10h1.1v4.6h-1.1zM193.6 133.10h1.1v4.6h-1.1zM195.6 133.10h1.1v4.6h-1.1zM203.5 133.10h1.1v4.6h-1.1zM233.4 133.10h1.1v4.6h-1.1zM158.7 137.65h1.1v4.6h-1.1zM164.7 137.65h1.1v4.6h-1.1zM179.6 137.65h1.1v4.6h-1.1zM193.6 137.65h1.1v4.6h-1.1zM210.5 137.65h1.1v4.6h-1.1zM213.5 142.20h1.1v4.6h-1.1zM217.5 142.20h1.1v4.6h-1.1zM227.4 142.20h1.1v4.6h-1.1zM230.4 142.20h1.1v4.6h-1.1zM181.6 146.75h1.1v4.6h-1.1zM220.5 146.75h1.1v4.6h-1.1zM159.7 151.30h1.1v4.6h-1.1zM219.5 151.30h1.1v4.6h-1.1zM220.5 151.30h1.1v4.6h-1.1zM230.4 151.30h1.1v4.6h-1.1zM125.9 158.20h1.1v4.6h-1.1zM191.6 158.20h1.1v4.6h-1.1zM192.6 158.20h1.1v4.6h-1.1zM232.4 158.20h1.1v4.6h-1.1zM173.7 162.75h1.1v4.6h-1.1zM217.5 162.75h1.1v4.6h-1.1zM160.7 167.30h1.1v4.6h-1.1zM166.7 167.30h1.1v4.6h-1.1zM188.6 167.30h1.1v4.6h-1.1zM207.5 167.30h1.1v4.6h-1.1zM201.5 171.85h1.1v4.6h-1.1zM218.5 171.85h1.1v4.6h-1.1zM231.4 176.40h1.1v4.6h-1.1zM163.7 180.95h1.1v4.6h-1.1zM178.7 180.95h1.1v4.6h-1.1zM204.5 180.95h1.1v4.6h-1.1zM226.4 180.95h1.1v4.6h-1.1zM227.4 180.95h1.1v4.6h-1.1z" fill="#b4abdd"/><path d="M160.7 76.30h1.1v4.6h-1.1zM180.6 76.30h1.1v4.6h-1.1zM227.4 76.30h1.1v4.6h-1.1zM188.6 80.85h1.1v4.6h-1.1zM216.5 80.85h1.1v4.6h-1.1zM232.4 80.85h1.1v4.6h-1.1zM172.7 85.40h1.1v4.6h-1.1zM207.5 85.40h1.1v4.6h-1.1zM205.5 89.95h1.1v4.6h-1.1zM218.5 89.95h1.1v4.6h-1.1zM219.5 89.95h1.1v4.6h-1.1zM231.4 89.95h1.1v4.6h-1.1zM122.9 94.50h1.1v4.6h-1.1zM210.5 94.50h1.1v4.6h-1.1zM227.4 94.50h1.1v4.6h-1.1zM231.4 94.50h1.1v4.6h-1.1zM211.5 99.05h1.1v4.6h-1.1zM160.7 103.60h1.1v4.6h-1.1zM177.7 103.60h1.1v4.6h-1.1zM189.6 103.60h1.1v4.6h-1.1zM218.5 103.60h1.1v4.6h-1.1zM220.5 103.60h1.1v4.6h-1.1zM129.9 108.15h1.1v4.6h-1.1zM188.6 108.15h1.1v4.6h-1.1zM176.7 112.70h1.1v4.6h-1.1zM190.6 112.70h1.1v4.6h-1.1zM191.6 112.70h1.1v4.6h-1.1zM195.6 112.70h1.1v4.6h-1.1zM230.4 112.70h1.1v4.6h-1.1zM131.9 117.25h1.1v4.6h-1.1zM163.7 117.25h1.1v4.6h-1.1zM180.6 117.25h1.1v4.6h-1.1zM190.6 117.25h1.1v4.6h-1.1zM195.6 117.25h1.1v4.6h-1.1zM205.5 117.25h1.1v4.6h-1.1zM162.7 124.00h1.1v4.6h-1.1zM179.6 124.00h1.1v4.6h-1.1zM191.6 124.00h1.1v4.6h-1.1zM206.5 124.00h1.1v4.6h-1.1zM207.5 124.00h1.1v4.6h-1.1zM229.4 124.00h1.1v4.6h-1.1zM157.7 128.55h1.1v4.6h-1.1zM179.6 128.55h1.1v4.6h-1.1zM194.6 128.55h1.1v4.6h-1.1zM220.5 128.55h1.1v4.6h-1.1zM201.5 133.10h1.1v4.6h-1.1zM206.5 133.10h1.1v4.6h-1.1zM221.5 137.65h1.1v4.6h-1.1zM232.4 137.65h1.1v4.6h-1.1zM189.6 142.20h1.1v4.6h-1.1zM190.6 142.20h1.1v4.6h-1.1zM201.5 142.20h1.1v4.6h-1.1zM210.5 142.20h1.1v4.6h-1.1zM168.7 146.75h1.1v4.6h-1.1zM169.7 146.75h1.1v4.6h-1.1zM172.7 146.75h1.1v4.6h-1.1zM196.6 146.75h1.1v4.6h-1.1zM207.5 146.75h1.1v4.6h-1.1zM221.5 146.75h1.1v4.6h-1.1zM198.6 151.30h1.1v4.6h-1.1zM157.7 158.20h1.1v4.6h-1.1zM158.7 158.20h1.1v4.6h-1.1zM169.7 158.20h1.1v4.6h-1.1zM195.6 158.20h1.1v4.6h-1.1zM212.5 158.20h1.1v4.6h-1.1zM214.5 158.20h1.1v4.6h-1.1zM163.7 162.75h1.1v4.6h-1.1zM185.6 162.75h1.1v4.6h-1.1zM219.5 162.75h1.1v4.6h-1.1zM220.5 162.75h1.1v4.6h-1.1zM157.7 167.30h1.1v4.6h-1.1zM169.7 167.30h1.1v4.6h-1.1zM172.7 167.30h1.1v4.6h-1.1zM181.6 167.30h1.1v4.6h-1.1zM157.7 171.85h1.1v4.6h-1.1zM164.7 171.85h1.1v4.6h-1.1zM195.6 176.40h1.1v4.6h-1.1zM205.5 176.40h1.1v4.6h-1.1zM221.5 176.40h1.1v4.6h-1.1zM226.4 176.40h1.1v4.6h-1.1zM229.4 176.40h1.1v4.6h-1.1zM161.7 180.95h1.1v4.6h-1.1zM188.6 180.95h1.1v4.6h-1.1zM203.5 180.95h1.1v4.6h-1.1zM216.5 180.95h1.1v4.6h-1.1z" fill="#beb5e1"/><path d="M176.7 76.30h1.1v4.6h-1.1zM196.6 76.30h1.1v4.6h-1.1zM219.5 76.30h1.1v4.6h-1.1zM157.7 80.85h1.1v4.6h-1.1zM199.6 80.85h1.1v4.6h-1.1zM207.5 80.85h1.1v4.6h-1.1zM221.5 80.85h1.1v4.6h-1.1zM186.6 85.40h1.1v4.6h-1.1zM190.6 85.40h1.1v4.6h-1.1zM201.5 85.40h1.1v4.6h-1.1zM157.7 89.95h1.1v4.6h-1.1zM173.7 89.95h1.1v4.6h-1.1zM194.6 89.95h1.1v4.6h-1.1zM200.6 89.95h1.1v4.6h-1.1zM207.5 89.95h1.1v4.6h-1.1zM214.5 89.95h1.1v4.6h-1.1zM160.7 94.50h1.1v4.6h-1.1zM172.7 94.50h1.1v4.6h-1.1zM175.7 94.50h1.1v4.6h-1.1zM218.5 94.50h1.1v4.6h-1.1zM132.9 99.05h1.1v4.6h-1.1zM157.7 99.05h1.1v4.6h-1.1zM158.7 99.05h1.1v4.6h-1.1zM177.7 99.05h1.1v4.6h-1.1zM167.7 103.60h1.1v4.6h-1.1zM182.6 103.60h1.1v4.6h-1.1zM202.5 103.60h1.1v4.6h-1.1zM219.5 103.60h1.1v4.6h-1.1zM166.7 108.15h1.1v4.6h-1.1zM175.7 108.15h1.1v4.6h-1.1zM177.7 108.15h1.1v4.6h-1.1zM122.9 112.70h1.1v4.6h-1.1zM166.7 112.70h1.1v4.6h-1.1zM181.6 112.70h1.1v4.6h-1.1zM214.5 112.70h1.1v4.6h-1.1zM158.7 117.25h1.1v4.6h-1.1zM168.7 117.25h1.1v4.6h-1.1zM231.4 117.25h1.1v4.6h-1.1zM172.7 124.00h1.1v4.6h-1.1zM211.5 124.00h1.1v4.6h-1.1zM212.5 124.00h1.1v4.6h-1.1zM175.7 128.55h1.1v4.6h-1.1zM178.7 128.55h1.1v4.6h-1.1zM210.5 128.55h1.1v4.6h-1.1zM177.7 133.10h1.1v4.6h-1.1zM202.5 133.10h1.1v4.6h-1.1zM207.5 133.10h1.1v4.6h-1.1zM213.5 133.10h1.1v4.6h-1.1zM221.5 133.10h1.1v4.6h-1.1zM160.7 137.65h1.1v4.6h-1.1zM163.7 137.65h1.1v4.6h-1.1zM166.7 137.65h1.1v4.6h-1.1zM169.7 137.65h1.1v4.6h-1.1zM170.7 137.65h1.1v4.6h-1.1zM191.6 137.65h1.1v4.6h-1.1zM203.5 137.65h1.1v4.6h-1.1zM217.5 137.65h1.1v4.6h-1.1zM231.4 137.65h1.1v4.6h-1.1zM169.7 142.20h1.1v4.6h-1.1zM203.5 142.20h1.1v4.6h-1.1zM231.4 142.20h1.1v4.6h-1.1zM175.7 146.75h1.1v4.6h-1.1zM178.7 146.75h1.1v4.6h-1.1zM195.6 146.75h1.1v4.6h-1.1zM210.5 146.75h1.1v4.6h-1.1zM212.5 151.30h1.1v4.6h-1.1zM227.4 151.30h1.1v4.6h-1.1zM186.6 158.20h1.1v4.6h-1.1zM199.6 158.20h1.1v4.6h-1.1zM221.5 158.20h1.1v4.6h-1.1zM158.7 162.75h1.1v4.6h-1.1zM166.7 162.75h1.1v4.6h-1.1zM175.7 162.75h1.1v4.6h-1.1zM180.6 162.75h1.1v4.6h-1.1zM184.6 162.75h1.1v4.6h-1.1zM211.5 162.75h1.1v4.6h-1.1zM163.7 167.30h1.1v4.6h-1.1zM176.7 167.30h1.1v4.6h-1.1zM189.6 167.30h1.1v4.6h-1.1zM217.5 171.85h1.1v4.6h-1.1zM219.5 171.85h1.1v4.6h-1.1zM220.5 171.85h1.1v4.6h-1.1zM175.7 176.40h1.1v4.6h-1.1zM217.5 176.40h1.1v4.6h-1.1zM222.5 176.40h1.1v4.6h-1.1zM160.7 180.95h1.1v4.6h-1.1zM192.6 180.95h1.1v4.6h-1.1zM212.5 180.95h1.1v4.6h-1.1zM213.5 180.95h1.1v4.6h-1.1z" fill="#c7bfe6"/><path d="M166.7 76.30h1.1v4.6h-1.1zM172.7 76.30h1.1v4.6h-1.1zM183.6 76.30h1.1v4.6h-1.1zM185.6 76.30h1.1v4.6h-1.1zM186.6 76.30h1.1v4.6h-1.1zM187.6 76.30h1.1v4.6h-1.1zM206.5 76.30h1.1v4.6h-1.1zM166.7 80.85h1.1v4.6h-1.1zM175.7 80.85h1.1v4.6h-1.1zM176.7 80.85h1.1v4.6h-1.1zM177.7 80.85h1.1v4.6h-1.1zM186.6 80.85h1.1v4.6h-1.1zM217.5 80.85h1.1v4.6h-1.1zM158.7 85.40h1.1v4.6h-1.1zM205.5 85.40h1.1v4.6h-1.1zM216.5 85.40h1.1v4.6h-1.1zM218.5 85.40h1.1v4.6h-1.1zM125.9 89.95h1.1v4.6h-1.1zM127.9 89.95h1.1v4.6h-1.1zM163.7 89.95h1.1v4.6h-1.1zM186.6 89.95h1.1v4.6h-1.1zM189.6 89.95h1.1v4.6h-1.1zM202.5 89.95h1.1v4.6h-1.1zM125.9 94.50h1.1v4.6h-1.1zM129.9 94.50h1.1v4.6h-1.1zM168.7 94.50h1.1v4.6h-1.1zM183.6 94.50h1.1v4.6h-1.1zM216.5 94.50h1.1v4.6h-1.1zM217.5 94.50h1.1v4.6h-1.1zM223.5 94.50h1.1v4.6h-1.1zM229.4 94.50h1.1v4.6h-1.1zM230.4 94.50h1.1v4.6h-1.1zM166.7 99.05h1.1v4.6h-1.1zM188.6 99.05h1.1v4.6h-1.1zM200.6 99.05h1.1v4.6h-1.1zM202.5 99.05h1.1v4.6h-1.1zM229.4 99.05h1.1v4.6h-1.1zM129.9 103.60h1.1v4.6h-1.1zM131.9 103.60h1.1v4.6h-1.1zM132.9 103.60h1.1v4.6h-1.1zM195.6 103.60h1.1v4.6h-1.1zM212.5 103.60h1.1v4.6h-1.1zM131.9 108.15h1.1v4.6h-1.1zM178.7 108.15h1.1v4.6h-1.1zM179.6 108.15h1.1v4.6h-1.1zM194.6 108.15h1.1v4.6h-1.1zM220.5 108.15h1.1v4.6h-1.1zM221.5 108.15h1.1v4.6h-1.1zM231.4 108.15h1.1v4.6h-1.1zM188.6 112.70h1.1v4.6h-1.1zM203.5 112.70h1.1v4.6h-1.1zM170.7 117.25h1.1v4.6h-1.1zM172.7 117.25h1.1v4.6h-1.1zM173.7 117.25h1.1v4.6h-1.1zM214.5 117.25h1.1v4.6h-1.1zM218.5 117.25h1.1v4.6h-1.1zM157.7 124.00h1.1v4.6h-1.1zM187.6 124.00h1.1v4.6h-1.1zM214.5 124.00h1.1v4.6h-1.1zM230.4 124.00h1.1v4.6h-1.1zM231.4 124.00h1.1v4.6h-1.1zM158.7 128.55h1.1v4.6h-1.1zM195.6 128.55h1.1v4.6h-1.1zM232.4 128.55h1.1v4.6h-1.1zM164.7 133.10h1.1v4.6h-1.1zM171.7 133.10h1.1v4.6h-1.1zM189.6 133.10h1.1v4.6h-1.1zM209.5 133.10h1.1v4.6h-1.1zM212.5 133.10h1.1v4.6h-1.1zM189.6 137.65h1.1v4.6h-1.1zM214.5 137.65h1.1v4.6h-1.1zM163.7 142.20h1.1v4.6h-1.1zM172.7 142.20h1.1v4.6h-1.1zM176.7 142.20h1.1v4.6h-1.1zM177.7 142.20h1.1v4.6h-1.1zM179.6 142.20h1.1v4.6h-1.1zM181.6 142.20h1.1v4.6h-1.1zM232.4 142.20h1.1v4.6h-1.1zM233.4 142.20h1.1v4.6h-1.1zM163.7 146.75h1.1v4.6h-1.1zM177.7 146.75h1.1v4.6h-1.1zM179.6 146.75h1.1v4.6h-1.1zM191.6 146.75h1.1v4.6h-1.1zM193.6 146.75h1.1v4.6h-1.1zM200.6 146.75h1.1v4.6h-1.1zM164.7 151.30h1.1v4.6h-1.1zM196.6 151.30h1.1v4.6h-1.1zM200.6 151.30h1.1v4.6h-1.1zM218.5 151.30h1.1v4.6h-1.1zM189.6 158.20h1.1v4.6h-1.1zM177.7 162.75h1.1v4.6h-1.1zM205.5 162.75h1.1v4.6h-1.1zM127.9 167.30h1.1v4.6h-1.1zM161.7 171.85h1.1v4.6h-1.1zM177.7 171.85h1.1v4.6h-1.1zM181.6 171.85h1.1v4.6h-1.1zM203.5 171.85h1.1v4.6h-1.1zM221.5 171.85h1.1v4.6h-1.1zM178.7 176.40h1.1v4.6h-1.1zM179.6 176.40h1.1v4.6h-1.1zM189.6 176.40h1.1v4.6h-1.1zM199.6 176.40h1.1v4.6h-1.1zM200.6 176.40h1.1v4.6h-1.1zM210.5 176.40h1.1v4.6h-1.1zM223.5 176.40h1.1v4.6h-1.1zM190.6 180.95h1.1v4.6h-1.1zM191.6 180.95h1.1v4.6h-1.1zM207.5 180.95h1.1v4.6h-1.1zM230.4 180.95h1.1v4.6h-1.1z" fill="#d0caea"/><path d="M177.7 76.30h1.1v4.6h-1.1zM164.7 80.85h1.1v4.6h-1.1zM173.7 80.85h1.1v4.6h-1.1zM200.6 80.85h1.1v4.6h-1.1zM231.4 80.85h1.1v4.6h-1.1zM164.7 85.40h1.1v4.6h-1.1zM173.7 85.40h1.1v4.6h-1.1zM176.7 85.40h1.1v4.6h-1.1zM158.7 89.95h1.1v4.6h-1.1zM188.6 89.95h1.1v4.6h-1.1zM176.7 94.50h1.1v4.6h-1.1zM125.9 99.05h1.1v4.6h-1.1zM163.7 99.05h1.1v4.6h-1.1zM170.7 99.05h1.1v4.6h-1.1zM185.6 99.05h1.1v4.6h-1.1zM186.6 99.05h1.1v4.6h-1.1zM206.5 99.05h1.1v4.6h-1.1zM210.5 99.05h1.1v4.6h-1.1zM218.5 99.05h1.1v4.6h-1.1zM227.4 99.05h1.1v4.6h-1.1zM168.7 103.60h1.1v4.6h-1.1zM181.6 103.60h1.1v4.6h-1.1zM154.8 108.15h1.1v4.6h-1.1zM181.6 108.15h1.1v4.6h-1.1zM218.5 108.15h1.1v4.6h-1.1zM223.5 108.15h1.1v4.6h-1.1zM227.4 108.15h1.1v4.6h-1.1zM173.7 112.70h1.1v4.6h-1.1zM178.7 112.70h1.1v4.6h-1.1zM202.5 112.70h1.1v4.6h-1.1zM125.9 117.25h1.1v4.6h-1.1zM169.7 117.25h1.1v4.6h-1.1zM191.6 117.25h1.1v4.6h-1.1zM196.6 117.25h1.1v4.6h-1.1zM217.5 117.25h1.1v4.6h-1.1zM233.4 117.25h1.1v4.6h-1.1zM165.7 124.00h1.1v4.6h-1.1zM192.6 124.00h1.1v4.6h-1.1zM217.5 124.00h1.1v4.6h-1.1zM227.4 124.00h1.1v4.6h-1.1zM163.7 128.55h1.1v4.6h-1.1zM191.6 128.55h1.1v4.6h-1.1zM205.5 128.55h1.1v4.6h-1.1zM213.5 128.55h1.1v4.6h-1.1zM221.5 128.55h1.1v4.6h-1.1zM223.5 128.55h1.1v4.6h-1.1zM233.4 128.55h1.1v4.6h-1.1zM159.7 133.10h1.1v4.6h-1.1zM160.7 133.10h1.1v4.6h-1.1zM166.7 133.10h1.1v4.6h-1.1zM176.7 133.10h1.1v4.6h-1.1zM180.6 133.10h1.1v4.6h-1.1zM181.6 133.10h1.1v4.6h-1.1zM181.6 137.65h1.1v4.6h-1.1zM212.5 137.65h1.1v4.6h-1.1zM218.5 142.20h1.1v4.6h-1.1zM188.6 146.75h1.1v4.6h-1.1zM180.6 151.30h1.1v4.6h-1.1zM202.5 151.30h1.1v4.6h-1.1zM166.7 158.20h1.1v4.6h-1.1zM178.7 158.20h1.1v4.6h-1.1zM196.6 158.20h1.1v4.6h-1.1zM217.5 158.20h1.1v4.6h-1.1zM218.5 158.20h1.1v4.6h-1.1zM220.5 158.20h1.1v4.6h-1.1zM186.6 162.75h1.1v4.6h-1.1zM210.5 162.75h1.1v4.6h-1.1zM122.9 167.30h1.1v4.6h-1.1zM164.7 167.30h1.1v4.6h-1.1zM179.6 167.30h1.1v4.6h-1.1zM218.5 167.30h1.1v4.6h-1.1zM227.4 167.30h1.1v4.6h-1.1zM172.7 171.85h1.1v4.6h-1.1zM212.5 171.85h1.1v4.6h-1.1zM231.4 171.85h1.1v4.6h-1.1zM186.6 176.40h1.1v4.6h-1.1zM202.5 176.40h1.1v4.6h-1.1zM206.5 176.40h1.1v4.6h-1.1zM215.5 176.40h1.1v4.6h-1.1zM218.5 176.40h1.1v4.6h-1.1zM154.8 180.95h1.1v4.6h-1.1zM157.7 180.95h1.1v4.6h-1.1zM210.5 180.95h1.1v4.6h-1.1zM223.5 180.95h1.1v4.6h-1.1z" fill="#dad4ee"/><path d="M164.7 76.30h1.1v4.6h-1.1zM189.6 76.30h1.1v4.6h-1.1zM191.6 76.30h1.1v4.6h-1.1zM218.5 76.30h1.1v4.6h-1.1zM159.7 80.85h1.1v4.6h-1.1zM157.7 85.40h1.1v4.6h-1.1zM169.7 85.40h1.1v4.6h-1.1zM177.7 85.40h1.1v4.6h-1.1zM194.6 85.40h1.1v4.6h-1.1zM122.9 89.95h1.1v4.6h-1.1zM164.7 89.95h1.1v4.6h-1.1zM167.7 89.95h1.1v4.6h-1.1zM177.7 89.95h1.1v4.6h-1.1zM212.5 89.95h1.1v4.6h-1.1zM220.5 89.95h1.1v4.6h-1.1zM131.9 99.05h1.1v4.6h-1.1zM181.6 99.05h1.1v4.6h-1.1zM213.5 99.05h1.1v4.6h-1.1zM219.5 99.05h1.1v4.6h-1.1zM231.4 99.05h1.1v4.6h-1.1zM164.7 103.60h1.1v4.6h-1.1zM166.7 103.60h1.1v4.6h-1.1zM169.7 103.60h1.1v4.6h-1.1zM179.6 103.60h1.1v4.6h-1.1zM217.5 103.60h1.1v4.6h-1.1zM160.7 108.15h1.1v4.6h-1.1zM163.7 108.15h1.1v4.6h-1.1zM172.7 108.15h1.1v4.6h-1.1zM174.7 108.15h1.1v4.6h-1.1zM189.6 108.15h1.1v4.6h-1.1zM193.6 112.70h1.1v4.6h-1.1zM196.6 112.70h1.1v4.6h-1.1zM134.8 117.25h1.1v4.6h-1.1zM164.7 117.25h1.1v4.6h-1.1zM176.7 117.25h1.1v4.6h-1.1zM186.6 117.25h1.1v4.6h-1.1zM200.6 117.25h1.1v4.6h-1.1zM219.5 117.25h1.1v4.6h-1.1zM163.7 124.00h1.1v4.6h-1.1zM188.6 124.00h1.1v4.6h-1.1zM177.7 128.55h1.1v4.6h-1.1zM192.6 128.55h1.1v4.6h-1.1zM225.4 133.10h1.1v4.6h-1.1zM227.4 133.10h1.1v4.6h-1.1zM172.7 137.65h1.1v4.6h-1.1zM196.6 137.65h1.1v4.6h-1.1zM200.6 137.65h1.1v4.6h-1.1zM202.5 137.65h1.1v4.6h-1.1zM218.5 137.65h1.1v4.6h-1.1zM167.7 142.20h1.1v4.6h-1.1zM180.6 142.20h1.1v4.6h-1.1zM195.6 142.20h1.1v4.6h-1.1zM225.4 142.20h1.1v4.6h-1.1zM229.4 142.20h1.1v4.6h-1.1zM131.9 146.75h1.1v4.6h-1.1zM160.7 146.75h1.1v4.6h-1.1zM202.5 146.75h1.1v4.6h-1.1zM217.5 146.75h1.1v4.6h-1.1zM161.7 151.30h1.1v4.6h-1.1zM213.5 151.30h1.1v4.6h-1.1zM216.5 151.30h1.1v4.6h-1.1zM231.4 151.30h1.1v4.6h-1.1zM129.9 158.20h1.1v4.6h-1.1zM135.8 158.20h1.1v4.6h-1.1zM163.7 158.20h1.1v4.6h-1.1zM202.5 158.20h1.1v4.6h-1.1zM229.4 158.20h1.1v4.6h-1.1zM157.7 162.75h1.1v4.6h-1.1zM167.7 162.75h1.1v4.6h-1.1zM176.7 162.75h1.1v4.6h-1.1zM178.7 162.75h1.1v4.6h-1.1zM203.5 162.75h1.1v4.6h-1.1zM214.5 162.75h1.1v4.6h-1.1zM231.4 167.30h1.1v4.6h-1.1zM131.9 171.85h1.1v4.6h-1.1zM136.8 171.85h1.1v4.6h-1.1zM158.7 171.85h1.1v4.6h-1.1zM163.7 171.85h1.1v4.6h-1.1zM179.6 171.85h1.1v4.6h-1.1zM160.7 176.40h1.1v4.6h-1.1zM173.7 176.40h1.1v4.6h-1.1zM182.6 176.40h1.1v4.6h-1.1zM129.9 180.95h1.1v4.6h-1.1zM186.6 180.95h1.1v4.6h-1.1zM189.6 180.95h1.1v4.6h-1.1zM219.5 180.95h1.1v4.6h-1.1z" fill="#e3dff2"/><path d="M157.7 76.30h1.1v4.6h-1.1zM163.7 76.30h1.1v4.6h-1.1zM175.7 76.30h1.1v4.6h-1.1zM178.7 76.30h1.1v4.6h-1.1zM181.6 76.30h1.1v4.6h-1.1zM167.7 80.85h1.1v4.6h-1.1zM181.6 85.40h1.1v4.6h-1.1zM169.7 89.95h1.1v4.6h-1.1zM182.6 89.95h1.1v4.6h-1.1zM191.6 89.95h1.1v4.6h-1.1zM227.4 89.95h1.1v4.6h-1.1zM127.9 94.50h1.1v4.6h-1.1zM166.7 94.50h1.1v4.6h-1.1zM192.6 94.50h1.1v4.6h-1.1zM129.9 99.05h1.1v4.6h-1.1zM167.7 99.05h1.1v4.6h-1.1zM175.7 99.05h1.1v4.6h-1.1zM163.7 103.60h1.1v4.6h-1.1zM122.9 108.15h1.1v4.6h-1.1zM132.9 108.15h1.1v4.6h-1.1zM171.7 108.15h1.1v4.6h-1.1zM164.7 112.70h1.1v4.6h-1.1zM167.7 112.70h1.1v4.6h-1.1zM189.6 112.70h1.1v4.6h-1.1zM231.4 112.70h1.1v4.6h-1.1zM129.9 117.25h1.1v4.6h-1.1zM171.7 117.25h1.1v4.6h-1.1zM175.7 117.25h1.1v4.6h-1.1zM175.7 124.00h1.1v4.6h-1.1zM189.6 124.00h1.1v4.6h-1.1zM202.5 124.00h1.1v4.6h-1.1zM223.5 124.00h1.1v4.6h-1.1zM168.7 128.55h1.1v4.6h-1.1zM169.7 128.55h1.1v4.6h-1.1zM181.6 128.55h1.1v4.6h-1.1zM207.5 128.55h1.1v4.6h-1.1zM229.4 128.55h1.1v4.6h-1.1zM161.7 133.10h1.1v4.6h-1.1zM163.7 133.10h1.1v4.6h-1.1zM135.8 137.65h1.1v4.6h-1.1zM175.7 137.65h1.1v4.6h-1.1zM176.7 137.65h1.1v4.6h-1.1zM183.6 137.65h1.1v4.6h-1.1zM195.6 137.65h1.1v4.6h-1.1zM205.5 137.65h1.1v4.6h-1.1zM166.7 142.20h1.1v4.6h-1.1zM168.7 142.20h1.1v4.6h-1.1zM169.7 151.30h1.1v4.6h-1.1zM170.7 151.30h1.1v4.6h-1.1zM181.6 151.30h1.1v4.6h-1.1zM188.6 151.30h1.1v4.6h-1.1zM207.5 151.30h1.1v4.6h-1.1zM221.5 151.30h1.1v4.6h-1.1zM131.9 158.20h1.1v4.6h-1.1zM172.7 158.20h1.1v4.6h-1.1zM177.7 158.20h1.1v4.6h-1.1zM182.6 158.20h1.1v4.6h-1.1zM122.9 162.75h1.1v4.6h-1.1zM131.9 162.75h1.1v4.6h-1.1zM165.7 162.75h1.1v4.6h-1.1zM182.6 162.75h1.1v4.6h-1.1zM195.6 162.75h1.1v4.6h-1.1zM218.5 162.75h1.1v4.6h-1.1zM231.4 162.75h1.1v4.6h-1.1zM132.9 167.30h1.1v4.6h-1.1zM177.7 167.30h1.1v4.6h-1.1zM191.6 167.30h1.1v4.6h-1.1zM206.5 167.30h1.1v4.6h-1.1zM212.5 167.30h1.1v4.6h-1.1zM122.9 171.85h1.1v4.6h-1.1zM166.7 171.85h1.1v4.6h-1.1zM189.6 171.85h1.1v4.6h-1.1zM227.4 171.85h1.1v4.6h-1.1zM132.9 176.40h1.1v4.6h-1.1zM147.8 176.40h1.1v4.6h-1.1zM177.7 176.40h1.1v4.6h-1.1zM182.6 180.95h1.1v4.6h-1.1z" fill="#ece9f7"/><path d="M123.9 76.30h1.1v4.6h-1.1zM159.7 76.30h1.1v4.6h-1.1zM162.7 76.30h1.1v4.6h-1.1zM167.7 76.30h1.1v4.6h-1.1zM194.6 76.30h1.1v4.6h-1.1zM195.6 76.30h1.1v4.6h-1.1zM163.7 80.85h1.1v4.6h-1.1zM170.7 80.85h1.1v4.6h-1.1zM178.7 80.85h1.1v4.6h-1.1zM196.6 80.85h1.1v4.6h-1.1zM189.6 85.40h1.1v4.6h-1.1zM202.5 85.40h1.1v4.6h-1.1zM162.7 89.95h1.1v4.6h-1.1zM174.7 89.95h1.1v4.6h-1.1zM124.9 94.50h1.1v4.6h-1.1zM162.7 94.50h1.1v4.6h-1.1zM163.7 94.50h1.1v4.6h-1.1zM167.7 94.50h1.1v4.6h-1.1zM169.7 94.50h1.1v4.6h-1.1zM178.7 99.05h1.1v4.6h-1.1zM157.7 103.60h1.1v4.6h-1.1zM170.7 103.60h1.1v4.6h-1.1zM125.9 108.15h1.1v4.6h-1.1zM127.9 108.15h1.1v4.6h-1.1zM185.6 108.15h1.1v4.6h-1.1zM210.5 108.15h1.1v4.6h-1.1zM131.9 112.70h1.1v4.6h-1.1zM158.7 112.70h1.1v4.6h-1.1zM168.7 112.70h1.1v4.6h-1.1zM170.7 112.70h1.1v4.6h-1.1zM177.7 112.70h1.1v4.6h-1.1zM220.5 112.70h1.1v4.6h-1.1zM160.7 117.25h1.1v4.6h-1.1zM181.6 117.25h1.1v4.6h-1.1zM125.9 124.00h1.1v4.6h-1.1zM168.7 124.00h1.1v4.6h-1.1zM182.6 124.00h1.1v4.6h-1.1zM136.8 128.55h1.1v4.6h-1.1zM162.7 128.55h1.1v4.6h-1.1zM176.7 128.55h1.1v4.6h-1.1zM186.6 128.55h1.1v4.6h-1.1zM217.5 128.55h1.1v4.6h-1.1zM173.7 133.10h1.1v4.6h-1.1zM182.6 133.10h1.1v4.6h-1.1zM159.7 137.65h1.1v4.6h-1.1zM171.7 137.65h1.1v4.6h-1.1zM198.6 137.65h1.1v4.6h-1.1zM158.7 142.20h1.1v4.6h-1.1zM121.9 146.75h1.1v4.6h-1.1zM125.9 146.75h1.1v4.6h-1.1zM176.7 146.75h1.1v4.6h-1.1zM186.6 146.75h1.1v4.6h-1.1zM154.8 151.30h1.1v4.6h-1.1zM168.7 151.30h1.1v4.6h-1.1zM177.7 151.30h1.1v4.6h-1.1zM195.6 151.30h1.1v4.6h-1.1zM154.8 158.20h1.1v4.6h-1.1zM159.7 158.20h1.1v4.6h-1.1zM126.9 162.75h1.1v4.6h-1.1zM172.7 162.75h1.1v4.6h-1.1zM146.8 167.30h1.1v4.6h-1.1zM174.7 167.30h1.1v4.6h-1.1zM127.9 171.85h1.1v4.6h-1.1zM154.8 171.85h1.1v4.6h-1.1zM159.7 171.85h1.1v4.6h-1.1zM168.7 171.85h1.1v4.6h-1.1zM188.6 171.85h1.1v4.6h-1.1zM123.9 176.40h1.1v4.6h-1.1zM157.7 176.40h1.1v4.6h-1.1zM158.7 176.40h1.1v4.6h-1.1zM163.7 176.40h1.1v4.6h-1.1zM180.6 176.40h1.1v4.6h-1.1zM181.6 176.40h1.1v4.6h-1.1zM162.7 180.95h1.1v4.6h-1.1zM172.7 180.95h1.1v4.6h-1.1zM175.7 180.95h1.1v4.6h-1.1zM177.7 180.95h1.1v4.6h-1.1zM202.5 180.95h1.1v4.6h-1.1zM218.5 180.95h1.1v4.6h-1.1z" fill="#f6f4fb"/><path d="M131.9 76.30h1.1v4.6h-1.1zM158.7 76.30h1.1v4.6h-1.1zM212.5 76.30h1.1v4.6h-1.1zM158.7 80.85h1.1v4.6h-1.1zM162.7 80.85h1.1v4.6h-1.1zM165.7 80.85h1.1v4.6h-1.1zM189.6 80.85h1.1v4.6h-1.1zM194.6 80.85h1.1v4.6h-1.1zM131.9 85.40h1.1v4.6h-1.1zM175.7 85.40h1.1v4.6h-1.1zM131.9 89.95h1.1v4.6h-1.1zM196.6 89.95h1.1v4.6h-1.1zM131.9 94.50h1.1v4.6h-1.1zM173.7 94.50h1.1v4.6h-1.1zM196.6 94.50h1.1v4.6h-1.1zM121.9 99.05h1.1v4.6h-1.1zM123.9 99.05h1.1v4.6h-1.1zM162.7 99.05h1.1v4.6h-1.1zM172.7 99.05h1.1v4.6h-1.1zM176.7 99.05h1.1v4.6h-1.1zM179.6 99.05h1.1v4.6h-1.1zM124.9 103.60h1.1v4.6h-1.1zM136.8 103.60h1.1v4.6h-1.1zM146.8 103.60h1.1v4.6h-1.1zM172.7 103.60h1.1v4.6h-1.1zM175.7 103.60h1.1v4.6h-1.1zM194.6 103.60h1.1v4.6h-1.1zM196.6 103.60h1.1v4.6h-1.1zM201.5 103.60h1.1v4.6h-1.1zM203.5 103.60h1.1v4.6h-1.1zM124.9 108.15h1.1v4.6h-1.1zM164.7 108.15h1.1v4.6h-1.1zM165.7 108.15h1.1v4.6h-1.1zM168.7 108.15h1.1v4.6h-1.1zM176.7 108.15h1.1v4.6h-1.1zM124.9 112.70h1.1v4.6h-1.1zM132.9 112.70h1.1v4.6h-1.1zM159.7 112.70h1.1v4.6h-1.1zM163.7 112.70h1.1v4.6h-1.1zM171.7 112.70h1.1v4.6h-1.1zM157.7 117.25h1.1v4.6h-1.1zM166.7 117.25h1.1v4.6h-1.1zM181.6 124.00h1.1v4.6h-1.1zM185.6 124.00h1.1v4.6h-1.1zM195.6 124.00h1.1v4.6h-1.1zM225.4 124.00h1.1v4.6h-1.1zM166.7 128.55h1.1v4.6h-1.1zM122.9 133.10h1.1v4.6h-1.1zM132.9 133.10h1.1v4.6h-1.1zM162.7 133.10h1.1v4.6h-1.1zM188.6 133.10h1.1v4.6h-1.1zM190.6 133.10h1.1v4.6h-1.1zM157.7 137.65h1.1v4.6h-1.1zM185.6 137.65h1.1v4.6h-1.1zM186.6 137.65h1.1v4.6h-1.1zM127.9 142.20h1.1v4.6h-1.1zM132.9 142.20h1.1v4.6h-1.1zM170.7 142.20h1.1v4.6h-1.1zM175.7 142.20h1.1v4.6h-1.1zM178.7 142.20h1.1v4.6h-1.1zM186.6 142.20h1.1v4.6h-1.1zM191.6 142.20h1.1v4.6h-1.1zM200.6 142.20h1.1v4.6h-1.1zM132.9 146.75h1.1v4.6h-1.1zM136.8 146.75h1.1v4.6h-1.1zM137.8 146.75h1.1v4.6h-1.1zM225.4 146.75h1.1v4.6h-1.1zM129.9 151.30h1.1v4.6h-1.1zM134.8 151.30h1.1v4.6h-1.1zM163.7 151.30h1.1v4.6h-1.1zM217.5 151.30h1.1v4.6h-1.1zM122.9 158.20h1.1v4.6h-1.1zM181.6 158.20h1.1v4.6h-1.1zM194.6 158.20h1.1v4.6h-1.1zM233.4 158.20h1.1v4.6h-1.1zM189.6 162.75h1.1v4.6h-1.1zM190.6 162.75h1.1v4.6h-1.1zM212.5 162.75h1.1v4.6h-1.1zM136.8 167.30h1.1v4.6h-1.1zM159.7 167.30h1.1v4.6h-1.1zM190.6 167.30h1.1v4.6h-1.1zM223.5 167.30h1.1v4.6h-1.1zM132.9 171.85h1.1v4.6h-1.1zM135.8 171.85h1.1v4.6h-1.1zM167.7 171.85h1.1v4.6h-1.1zM170.7 171.85h1.1v4.6h-1.1zM209.5 171.85h1.1v4.6h-1.1zM125.9 176.40h1.1v4.6h-1.1zM129.9 176.40h1.1v4.6h-1.1zM176.7 176.40h1.1v4.6h-1.1zM191.6 176.40h1.1v4.6h-1.1zM196.6 176.40h1.1v4.6h-1.1zM146.8 180.95h1.1v4.6h-1.1zM180.6 180.95h1.1v4.6h-1.1zM181.6 180.95h1.1v4.6h-1.1z" fill="#ffffff"/><path d="M173.7 76.30h1.1v4.6h-1.1zM146.8 80.85h1.1v4.6h-1.1zM161.7 80.85h1.1v4.6h-1.1zM182.6 80.85h1.1v4.6h-1.1zM122.9 85.40h1.1v4.6h-1.1zM125.9 85.40h1.1v4.6h-1.1zM134.8 85.40h1.1v4.6h-1.1zM136.8 85.40h1.1v4.6h-1.1zM143.8 85.40h1.1v4.6h-1.1zM166.7 85.40h1.1v4.6h-1.1zM178.7 85.40h1.1v4.6h-1.1zM123.9 89.95h1.1v4.6h-1.1zM121.9 94.50h1.1v4.6h-1.1zM134.8 94.50h1.1v4.6h-1.1zM161.7 99.05h1.1v4.6h-1.1zM182.6 99.05h1.1v4.6h-1.1zM159.7 103.60h1.1v4.6h-1.1zM123.9 108.15h1.1v4.6h-1.1zM173.7 108.15h1.1v4.6h-1.1zM186.6 108.15h1.1v4.6h-1.1zM135.8 112.70h1.1v4.6h-1.1zM157.7 112.70h1.1v4.6h-1.1zM182.6 112.70h1.1v4.6h-1.1zM122.9 117.25h1.1v4.6h-1.1zM159.7 117.25h1.1v4.6h-1.1zM202.5 117.25h1.1v4.6h-1.1zM127.9 124.00h1.1v4.6h-1.1zM161.7 124.00h1.1v4.6h-1.1zM173.7 124.00h1.1v4.6h-1.1zM194.6 124.00h1.1v4.6h-1.1zM210.5 124.00h1.1v4.6h-1.1zM147.8 128.55h1.1v4.6h-1.1zM164.7 128.55h1.1v4.6h-1.1zM173.7 128.55h1.1v4.6h-1.1zM185.6 128.55h1.1v4.6h-1.1zM218.5 128.55h1.1v4.6h-1.1zM127.9 133.10h1.1v4.6h-1.1zM168.7 133.10h1.1v4.6h-1.1zM218.5 133.10h1.1v4.6h-1.1zM136.8 137.65h1.1v4.6h-1.1zM162.7 137.65h1.1v4.6h-1.1zM177.7 137.65h1.1v4.6h-1.1zM182.6 137.65h1.1v4.6h-1.1zM194.6 137.65h1.1v4.6h-1.1zM134.8 146.75h1.1v4.6h-1.1zM162.7 146.75h1.1v4.6h-1.1zM167.7 146.75h1.1v4.6h-1.1zM170.7 146.75h1.1v4.6h-1.1zM218.5 146.75h1.1v4.6h-1.1zM125.9 151.30h1.1v4.6h-1.1zM157.7 151.30h1.1v4.6h-1.1zM162.7 151.30h1.1v4.6h-1.1zM172.7 151.30h1.1v4.6h-1.1zM182.6 151.30h1.1v4.6h-1.1zM189.6 151.30h1.1v4.6h-1.1zM210.5 151.30h1.1v4.6h-1.1zM123.9 158.20h1.1v4.6h-1.1zM164.7 158.20h1.1v4.6h-1.1zM168.7 158.20h1.1v4.6h-1.1zM170.7 158.20h1.1v4.6h-1.1zM176.7 158.20h1.1v4.6h-1.1zM188.6 158.20h1.1v4.6h-1.1zM227.4 158.20h1.1v4.6h-1.1zM146.8 162.75h1.1v4.6h-1.1zM179.6 162.75h1.1v4.6h-1.1zM128.9 167.30h1.1v4.6h-1.1zM158.7 167.30h1.1v4.6h-1.1zM178.7 167.30h1.1v4.6h-1.1zM182.6 167.30h1.1v4.6h-1.1zM185.6 167.30h1.1v4.6h-1.1zM200.6 167.30h1.1v4.6h-1.1zM147.8 171.85h1.1v4.6h-1.1zM173.7 171.85h1.1v4.6h-1.1zM186.6 171.85h1.1v4.6h-1.1zM187.6 171.85h1.1v4.6h-1.1zM194.6 171.85h1.1v4.6h-1.1zM225.4 171.85h1.1v4.6h-1.1zM122.9 176.40h1.1v4.6h-1.1zM131.9 176.40h1.1v4.6h-1.1zM162.7 176.40h1.1v4.6h-1.1zM194.6 176.40h1.1v4.6h-1.1zM132.9 180.95h1.1v4.6h-1.1zM136.8 180.95h1.1v4.6h-1.1zM167.7 180.95h1.1v4.6h-1.1zM170.7 180.95h1.1v4.6h-1.1zM179.6 180.95h1.1v4.6h-1.1zM206.5 180.95h1.1v4.6h-1.1zM220.5 180.95h1.1v4.6h-1.1z" fill="#fff5f4"/><path d="M136.8 76.30h1.1v4.6h-1.1zM147.8 76.30h1.1v4.6h-1.1zM169.7 76.30h1.1v4.6h-1.1zM126.9 80.85h1.1v4.6h-1.1zM131.9 80.85h1.1v4.6h-1.1zM135.8 80.85h1.1v4.6h-1.1zM218.5 80.85h1.1v4.6h-1.1zM188.6 85.40h1.1v4.6h-1.1zM132.9 89.95h1.1v4.6h-1.1zM154.8 89.95h1.1v4.6h-1.1zM159.7 89.95h1.1v4.6h-1.1zM132.9 94.50h1.1v4.6h-1.1zM147.8 94.50h1.1v4.6h-1.1zM161.7 94.50h1.1v4.6h-1.1zM178.7 94.50h1.1v4.6h-1.1zM181.6 94.50h1.1v4.6h-1.1zM185.6 94.50h1.1v4.6h-1.1zM191.6 94.50h1.1v4.6h-1.1zM126.9 99.05h1.1v4.6h-1.1zM135.8 99.05h1.1v4.6h-1.1zM191.6 99.05h1.1v4.6h-1.1zM194.6 99.05h1.1v4.6h-1.1zM122.9 103.60h1.1v4.6h-1.1zM133.8 103.60h1.1v4.6h-1.1zM154.8 103.60h1.1v4.6h-1.1zM161.7 103.60h1.1v4.6h-1.1zM171.7 103.60h1.1v4.6h-1.1zM121.9 108.15h1.1v4.6h-1.1zM149.8 108.15h1.1v4.6h-1.1zM170.7 108.15h1.1v4.6h-1.1zM121.9 112.70h1.1v4.6h-1.1zM129.9 112.70h1.1v4.6h-1.1zM161.7 112.70h1.1v4.6h-1.1zM179.6 112.70h1.1v4.6h-1.1zM126.9 117.25h1.1v4.6h-1.1zM122.9 124.00h1.1v4.6h-1.1zM123.9 124.00h1.1v4.6h-1.1zM131.9 124.00h1.1v4.6h-1.1zM176.7 124.00h1.1v4.6h-1.1zM159.7 128.55h1.1v4.6h-1.1zM231.4 128.55h1.1v4.6h-1.1zM131.9 133.10h1.1v4.6h-1.1zM135.8 133.10h1.1v4.6h-1.1zM185.6 133.10h1.1v4.6h-1.1zM196.6 133.10h1.1v4.6h-1.1zM231.4 133.10h1.1v4.6h-1.1zM125.9 137.65h1.1v4.6h-1.1zM167.7 137.65h1.1v4.6h-1.1zM188.6 137.65h1.1v4.6h-1.1zM129.9 142.20h1.1v4.6h-1.1zM154.8 142.20h1.1v4.6h-1.1zM161.7 142.20h1.1v4.6h-1.1zM164.7 142.20h1.1v4.6h-1.1zM173.7 142.20h1.1v4.6h-1.1zM212.5 142.20h1.1v4.6h-1.1zM154.8 146.75h1.1v4.6h-1.1zM157.7 146.75h1.1v4.6h-1.1zM122.9 151.30h1.1v4.6h-1.1zM131.9 151.30h1.1v4.6h-1.1zM165.7 151.30h1.1v4.6h-1.1zM175.7 151.30h1.1v4.6h-1.1zM194.6 151.30h1.1v4.6h-1.1zM229.4 151.30h1.1v4.6h-1.1zM165.7 158.20h1.1v4.6h-1.1zM123.9 162.75h1.1v4.6h-1.1zM125.9 162.75h1.1v4.6h-1.1zM129.9 162.75h1.1v4.6h-1.1zM169.7 162.75h1.1v4.6h-1.1zM170.7 162.75h1.1v4.6h-1.1zM171.7 162.75h1.1v4.6h-1.1zM188.6 162.75h1.1v4.6h-1.1zM194.6 162.75h1.1v4.6h-1.1zM126.9 167.30h1.1v4.6h-1.1zM161.7 167.30h1.1v4.6h-1.1zM170.7 167.30h1.1v4.6h-1.1zM205.5 167.30h1.1v4.6h-1.1zM124.9 171.85h1.1v4.6h-1.1zM182.6 171.85h1.1v4.6h-1.1zM121.9 176.40h1.1v4.6h-1.1zM170.7 176.40h1.1v4.6h-1.1zM171.7 176.40h1.1v4.6h-1.1zM127.9 180.95h1.1v4.6h-1.1zM158.7 180.95h1.1v4.6h-1.1zM168.7 180.95h1.1v4.6h-1.1zM176.7 180.95h1.1v4.6h-1.1z" fill="#ffebe9"/><path d="M129.9 76.30h1.1v4.6h-1.1zM179.6 76.30h1.1v4.6h-1.1zM217.5 76.30h1.1v4.6h-1.1zM136.8 80.85h1.1v4.6h-1.1zM142.8 80.85h1.1v4.6h-1.1zM191.6 80.85h1.1v4.6h-1.1zM124.9 85.40h1.1v4.6h-1.1zM127.9 85.40h1.1v4.6h-1.1zM154.8 85.40h1.1v4.6h-1.1zM159.7 85.40h1.1v4.6h-1.1zM182.6 85.40h1.1v4.6h-1.1zM166.7 89.95h1.1v4.6h-1.1zM168.7 89.95h1.1v4.6h-1.1zM157.7 94.50h1.1v4.6h-1.1zM170.7 94.50h1.1v4.6h-1.1zM182.6 94.50h1.1v4.6h-1.1zM212.5 99.05h1.1v4.6h-1.1zM125.9 103.60h1.1v4.6h-1.1zM147.8 103.60h1.1v4.6h-1.1zM174.7 103.60h1.1v4.6h-1.1zM231.4 103.60h1.1v4.6h-1.1zM135.8 108.15h1.1v4.6h-1.1zM136.8 108.15h1.1v4.6h-1.1zM157.7 108.15h1.1v4.6h-1.1zM158.7 108.15h1.1v4.6h-1.1zM159.7 108.15h1.1v4.6h-1.1zM127.9 112.70h1.1v4.6h-1.1zM172.7 112.70h1.1v4.6h-1.1zM124.9 117.25h1.1v4.6h-1.1zM132.9 117.25h1.1v4.6h-1.1zM135.8 117.25h1.1v4.6h-1.1zM136.8 117.25h1.1v4.6h-1.1zM179.6 117.25h1.1v4.6h-1.1zM129.9 124.00h1.1v4.6h-1.1zM159.7 124.00h1.1v4.6h-1.1zM170.7 124.00h1.1v4.6h-1.1zM186.6 124.00h1.1v4.6h-1.1zM170.7 128.55h1.1v4.6h-1.1zM174.7 128.55h1.1v4.6h-1.1zM203.5 128.55h1.1v4.6h-1.1zM125.9 133.10h1.1v4.6h-1.1zM126.9 133.10h1.1v4.6h-1.1zM158.7 133.10h1.1v4.6h-1.1zM170.7 133.10h1.1v4.6h-1.1zM131.9 137.65h1.1v4.6h-1.1zM168.7 137.65h1.1v4.6h-1.1zM173.7 137.65h1.1v4.6h-1.1zM174.7 137.65h1.1v4.6h-1.1zM131.9 142.20h1.1v4.6h-1.1zM147.8 142.20h1.1v4.6h-1.1zM165.7 142.20h1.1v4.6h-1.1zM182.6 142.20h1.1v4.6h-1.1zM188.6 142.20h1.1v4.6h-1.1zM129.9 146.75h1.1v4.6h-1.1zM146.8 146.75h1.1v4.6h-1.1zM147.8 146.75h1.1v4.6h-1.1zM164.7 146.75h1.1v4.6h-1.1zM182.6 146.75h1.1v4.6h-1.1zM185.6 146.75h1.1v4.6h-1.1zM167.7 151.30h1.1v4.6h-1.1zM176.7 151.30h1.1v4.6h-1.1zM121.9 158.20h1.1v4.6h-1.1zM124.9 158.20h1.1v4.6h-1.1zM127.9 158.20h1.1v4.6h-1.1zM161.7 158.20h1.1v4.6h-1.1zM171.7 158.20h1.1v4.6h-1.1zM127.9 162.75h1.1v4.6h-1.1zM161.7 162.75h1.1v4.6h-1.1zM131.9 167.30h1.1v4.6h-1.1zM134.8 167.30h1.1v4.6h-1.1zM147.8 167.30h1.1v4.6h-1.1zM125.9 171.85h1.1v4.6h-1.1zM126.9 171.85h1.1v4.6h-1.1zM176.7 171.85h1.1v4.6h-1.1zM161.7 176.40h1.1v4.6h-1.1zM124.9 180.95h1.1v4.6h-1.1zM173.7 180.95h1.1v4.6h-1.1z" fill="#ffe2de"/><path d="M122.9 76.30h1.1v4.6h-1.1zM154.8 76.30h1.1v4.6h-1.1zM143.8 80.85h1.1v4.6h-1.1zM154.8 80.85h1.1v4.6h-1.1zM179.6 80.85h1.1v4.6h-1.1zM123.9 85.40h1.1v4.6h-1.1zM146.8 85.40h1.1v4.6h-1.1zM165.7 85.40h1.1v4.6h-1.1zM179.6 85.40h1.1v4.6h-1.1zM124.9 89.95h1.1v4.6h-1.1zM129.9 89.95h1.1v4.6h-1.1zM147.8 89.95h1.1v4.6h-1.1zM170.7 89.95h1.1v4.6h-1.1zM187.6 89.95h1.1v4.6h-1.1zM146.8 94.50h1.1v4.6h-1.1zM159.7 94.50h1.1v4.6h-1.1zM164.7 94.50h1.1v4.6h-1.1zM179.6 94.50h1.1v4.6h-1.1zM137.8 99.05h1.1v4.6h-1.1zM171.7 99.05h1.1v4.6h-1.1zM126.9 103.60h1.1v4.6h-1.1zM133.8 108.15h1.1v4.6h-1.1zM126.9 112.70h1.1v4.6h-1.1zM143.8 117.25h1.1v4.6h-1.1zM161.7 117.25h1.1v4.6h-1.1zM212.5 117.25h1.1v4.6h-1.1zM135.8 124.00h1.1v4.6h-1.1zM147.8 124.00h1.1v4.6h-1.1zM135.8 128.55h1.1v4.6h-1.1zM182.6 128.55h1.1v4.6h-1.1zM196.6 128.55h1.1v4.6h-1.1zM227.4 128.55h1.1v4.6h-1.1zM147.8 133.10h1.1v4.6h-1.1zM157.7 133.10h1.1v4.6h-1.1zM167.7 133.10h1.1v4.6h-1.1zM179.6 133.10h1.1v4.6h-1.1zM146.8 137.65h1.1v4.6h-1.1zM145.8 142.20h1.1v4.6h-1.1zM146.8 142.20h1.1v4.6h-1.1zM194.6 142.20h1.1v4.6h-1.1zM196.6 142.20h1.1v4.6h-1.1zM220.5 142.20h1.1v4.6h-1.1zM153.8 146.75h1.1v4.6h-1.1zM161.7 146.75h1.1v4.6h-1.1zM166.7 146.75h1.1v4.6h-1.1zM136.8 151.30h1.1v4.6h-1.1zM147.8 151.30h1.1v4.6h-1.1zM149.8 151.30h1.1v4.6h-1.1zM179.6 151.30h1.1v4.6h-1.1zM185.6 151.30h1.1v4.6h-1.1zM191.6 151.30h1.1v4.6h-1.1zM134.8 158.20h1.1v4.6h-1.1zM167.7 158.20h1.1v4.6h-1.1zM136.8 162.75h1.1v4.6h-1.1zM147.8 162.75h1.1v4.6h-1.1zM201.5 162.75h1.1v4.6h-1.1zM168.7 167.30h1.1v4.6h-1.1zM196.6 167.30h1.1v4.6h-1.1zM121.9 171.85h1.1v4.6h-1.1zM191.6 171.85h1.1v4.6h-1.1zM124.9 176.40h1.1v4.6h-1.1zM136.8 176.40h1.1v4.6h-1.1zM154.8 176.40h1.1v4.6h-1.1zM164.7 176.40h1.1v4.6h-1.1zM166.7 176.40h1.1v4.6h-1.1zM167.7 176.40h1.1v4.6h-1.1zM172.7 176.40h1.1v4.6h-1.1zM125.9 180.95h1.1v4.6h-1.1zM135.8 180.95h1.1v4.6h-1.1zM147.8 180.95h1.1v4.6h-1.1z" fill="#ffd8d3"/><path d="M125.9 76.30h1.1v4.6h-1.1zM132.9 76.30h1.1v4.6h-1.1zM146.8 76.30h1.1v4.6h-1.1zM182.6 76.30h1.1v4.6h-1.1zM188.6 76.30h1.1v4.6h-1.1zM123.9 80.85h1.1v4.6h-1.1zM129.9 80.85h1.1v4.6h-1.1zM147.8 80.85h1.1v4.6h-1.1zM172.7 80.85h1.1v4.6h-1.1zM185.6 80.85h1.1v4.6h-1.1zM137.8 85.40h1.1v4.6h-1.1zM147.8 85.40h1.1v4.6h-1.1zM219.5 85.40h1.1v4.6h-1.1zM135.8 89.95h1.1v4.6h-1.1zM136.8 89.95h1.1v4.6h-1.1zM146.8 89.95h1.1v4.6h-1.1zM135.8 94.50h1.1v4.6h-1.1zM130.9 99.05h1.1v4.6h-1.1zM121.9 103.60h1.1v4.6h-1.1zM127.9 103.60h1.1v4.6h-1.1zM134.8 103.60h1.1v4.6h-1.1zM147.8 108.15h1.1v4.6h-1.1zM147.8 112.70h1.1v4.6h-1.1zM194.6 112.70h1.1v4.6h-1.1zM218.5 112.70h1.1v4.6h-1.1zM123.9 117.25h1.1v4.6h-1.1zM127.9 117.25h1.1v4.6h-1.1zM126.9 124.00h1.1v4.6h-1.1zM122.9 128.55h1.1v4.6h-1.1zM131.9 128.55h1.1v4.6h-1.1zM146.8 128.55h1.1v4.6h-1.1zM154.8 128.55h1.1v4.6h-1.1zM189.6 128.55h1.1v4.6h-1.1zM124.9 133.10h1.1v4.6h-1.1zM149.8 133.10h1.1v4.6h-1.1zM122.9 137.65h1.1v4.6h-1.1zM129.9 137.65h1.1v4.6h-1.1zM143.8 137.65h1.1v4.6h-1.1zM149.8 137.65h1.1v4.6h-1.1zM165.7 137.65h1.1v4.6h-1.1zM134.8 142.20h1.1v4.6h-1.1zM136.8 142.20h1.1v4.6h-1.1zM174.7 142.20h1.1v4.6h-1.1zM158.7 146.75h1.1v4.6h-1.1zM194.6 146.75h1.1v4.6h-1.1zM227.4 146.75h1.1v4.6h-1.1zM145.8 151.30h1.1v4.6h-1.1zM173.7 151.30h1.1v4.6h-1.1zM126.9 158.20h1.1v4.6h-1.1zM132.9 158.20h1.1v4.6h-1.1zM146.8 158.20h1.1v4.6h-1.1zM132.9 162.75h1.1v4.6h-1.1zM174.7 162.75h1.1v4.6h-1.1zM149.8 167.30h1.1v4.6h-1.1zM167.7 167.30h1.1v4.6h-1.1zM171.7 167.30h1.1v4.6h-1.1zM173.7 167.30h1.1v4.6h-1.1zM194.6 167.30h1.1v4.6h-1.1zM146.8 171.85h1.1v4.6h-1.1zM165.7 171.85h1.1v4.6h-1.1zM126.9 180.95h1.1v4.6h-1.1zM131.9 180.95h1.1v4.6h-1.1z" fill="#ffcec9"/><path d="M134.8 76.30h1.1v4.6h-1.1zM149.8 76.30h1.1v4.6h-1.1zM161.7 76.30h1.1v4.6h-1.1zM168.7 76.30h1.1v4.6h-1.1zM170.7 76.30h1.1v4.6h-1.1zM132.9 80.85h1.1v4.6h-1.1zM121.9 85.40h1.1v4.6h-1.1zM129.9 85.40h1.1v4.6h-1.1zM161.7 85.40h1.1v4.6h-1.1zM143.8 89.95h1.1v4.6h-1.1zM165.7 89.95h1.1v4.6h-1.1zM123.9 94.50h1.1v4.6h-1.1zM126.9 94.50h1.1v4.6h-1.1zM136.8 94.50h1.1v4.6h-1.1zM137.8 94.50h1.1v4.6h-1.1zM124.9 99.05h1.1v4.6h-1.1zM133.8 99.05h1.1v4.6h-1.1zM144.8 99.05h1.1v4.6h-1.1zM123.9 103.60h1.1v4.6h-1.1zM176.7 103.60h1.1v4.6h-1.1zM126.9 108.15h1.1v4.6h-1.1zM134.8 108.15h1.1v4.6h-1.1zM137.8 108.15h1.1v4.6h-1.1zM143.8 108.15h1.1v4.6h-1.1zM146.8 108.15h1.1v4.6h-1.1zM167.7 108.15h1.1v4.6h-1.1zM123.9 112.70h1.1v4.6h-1.1zM134.8 112.70h1.1v4.6h-1.1zM121.9 117.25h1.1v4.6h-1.1zM140.8 117.25h1.1v4.6h-1.1zM149.8 117.25h1.1v4.6h-1.1zM121.9 124.00h1.1v4.6h-1.1zM132.9 124.00h1.1v4.6h-1.1zM166.7 124.00h1.1v4.6h-1.1zM127.9 128.55h1.1v4.6h-1.1zM129.9 128.55h1.1v4.6h-1.1zM121.9 133.10h1.1v4.6h-1.1zM129.9 133.10h1.1v4.6h-1.1zM153.8 133.10h1.1v4.6h-1.1zM219.5 133.10h1.1v4.6h-1.1zM127.9 137.65h1.1v4.6h-1.1zM147.8 137.65h1.1v4.6h-1.1zM122.9 142.20h1.1v4.6h-1.1zM126.9 142.20h1.1v4.6h-1.1zM171.7 142.20h1.1v4.6h-1.1zM124.9 146.75h1.1v4.6h-1.1zM159.7 146.75h1.1v4.6h-1.1zM231.4 146.75h1.1v4.6h-1.1zM124.9 151.30h1.1v4.6h-1.1zM146.8 151.30h1.1v4.6h-1.1zM171.7 151.30h1.1v4.6h-1.1zM149.8 158.20h1.1v4.6h-1.1zM121.9 162.75h1.1v4.6h-1.1zM133.8 162.75h1.1v4.6h-1.1zM124.9 167.30h1.1v4.6h-1.1zM138.8 167.30h1.1v4.6h-1.1zM153.8 167.30h1.1v4.6h-1.1zM154.8 167.30h1.1v4.6h-1.1zM162.7 167.30h1.1v4.6h-1.1zM129.9 171.85h1.1v4.6h-1.1zM138.8 171.85h1.1v4.6h-1.1zM185.6 171.85h1.1v4.6h-1.1zM139.8 176.40h1.1v4.6h-1.1zM140.8 176.40h1.1v4.6h-1.1zM165.7 176.40h1.1v4.6h-1.1zM123.9 180.95h1.1v4.6h-1.1zM159.7 180.95h1.1v4.6h-1.1zM196.6 180.95h1.1v4.6h-1.1z" fill="#ffc4be"/><path d="M126.9 76.30h1.1v4.6h-1.1zM137.8 76.30h1.1v4.6h-1.1zM145.8 76.30h1.1v4.6h-1.1zM174.7 76.30h1.1v4.6h-1.1zM231.4 76.30h1.1v4.6h-1.1zM124.9 80.85h1.1v4.6h-1.1zM137.8 80.85h1.1v4.6h-1.1zM135.8 85.40h1.1v4.6h-1.1zM121.9 89.95h1.1v4.6h-1.1zM130.9 89.95h1.1v4.6h-1.1zM134.8 89.95h1.1v4.6h-1.1zM137.8 89.95h1.1v4.6h-1.1zM130.9 94.50h1.1v4.6h-1.1zM154.8 94.50h1.1v4.6h-1.1zM158.7 94.50h1.1v4.6h-1.1zM177.7 94.50h1.1v4.6h-1.1zM128.9 99.05h1.1v4.6h-1.1zM146.8 99.05h1.1v4.6h-1.1zM154.8 99.05h1.1v4.6h-1.1zM142.8 108.15h1.1v4.6h-1.1zM152.8 108.15h1.1v4.6h-1.1zM130.9 112.70h1.1v4.6h-1.1zM136.8 112.70h1.1v4.6h-1.1zM143.8 112.70h1.1v4.6h-1.1zM146.8 112.70h1.1v4.6h-1.1zM174.7 112.70h1.1v4.6h-1.1zM142.8 117.25h1.1v4.6h-1.1zM147.8 117.25h1.1v4.6h-1.1zM194.6 117.25h1.1v4.6h-1.1zM139.8 124.00h1.1v4.6h-1.1zM146.8 124.00h1.1v4.6h-1.1zM154.8 124.00h1.1v4.6h-1.1zM196.6 124.00h1.1v4.6h-1.1zM142.8 128.55h1.1v4.6h-1.1zM153.8 128.55h1.1v4.6h-1.1zM167.7 128.55h1.1v4.6h-1.1zM134.8 133.10h1.1v4.6h-1.1zM136.8 133.10h1.1v4.6h-1.1zM134.8 137.65h1.1v4.6h-1.1zM138.8 137.65h1.1v4.6h-1.1zM136.8 158.20h1.1v4.6h-1.1zM142.8 158.20h1.1v4.6h-1.1zM147.8 158.20h1.1v4.6h-1.1zM185.6 158.20h1.1v4.6h-1.1zM124.9 162.75h1.1v4.6h-1.1zM134.8 162.75h1.1v4.6h-1.1zM159.7 162.75h1.1v4.6h-1.1zM162.7 162.75h1.1v4.6h-1.1zM168.7 162.75h1.1v4.6h-1.1zM121.9 167.30h1.1v4.6h-1.1zM123.9 167.30h1.1v4.6h-1.1zM125.9 167.30h1.1v4.6h-1.1zM129.9 167.30h1.1v4.6h-1.1zM165.7 167.30h1.1v4.6h-1.1zM123.9 171.85h1.1v4.6h-1.1zM126.9 176.40h1.1v4.6h-1.1zM134.8 176.40h1.1v4.6h-1.1zM146.8 176.40h1.1v4.6h-1.1zM159.7 176.40h1.1v4.6h-1.1zM168.7 176.40h1.1v4.6h-1.1zM128.9 180.95h1.1v4.6h-1.1zM149.8 180.95h1.1v4.6h-1.1zM166.7 180.95h1.1v4.6h-1.1z" fill="#ffbbb4"/><path d="M121.9 80.85h1.1v4.6h-1.1zM127.9 80.85h1.1v4.6h-1.1zM149.8 80.85h1.1v4.6h-1.1zM168.7 80.85h1.1v4.6h-1.1zM132.9 85.40h1.1v4.6h-1.1zM168.7 85.40h1.1v4.6h-1.1zM185.6 85.40h1.1v4.6h-1.1zM161.7 89.95h1.1v4.6h-1.1zM128.9 94.50h1.1v4.6h-1.1zM145.8 94.50h1.1v4.6h-1.1zM149.8 94.50h1.1v4.6h-1.1zM136.8 99.05h1.1v4.6h-1.1zM147.8 99.05h1.1v4.6h-1.1zM149.8 99.05h1.1v4.6h-1.1zM130.9 103.60h1.1v4.6h-1.1zM137.8 103.60h1.1v4.6h-1.1zM162.7 103.60h1.1v4.6h-1.1zM173.7 103.60h1.1v4.6h-1.1zM145.8 108.15h1.1v4.6h-1.1zM145.8 112.70h1.1v4.6h-1.1zM153.8 112.70h1.1v4.6h-1.1zM162.7 112.70h1.1v4.6h-1.1zM165.7 112.70h1.1v4.6h-1.1zM137.8 117.25h1.1v4.6h-1.1zM165.7 117.25h1.1v4.6h-1.1zM123.9 128.55h1.1v4.6h-1.1zM126.9 128.55h1.1v4.6h-1.1zM134.8 128.55h1.1v4.6h-1.1zM133.8 133.10h1.1v4.6h-1.1zM138.8 133.10h1.1v4.6h-1.1zM165.7 133.10h1.1v4.6h-1.1zM194.6 133.10h1.1v4.6h-1.1zM121.9 137.65h1.1v4.6h-1.1zM123.9 137.65h1.1v4.6h-1.1zM124.9 137.65h1.1v4.6h-1.1zM140.8 137.65h1.1v4.6h-1.1zM142.8 137.65h1.1v4.6h-1.1zM154.8 137.65h1.1v4.6h-1.1zM161.7 137.65h1.1v4.6h-1.1zM123.9 142.20h1.1v4.6h-1.1zM125.9 142.20h1.1v4.6h-1.1zM159.7 142.20h1.1v4.6h-1.1zM185.6 142.20h1.1v4.6h-1.1zM121.9 151.30h1.1v4.6h-1.1zM126.9 151.30h1.1v4.6h-1.1zM128.9 151.30h1.1v4.6h-1.1zM174.7 151.30h1.1v4.6h-1.1zM152.8 158.20h1.1v4.6h-1.1zM153.8 158.20h1.1v4.6h-1.1zM173.7 158.20h1.1v4.6h-1.1zM148.8 162.75h1.1v4.6h-1.1zM149.8 162.75h1.1v4.6h-1.1zM150.8 162.75h1.1v4.6h-1.1zM140.8 167.30h1.1v4.6h-1.1zM134.8 171.85h1.1v4.6h-1.1zM137.8 171.85h1.1v4.6h-1.1zM162.7 171.85h1.1v4.6h-1.1zM127.9 176.40h1.1v4.6h-1.1zM174.7 176.40h1.1v4.6h-1.1zM139.8 180.95h1.1v4.6h-1.1zM140.8 180.95h1.1v4.6h-1.1zM142.8 180.95h1.1v4.6h-1.1zM150.8 180.95h1.1v4.6h-1.1zM174.7 180.95h1.1v4.6h-1.1zM194.6 180.95h1.1v4.6h-1.1z" fill="#ffb1aa"/><path d="M124.9 76.30h1.1v4.6h-1.1zM127.9 76.30h1.1v4.6h-1.1zM134.8 80.85h1.1v4.6h-1.1zM126.9 85.40h1.1v4.6h-1.1zM140.8 85.40h1.1v4.6h-1.1zM142.8 85.40h1.1v4.6h-1.1zM152.8 85.40h1.1v4.6h-1.1zM145.8 89.95h1.1v4.6h-1.1zM150.8 89.95h1.1v4.6h-1.1zM141.8 94.50h1.1v4.6h-1.1zM165.7 94.50h1.1v4.6h-1.1zM174.7 94.50h1.1v4.6h-1.1zM134.8 99.05h1.1v4.6h-1.1zM165.7 99.05h1.1v4.6h-1.1zM128.9 103.60h1.1v4.6h-1.1zM138.8 103.60h1.1v4.6h-1.1zM153.8 103.60h1.1v4.6h-1.1zM128.9 108.15h1.1v4.6h-1.1zM140.8 108.15h1.1v4.6h-1.1zM161.7 108.15h1.1v4.6h-1.1zM137.8 112.70h1.1v4.6h-1.1zM133.8 117.25h1.1v4.6h-1.1zM139.8 117.25h1.1v4.6h-1.1zM144.8 117.25h1.1v4.6h-1.1zM146.8 117.25h1.1v4.6h-1.1zM174.7 117.25h1.1v4.6h-1.1zM136.8 124.00h1.1v4.6h-1.1zM143.8 124.00h1.1v4.6h-1.1zM167.7 124.00h1.1v4.6h-1.1zM171.7 124.00h1.1v4.6h-1.1zM124.9 128.55h1.1v4.6h-1.1zM130.9 128.55h1.1v4.6h-1.1zM137.8 128.55h1.1v4.6h-1.1zM141.8 128.55h1.1v4.6h-1.1zM149.8 128.55h1.1v4.6h-1.1zM141.8 133.10h1.1v4.6h-1.1zM143.8 133.10h1.1v4.6h-1.1zM174.7 133.10h1.1v4.6h-1.1zM126.9 137.65h1.1v4.6h-1.1zM124.9 142.20h1.1v4.6h-1.1zM139.8 142.20h1.1v4.6h-1.1zM149.8 142.20h1.1v4.6h-1.1zM153.8 142.20h1.1v4.6h-1.1zM122.9 146.75h1.1v4.6h-1.1zM126.9 146.75h1.1v4.6h-1.1zM127.9 146.75h1.1v4.6h-1.1zM130.9 146.75h1.1v4.6h-1.1zM149.8 146.75h1.1v4.6h-1.1zM171.7 146.75h1.1v4.6h-1.1zM132.9 151.30h1.1v4.6h-1.1zM133.8 151.30h1.1v4.6h-1.1zM166.7 151.30h1.1v4.6h-1.1zM139.8 158.20h1.1v4.6h-1.1zM128.9 162.75h1.1v4.6h-1.1zM139.8 162.75h1.1v4.6h-1.1zM143.8 162.75h1.1v4.6h-1.1zM144.8 162.75h1.1v4.6h-1.1zM130.9 167.30h1.1v4.6h-1.1zM128.9 171.85h1.1v4.6h-1.1zM149.8 171.85h1.1v4.6h-1.1zM135.8 176.40h1.1v4.6h-1.1zM138.8 176.40h1.1v4.6h-1.1zM185.6 176.40h1.1v4.6h-1.1zM122.9 180.95h1.1v4.6h-1.1zM144.8 180.95h1.1v4.6h-1.1zM165.7 180.95h1.1v4.6h-1.1zM185.6 180.95h1.1v4.6h-1.1z" fill="#ffa79f"/><path d="M135.8 76.30h1.1v4.6h-1.1zM153.8 76.30h1.1v4.6h-1.1zM122.9 80.85h1.1v4.6h-1.1zM125.9 80.85h1.1v4.6h-1.1zM144.8 80.85h1.1v4.6h-1.1zM152.8 80.85h1.1v4.6h-1.1zM153.8 80.85h1.1v4.6h-1.1zM139.8 85.40h1.1v4.6h-1.1zM149.8 85.40h1.1v4.6h-1.1zM138.8 89.95h1.1v4.6h-1.1zM143.8 94.50h1.1v4.6h-1.1zM153.8 94.50h1.1v4.6h-1.1zM145.8 99.05h1.1v4.6h-1.1zM143.8 103.60h1.1v4.6h-1.1zM149.8 103.60h1.1v4.6h-1.1zM152.8 103.60h1.1v4.6h-1.1zM139.8 108.15h1.1v4.6h-1.1zM154.8 112.70h1.1v4.6h-1.1zM185.6 112.70h1.1v4.6h-1.1zM130.9 117.25h1.1v4.6h-1.1zM154.8 117.25h1.1v4.6h-1.1zM162.7 117.25h1.1v4.6h-1.1zM130.9 124.00h1.1v4.6h-1.1zM148.8 124.00h1.1v4.6h-1.1zM149.8 124.00h1.1v4.6h-1.1zM174.7 124.00h1.1v4.6h-1.1zM139.8 128.55h1.1v4.6h-1.1zM140.8 128.55h1.1v4.6h-1.1zM161.7 128.55h1.1v4.6h-1.1zM154.8 133.10h1.1v4.6h-1.1zM133.8 137.65h1.1v4.6h-1.1zM121.9 142.20h1.1v4.6h-1.1zM123.9 146.75h1.1v4.6h-1.1zM133.8 146.75h1.1v4.6h-1.1zM135.8 146.75h1.1v4.6h-1.1zM142.8 146.75h1.1v4.6h-1.1zM144.8 146.75h1.1v4.6h-1.1zM123.9 151.30h1.1v4.6h-1.1zM135.8 151.30h1.1v4.6h-1.1zM137.8 151.30h1.1v4.6h-1.1zM139.8 151.30h1.1v4.6h-1.1zM140.8 151.30h1.1v4.6h-1.1zM143.8 151.30h1.1v4.6h-1.1zM154.8 162.75h1.1v4.6h-1.1zM196.6 162.75h1.1v4.6h-1.1zM139.8 167.30h1.1v4.6h-1.1zM152.8 167.30h1.1v4.6h-1.1zM130.9 171.85h1.1v4.6h-1.1zM133.8 171.85h1.1v4.6h-1.1zM171.7 171.85h1.1v4.6h-1.1zM143.8 176.40h1.1v4.6h-1.1zM148.8 176.40h1.1v4.6h-1.1zM152.8 176.40h1.1v4.6h-1.1zM153.8 176.40h1.1v4.6h-1.1zM130.9 180.95h1.1v4.6h-1.1zM138.8 180.95h1.1v4.6h-1.1z" fill="#fd9d95"/><path d="M133.8 76.30h1.1v4.6h-1.1zM142.8 76.30h1.1v4.6h-1.1zM165.7 76.30h1.1v4.6h-1.1zM138.8 80.85h1.1v4.6h-1.1zM140.8 80.85h1.1v4.6h-1.1zM171.7 80.85h1.1v4.6h-1.1zM174.7 80.85h1.1v4.6h-1.1zM128.9 85.40h1.1v4.6h-1.1zM148.8 85.40h1.1v4.6h-1.1zM171.7 85.40h1.1v4.6h-1.1zM133.8 89.95h1.1v4.6h-1.1zM139.8 89.95h1.1v4.6h-1.1zM142.8 89.95h1.1v4.6h-1.1zM138.8 94.50h1.1v4.6h-1.1zM139.8 94.50h1.1v4.6h-1.1zM144.8 94.50h1.1v4.6h-1.1zM171.7 94.50h1.1v4.6h-1.1zM139.8 99.05h1.1v4.6h-1.1zM142.8 99.05h1.1v4.6h-1.1zM148.8 99.05h1.1v4.6h-1.1zM153.8 99.05h1.1v4.6h-1.1zM135.8 103.60h1.1v4.6h-1.1zM162.7 108.15h1.1v4.6h-1.1zM139.8 112.70h1.1v4.6h-1.1zM142.8 112.70h1.1v4.6h-1.1zM145.8 117.25h1.1v4.6h-1.1zM124.9 124.00h1.1v4.6h-1.1zM144.8 124.00h1.1v4.6h-1.1zM152.8 124.00h1.1v4.6h-1.1zM121.9 128.55h1.1v4.6h-1.1zM132.9 128.55h1.1v4.6h-1.1zM171.7 128.55h1.1v4.6h-1.1zM137.8 133.10h1.1v4.6h-1.1zM142.8 133.10h1.1v4.6h-1.1zM146.8 133.10h1.1v4.6h-1.1zM144.8 137.65h1.1v4.6h-1.1zM141.8 142.20h1.1v4.6h-1.1zM140.8 146.75h1.1v4.6h-1.1zM143.8 146.75h1.1v4.6h-1.1zM174.7 146.75h1.1v4.6h-1.1zM127.9 151.30h1.1v4.6h-1.1zM153.8 151.30h1.1v4.6h-1.1zM130.9 158.20h1.1v4.6h-1.1zM150.8 158.20h1.1v4.6h-1.1zM174.7 158.20h1.1v4.6h-1.1zM138.8 162.75h1.1v4.6h-1.1zM152.8 162.75h1.1v4.6h-1.1zM128.9 176.40h1.1v4.6h-1.1zM133.8 176.40h1.1v4.6h-1.1zM142.8 176.40h1.1v4.6h-1.1zM151.8 176.40h1.1v4.6h-1.1zM133.8 180.95h1.1v4.6h-1.1zM137.8 180.95h1.1v4.6h-1.1zM143.8 180.95h1.1v4.6h-1.1z" fill="#fc938b"/><path d="M121.9 76.30h1.1v4.6h-1.1zM139.8 76.30h1.1v4.6h-1.1zM143.8 76.30h1.1v4.6h-1.1zM148.8 76.30h1.1v4.6h-1.1zM171.7 76.30h1.1v4.6h-1.1zM133.8 85.40h1.1v4.6h-1.1zM144.8 85.40h1.1v4.6h-1.1zM174.7 85.40h1.1v4.6h-1.1zM126.9 89.95h1.1v4.6h-1.1zM149.8 89.95h1.1v4.6h-1.1zM152.8 89.95h1.1v4.6h-1.1zM133.8 94.50h1.1v4.6h-1.1zM142.8 94.50h1.1v4.6h-1.1zM141.8 99.05h1.1v4.6h-1.1zM159.7 99.05h1.1v4.6h-1.1zM142.8 103.60h1.1v4.6h-1.1zM156.7 103.60h1.1v4.6h-1.1zM141.8 108.15h1.1v4.6h-1.1zM144.8 108.15h1.1v4.6h-1.1zM149.8 112.70h1.1v4.6h-1.1zM152.8 117.25h1.1v4.6h-1.1zM153.8 117.25h1.1v4.6h-1.1zM134.8 124.00h1.1v4.6h-1.1zM142.8 124.00h1.1v4.6h-1.1zM125.9 128.55h1.1v4.6h-1.1zM139.8 133.10h1.1v4.6h-1.1zM145.8 133.10h1.1v4.6h-1.1zM148.8 133.10h1.1v4.6h-1.1zM152.8 133.10h1.1v4.6h-1.1zM137.8 137.65h1.1v4.6h-1.1zM152.8 137.65h1.1v4.6h-1.1zM135.8 142.20h1.1v4.6h-1.1zM140.8 142.20h1.1v4.6h-1.1zM144.8 142.20h1.1v4.6h-1.1zM162.7 142.20h1.1v4.6h-1.1zM145.8 146.75h1.1v4.6h-1.1zM142.8 151.30h1.1v4.6h-1.1zM150.8 151.30h1.1v4.6h-1.1zM143.8 158.20h1.1v4.6h-1.1zM145.8 162.75h1.1v4.6h-1.1zM156.7 167.30h1.1v4.6h-1.1zM139.8 171.85h1.1v4.6h-1.1zM143.8 171.85h1.1v4.6h-1.1zM174.7 171.85h1.1v4.6h-1.1zM121.9 180.95h1.1v4.6h-1.1zM145.8 180.95h1.1v4.6h-1.1z" fill="#fa8981"/><path d="M144.8 76.30h1.1v4.6h-1.1zM152.8 76.30h1.1v4.6h-1.1zM133.8 80.85h1.1v4.6h-1.1zM145.8 80.85h1.1v4.6h-1.1zM130.9 85.40h1.1v4.6h-1.1zM145.8 85.40h1.1v4.6h-1.1zM153.8 85.40h1.1v4.6h-1.1zM162.7 85.40h1.1v4.6h-1.1zM170.7 85.40h1.1v4.6h-1.1zM148.8 89.95h1.1v4.6h-1.1zM148.8 94.50h1.1v4.6h-1.1zM152.8 99.05h1.1v4.6h-1.1zM139.8 103.60h1.1v4.6h-1.1zM141.8 103.60h1.1v4.6h-1.1zM144.8 103.60h1.1v4.6h-1.1zM165.7 103.60h1.1v4.6h-1.1zM138.8 108.15h1.1v4.6h-1.1zM153.8 108.15h1.1v4.6h-1.1zM128.9 112.70h1.1v4.6h-1.1zM138.8 112.70h1.1v4.6h-1.1zM141.8 112.70h1.1v4.6h-1.1zM140.8 124.00h1.1v4.6h-1.1zM143.8 128.55h1.1v4.6h-1.1zM150.8 128.55h1.1v4.6h-1.1zM128.9 133.10h1.1v4.6h-1.1zM130.9 133.10h1.1v4.6h-1.1zM150.8 133.10h1.1v4.6h-1.1zM132.9 137.65h1.1v4.6h-1.1zM137.8 142.20h1.1v4.6h-1.1zM143.8 142.20h1.1v4.6h-1.1zM148.8 142.20h1.1v4.6h-1.1zM139.8 146.75h1.1v4.6h-1.1zM165.7 146.75h1.1v4.6h-1.1zM144.8 151.30h1.1v4.6h-1.1zM158.7 151.30h1.1v4.6h-1.1zM133.8 158.20h1.1v4.6h-1.1zM141.8 158.20h1.1v4.6h-1.1zM162.7 158.20h1.1v4.6h-1.1zM135.8 162.75h1.1v4.6h-1.1zM137.8 162.75h1.1v4.6h-1.1zM153.8 162.75h1.1v4.6h-1.1zM137.8 167.30h1.1v4.6h-1.1zM142.8 167.30h1.1v4.6h-1.1zM143.8 167.30h1.1v4.6h-1.1zM148.8 167.30h1.1v4.6h-1.1zM150.8 167.30h1.1v4.6h-1.1zM140.8 171.85h1.1v4.6h-1.1zM150.8 171.85h1.1v4.6h-1.1zM152.8 171.85h1.1v4.6h-1.1zM144.8 176.40h1.1v4.6h-1.1zM149.8 176.40h1.1v4.6h-1.1zM134.8 180.95h1.1v4.6h-1.1zM141.8 180.95h1.1v4.6h-1.1zM171.7 180.95h1.1v4.6h-1.1z" fill="#f77e78"/><path d="M128.9 76.30h1.1v4.6h-1.1zM130.9 76.30h1.1v4.6h-1.1zM156.7 76.30h1.1v4.6h-1.1zM141.8 85.40h1.1v4.6h-1.1zM150.8 85.40h1.1v4.6h-1.1zM128.9 89.95h1.1v4.6h-1.1zM140.8 89.95h1.1v4.6h-1.1zM141.8 89.95h1.1v4.6h-1.1zM144.8 89.95h1.1v4.6h-1.1zM153.8 89.95h1.1v4.6h-1.1zM171.7 89.95h1.1v4.6h-1.1zM140.8 99.05h1.1v4.6h-1.1zM174.7 99.05h1.1v4.6h-1.1zM145.8 103.60h1.1v4.6h-1.1zM185.6 103.60h1.1v4.6h-1.1zM130.9 108.15h1.1v4.6h-1.1zM140.8 112.70h1.1v4.6h-1.1zM128.9 117.25h1.1v4.6h-1.1zM138.8 117.25h1.1v4.6h-1.1zM156.7 117.25h1.1v4.6h-1.1zM185.6 117.25h1.1v4.6h-1.1zM145.8 124.00h1.1v4.6h-1.1zM156.7 124.00h1.1v4.6h-1.1zM128.9 128.55h1.1v4.6h-1.1zM144.8 128.55h1.1v4.6h-1.1zM148.8 128.55h1.1v4.6h-1.1zM165.7 128.55h1.1v4.6h-1.1zM123.9 133.10h1.1v4.6h-1.1zM144.8 133.10h1.1v4.6h-1.1zM130.9 137.65h1.1v4.6h-1.1zM145.8 137.65h1.1v4.6h-1.1zM128.9 142.20h1.1v4.6h-1.1zM133.8 142.20h1.1v4.6h-1.1zM138.8 151.30h1.1v4.6h-1.1zM152.8 151.30h1.1v4.6h-1.1zM137.8 158.20h1.1v4.6h-1.1zM138.8 158.20h1.1v4.6h-1.1zM148.8 158.20h1.1v4.6h-1.1zM141.8 162.75h1.1v4.6h-1.1zM133.8 167.30h1.1v4.6h-1.1zM145.8 167.30h1.1v4.6h-1.1z" fill="#f5746e"/><path d="M140.8 76.30h1.1v4.6h-1.1zM141.8 76.30h1.1v4.6h-1.1zM128.9 80.85h1.1v4.6h-1.1zM139.8 80.85h1.1v4.6h-1.1zM141.8 80.85h1.1v4.6h-1.1zM151.8 85.40h1.1v4.6h-1.1zM156.7 89.95h1.1v4.6h-1.1zM140.8 94.50h1.1v4.6h-1.1zM143.8 99.05h1.1v4.6h-1.1zM151.8 99.05h1.1v4.6h-1.1zM140.8 103.60h1.1v4.6h-1.1zM148.8 108.15h1.1v4.6h-1.1zM133.8 112.70h1.1v4.6h-1.1zM148.8 112.70h1.1v4.6h-1.1zM156.7 112.70h1.1v4.6h-1.1zM150.8 117.25h1.1v4.6h-1.1zM128.9 124.00h1.1v4.6h-1.1zM145.8 128.55h1.1v4.6h-1.1zM152.8 128.55h1.1v4.6h-1.1zM151.8 133.10h1.1v4.6h-1.1zM139.8 137.65h1.1v4.6h-1.1zM141.8 137.65h1.1v4.6h-1.1zM148.8 137.65h1.1v4.6h-1.1zM151.8 137.65h1.1v4.6h-1.1zM153.8 137.65h1.1v4.6h-1.1zM138.8 142.20h1.1v4.6h-1.1zM152.8 142.20h1.1v4.6h-1.1zM141.8 146.75h1.1v4.6h-1.1zM130.9 151.30h1.1v4.6h-1.1zM141.8 151.30h1.1v4.6h-1.1zM128.9 158.20h1.1v4.6h-1.1zM140.8 158.20h1.1v4.6h-1.1zM144.8 158.20h1.1v4.6h-1.1zM145.8 158.20h1.1v4.6h-1.1zM142.8 162.75h1.1v4.6h-1.1zM135.8 167.30h1.1v4.6h-1.1zM142.8 171.85h1.1v4.6h-1.1zM148.8 171.85h1.1v4.6h-1.1zM156.7 176.40h1.1v4.6h-1.1zM152.8 180.95h1.1v4.6h-1.1zM156.7 180.95h1.1v4.6h-1.1z" fill="#f26964"/><path d="M150.8 76.30h1.1v4.6h-1.1zM150.8 80.85h1.1v4.6h-1.1zM151.8 80.85h1.1v4.6h-1.1zM148.8 103.60h1.1v4.6h-1.1zM151.8 103.60h1.1v4.6h-1.1zM150.8 108.15h1.1v4.6h-1.1zM144.8 112.70h1.1v4.6h-1.1zM151.8 112.70h1.1v4.6h-1.1zM133.8 124.00h1.1v4.6h-1.1zM137.8 124.00h1.1v4.6h-1.1zM150.8 124.00h1.1v4.6h-1.1zM153.8 124.00h1.1v4.6h-1.1zM138.8 128.55h1.1v4.6h-1.1zM140.8 133.10h1.1v4.6h-1.1zM156.7 133.10h1.1v4.6h-1.1zM150.8 142.20h1.1v4.6h-1.1zM138.8 146.75h1.1v4.6h-1.1zM150.8 146.75h1.1v4.6h-1.1zM148.8 151.30h1.1v4.6h-1.1zM140.8 162.75h1.1v4.6h-1.1zM144.8 171.85h1.1v4.6h-1.1zM130.9 176.40h1.1v4.6h-1.1zM151.8 180.95h1.1v4.6h-1.1z" fill="#ef5d5b"/><path d="M152.8 94.50h1.1v4.6h-1.1zM155.8 94.50h1.1v4.6h-1.1zM155.8 103.60h1.1v4.6h-1.1zM152.8 112.70h1.1v4.6h-1.1zM155.8 117.25h1.1v4.6h-1.1zM138.8 124.00h1.1v4.6h-1.1zM141.8 124.00h1.1v4.6h-1.1zM128.9 137.65h1.1v4.6h-1.1zM142.8 142.20h1.1v4.6h-1.1zM128.9 146.75h1.1v4.6h-1.1zM148.8 146.75h1.1v4.6h-1.1zM156.7 146.75h1.1v4.6h-1.1zM151.8 158.20h1.1v4.6h-1.1zM151.8 162.75h1.1v4.6h-1.1zM141.8 167.30h1.1v4.6h-1.1zM144.8 167.30h1.1v4.6h-1.1zM141.8 171.85h1.1v4.6h-1.1zM145.8 171.85h1.1v4.6h-1.1zM156.7 171.85h1.1v4.6h-1.1zM137.8 176.40h1.1v4.6h-1.1zM141.8 176.40h1.1v4.6h-1.1z" fill="#ec5152"/><path d="M155.8 76.30h1.1v4.6h-1.1zM130.9 80.85h1.1v4.6h-1.1zM148.8 80.85h1.1v4.6h-1.1zM156.7 80.85h1.1v4.6h-1.1zM155.8 85.40h1.1v4.6h-1.1zM156.7 85.40h1.1v4.6h-1.1zM156.7 94.50h1.1v4.6h-1.1zM138.8 99.05h1.1v4.6h-1.1zM150.8 99.05h1.1v4.6h-1.1zM156.7 99.05h1.1v4.6h-1.1zM141.8 117.25h1.1v4.6h-1.1zM133.8 128.55h1.1v4.6h-1.1zM156.7 142.20h1.1v4.6h-1.1zM152.8 146.75h1.1v4.6h-1.1zM150.8 176.40h1.1v4.6h-1.1zM155.8 176.40h1.1v4.6h-1.1z" fill="#e84449"/><path d="M151.8 76.30h1.1v4.6h-1.1zM138.8 85.40h1.1v4.6h-1.1zM151.8 89.95h1.1v4.6h-1.1zM150.8 103.60h1.1v4.6h-1.1zM151.8 108.15h1.1v4.6h-1.1zM156.7 108.15h1.1v4.6h-1.1zM151.8 124.00h1.1v4.6h-1.1zM150.8 137.65h1.1v4.6h-1.1zM130.9 142.20h1.1v4.6h-1.1zM155.8 171.85h1.1v4.6h-1.1zM145.8 176.40h1.1v4.6h-1.1zM153.8 180.95h1.1v4.6h-1.1zM155.8 180.95h1.1v4.6h-1.1z" fill="#e53440"/><path d="M138.8 76.30h1.1v4.6h-1.1zM155.8 80.85h1.1v4.6h-1.1zM155.8 89.95h1.1v4.6h-1.1zM150.8 94.50h1.1v4.6h-1.1zM151.8 94.50h1.1v4.6h-1.1zM155.8 99.05h1.1v4.6h-1.1zM155.8 108.15h1.1v4.6h-1.1zM150.8 112.70h1.1v4.6h-1.1zM155.8 112.70h1.1v4.6h-1.1zM148.8 117.25h1.1v4.6h-1.1zM151.8 117.25h1.1v4.6h-1.1zM155.8 124.00h1.1v4.6h-1.1zM151.8 128.55h1.1v4.6h-1.1zM155.8 128.55h1.1v4.6h-1.1zM156.7 128.55h1.1v4.6h-1.1zM155.8 133.10h1.1v4.6h-1.1zM155.8 137.65h1.1v4.6h-1.1zM156.7 137.65h1.1v4.6h-1.1zM151.8 142.20h1.1v4.6h-1.1zM155.8 142.20h1.1v4.6h-1.1zM151.8 146.75h1.1v4.6h-1.1zM155.8 146.75h1.1v4.6h-1.1zM151.8 151.30h1.1v4.6h-1.1zM155.8 151.30h1.1v4.6h-1.1zM156.7 151.30h1.1v4.6h-1.1zM155.8 158.20h1.1v4.6h-1.1zM156.7 158.20h1.1v4.6h-1.1zM130.9 162.75h1.1v4.6h-1.1zM155.8 162.75h1.1v4.6h-1.1zM156.7 162.75h1.1v4.6h-1.1zM151.8 167.30h1.1v4.6h-1.1zM155.8 167.30h1.1v4.6h-1.1zM151.8 171.85h1.1v4.6h-1.1zM153.8 171.85h1.1v4.6h-1.1zM148.8 180.95h1.1v4.6h-1.1z" fill="#e12037"/><rect x="120.4" y="191.6" width="130.2" height="68.6" rx="4" fill="none" stroke="#3a3a3a" stroke-width="0.75"/><defs><linearGradient id="g1004" x1="0" y1="0" x2="0" y2="1"><stop offset="0" stop-color="#b8283a"/><stop offset="0.2" stop-color="#e06070"/><stop offset="0.5" stop-color="#ffffff"/><stop offset="0.8" stop-color="#7080c0"/><stop offset="1" stop-color="#3a48a0"/></linearGradient></defs><rect x="123.6" y="199.8" width="3.8" height="18.2" fill="url(#g1004)"/><text x="123.6" y="198.60000000000002" font-size="2.6" fill="#111" font-weight="bold" text-anchor="start" stroke="#111" stroke-width="0.24">TIDE</text><text x="128.39999999999998" y="201.40000000000003" font-size="2.3" fill="#222" font-weight="normal" text-anchor="start" stroke="#222" stroke-width="0.24">2</text><text x="128.39999999999998" y="205.55000000000004" font-size="2.3" fill="#222" font-weight="normal" text-anchor="start" stroke="#222" stroke-width="0.24">1</text><text x="128.39999999999998" y="209.70000000000005" font-size="2.3" fill="#222" font-weight="normal" text-anchor="start" stroke="#222" stroke-width="0.24">0</text><text x="128.39999999999998" y="213.85000000000002" font-size="2.3" fill="#222" font-weight="normal" text-anchor="start" stroke="#222" stroke-width="0.24">-1</text><text x="128.39999999999998" y="218.00000000000003" font-size="2.3" fill="#222" font-weight="normal" text-anchor="start" stroke="#222" stroke-width="0.24">-2</text><defs><linearGradient id="g1012" x1="0" y1="0" x2="0" y2="1"><stop offset="0" stop-color="#fcf4a0"/><stop offset="0.2" stop-color="#f8c040"/><stop offset="0.42" stop-color="#e8643a"/><stop offset="0.62" stop-color="#962c64"/><stop offset="0.82" stop-color="#3a0a48"/><stop offset="1" stop-color="#080010"/></linearGradient></defs><rect x="140.9" y="199.8" width="3.2" height="15.4" fill="url(#g1012)"/><text x="140.9" y="198.60000000000002" font-size="2.6" fill="#111" font-weight="bold" text-anchor="start" stroke="#111" stroke-width="0.24">SES</text><text x="145.1" y="201.40000000000003" font-size="2.3" fill="#222" font-weight="normal" text-anchor="start" stroke="#222" stroke-width="0.24">2</text><text x="145.1" y="204.85000000000002" font-size="2.3" fill="#222" font-weight="normal" text-anchor="start" stroke="#222" stroke-width="0.24">1</text><text x="145.1" y="208.30000000000004" font-size="2.3" fill="#222" font-weight="normal" text-anchor="start" stroke="#222" stroke-width="0.24">0</text><text x="145.1" y="211.75000000000003" font-size="2.3" fill="#222" font-weight="normal" text-anchor="start" stroke="#222" stroke-width="0.24">-1</text><text x="145.1" y="215.20000000000005" font-size="2.3" fill="#222" font-weight="normal" text-anchor="start" stroke="#222" stroke-width="0.24">-2</text><defs><linearGradient id="g1020" x1="0" y1="0" x2="0" y2="1"><stop offset="0" stop-color="#fcf4a0"/><stop offset="0.2" stop-color="#f8c040"/><stop offset="0.42" stop-color="#e8643a"/><stop offset="0.62" stop-color="#962c64"/><stop offset="0.82" stop-color="#3a0a48"/><stop offset="1" stop-color="#080010"/></linearGradient></defs><rect x="155.6" y="199.8" width="3.2" height="15.1" fill="url(#g1020)"/><text x="155.6" y="198.60000000000002" font-size="2.6" fill="#111" font-weight="bold" text-anchor="start" stroke="#111" stroke-width="0.24">IES</text><text x="159.79999999999998" y="201.40000000000003" font-size="2.3" fill="#222" font-weight="normal" text-anchor="start" stroke="#222" stroke-width="0.24">2</text><text x="159.79999999999998" y="204.77500000000003" font-size="2.3" fill="#222" font-weight="normal" text-anchor="start" stroke="#222" stroke-width="0.24">1</text><text x="159.79999999999998" y="208.15000000000003" font-size="2.3" fill="#222" font-weight="normal" text-anchor="start" stroke="#222" stroke-width="0.24">0</text><text x="159.79999999999998" y="211.52500000000003" font-size="2.3" fill="#222" font-weight="normal" text-anchor="start" stroke="#222" stroke-width="0.24">-1</text><text x="159.79999999999998" y="214.90000000000003" font-size="2.3" fill="#222" font-weight="normal" text-anchor="start" stroke="#222" stroke-width="0.24">-2</text><defs><linearGradient id="g1028" x1="0" y1="0" x2="0" y2="1"><stop offset="0" stop-color="#c8283c"/><stop offset="0.5" stop-color="#ffffff"/><stop offset="1" stop-color="#3a48a8"/></linearGradient></defs><rect x="173.5" y="230.8" width="2.6" height="16.4" fill="url(#g1028)"/><text x="173.5" y="226.8" font-size="2.6" fill="#111" font-weight="bold" text-anchor="start" stroke="#111" stroke-width="0.24" textLength="20.2" lengthAdjust="spacingAndGlyphs">Genesignature</text><text x="173.5" y="229.9" font-size="2.3" fill="#222" font-weight="normal" text-anchor="start" stroke="#222" stroke-width="0.24">Z-score</text><text x="177.1" y="232.40000000000003" font-size="2.3" fill="#222" font-weight="normal" text-anchor="start" stroke="#222" stroke-width="0.24">2</text><text x="177.1" y="236.10000000000002" font-size="2.3" fill="#222" font-weight="normal" text-anchor="start" stroke="#222" stroke-width="0.24">1</text><text x="177.1" y="239.80000000000004" font-size="2.3" fill="#222" font-weight="normal" text-anchor="start" stroke="#222" stroke-width="0.24">0</text><text x="177.1" y="243.50000000000003" font-size="2.3" fill="#222" font-weight="normal" text-anchor="start" stroke="#222" stroke-width="0.24">-1</text><text x="177.1" y="247.20000000000005" font-size="2.3" fill="#222" font-weight="normal" text-anchor="start" stroke="#222" stroke-width="0.24">-2</text><text x="173.1" y="198.6" font-size="2.6" fill="#222" font-weight="bold" text-anchor="start" stroke="#222" stroke-width="0.2" textLength="16" lengthAdjust="spacingAndGlyphs">primary_site</text><rect x="173.1" y="200.0" width="2.6" height="2.6" rx="0.4" fill="#e05060"/><text x="176.89999999999998" y="202.4" font-size="2.6" fill="#333" font-weight="normal" text-anchor="start" stroke="#333" stroke-width="0.26">Cecum</text><rect x="173.1" y="203.0" width="2.6" height="2.6" rx="0.4" fill="#30b8a0"/><text x="176.89999999999998" y="205.4" font-size="2.6" fill="#333" font-weight="normal" text-anchor="start" stroke="#333" stroke-width="0.26">Rectum</text><rect x="173.1" y="206.0" width="2.6" height="2.6" rx="0.4" fill="#208a98"/><text x="176.89999999999998" y="208.4" font-size="2.6" fill="#333" font-weight="normal" text-anchor="start" stroke="#333" stroke-width="0.26">Rectosigmoid junction</text><rect x="173.1" y="209.0" width="2.6" height="2.6" rx="0.4" fill="#2a5878"/><text x="176.89999999999998" y="211.4" font-size="2.6" fill="#333" font-weight="normal" text-anchor="start" stroke="#333" stroke-width="0.26">Connective, subcutaneous and other soft tissues</text><text x="123.0" y="226.5" font-size="2.6" fill="#222" font-weight="bold" text-anchor="start" stroke="#222" stroke-width="0.2">mStage</text><rect x="123.0" y="227.9" width="2.4" height="2.4" rx="0.4" fill="#fbe4cc"/><text x="126.60000000000001" y="230.10000000000002" font-size="2.5" fill="#333" font-weight="normal" text-anchor="start" stroke="#333" stroke-width="0.26">M0</text><rect x="123.0" y="231.20000000000002" width="2.4" height="2.4" rx="0.4" fill="#4a2a18"/><text x="126.60000000000001" y="233.40000000000003" font-size="2.5" fill="#333" font-weight="normal" text-anchor="start" stroke="#333" stroke-width="0.26">M1</text><text x="126.60000000000001" y="236.70000000000002" font-size="2.5" fill="#333" font-weight="normal" text-anchor="start" stroke="#333" stroke-width="0.26">Missing</text><text x="140.3" y="226.5" font-size="2.6" fill="#222" font-weight="bold" text-anchor="start" stroke="#222" stroke-width="0.2">nStage</text><rect x="140.3" y="227.9" width="2.4" height="2.4" rx="0.4" fill="#ece4f4"/><text x="143.9" y="230.10000000000002" font-size="2.5" fill="#333" font-weight="normal" text-anchor="start" stroke="#333" stroke-width="0.26">N0</text><rect x="140.3" y="231.20000000000002" width="2.4" height="2.4" rx="0.4" fill="#3a2870"/><text x="143.9" y="233.40000000000003" font-size="2.5" fill="#333" font-weight="normal" text-anchor="start" stroke="#333" stroke-width="0.26">N1</text><text x="143.9" y="236.70000000000002" font-size="2.5" fill="#333" font-weight="normal" text-anchor="start" stroke="#333" stroke-width="0.26">Missing</text><text x="155.8" y="226.4" font-size="2.6" fill="#222" font-weight="bold" text-anchor="start" stroke="#222" stroke-width="0.2">Age</text><rect x="155.8" y="227.8" width="2.4" height="2.4" rx="0.4" fill="#2a8a6a"/><text x="159.4" y="230.00000000000003" font-size="2.5" fill="#333" font-weight="normal" text-anchor="start" stroke="#333" stroke-width="0.26"><=65.5</text><rect x="155.8" y="230.70000000000002" width="2.4" height="2.4" rx="0.4" fill="#e89050"/><text x="159.4" y="232.90000000000003" font-size="2.5" fill="#333" font-weight="normal" text-anchor="start" stroke="#333" stroke-width="0.26">>65.5</text><text x="123.0" y="242.5" font-size="2.6" fill="#222" font-weight="bold" text-anchor="start" stroke="#222" stroke-width="0.2">tStage</text><rect x="123.0" y="243.0" width="2.4" height="2.4" rx="0.4" fill="#3a9a5a"/><text x="126.60000000000001" y="245.20000000000002" font-size="2.5" fill="#333" font-weight="normal" text-anchor="start" stroke="#333" stroke-width="0.26">T1</text><rect x="123.0" y="246.25" width="2.4" height="2.4" rx="0.4" fill="#b8e0a0"/><text x="126.60000000000001" y="248.45000000000002" font-size="2.5" fill="#333" font-weight="normal" text-anchor="start" stroke="#333" stroke-width="0.26">T2</text><rect x="123.0" y="249.5" width="2.4" height="2.4" rx="0.4" fill="#f8e0a0"/><text x="126.60000000000001" y="251.70000000000002" font-size="2.5" fill="#333" font-weight="normal" text-anchor="start" stroke="#333" stroke-width="0.26">T3</text><rect x="123.0" y="252.75" width="2.4" height="2.4" rx="0.4" fill="#f0a050"/><text x="126.60000000000001" y="254.95000000000002" font-size="2.5" fill="#333" font-weight="normal" text-anchor="start" stroke="#333" stroke-width="0.26">T4</text><text x="126.60000000000001" y="258.2" font-size="2.5" fill="#333" font-weight="normal" text-anchor="start" stroke="#333" stroke-width="0.26">Missing</text><text x="140.3" y="239.5" font-size="2.6" fill="#222" font-weight="bold" text-anchor="start" stroke="#222" stroke-width="0.2">Sex</text><rect x="140.3" y="240.9" width="2.4" height="2.4" rx="0.4" fill="#d8b8e0"/><text x="143.9" y="243.10000000000002" font-size="2.5" fill="#333" font-weight="normal" text-anchor="start" stroke="#333" stroke-width="0.26">female</text><rect x="140.3" y="243.8" width="2.4" height="2.4" rx="0.4" fill="#b0dce8"/><text x="143.9" y="246.00000000000003" font-size="2.5" fill="#333" font-weight="normal" text-anchor="start" stroke="#333" stroke-width="0.26">male</text><text x="140.3" y="251.6" font-size="2.6" fill="#222" font-weight="bold" text-anchor="start" stroke="#222" stroke-width="0.2">Age</text><rect x="140.3" y="252.4" width="2.4" height="2.4" rx="0.4" fill="#2a8a6a"/><text x="143.9" y="254.60000000000002" font-size="2.5" fill="#333" font-weight="normal" text-anchor="start" stroke="#333" stroke-width="0.26"><=65.5</text><rect x="140.3" y="255.6" width="2.4" height="2.4" rx="0.4" fill="#e89050"/><text x="143.9" y="257.8" font-size="2.5" fill="#333" font-weight="normal" text-anchor="start" stroke="#333" stroke-width="0.26">>65.5</text><text x="155.8" y="241.6" font-size="2.6" fill="#222" font-weight="bold" text-anchor="start" stroke="#222" stroke-width="0.2">ImmClust</text><rect x="155.8" y="243.0" width="2.4" height="2.4" rx="0.4" fill="#f8d0a8"/><text x="159.4" y="245.20000000000002" font-size="2.5" fill="#333" font-weight="normal" text-anchor="start" stroke="#333" stroke-width="0.26">CS1</text><rect x="155.8" y="246.3" width="2.4" height="2.4" rx="0.4" fill="#f8c8a0"/><text x="159.4" y="248.50000000000003" font-size="2.5" fill="#333" font-weight="normal" text-anchor="start" stroke="#333" stroke-width="0.26">CS2</text><rect x="155.8" y="249.6" width="2.4" height="2.4" rx="0.4" fill="#f0e0c8"/><text x="159.4" y="251.8" font-size="2.5" fill="#333" font-weight="normal" text-anchor="start" stroke="#333" stroke-width="0.26">CS3</text><rect x="155.8" y="252.9" width="2.4" height="2.4" rx="0.4" fill="#b8e0e8"/><text x="159.4" y="255.10000000000002" font-size="2.5" fill="#333" font-weight="normal" text-anchor="start" stroke="#333" stroke-width="0.26">CS4</text><text x="195.5" y="226.8" font-size="2.6" fill="#222" font-weight="bold" text-anchor="start" stroke="#222" stroke-width="0.2">Responder</text><rect x="195.5" y="228.20000000000002" width="2.7" height="2.7" rx="0.4" fill="#ffffff"/><text x="199.39999999999998" y="230.70000000000002" font-size="2.5" fill="#333" font-weight="normal" text-anchor="start" stroke="#333" stroke-width="0.26">False</text><rect x="195.5" y="231.70000000000002" width="2.7" height="2.7" rx="0.4" fill="#101028"/><text x="199.39999999999998" y="234.20000000000002" font-size="2.5" fill="#333" font-weight="normal" text-anchor="start" stroke="#333" stroke-width="0.26">True</text><text x="195.5" y="240.2" font-size="2.6" fill="#222" font-weight="bold" text-anchor="start" stroke="#222" stroke-width="0.2">perineural_invasion</text><rect x="195.5" y="241.6" width="2.7" height="2.7" rx="0.4" fill="#101028"/><text x="199.39999999999998" y="244.1" font-size="2.5" fill="#333" font-weight="normal" text-anchor="start" stroke="#333" stroke-width="0.26">YES</text><rect x="195.5" y="245.0" width="2.7" height="2.7" rx="0.4" fill="#ffffff"/><text x="199.39999999999998" y="247.5" font-size="2.5" fill="#333" font-weight="normal" text-anchor="start" stroke="#333" stroke-width="0.26">NO</text><text x="199.39999999999998" y="250.9" font-size="2.5" fill="#333" font-weight="normal" text-anchor="start" stroke="#333" stroke-width="0.26">Missing</text><text x="224.1" y="226.2" font-size="2.6" fill="#222" font-weight="bold" text-anchor="start" stroke="#222" stroke-width="0.2" textLength="17.2" lengthAdjust="spacingAndGlyphs">colon_polyps</text><rect x="224.1" y="227.6" width="2.7" height="2.7" rx="0.4" fill="#101028"/><text x="227.99999999999997" y="230.1" font-size="2.5" fill="#333" font-weight="normal" text-anchor="start" stroke="#333" stroke-width="0.26">YES</text><rect x="224.1" y="231.0" width="2.7" height="2.7" rx="0.4" fill="#ffffff"/><text x="227.99999999999997" y="233.5" font-size="2.5" fill="#333" font-weight="normal" text-anchor="start" stroke="#333" stroke-width="0.26">NO</text><text x="227.99999999999997" y="236.9" font-size="2.5" fill="#333" font-weight="normal" text-anchor="start" stroke="#333" stroke-width="0.26">Missing</text><text x="224.1" y="239.9" font-size="2.6" fill="#222" font-weight="bold" text-anchor="start" stroke="#222" stroke-width="0.2" textLength="23.8" lengthAdjust="spacingAndGlyphs">lymphatic_invasion</text><rect x="224.1" y="241.3" width="2.7" height="2.7" rx="0.4" fill="#101028"/><text x="227.99999999999997" y="243.8" font-size="2.5" fill="#333" font-weight="normal" text-anchor="start" stroke="#333" stroke-width="0.26">YES</text><rect x="224.1" y="244.70000000000002" width="2.7" height="2.7" rx="0.4" fill="#ffffff"/><text x="227.99999999999997" y="247.20000000000002" font-size="2.5" fill="#333" font-weight="normal" text-anchor="start" stroke="#333" stroke-width="0.26">NO</text><text x="227.99999999999997" y="250.60000000000002" font-size="2.5" fill="#333" font-weight="normal" text-anchor="start" stroke="#333" stroke-width="0.26">Missing</text><path d="M302.7 32.6 V106.2 H385.6" stroke="#444" stroke-width="0.55" fill="none"/><text x="301.0" y="35.8" font-size="2.9" fill="#222" font-weight="normal" text-anchor="end" stroke="#222" stroke-width="0.2">1.00</text><text x="301.0" y="52.7" font-size="2.9" fill="#222" font-weight="normal" text-anchor="end" stroke="#222" stroke-width="0.2">0.75</text><text x="301.0" y="69.6" font-size="2.9" fill="#222" font-weight="normal" text-anchor="end" stroke="#222" stroke-width="0.2">0.50</text><text x="301.0" y="86.5" font-size="2.9" fill="#222" font-weight="normal" text-anchor="end" stroke="#222" stroke-width="0.2">0.25</text><text x="301.0" y="103.4" font-size="2.9" fill="#222" font-weight="normal" text-anchor="end" stroke="#222" stroke-width="0.2">0.00</text><text x="306.6" y="110.4" font-size="2.9" fill="#222" font-weight="normal" text-anchor="middle" stroke="#222" stroke-width="0.2">0</text><text x="331.27500000000003" y="110.4" font-size="2.9" fill="#222" font-weight="normal" text-anchor="middle" stroke="#222" stroke-width="0.2">50</text><text x="355.95000000000005" y="110.4" font-size="2.9" fill="#222" font-weight="normal" text-anchor="middle" stroke="#222" stroke-width="0.2">100</text><text x="380.625" y="110.4" font-size="2.9" fill="#222" font-weight="normal" text-anchor="middle" stroke="#222" stroke-width="0.2">150</text><path d="M301.7 34.8h1M301.7 51.7h1M301.7 68.6h1M301.7 85.5h1M301.7 102.4h1M306.6 106.2v1M331.27500000000003 106.2v1M355.95000000000005 106.2v1M380.625 106.2v1" stroke="#444" stroke-width="0.4"/><text x="344.5" y="115.2" font-size="3.7" fill="#333" font-weight="normal" text-anchor="middle" stroke="#333" stroke-width="0.22">Time (Months)</text><text x="293.4" y="68.5" font-size="3.7" fill="#333" font-weight="normal" text-anchor="middle" transform="rotate(-90 293.4 68.5)" stroke="#333" stroke-width="0.24">OS</text><text x="315.0" y="24.5" font-size="2.6" fill="#555" font-weight="bold" text-anchor="start" stroke="#555" stroke-width="0.12">Strata</text><line x1="324.4" y1="23.6" x2="327.4" y2="23.6" stroke="#a8d890" stroke-width="0.5"/><line x1="325.9" y1="22.5" x2="325.9" y2="24.7" stroke="#a8d890" stroke-width="0.4"/><text x="329.59999999999997" y="24.5" font-size="2.5" fill="#555" font-weight="bold" text-anchor="start" stroke="#555" stroke-width="0.12">CS1</text><line x1="337.2" y1="23.6" x2="340.2" y2="23.6" stroke="#f08a8a" stroke-width="0.5"/><line x1="338.7" y1="22.5" x2="338.7" y2="24.7" stroke="#f08a8a" stroke-width="0.4"/><text x="342.4" y="24.5" font-size="2.5" fill="#555" font-weight="bold" text-anchor="start" stroke="#555" stroke-width="0.12">CS2</text><line x1="350.0" y1="23.6" x2="353.0" y2="23.6" stroke="#8cd0c8" stroke-width="0.5"/><line x1="351.5" y1="22.5" x2="351.5" y2="24.7" stroke="#8cd0c8" stroke-width="0.4"/><text x="355.2" y="24.5" font-size="2.5" fill="#555" font-weight="bold" text-anchor="start" stroke="#555" stroke-width="0.12">CS3</text><line x1="363.2" y1="23.6" x2="366.2" y2="23.6" stroke="#c8c8c8" stroke-width="0.5"/><line x1="364.7" y1="22.5" x2="364.7" y2="24.7" stroke="#c8c8c8" stroke-width="0.4"/><text x="368.4" y="24.5" font-size="2.5" fill="#555" font-weight="bold" text-anchor="start" stroke="#555" stroke-width="0.12">CS4</text><path d="M306.6 68.3 H357.8 M340.3 68.3 V102.6 M348.8 68.3 V102.6 M357.7 68.3 V102.6" stroke="#2a3a2a" stroke-width="0.6" stroke-dasharray="0.8 0.7" fill="none"/><path d="M306.60 34.80 H307.59 V36.15 H308.57 V38.18 H309.56 V40.88 H311.04 V44.26 H312.03 V46.97 H313.02 V49.00 H314.00 V49.67 H322.89 V50.35 H324.86 V53.73 H326.83 V56.43 H328.81 V59.14 H331.28 V61.16 H334.24 V63.87 H338.18 V65.22 H355.95 V65.22 H355.95 V68.60" stroke="#f07878" stroke-width="0.85" fill="none"/><path d="M306.60 34.80 H309.07 V36.83 H311.54 V38.18 H314.50 V40.21 H317.46 V41.56 H321.41 V43.59 H326.34 V45.62 H328.31 V49.00 H330.29 V53.73 H333.25 V57.78 H335.22 V60.49 H337.20 V61.84 H340.16 V65.22 H343.12 V66.57 H347.07 V68.60 H352.99 V69.28" stroke="#a8d890" stroke-width="0.85" fill="none"/><path d="M306.60 34.80 H308.57 V36.15 H311.04 V38.18 H313.51 V39.53 H316.47 V41.56 H319.43 V42.91 H322.39 V44.94 H325.35 V46.97 H328.31 V48.32 H332.26 V53.73 H375.69 V53.73" stroke="#f8c898" stroke-width="0.85" fill="none"/><path d="M306.60 34.80 H309.56 V36.83 H312.52 V39.53 H315.48 V41.56 H319.43 V43.59 H323.38 V46.29 H327.33 V49.67 H330.29 V55.08 H334.24 V60.49 H337.20 V63.87 H341.15 V67.25 H351.02 V71.98 H378.65 V71.98" stroke="#98c8e0" stroke-width="0.85" fill="none"/><text x="306.6" y="86.2" font-size="3.1" fill="#111" font-weight="bold" text-anchor="start" stroke="#111" stroke-width="0.24">Overall P = 0.000</text><path d="M299.7 128.6 V181" stroke="#444" stroke-width="0.5" fill="none"/><path d="M299.4 200.5 V229.3 H398.8" stroke="#444" stroke-width="0.5" fill="none"/><path d="M300.00 162.70 L301.50 150.00 L303.00 139.50 L304.30 134.20 L306.00 132.60 L308.80 131.90 L310.50 131.80 L314.31 133.20 L318.13 134.60 L321.94 136.00 L325.75 137.40 L329.57 138.80 L333.38 140.20 L337.19 141.60 L341.00 143.00 L344.82 144.40 L348.63 145.80 L352.44 147.20 L356.26 148.60 L360.07 150.00 L363.88 151.40 L367.70 152.80 L371.51 154.20 L375.32 155.60 L379.13 157.00 L382.95 158.40 L386.76 159.80 L390.57 161.20 L394.39 162.60 L398.20 164.00" stroke="#5a9cc4" stroke-width="0.85" fill="none" stroke-linejoin="round"/><path d="M300.00 163.80 L302.00 161.19 L304.30 159.25 L306.00 156.84 L307.70 154.82 L310.00 155.95 L313.40 153.68 L315.70 152.92 L317.38 153.53 L319.07 152.46 L320.75 152.05 L322.43 152.59 L324.12 151.58 L325.80 151.64 L327.49 150.83 L329.17 150.65 L330.85 150.07 L332.54 151.02 L334.22 151.66 L335.90 151.62 L337.59 152.25 L339.27 152.53 L340.96 152.17 L342.64 153.37 L344.32 153.54 L346.01 153.56 L347.69 153.60 L349.37 154.97 L351.06 154.87 L352.74 155.53 L354.42 156.09 L356.11 156.26 L357.79 156.88 L359.48 156.61 L361.16 157.47 L362.84 157.41 L364.53 158.37 L366.21 158.67 L367.89 158.10 L369.58 158.51 L371.26 158.97 L372.94 160.24 L374.63 159.97 L376.31 160.57 L378.00 160.55 L379.68 161.16 L381.36 161.38 L383.05 161.71 L384.73 162.36 L386.41 162.73 L388.10 163.48 L389.78 163.58 L391.47 164.24 L393.15 164.52 L394.83 165.05 L396.52 165.04 L398.20 164.80" stroke="#a83c3c" stroke-width="0.7" fill="none" stroke-linejoin="round"/><path d="M300.00 163.80 L302.00 161.00 L304.50 158.50 L307.00 156.50 L310.00 155.60 L314.60 155.80 L318.09 156.95 L321.59 158.09 L325.08 159.24 L328.58 160.39 L332.07 161.54 L335.57 162.68 L339.06 163.83 L342.56 164.98 L346.05 166.13 L349.55 167.27 L353.04 168.42 L356.54 169.57 L360.03 170.72 L363.53 171.86 L367.02 173.01 L370.52 174.16 L374.01 175.31 L377.51 176.45 L381.00 177.60 L384.00 178.30 L387.00 178.60 L390.00 178.20 L392.50 177.00 L394.50 175.00 L396.50 171.50 L398.20 165.50" stroke="#2e3a3a" stroke-width="0.85" fill="none" stroke-linejoin="round"/><line x1="346.0" y1="132.9" x2="349.3" y2="132.9" stroke="#7a4848" stroke-width="0.8"/><text x="351.4" y="133.70000000000002" font-size="2.25" fill="#333" font-weight="normal" text-anchor="start" stroke="#333" stroke-width="0.26">HALLMARK_EPITHELIAL_MESENCHYMAL_TRANSITION</text><line x1="346.0" y1="137.2" x2="349.3" y2="137.2" stroke="#eccaca" stroke-width="0.8"/><text x="351.4" y="138.0" font-size="2.25" fill="#333" font-weight="normal" text-anchor="start" stroke="#333" stroke-width="0.26">HALLMARK_INTERFERON_ALPHA_RESPONSE</text><line x1="346.0" y1="141.7" x2="349.3" y2="141.7" stroke="#b8c4c4" stroke-width="0.8"/><text x="351.4" y="142.5" font-size="2.25" fill="#333" font-weight="normal" text-anchor="start" stroke="#333" stroke-width="0.26">HALLMARK_INTERFERON_GAMMA_RESPONSE</text><line x1="346.0" y1="146.2" x2="349.3" y2="146.2" stroke="#3c5050" stroke-width="0.8"/><text x="351.4" y="147.0" font-size="2.25" fill="#333" font-weight="normal" text-anchor="start" stroke="#333" stroke-width="0.26">HALLMARK_TGF_BETA_SIGNALING</text><path d="M298.7 141h1M298.7 164h1" stroke="#444" stroke-width="0.4"/><text x="298.2" y="141.8" font-size="2.2" fill="#333" font-weight="normal" text-anchor="end" stroke="#333" stroke-width="0.24">0.5</text><text x="298.2" y="164.8" font-size="2.2" fill="#333" font-weight="normal" text-anchor="end" stroke="#333" stroke-width="0.24">0.0</text><text x="292.6" y="153" font-size="2.65" fill="#444" font-weight="normal" text-anchor="middle" transform="rotate(-90 292.6 153)" stroke="#444" stroke-width="0.2">Running Enrichment Score</text><defs><linearGradient id="rb" x1="0" x2="1"><stop offset="0" stop-color="#2a7cc0"/><stop offset="1" stop-color="#5aa0d4"/></linearGradient><linearGradient id="ro" x1="0" x2="1"><stop offset="0" stop-color="#d88a30"/><stop offset="1" stop-color="#eeb070"/></linearGradient></defs><rect x="299.8" y="181.9" width="11" height="3.4" fill="url(#rb)"/><path d="M313.5 181.9h0.35v3.4h-0.35zM388.6 181.9h0.35v3.4h-0.35zM371.4 181.9h0.35v3.4h-0.35zM323.3 181.9h0.35v3.4h-0.35zM341.5 181.9h0.35v3.4h-0.35zM326.2 181.9h0.35v3.4h-0.35zM319.5 181.9h0.35v3.4h-0.35zM386.7 181.9h0.35v3.4h-0.35zM389.4 181.9h0.35v3.4h-0.35zM358.8 181.9h0.35v3.4h-0.35zM319.9 181.9h0.35v3.4h-0.35zM362.9 181.9h0.35v3.4h-0.35zM359.7 181.9h0.35v3.4h-0.35zM398.4 181.9h0.35v3.4h-0.35zM376.3 181.9h0.35v3.4h-0.35zM356.6 181.9h0.35v3.4h-0.35zM339.4 181.9h0.35v3.4h-0.35zM320.4 181.9h0.35v3.4h-0.35zM334.8 181.9h0.35v3.4h-0.35zM355.3 181.9h0.35v3.4h-0.35zM368.6 181.9h0.35v3.4h-0.35zM362.0 181.9h0.35v3.4h-0.35zM338.2 181.9h0.35v3.4h-0.35zM389.7 181.9h0.35v3.4h-0.35zM371.0 181.9h0.35v3.4h-0.35zM386.3 181.9h0.35v3.4h-0.35zM318.8 181.9h0.35v3.4h-0.35zM323.1 181.9h0.35v3.4h-0.35zM378.8 181.9h0.35v3.4h-0.35zM395.4 181.9h0.35v3.4h-0.35zM331.2 181.9h0.35v3.4h-0.35zM339.2 181.9h0.35v3.4h-0.35zM339.5 181.9h0.35v3.4h-0.35zM316.7 181.9h0.35v3.4h-0.35zM318.4 181.9h0.35v3.4h-0.35zM364.9 181.9h0.35v3.4h-0.35zM350.6 181.9h0.35v3.4h-0.35zM352.5 181.9h0.35v3.4h-0.35zM315.9 181.9h0.35v3.4h-0.35zM313.1 181.9h0.35v3.4h-0.35zM335.3 181.9h0.35v3.4h-0.35zM331.5 181.9h0.35v3.4h-0.35zM317.8 181.9h0.35v3.4h-0.35zM326.8 181.9h0.35v3.4h-0.35zM322.7 181.9h0.35v3.4h-0.35zM391.6 181.9h0.35v3.4h-0.35zM318.2 181.9h0.35v3.4h-0.35zM365.9 181.9h0.35v3.4h-0.35zM313.1 181.9h0.35v3.4h-0.35zM321.2 181.9h0.35v3.4h-0.35zM348.8 181.9h0.35v3.4h-0.35zM312.6 181.9h0.35v3.4h-0.35zM395.1 181.9h0.35v3.4h-0.35zM316.9 181.9h0.35v3.4h-0.35zM314.8 181.9h0.35v3.4h-0.35zM317.7 181.9h0.35v3.4h-0.35zM362.6 181.9h0.35v3.4h-0.35zM320.2 181.9h0.35v3.4h-0.35zM345.7 181.9h0.35v3.4h-0.35zM330.5 181.9h0.35v3.4h-0.35zM317.4 181.9h0.35v3.4h-0.35zM320.5 181.9h0.35v3.4h-0.35zM321.8 181.9h0.35v3.4h-0.35zM344.5 181.9h0.35v3.4h-0.35zM318.2 181.9h0.35v3.4h-0.35zM314.0 181.9h0.35v3.4h-0.35zM314.6 181.9h0.35v3.4h-0.35zM369.2 181.9h0.35v3.4h-0.35zM344.5 181.9h0.35v3.4h-0.35zM320.5 181.9h0.35v3.4h-0.35zM315.5 181.9h0.35v3.4h-0.35zM389.6 181.9h0.35v3.4h-0.35zM324.6 181.9h0.35v3.4h-0.35zM321.8 181.9h0.35v3.4h-0.35zM326.4 181.9h0.35v3.4h-0.35zM318.0 181.9h0.35v3.4h-0.35zM358.9 181.9h0.35v3.4h-0.35zM313.1 181.9h0.35v3.4h-0.35zM391.7 181.9h0.35v3.4h-0.35zM321.6 181.9h0.35v3.4h-0.35zM357.3 181.9h0.35v3.4h-0.35zM326.2 181.9h0.35v3.4h-0.35zM380.8 181.9h0.35v3.4h-0.35zM323.2 181.9h0.35v3.4h-0.35zM317.7 181.9h0.35v3.4h-0.35zM389.4 181.9h0.35v3.4h-0.35zM363.7 181.9h0.35v3.4h-0.35zM363.8 181.9h0.35v3.4h-0.35zM327.1 181.9h0.35v3.4h-0.35zM333.1 181.9h0.35v3.4h-0.35zM323.0 181.9h0.35v3.4h-0.35zM318.6 181.9h0.35v3.4h-0.35zM320.5 181.9h0.35v3.4h-0.35zM320.0 181.9h0.35v3.4h-0.35zM321.1 181.9h0.35v3.4h-0.35zM373.4 181.9h0.35v3.4h-0.35zM317.3 181.9h0.35v3.4h-0.35zM334.3 181.9h0.35v3.4h-0.35zM318.9 181.9h0.35v3.4h-0.35zM366.0 181.9h0.35v3.4h-0.35zM381.1 181.9h0.35v3.4h-0.35zM311.6 181.9h0.35v3.4h-0.35zM314.9 181.9h0.35v3.4h-0.35zM317.8 181.9h0.35v3.4h-0.35zM343.5 181.9h0.35v3.4h-0.35zM323.0 181.9h0.35v3.4h-0.35zM320.3 181.9h0.35v3.4h-0.35zM341.3 181.9h0.35v3.4h-0.35zM315.4 181.9h0.35v3.4h-0.35zM311.8 181.9h0.35v3.4h-0.35zM334.7 181.9h0.35v3.4h-0.35zM336.2 181.9h0.35v3.4h-0.35zM386.5 181.9h0.35v3.4h-0.35zM328.4 181.9h0.35v3.4h-0.35zM317.8 181.9h0.35v3.4h-0.35zM333.2 181.9h0.35v3.4h-0.35zM311.9 181.9h0.35v3.4h-0.35zM322.2 181.9h0.35v3.4h-0.35zM316.5 181.9h0.35v3.4h-0.35zM350.4 181.9h0.35v3.4h-0.35zM383.6 181.9h0.35v3.4h-0.35zM370.9 181.9h0.35v3.4h-0.35zM361.0 181.9h0.35v3.4h-0.35zM369.7 181.9h0.35v3.4h-0.35zM367.4 181.9h0.35v3.4h-0.35zM370.7 181.9h0.35v3.4h-0.35zM311.8 181.9h0.35v3.4h-0.35zM319.5 181.9h0.35v3.4h-0.35zM384.5 181.9h0.35v3.4h-0.35zM332.6 181.9h0.35v3.4h-0.35zM318.1 181.9h0.35v3.4h-0.35zM357.4 181.9h0.35v3.4h-0.35zM321.1 181.9h0.35v3.4h-0.35zM345.0 181.9h0.35v3.4h-0.35zM369.9 181.9h0.35v3.4h-0.35zM340.4 181.9h0.35v3.4h-0.35zM363.8 181.9h0.35v3.4h-0.35zM378.9 181.9h0.35v3.4h-0.35zM317.0 181.9h0.35v3.4h-0.35zM319.9 181.9h0.35v3.4h-0.35zM379.7 181.9h0.35v3.4h-0.35z" fill="#5a9cd0" fill-opacity="1"/><rect x="299.8" y="186.0" width="16" height="3.4" fill="url(#ro)"/><path d="M386.1 186.0h0.35v3.4h-0.35zM337.3 186.0h0.35v3.4h-0.35zM327.0 186.0h0.35v3.4h-0.35zM326.9 186.0h0.35v3.4h-0.35zM366.2 186.0h0.35v3.4h-0.35zM392.7 186.0h0.35v3.4h-0.35zM343.3 186.0h0.35v3.4h-0.35zM319.0 186.0h0.35v3.4h-0.35zM353.7 186.0h0.35v3.4h-0.35zM332.4 186.0h0.35v3.4h-0.35zM327.1 186.0h0.35v3.4h-0.35zM352.6 186.0h0.35v3.4h-0.35zM336.7 186.0h0.35v3.4h-0.35zM318.5 186.0h0.35v3.4h-0.35zM389.3 186.0h0.35v3.4h-0.35zM371.8 186.0h0.35v3.4h-0.35zM322.5 186.0h0.35v3.4h-0.35zM323.5 186.0h0.35v3.4h-0.35zM324.5 186.0h0.35v3.4h-0.35zM325.1 186.0h0.35v3.4h-0.35zM347.9 186.0h0.35v3.4h-0.35zM346.2 186.0h0.35v3.4h-0.35zM316.6 186.0h0.35v3.4h-0.35zM326.4 186.0h0.35v3.4h-0.35zM324.3 186.0h0.35v3.4h-0.35zM361.7 186.0h0.35v3.4h-0.35zM354.7 186.0h0.35v3.4h-0.35zM322.8 186.0h0.35v3.4h-0.35zM336.2 186.0h0.35v3.4h-0.35zM336.6 186.0h0.35v3.4h-0.35zM321.0 186.0h0.35v3.4h-0.35zM392.0 186.0h0.35v3.4h-0.35zM317.3 186.0h0.35v3.4h-0.35zM387.4 186.0h0.35v3.4h-0.35zM378.1 186.0h0.35v3.4h-0.35zM361.9 186.0h0.35v3.4h-0.35zM318.4 186.0h0.35v3.4h-0.35zM390.6 186.0h0.35v3.4h-0.35zM324.7 186.0h0.35v3.4h-0.35zM329.4 186.0h0.35v3.4h-0.35zM330.1 186.0h0.35v3.4h-0.35zM361.9 186.0h0.35v3.4h-0.35zM387.6 186.0h0.35v3.4h-0.35zM330.4 186.0h0.35v3.4h-0.35zM322.4 186.0h0.35v3.4h-0.35zM316.2 186.0h0.35v3.4h-0.35zM374.1 186.0h0.35v3.4h-0.35zM346.1 186.0h0.35v3.4h-0.35zM324.1 186.0h0.35v3.4h-0.35zM321.5 186.0h0.35v3.4h-0.35zM381.1 186.0h0.35v3.4h-0.35zM372.9 186.0h0.35v3.4h-0.35zM365.0 186.0h0.35v3.4h-0.35zM316.3 186.0h0.35v3.4h-0.35zM362.2 186.0h0.35v3.4h-0.35zM355.0 186.0h0.35v3.4h-0.35zM391.2 186.0h0.35v3.4h-0.35zM321.3 186.0h0.35v3.4h-0.35zM364.4 186.0h0.35v3.4h-0.35zM334.9 186.0h0.35v3.4h-0.35zM394.3 186.0h0.35v3.4h-0.35zM345.6 186.0h0.35v3.4h-0.35zM336.2 186.0h0.35v3.4h-0.35zM345.4 186.0h0.35v3.4h-0.35zM360.9 186.0h0.35v3.4h-0.35zM334.4 186.0h0.35v3.4h-0.35zM324.0 186.0h0.35v3.4h-0.35zM318.3 186.0h0.35v3.4h-0.35zM335.8 186.0h0.35v3.4h-0.35zM324.9 186.0h0.35v3.4h-0.35zM385.8 186.0h0.35v3.4h-0.35zM335.3 186.0h0.35v3.4h-0.35zM328.8 186.0h0.35v3.4h-0.35zM362.2 186.0h0.35v3.4h-0.35zM319.2 186.0h0.35v3.4h-0.35zM321.2 186.0h0.35v3.4h-0.35zM350.1 186.0h0.35v3.4h-0.35zM322.8 186.0h0.35v3.4h-0.35zM324.1 186.0h0.35v3.4h-0.35zM325.9 186.0h0.35v3.4h-0.35zM329.8 186.0h0.35v3.4h-0.35zM315.8 186.0h0.35v3.4h-0.35zM315.9 186.0h0.35v3.4h-0.35zM334.1 186.0h0.35v3.4h-0.35zM320.9 186.0h0.35v3.4h-0.35zM354.5 186.0h0.35v3.4h-0.35zM386.3 186.0h0.35v3.4h-0.35zM393.3 186.0h0.35v3.4h-0.35zM320.0 186.0h0.35v3.4h-0.35zM324.4 186.0h0.35v3.4h-0.35zM328.5 186.0h0.35v3.4h-0.35zM340.1 186.0h0.35v3.4h-0.35zM358.4 186.0h0.35v3.4h-0.35zM321.6 186.0h0.35v3.4h-0.35zM357.1 186.0h0.35v3.4h-0.35zM373.8 186.0h0.35v3.4h-0.35z" fill="#eeb070" fill-opacity="1"/><path d="M322.8 190.8h0.35v4.8h-0.35zM358.8 190.8h0.35v4.8h-0.35zM314.1 190.8h0.35v4.8h-0.35zM306.7 190.8h0.35v4.8h-0.35zM302.2 190.8h0.35v4.8h-0.35zM397.7 190.8h0.35v4.8h-0.35zM338.0 190.8h0.35v4.8h-0.35zM352.7 190.8h0.35v4.8h-0.35zM302.5 190.8h0.35v4.8h-0.35zM374.4 190.8h0.35v4.8h-0.35zM357.8 190.8h0.35v4.8h-0.35zM356.6 190.8h0.35v4.8h-0.35zM336.1 190.8h0.35v4.8h-0.35zM358.8 190.8h0.35v4.8h-0.35zM354.6 190.8h0.35v4.8h-0.35zM359.7 190.8h0.35v4.8h-0.35zM314.9 190.8h0.35v4.8h-0.35zM369.6 190.8h0.35v4.8h-0.35zM368.2 190.8h0.35v4.8h-0.35zM394.2 190.8h0.35v4.8h-0.35zM365.2 190.8h0.35v4.8h-0.35zM303.2 190.8h0.35v4.8h-0.35zM302.9 190.8h0.35v4.8h-0.35zM310.8 190.8h0.35v4.8h-0.35zM356.0 190.8h0.35v4.8h-0.35zM331.2 190.8h0.35v4.8h-0.35zM310.6 190.8h0.35v4.8h-0.35zM317.1 190.8h0.35v4.8h-0.35zM336.6 190.8h0.35v4.8h-0.35zM312.3 190.8h0.35v4.8h-0.35zM340.5 190.8h0.35v4.8h-0.35zM370.7 190.8h0.35v4.8h-0.35zM364.6 190.8h0.35v4.8h-0.35zM395.4 190.8h0.35v4.8h-0.35zM345.9 190.8h0.35v4.8h-0.35zM395.7 190.8h0.35v4.8h-0.35zM359.8 190.8h0.35v4.8h-0.35zM312.2 190.8h0.35v4.8h-0.35zM382.0 190.8h0.35v4.8h-0.35zM390.4 190.8h0.35v4.8h-0.35zM344.4 190.8h0.35v4.8h-0.35zM351.5 190.8h0.35v4.8h-0.35zM350.2 190.8h0.35v4.8h-0.35zM386.5 190.8h0.35v4.8h-0.35zM301.4 190.8h0.35v4.8h-0.35zM331.8 190.8h0.35v4.8h-0.35zM365.8 190.8h0.35v4.8h-0.35zM365.3 190.8h0.35v4.8h-0.35zM376.9 190.8h0.35v4.8h-0.35zM389.9 190.8h0.35v4.8h-0.35zM300.7 190.8h0.35v4.8h-0.35zM379.2 190.8h0.35v4.8h-0.35zM304.4 190.8h0.35v4.8h-0.35zM364.7 190.8h0.35v4.8h-0.35zM356.1 190.8h0.35v4.8h-0.35zM356.7 190.8h0.35v4.8h-0.35zM369.1 190.8h0.35v4.8h-0.35zM379.0 190.8h0.35v4.8h-0.35zM370.7 190.8h0.35v4.8h-0.35zM354.5 190.8h0.35v4.8h-0.35zM330.9 190.8h0.35v4.8h-0.35zM339.4 190.8h0.35v4.8h-0.35zM299.8 190.8h0.35v4.8h-0.35zM348.5 190.8h0.35v4.8h-0.35zM331.4 190.8h0.35v4.8h-0.35zM368.4 190.8h0.35v4.8h-0.35zM311.3 190.8h0.35v4.8h-0.35zM390.2 190.8h0.35v4.8h-0.35zM393.7 190.8h0.35v4.8h-0.35zM306.9 190.8h0.35v4.8h-0.35zM299.9 190.8h0.35v4.8h-0.35zM318.1 190.8h0.35v4.8h-0.35zM370.2 190.8h0.35v4.8h-0.35zM362.7 190.8h0.35v4.8h-0.35zM367.4 190.8h0.35v4.8h-0.35zM367.0 190.8h0.35v4.8h-0.35zM302.7 190.8h0.35v4.8h-0.35zM385.9 190.8h0.35v4.8h-0.35zM304.9 190.8h0.35v4.8h-0.35zM388.4 190.8h0.35v4.8h-0.35zM319.2 190.8h0.35v4.8h-0.35zM340.5 190.8h0.35v4.8h-0.35zM300.3 190.8h0.35v4.8h-0.35zM382.2 190.8h0.35v4.8h-0.35zM363.9 190.8h0.35v4.8h-0.35zM326.8 190.8h0.35v4.8h-0.35zM302.1 190.8h0.35v4.8h-0.35zM350.4 190.8h0.35v4.8h-0.35zM373.9 190.8h0.35v4.8h-0.35zM358.6 190.8h0.35v4.8h-0.35zM334.5 190.8h0.35v4.8h-0.35zM357.9 190.8h0.35v4.8h-0.35zM331.6 190.8h0.35v4.8h-0.35zM301.0 190.8h0.35v4.8h-0.35zM355.9 190.8h0.35v4.8h-0.35zM378.2 190.8h0.35v4.8h-0.35zM373.8 190.8h0.35v4.8h-0.35zM324.6 190.8h0.35v4.8h-0.35zM393.9 190.8h0.35v4.8h-0.35zM391.2 190.8h0.35v4.8h-0.35zM376.9 190.8h0.35v4.8h-0.35zM345.7 190.8h0.35v4.8h-0.35z" fill="#7a8484" fill-opacity="0.85"/><rect x="378.2" y="190.8" width="20.4" height="4.8" fill="#34504f"/><path d="M366.4 196.2h0.35v3.4h-0.35zM342.9 196.2h0.35v3.4h-0.35zM327.4 196.2h0.35v3.4h-0.35zM348.7 196.2h0.35v3.4h-0.35zM386.5 196.2h0.35v3.4h-0.35zM320.4 196.2h0.35v3.4h-0.35zM336.5 196.2h0.35v3.4h-0.35zM376.2 196.2h0.35v3.4h-0.35zM348.1 196.2h0.35v3.4h-0.35zM326.5 196.2h0.35v3.4h-0.35zM306.5 196.2h0.35v3.4h-0.35zM300.6 196.2h0.35v3.4h-0.35zM398.4 196.2h0.35v3.4h-0.35zM376.0 196.2h0.35v3.4h-0.35zM303.1 196.2h0.35v3.4h-0.35zM359.5 196.2h0.35v3.4h-0.35zM310.8 196.2h0.35v3.4h-0.35zM344.7 196.2h0.35v3.4h-0.35zM324.8 196.2h0.35v3.4h-0.35zM317.9 196.2h0.35v3.4h-0.35zM368.0 196.2h0.35v3.4h-0.35zM319.5 196.2h0.35v3.4h-0.35zM349.7 196.2h0.35v3.4h-0.35zM341.0 196.2h0.35v3.4h-0.35zM336.7 196.2h0.35v3.4h-0.35zM302.3 196.2h0.35v3.4h-0.35zM322.8 196.2h0.35v3.4h-0.35zM332.2 196.2h0.35v3.4h-0.35zM364.5 196.2h0.35v3.4h-0.35zM379.2 196.2h0.35v3.4h-0.35zM304.3 196.2h0.35v3.4h-0.35zM367.9 196.2h0.35v3.4h-0.35zM328.4 196.2h0.35v3.4h-0.35zM306.1 196.2h0.35v3.4h-0.35zM377.6 196.2h0.35v3.4h-0.35zM310.1 196.2h0.35v3.4h-0.35zM376.2 196.2h0.35v3.4h-0.35zM388.3 196.2h0.35v3.4h-0.35zM369.4 196.2h0.35v3.4h-0.35zM351.3 196.2h0.35v3.4h-0.35zM371.3 196.2h0.35v3.4h-0.35zM311.6 196.2h0.35v3.4h-0.35zM322.5 196.2h0.35v3.4h-0.35zM366.2 196.2h0.35v3.4h-0.35zM347.0 196.2h0.35v3.4h-0.35zM329.5 196.2h0.35v3.4h-0.35zM332.2 196.2h0.35v3.4h-0.35zM384.0 196.2h0.35v3.4h-0.35zM334.5 196.2h0.35v3.4h-0.35zM305.5 196.2h0.35v3.4h-0.35zM347.5 196.2h0.35v3.4h-0.35zM309.3 196.2h0.35v3.4h-0.35zM374.2 196.2h0.35v3.4h-0.35zM303.7 196.2h0.35v3.4h-0.35zM305.0 196.2h0.35v3.4h-0.35zM316.8 196.2h0.35v3.4h-0.35zM309.2 196.2h0.35v3.4h-0.35zM386.9 196.2h0.35v3.4h-0.35zM314.4 196.2h0.35v3.4h-0.35zM398.0 196.2h0.35v3.4h-0.35zM306.9 196.2h0.35v3.4h-0.35zM321.2 196.2h0.35v3.4h-0.35zM342.0 196.2h0.35v3.4h-0.35zM317.6 196.2h0.35v3.4h-0.35zM363.1 196.2h0.35v3.4h-0.35zM353.5 196.2h0.35v3.4h-0.35zM374.4 196.2h0.35v3.4h-0.35zM333.4 196.2h0.35v3.4h-0.35zM356.3 196.2h0.35v3.4h-0.35zM374.5 196.2h0.35v3.4h-0.35zM390.3 196.2h0.35v3.4h-0.35zM361.9 196.2h0.35v3.4h-0.35zM369.7 196.2h0.35v3.4h-0.35zM319.2 196.2h0.35v3.4h-0.35zM363.5 196.2h0.35v3.4h-0.35zM328.3 196.2h0.35v3.4h-0.35zM350.6 196.2h0.35v3.4h-0.35zM377.8 196.2h0.35v3.4h-0.35zM345.5 196.2h0.35v3.4h-0.35zM393.3 196.2h0.35v3.4h-0.35zM395.5 196.2h0.35v3.4h-0.35zM391.5 196.2h0.35v3.4h-0.35zM363.3 196.2h0.35v3.4h-0.35zM388.4 196.2h0.35v3.4h-0.35zM324.0 196.2h0.35v3.4h-0.35zM344.8 196.2h0.35v3.4h-0.35zM311.3 196.2h0.35v3.4h-0.35zM328.7 196.2h0.35v3.4h-0.35zM312.2 196.2h0.35v3.4h-0.35zM331.5 196.2h0.35v3.4h-0.35zM319.6 196.2h0.35v3.4h-0.35zM323.8 196.2h0.35v3.4h-0.35zM320.2 196.2h0.35v3.4h-0.35zM321.1 196.2h0.35v3.4h-0.35zM343.4 196.2h0.35v3.4h-0.35zM322.5 196.2h0.35v3.4h-0.35zM373.8 196.2h0.35v3.4h-0.35zM365.0 196.2h0.35v3.4h-0.35zM307.8 196.2h0.35v3.4h-0.35zM329.7 196.2h0.35v3.4h-0.35zM338.8 196.2h0.35v3.4h-0.35zM362.9 196.2h0.35v3.4h-0.35zM355.5 196.2h0.35v3.4h-0.35zM323.5 196.2h0.35v3.4h-0.35zM356.8 196.2h0.35v3.4h-0.35zM325.5 196.2h0.35v3.4h-0.35zM321.8 196.2h0.35v3.4h-0.35zM377.6 196.2h0.35v3.4h-0.35zM339.8 196.2h0.35v3.4h-0.35zM300.5 196.2h0.35v3.4h-0.35zM389.4 196.2h0.35v3.4h-0.35zM314.4 196.2h0.35v3.4h-0.35zM367.5 196.2h0.35v3.4h-0.35zM371.6 196.2h0.35v3.4h-0.35zM350.9 196.2h0.35v3.4h-0.35zM352.1 196.2h0.35v3.4h-0.35zM330.1 196.2h0.35v3.4h-0.35zM377.6 196.2h0.35v3.4h-0.35zM391.4 196.2h0.35v3.4h-0.35zM325.4 196.2h0.35v3.4h-0.35z" fill="#d88894" fill-opacity="1"/><path d="M299.7 217.7 L299.7 209.5 C301.5 212.5 303.5 215.2 307 216.1 L320 216.9 L394 217.4 L398.6 221.4 L398.6 217.7 Z" fill="#d4d4d4" stroke="#b0b0b0" stroke-width="0.3"/><line x1="299.4" y1="217.7" x2="398.6" y2="217.7" stroke="#b8b8b8" stroke-width="0.3"/><path d="M298.5 201.8h0.9M298.5 209.5h0.9M298.5 217.7h0.9M298.5 225.8h0.9" stroke="#444" stroke-width="0.4"/><text x="298.0" y="202.5" font-size="1.9" fill="#333" font-weight="normal" text-anchor="end" stroke="#333" stroke-width="0.24">1.0</text><text x="298.0" y="210.2" font-size="1.9" fill="#333" font-weight="normal" text-anchor="end" stroke="#333" stroke-width="0.24">0.5</text><text x="298.0" y="218.39999999999998" font-size="1.9" fill="#333" font-weight="normal" text-anchor="end" stroke="#333" stroke-width="0.24">0.0</text><text x="298.0" y="226.5" font-size="1.9" fill="#333" font-weight="normal" text-anchor="end" stroke="#333" stroke-width="0.24">-0.5</text><text x="293.4" y="215.4" font-size="2.65" fill="#444" font-weight="normal" text-anchor="middle" transform="rotate(-90 293.4 215.4)" stroke="#444" stroke-width="0.2">Ranked List Metric</text><text x="325.2" y="232.3" font-size="2.2" fill="#333" font-weight="normal" text-anchor="middle" stroke="#333" stroke-width="0.24">5000</text><text x="348.2" y="232.3" font-size="2.2" fill="#333" font-weight="normal" text-anchor="middle" stroke="#333" stroke-width="0.24">10000</text><text x="374" y="232.3" font-size="2.2" fill="#333" font-weight="normal" text-anchor="middle" stroke="#333" stroke-width="0.24">15000</text><text x="397.2" y="232.3" font-size="2.2" fill="#333" font-weight="normal" text-anchor="middle" stroke="#333" stroke-width="0.24">20000</text><path d="M325.2 229.3v0.9M348.2 229.3v0.9M374 229.3v0.9M397.2 229.3v0.9" stroke="#444" stroke-width="0.4"/><text x="349" y="234.9" font-size="2.7" fill="#222" font-weight="normal" text-anchor="middle" stroke="#222" stroke-width="0.22">Rank in Ordered Dataset</text></svg></body></html>
